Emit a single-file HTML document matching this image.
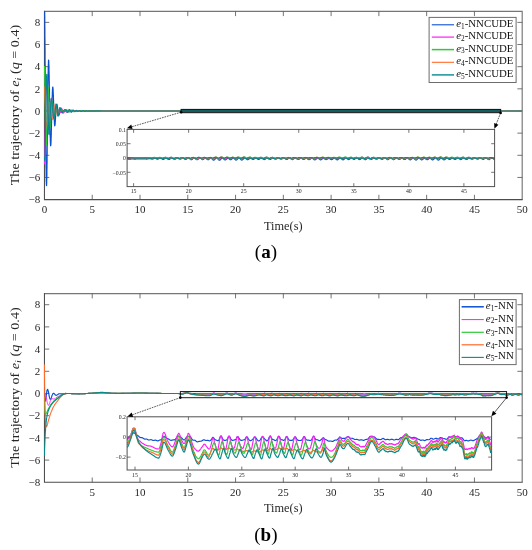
<!DOCTYPE html>
<html lang="en"><head><meta charset="utf-8"><title>Trajectory of e_i (q = 0.4)</title>
<style>
html,body{margin:0;padding:0;background:#fff;}
svg{display:block;}
text{font-family:"Liberation Serif",serif;fill:#262626;}
.tk{font-size:11px;}
.lb{font-size:12px;}
.lg{font-size:10.6px;fill:#111;}
.sm{font-size:5.8px;}
.it{font-style:italic;}
.cap{font-size:19px;fill:#000;}
.capb{font-weight:bold;}
</style></head><body>
<svg width="532" height="550" viewBox="0 0 532 550">
<rect width="532" height="550" fill="#fff"/>
<clipPath id="ca"><rect x="43.75" y="11.3" width="478.45000000000005" height="188.29999999999998"/></clipPath>
<path d="M44.45 11.3H522.2V199.6" fill="none" stroke="#767676" stroke-width="1.15"/>
<path d="M44.45 10.8V199.6H522.7" fill="none" stroke="#4c4c4c" stroke-width="1.05"/>
<path d="M92.23 199.6v-4.8M92.23 11.3v4.8M140.00 199.6v-4.8M140.00 11.3v4.8M187.78 199.6v-4.8M187.78 11.3v4.8M235.55 199.6v-4.8M235.55 11.3v4.8M283.33 199.6v-4.8M283.33 11.3v4.8M331.10 199.6v-4.8M331.10 11.3v4.8M378.88 199.6v-4.8M378.88 11.3v4.8M426.65 199.6v-4.8M426.65 11.3v4.8M474.43 199.6v-4.8M474.43 11.3v4.8M44.45 177.45h4.8M522.2 177.45h-4.8M44.45 155.29h4.8M522.2 155.29h-4.8M44.45 133.14h4.8M522.2 133.14h-4.8M44.45 110.99h4.8M522.2 110.99h-4.8M44.45 88.84h4.8M522.2 88.84h-4.8M44.45 66.68h4.8M522.2 66.68h-4.8M44.45 44.53h4.8M522.2 44.53h-4.8M44.45 22.38h4.8M522.2 22.38h-4.8" stroke="#505050" stroke-width="0.8" fill="none"/>
<g clip-path="url(#ca)">
<path d="M44.5 0.2L44.5 1.2L44.5 2.5L44.6 4.2L44.6 6.2L44.6 8.5L44.7 11L44.7 13.9L44.8 17L44.8 20.4L44.8 24.1L44.9 27.9L44.9 32L44.9 36.3L45 40.7L45 45.3L45.1 50.1L45.1 55L45.1 60L45.2 65L45.2 70.2L45.3 75.4L45.3 80.7L45.3 86L45.4 91.2L45.4 96.5L45.4 101.8L45.5 107L45.5 112.1L45.6 117.2L45.6 122.1L45.6 127L45.7 131.8L45.7 136.4L45.8 140.8L45.8 145.1L45.8 149.3L45.9 153.2L45.9 157L45.9 160.5L46 163.9L46 167L46.1 169.9L46.1 172.6L46.1 175L46.2 177.2L46.2 179.2L46.2 180.9L46.3 182.3L46.3 183.5L46.4 184.5L46.4 185.1L46.4 185.6L46.6 185.4L46.6 184.9L46.6 184.2L46.7 183.2L46.7 182L46.7 180.5L46.8 178.9L46.8 177.1L46.9 175.1L46.9 172.9L46.9 170.5L47 168L47 165.3L47.1 162.5L47.1 159.5L47.1 156.5L47.2 153.3L47.2 150L47.2 146.7L47.3 143.3L47.3 139.8L47.4 136.3L47.4 132.7L47.4 129.1L47.5 125.6L47.5 122L47.5 118.4L47.6 114.9L47.6 111.3L47.7 107.9L47.7 104.5L47.7 101.1L47.8 97.9L47.8 94.7L47.9 91.6L47.9 88.7L47.9 85.8L48 83.1L48 80.5L48 78L48.1 75.7L48.1 73.5L48.2 71.4L48.2 69.6L48.2 67.9L48.3 66.3L48.3 64.9L48.4 63.7L48.4 62.7L48.4 61.8L48.5 61.1L48.5 60.6L48.5 60.3L48.6 60.1L48.7 60.6L48.7 61.1L48.8 61.7L48.8 62.5L48.8 63.5L48.9 64.6L48.9 65.8L49 67.1L49 68.6L49 70.2L49.1 72L49.1 73.8L49.2 75.7L49.2 77.7L49.2 79.8L49.3 82L49.3 84.2L49.3 86.5L49.4 88.8L49.4 91.2L49.5 93.7L49.5 96.1L49.5 98.6L49.6 101L49.6 103.5L49.7 105.9L49.7 108.4L49.7 110.8L49.8 113.2L49.8 115.5L49.8 117.8L49.9 120.1L49.9 122.3L50 124.4L50 126.4L50 128.4L50.1 130.3L50.1 132.1L50.1 133.8L50.2 135.4L50.2 136.9L50.3 138.2L50.3 139.5L50.3 140.7L50.4 141.8L50.4 142.7L50.5 143.5L50.5 144.2L50.5 144.8L50.6 145.3L50.6 145.6L50.6 145.8L50.8 145.5L50.8 145.2L50.9 144.7L50.9 144.1L51 143.5L51 142.7L51 141.8L51.1 140.9L51.1 139.8L51.1 138.7L51.2 137.5L51.2 136.2L51.3 134.8L51.3 133.4L51.3 132L51.4 130.5L51.4 128.9L51.4 127.3L51.5 125.7L51.5 124L51.6 122.3L51.6 120.7L51.6 119L51.7 117.2L51.7 115.5L51.8 113.8L51.8 112.2L51.8 110.5L51.9 108.9L51.9 107.2L51.9 105.7L52 104.1L52 102.6L52.1 101.2L52.1 99.8L52.1 98.5L52.2 97.2L52.2 96L52.3 94.8L52.3 93.8L52.3 92.8L52.4 91.8L52.4 91L52.4 90.2L52.5 89.5L52.5 88.9L52.6 88.4L52.6 87.9L52.6 87.6L52.7 87.3L52.7 87L52.9 87.2L52.9 87.4L52.9 87.7L53 88L53 88.5L53.1 89L53.1 89.5L53.1 90.2L53.2 90.9L53.2 91.6L53.2 92.5L53.3 93.3L53.3 94.2L53.4 95.2L53.4 96.2L53.4 97.2L53.5 98.3L53.5 99.4L53.6 100.5L53.6 101.7L53.6 102.8L53.7 104L53.7 105.2L53.7 106.4L53.8 107.5L53.8 108.7L53.9 109.9L53.9 111L53.9 112.1L54 113.2L54 114.3L54 115.4L54.1 116.4L54.1 117.3L54.2 118.3L54.2 119.1L54.2 120L54.3 120.8L54.3 121.5L54.4 122.2L54.4 122.8L54.4 123.4L54.5 123.9L54.5 124.3L54.5 124.7L54.6 125L54.6 125.3L54.7 125.5L54.7 125.8L54.9 125.6L55 125.2L55 125L55 124.6L55.1 124.3L55.1 123.9L55.2 123.5L55.2 123L55.2 122.5L55.3 122L55.3 121.4L55.3 120.8L55.4 120.3L55.4 119.6L55.5 119L55.5 118.4L55.5 117.7L55.6 117L55.6 116.4L55.7 115.7L55.7 115.1L55.7 114.4L55.8 113.7L55.8 113.1L55.8 112.5L55.9 111.8L55.9 111.2L56 110.6L56 110.1L56 109.5L56.1 109L56.1 108.5L56.2 108L56.2 107.5L56.2 107.1L56.3 106.7L56.3 106.3L56.3 106L56.4 105.7L56.4 105.4L56.5 105.1L56.5 104.9L56.6 104.5L56.7 104.2L56.8 104.1L56.9 104.2L57 104.4L57.1 104.7L57.1 105.1L57.2 105.3L57.2 105.5L57.3 105.7L57.3 106L57.3 106.2L57.4 106.5L57.4 106.8L57.5 107.1L57.5 107.4L57.5 107.7L57.6 108L57.6 108.3L57.6 108.6L57.7 109L57.7 109.3L57.8 109.6L57.8 109.9L57.8 110.2L57.9 110.6L57.9 110.9L58 111.2L58 111.5L58 111.8L58.1 112.1L58.1 112.4L58.1 112.6L58.2 112.9L58.2 113.2L58.3 113.4L58.3 113.6L58.3 113.9L58.4 114.1L58.4 114.4L58.5 114.7L58.6 115L58.7 115.2L58.8 115.3L59 115.2L59.1 115L59.2 114.8L59.3 114.5L59.3 114.2L59.4 113.8L59.5 113.5L59.5 113.3L59.6 113L59.6 112.8L59.6 112.6L59.7 112.4L59.7 112.2L59.7 111.9L59.8 111.7L59.8 111.5L59.9 111.3L59.9 111.1L59.9 110.8L60 110.6L60 110.4L60.1 110.2L60.1 109.8L60.2 109.5L60.3 109.1L60.4 108.8L60.4 108.6L60.5 108.4L60.6 108.2L60.8 108L61 108.1L61.1 108.3L61.2 108.5L61.3 108.7L61.4 109L61.4 109.2L61.5 109.5L61.6 109.8L61.7 110.1L61.7 110.4L61.8 110.7L61.9 111L62 111.3L62 111.6L62.1 111.9L62.2 112.1L62.3 112.3L62.3 112.5L62.5 112.8L62.6 112.9L62.7 113L62.9 112.9L63.1 112.8L63.2 112.6L63.3 112.3L63.4 112.1L63.5 111.9L63.5 111.7L63.6 111.5L63.7 111.3L63.8 111.1L63.8 110.9L63.9 110.7L64 110.5L64.1 110.3L64.2 110.1L64.3 109.9L64.4 109.8L64.6 109.6L64.8 109.7L65 109.8L65.1 109.9L65.2 110.1L65.3 110.3L65.4 110.5L65.6 110.7L65.7 111L65.8 111.2L65.9 111.4L66 111.5L66.1 111.7L66.3 111.8L66.5 111.9L66.7 111.9L66.9 111.8L67 111.7L67.1 111.5L67.2 111.4L67.4 111.2L67.5 111.1L67.6 110.9L67.7 110.8L67.8 110.6L68 110.5L68.1 110.4L68.3 110.3L68.5 110.3L68.7 110.4L68.9 110.5L69 110.7L69.2 110.8L69.3 111L69.5 111.1L69.7 111.3L69.8 111.4L70 111.5L70.2 111.5L70.5 111.5L70.6 111.4L70.8 111.3L71 111.2L71.1 111L71.3 110.9L71.4 110.8L71.6 110.7L71.8 110.6L72 110.5L72.2 110.5L72.4 110.6L72.6 110.7L72.8 110.8L72.9 110.9L73.1 111.1L73.2 111.2L73.4 111.3L73.6 111.3L73.7 111.4L74 111.4L74.2 111.3L74.4 111.3L74.5 111.2L74.7 111.1L74.9 111L75 110.9L75.2 110.8L75.4 110.7L75.5 110.6L75.8 110.6L76 110.6L76.2 110.7L76.4 110.8L76.5 110.9L76.7 111L76.8 111.1L77 111.2L77.2 111.3L77.4 111.3L77.6 111.3L77.9 111.3L78.1 111.3L78.3 111.2L78.5 111.1L78.6 111L78.8 110.9L79 110.8L79.2 110.7L79.4 110.7L79.7 110.7L79.9 110.7L80.1 110.8L80.3 110.9L80.5 111L80.7 111.1L80.9 111.2L81.1 111.2L81.3 111.3L81.6 111.3L81.8 111.2L82 111.2L82.2 111.1L82.4 111L82.6 110.9L82.8 110.8L83 110.8L83.2 110.7L83.5 110.7L83.7 110.8L83.9 110.8L84.1 110.9L84.3 111L84.5 111L84.7 111.1L84.9 111.2L85.1 111.2L85.4 111.2L85.6 111.2L85.8 111.1L86 111.1L86.2 111L86.4 110.9L86.6 110.9L86.8 110.8L87.1 110.8L87.3 110.8L87.6 110.8L87.8 110.9L88 110.9L88.2 111L88.4 111L88.6 111.1L88.8 111.1L89 111.1L89.3 111.1L89.5 111.1L89.8 111.1L90 111L90.2 111L90.5 110.9L90.7 110.9L90.9 110.9L91.2 110.9L91.4 110.9L91.6 110.9L91.9 111L92.1 111L92.3 111L92.6 111.1L92.8 111.1L93.1 111.1L93.3 111.1L93.5 111.1L93.7 111L94 111L94.2 110.9L94.4 110.9L94.7 110.9L94.9 110.9L95.2 110.9L95.4 110.9L95.7 111L95.9 111L96.1 111L96.3 111.1L96.6 111.1L96.8 111.1L97.1 111.1L97.3 111L97.6 111L97.8 111L98 111L98.3 110.9L98.5 110.9L98.8 110.9L99 110.9L99.3 110.9L99.5 111L99.7 111L99.9 111L100.2 111L100.4 111L100.7 111L100.9 111L101.2 111L101.4 111L101.6 111L105.3 111L108.8 111L112.4 111L115.9 111L119.4 111L123 111L126.5 111L130 111L133.6 111L137.1 111L140.6 111L144.2 111L147.7 111L151.2 111L154.8 111L158.3 111L161.8 111L165.4 111L168.9 111L172.4 111L176 111L179.5 111L183 111L186.6 111L190.1 111L193.6 111L197.2 111L200.7 111L204.2 111L207.8 111L211.3 111L214.8 111L218.4 111L221.9 111L225.4 111L229 111L232.5 111L236 111L239.6 111L243.1 111L246.6 111L250.2 111L253.7 111L257.2 111L260.8 111L264.3 111L267.8 111L271.4 111L274.9 111L278.4 111L282 111L285.5 111L289 111L292.6 111L296.1 111L299.6 111L303.2 111L306.7 111L310.2 111L313.8 111L317.3 111L320.8 111L324.4 111L327.9 111L331.4 111L335 111L338.5 111L342 111L345.6 111L349.1 111L352.6 111L356.2 111L359.7 111L363.2 111L366.8 111L370.3 111L373.8 111L377.3 111L380.9 111L384.4 111L387.9 111L391.5 111L395 111L398.5 111L402.1 111L405.6 111L409.1 111L412.7 111L416.2 111L419.7 111L423.3 111L426.8 111L430.3 111L433.9 111L437.4 111L440.9 111L444.5 111L448 111L451.5 111L455.1 111L458.6 111L462.1 111L465.7 111L469.2 111L472.7 111L476.3 111L479.8 111L483.3 111L486.9 111L490.4 111L493.9 111L497.5 111L501 111L504.5 111L508.1 111L511.6 111L515.1 111L518.7 111L522.2 111" fill="none" stroke="#0a50d2" stroke-width="1.15" stroke-linejoin="round" />
<path d="M44.5 164.2L44.5 163.5L44.5 162.7L44.6 161.8L44.6 160.7L44.6 159.6L44.7 158.3L44.7 157L44.8 155.6L44.8 154L44.8 152.4L44.9 150.8L44.9 149L44.9 147.2L45 145.4L45 143.5L45.1 141.6L45.1 139.6L45.1 137.6L45.2 135.6L45.2 133.6L45.3 131.6L45.3 129.6L45.3 127.5L45.4 125.5L45.4 123.5L45.4 121.5L45.5 119.5L45.5 117.6L45.6 115.7L45.6 113.8L45.6 112L45.7 110.2L45.7 108.4L45.8 106.7L45.8 105L45.8 103.4L45.9 101.9L45.9 100.4L45.9 99L46 97.6L46 96.3L46.1 95.1L46.1 93.9L46.1 92.8L46.2 91.7L46.2 90.8L46.2 89.8L46.3 89L46.3 88.2L46.4 87.5L46.4 86.9L46.4 86.3L46.5 85.8L46.5 85.3L46.6 85L46.6 84.7L46.6 84.4L46.7 84.1L46.9 84.2L46.9 84.6L47 84.9L47 85.2L47.1 85.6L47.1 86L47.1 86.5L47.2 87L47.2 87.6L47.2 88.2L47.3 88.8L47.3 89.5L47.4 90.2L47.4 91L47.4 91.8L47.5 92.6L47.5 93.4L47.5 94.3L47.6 95.2L47.6 96.1L47.7 97.1L47.7 98L47.7 99L47.8 100L47.8 101L47.9 102.1L47.9 103.1L47.9 104.1L48 105.2L48 106.2L48 107.3L48.1 108.3L48.1 109.3L48.2 110.4L48.2 111.4L48.2 112.4L48.3 113.4L48.3 114.4L48.4 115.4L48.4 116.4L48.4 117.3L48.5 118.2L48.5 119.1L48.5 119.9L48.6 120.8L48.6 121.6L48.7 122.4L48.7 123.1L48.7 123.8L48.8 124.5L48.8 125.1L48.8 125.7L48.9 126.2L48.9 126.7L49 127.2L49 127.6L49 127.9L49.1 128.2L49.1 128.5L49.2 128.7L49.2 129L49.4 128.9L49.5 128.5L49.5 128.3L49.6 128L49.6 127.6L49.7 127.2L49.7 126.8L49.7 126.3L49.8 125.8L49.8 125.2L49.8 124.6L49.9 124L49.9 123.4L50 122.7L50 122L50 121.2L50.1 120.5L50.1 119.7L50.1 118.9L50.2 118L50.2 117.2L50.3 116.4L50.3 115.5L50.3 114.7L50.4 113.8L50.4 112.9L50.5 112.1L50.5 111.2L50.5 110.4L50.6 109.6L50.6 108.7L50.6 107.9L50.7 107.1L50.7 106.4L50.8 105.6L50.8 104.9L50.8 104.2L50.9 103.6L50.9 102.9L51 102.3L51 101.8L51 101.3L51.1 100.8L51.1 100.3L51.1 99.9L51.2 99.5L51.2 99.2L51.3 98.9L51.3 98.7L51.4 98.3L51.4 98.1L51.6 98.3L51.7 98.6L51.7 98.8L51.8 99.1L51.8 99.3L51.8 99.7L51.9 100L51.9 100.4L51.9 100.8L52 101.3L52 101.8L52.1 102.3L52.1 102.8L52.1 103.3L52.2 103.9L52.2 104.4L52.3 105L52.3 105.6L52.3 106.2L52.4 106.8L52.4 107.4L52.4 108L52.5 108.6L52.5 109.2L52.6 109.8L52.6 110.4L52.6 111L52.7 111.6L52.7 112.1L52.7 112.7L52.8 113.2L52.8 113.7L52.9 114.2L52.9 114.7L52.9 115.1L53 115.5L53 115.9L53.1 116.3L53.1 116.6L53.1 116.9L53.2 117.2L53.2 117.5L53.2 117.7L53.3 118.1L53.4 118.3L53.5 118.4L53.7 118.2L53.7 118L53.8 117.6L53.9 117.4L53.9 117.2L53.9 117L54 116.7L54 116.4L54 116.1L54.1 115.8L54.1 115.5L54.2 115.2L54.2 114.9L54.2 114.5L54.3 114.2L54.3 113.9L54.4 113.5L54.4 113.2L54.4 112.9L54.5 112.5L54.5 112.2L54.5 111.9L54.6 111.5L54.6 111.2L54.7 110.9L54.7 110.6L54.7 110.4L54.8 110.1L54.8 109.9L54.9 109.6L54.9 109.4L54.9 109.2L55 108.8L55.1 108.5L55.2 108.3L55.2 108.1L55.3 108L55.5 108L55.7 108.2L55.7 108.4L55.8 108.7L55.9 108.9L56 109.2L56 109.5L56.1 109.8L56.2 110L56.3 110.3L56.3 110.6L56.4 110.8L56.5 111L56.6 111.2L56.7 111.4L56.8 111.6L57 111.7L57.1 111.6L57.3 111.4L57.4 111.2L57.5 111L57.6 110.8L57.7 110.6L57.8 110.3L58 110.2L58.1 110L58.3 110L58.4 110.1L58.6 110.2L58.7 110.4L58.8 110.6L58.8 110.8L58.9 111L59 111.2L59.1 111.4L59.1 111.6L59.2 111.8L59.3 112.1L59.4 112.3L59.4 112.4L59.6 112.7L59.7 112.9L59.8 113L60.1 112.9L60.2 112.8L60.3 112.5L60.4 112.3L60.4 112.1L60.5 111.9L60.6 111.6L60.7 111.4L60.7 111.1L60.8 110.8L60.9 110.5L61 110.2L61 110L61.1 109.7L61.2 109.5L61.3 109.3L61.4 109.1L61.5 108.9L61.6 108.8L61.9 108.8L62 109L62.1 109.2L62.2 109.4L62.2 109.6L62.3 109.8L62.4 110.1L62.5 110.3L62.5 110.6L62.6 110.9L62.7 111.2L62.8 111.4L62.8 111.7L62.9 111.9L63 112.2L63.1 112.4L63.2 112.5L63.3 112.7L63.4 112.9L63.6 112.9L63.7 112.8L63.8 112.7L64 112.5L64 112.3L64.1 112.1L64.2 111.9L64.3 111.6L64.3 111.4L64.4 111.2L64.5 111L64.6 110.7L64.6 110.5L64.7 110.3L64.8 110.1L64.9 110L65 109.8L65.1 109.6L65.3 109.5L65.5 109.6L65.6 109.7L65.8 109.9L65.9 110.1L66 110.4L66.1 110.6L66.1 110.7L66.2 110.9L66.3 111.1L66.4 111.3L66.5 111.5L66.6 111.7L66.7 111.9L66.9 112L67.1 112.1L67.2 112L67.4 111.9L67.5 111.7L67.6 111.5L67.7 111.3L67.9 111.1L68 110.9L68.1 110.7L68.2 110.6L68.3 110.4L68.5 110.2L68.6 110.2L68.9 110.2L69 110.3L69.2 110.4L69.3 110.6L69.4 110.7L69.5 110.9L69.7 111.1L69.8 111.2L69.9 111.4L70 111.5L70.2 111.6L70.3 111.7L70.6 111.7L70.7 111.6L70.9 111.5L71 111.4L71.1 111.2L71.2 111.1L71.3 110.9L71.5 110.8L71.6 110.6L71.7 110.5L71.9 110.4L72.1 110.3L72.3 110.3L72.5 110.4L72.6 110.6L72.8 110.7L72.9 110.9L73 111L73.1 111.1L73.2 111.3L73.4 111.4L73.6 111.5L73.7 111.6L74 111.6L74.2 111.5L74.4 111.4L74.5 111.2L74.7 111.1L74.8 110.9L75 110.8L75.1 110.6L75.3 110.5L75.5 110.5L75.7 110.5L75.9 110.5L76.1 110.6L76.2 110.8L76.4 110.9L76.5 111L76.7 111.2L76.8 111.3L77 111.4L77.2 111.4L77.5 111.4L77.7 111.3L77.8 111.3L78 111.1L78.1 111L78.3 110.9L78.5 110.8L78.6 110.7L78.8 110.6L79 110.6L79.3 110.6L79.4 110.7L79.6 110.8L79.8 110.9L79.9 111L80.1 111.1L80.3 111.2L80.5 111.3L80.7 111.3L80.9 111.3L81.1 111.2L81.3 111.2L81.5 111.1L81.7 111L81.9 110.9L82.1 110.8L82.3 110.7L82.5 110.7L82.7 110.7L82.9 110.8L83.1 110.9L83.3 111L83.5 111.1L83.7 111.1L83.9 111.2L84.1 111.2L84.4 111.2L84.6 111.2L84.8 111.1L85 111L85.2 110.9L85.4 110.9L85.6 110.8L85.8 110.8L86.1 110.8L86.3 110.8L86.5 110.9L86.7 110.9L86.9 111L87.1 111.1L87.2 111.1L87.5 111.2L87.7 111.2L88 111.1L88.2 111.1L88.4 111L88.6 111L88.8 110.9L89 110.9L89.2 110.8L89.5 110.8L89.7 110.9L90 110.9L90.2 111L90.4 111L90.7 111.1L90.9 111.1L91.1 111.1L91.4 111.1L91.6 111.1L91.8 111L92.1 111L92.3 110.9L92.5 110.9L92.8 110.9L93 110.9L93.3 110.9L93.5 111L93.7 111L93.9 111L94.2 111.1L94.4 111.1L94.7 111.1L94.9 111.1L95.1 111L95.4 111L95.6 111L95.8 110.9L96 110.9L96.3 110.9L96.5 110.9L96.8 110.9L97 111L97.2 111L97.5 111L97.7 111.1L98 111.1L98.2 111.1L98.5 111L98.7 111L98.9 111L99.1 111L99.4 110.9L99.6 110.9L99.9 110.9L100.1 110.9L100.4 111L100.6 111L100.8 111L101.1 111L101.3 111L101.6 111L105.3 111L108.8 111L112.4 111L115.9 111L119.4 111L123 111L126.5 111L130 111L133.6 111L137.1 111L140.6 111L144.2 111L147.7 111L151.2 111L154.8 111L158.3 111L161.8 111L165.4 111L168.9 111L172.4 111L176 111L179.5 111L183 111L186.6 111L190.1 111L193.6 111L197.2 111L200.7 111L204.2 111L207.8 111L211.3 111L214.8 111L218.4 111L221.9 111L225.4 111L229 111L232.5 111L236 111L239.6 111L243.1 111L246.6 111L250.2 111L253.7 111L257.2 111L260.8 111L264.3 111L267.8 111L271.4 111L274.9 111L278.4 111L282 111L285.5 111L289 111L292.6 111L296.1 111L299.6 111L303.2 111L306.7 111L310.2 111L313.8 111L317.3 111L320.8 111L324.4 111L327.9 111L331.4 111L335 111L338.5 111L342 111L345.6 111L349.1 111L352.6 111L356.2 111L359.7 111L363.2 111L366.8 111L370.3 111L373.8 111L377.3 111L380.9 111L384.4 111L387.9 111L391.5 111L395 111L398.5 111L402.1 111L405.6 111L409.1 111L412.7 111L416.2 111L419.7 111L423.3 111L426.8 111L430.3 111L433.9 111L437.4 111L440.9 111L444.5 111L448 111L451.5 111L455.1 111L458.6 111L462.1 111L465.7 111L469.2 111L472.7 111L476.3 111L479.8 111L483.3 111L486.9 111L490.4 111L493.9 111L497.5 111L501 111L504.5 111L508.1 111L511.6 111L515.1 111L518.7 111L522.2 111" fill="none" stroke="#ff1cf6" stroke-width="1.1" stroke-linejoin="round" />
<path d="M44.5 65.9L44.5 67L44.5 68.1L44.6 69.5L44.6 71L44.6 72.6L44.7 74.3L44.7 76.1L44.8 78.1L44.8 80.1L44.8 82.3L44.9 84.5L44.9 86.8L44.9 89.2L45 91.6L45 94L45.1 96.5L45.1 99L45.1 101.6L45.2 104.1L45.2 106.6L45.3 109.1L45.3 111.6L45.3 114.1L45.4 116.5L45.4 118.9L45.4 121.2L45.5 123.4L45.5 125.6L45.6 127.7L45.6 129.7L45.6 131.6L45.7 133.4L45.7 135.1L45.8 136.6L45.8 138.1L45.8 139.4L45.9 140.7L45.9 141.8L45.9 142.7L46 143.6L46 144.3L46.1 144.8L46.1 145.3L46.1 145.6L46.2 145.7L46.3 145.4L46.3 145L46.4 144.6L46.4 144L46.4 143.2L46.5 142.4L46.5 141.5L46.6 140.4L46.6 139.3L46.6 138L46.7 136.7L46.7 135.3L46.7 133.9L46.8 132.3L46.8 130.7L46.9 129.1L46.9 127.4L46.9 125.6L47 123.8L47 122.1L47.1 120.2L47.1 118.4L47.1 116.6L47.2 114.8L47.2 113L47.2 111.2L47.3 109.4L47.3 107.6L47.4 105.9L47.4 104.3L47.4 102.7L47.5 101.1L47.5 99.6L47.5 98.2L47.6 96.8L47.6 95.5L47.7 94.3L47.7 93.2L47.7 92.1L47.8 91.2L47.8 90.3L47.9 89.5L47.9 88.8L47.9 88.2L48 87.7L48 87.3L48 87L48.1 86.8L48.2 86.9L48.3 87.2L48.3 87.5L48.4 88L48.4 88.5L48.4 89.1L48.5 89.7L48.5 90.5L48.5 91.3L48.6 92.1L48.6 93.1L48.7 94.1L48.7 95.1L48.7 96.2L48.8 97.3L48.8 98.4L48.8 99.6L48.9 100.8L48.9 102.1L49 103.3L49 104.6L49 105.9L49.1 107.1L49.1 108.4L49.2 109.6L49.2 110.9L49.2 112.1L49.3 113.3L49.3 114.5L49.3 115.6L49.4 116.7L49.4 117.8L49.5 118.8L49.5 119.8L49.5 120.7L49.6 121.6L49.6 122.4L49.7 123.2L49.7 123.9L49.7 124.5L49.8 125.1L49.8 125.6L49.8 126L49.9 126.4L49.9 126.8L50 127L50 127.3L50.2 127.2L50.3 126.7L50.3 126.4L50.3 126L50.4 125.6L50.4 125.2L50.5 124.6L50.5 124.1L50.5 123.5L50.6 122.8L50.6 122.2L50.6 121.4L50.7 120.7L50.7 119.9L50.8 119.2L50.8 118.4L50.8 117.5L50.9 116.7L50.9 115.9L51 115L51 114.2L51 113.3L51.1 112.5L51.1 111.7L51.1 110.8L51.2 110L51.2 109.3L51.3 108.5L51.3 107.7L51.3 107L51.4 106.3L51.4 105.7L51.4 105L51.5 104.4L51.5 103.9L51.6 103.4L51.6 102.9L51.6 102.4L51.7 102L51.7 101.7L51.8 101.4L51.8 101.1L51.8 100.9L51.9 100.5L52 100.4L52.1 100.6L52.2 100.9L52.3 101.2L52.3 101.4L52.3 101.7L52.4 102L52.4 102.4L52.4 102.8L52.5 103.2L52.5 103.6L52.6 104L52.6 104.5L52.6 105L52.7 105.5L52.7 106L52.7 106.5L52.8 107.1L52.8 107.6L52.9 108.1L52.9 108.7L52.9 109.2L53 109.8L53 110.3L53.1 110.8L53.1 111.3L53.1 111.8L53.2 112.3L53.2 112.8L53.2 113.3L53.3 113.7L53.3 114.1L53.4 114.5L53.4 114.9L53.4 115.3L53.5 115.6L53.5 115.9L53.6 116.2L53.6 116.4L53.6 116.7L53.7 117L53.8 117.3L53.9 117.5L54 117.4L54.1 117.2L54.2 116.9L54.3 116.5L54.3 116.3L54.4 116.1L54.4 115.8L54.4 115.5L54.5 115.3L54.5 115L54.5 114.7L54.6 114.4L54.6 114.1L54.7 113.8L54.7 113.4L54.7 113.1L54.8 112.8L54.8 112.5L54.9 112.1L54.9 111.8L54.9 111.5L55 111.2L55 110.9L55 110.6L55.1 110.3L55.1 110L55.2 109.7L55.2 109.5L55.2 109.2L55.3 109L55.3 108.8L55.3 108.6L55.4 108.2L55.5 107.9L55.6 107.6L55.7 107.5L55.8 107.3L56 107.4L56.1 107.6L56.2 107.8L56.2 108L56.3 108.3L56.4 108.6L56.5 109L56.5 109.3L56.6 109.7L56.7 110L56.8 110.4L56.8 110.7L56.9 111.1L57 111.4L57.1 111.7L57.1 111.9L57.2 112.2L57.3 112.3L57.4 112.6L57.5 112.7L57.7 112.8L57.9 112.7L58 112.5L58.1 112.3L58.3 112.1L58.4 111.9L58.4 111.7L58.5 111.5L58.6 111.4L58.7 111.1L58.8 110.9L58.9 110.7L59.1 110.6L59.2 110.4L59.4 110.3L59.6 110.4L59.8 110.5L60 110.6L60.1 110.7L60.3 110.8L60.4 110.9L60.6 111L60.9 111.1L61.1 111.1L61.3 111L61.5 110.9L61.7 110.8L61.9 110.7L62.1 110.7L62.3 110.7L62.5 110.8L62.7 110.9L62.8 111L63 111.2L63.1 111.3L63.3 111.4L63.4 111.5L63.6 111.6L63.9 111.6L64.1 111.5L64.2 111.4L64.4 111.3L64.5 111.1L64.6 111L64.7 110.8L64.8 110.7L64.9 110.5L65.1 110.4L65.3 110.3L65.4 110.2L65.7 110.2L65.9 110.3L66.1 110.4L66.2 110.6L66.3 110.7L66.4 110.9L66.5 111.1L66.6 111.2L66.7 111.4L66.9 111.5L67 111.7L67.1 111.8L67.3 111.9L67.6 111.9L67.7 111.8L67.9 111.6L68 111.5L68.1 111.3L68.2 111.2L68.4 111L68.5 110.8L68.6 110.6L68.7 110.5L68.8 110.4L69 110.2L69.1 110.1L69.3 110.1L69.5 110.2L69.7 110.3L69.8 110.5L70 110.6L70.1 110.8L70.2 110.9L70.3 111.1L70.4 111.3L70.5 111.4L70.6 111.5L70.8 111.7L71 111.8L71.2 111.8L71.4 111.7L71.5 111.6L71.7 111.5L71.8 111.4L71.9 111.2L72 111.1L72.1 110.9L72.3 110.8L72.4 110.6L72.5 110.5L72.7 110.4L72.9 110.3L73.1 110.3L73.3 110.4L73.5 110.5L73.6 110.6L73.8 110.8L73.9 110.9L74 111.1L74.1 111.2L74.3 111.3L74.4 111.5L74.6 111.6L74.8 111.6L75 111.6L75.2 111.5L75.4 111.4L75.5 111.3L75.7 111.1L75.8 111L76 110.8L76.1 110.7L76.3 110.6L76.5 110.5L76.7 110.4L76.9 110.5L77.1 110.6L77.3 110.7L77.4 110.8L77.6 110.9L77.7 111.1L77.9 111.2L78 111.3L78.2 111.4L78.4 111.4L78.7 111.4L78.9 111.4L79.1 111.3L79.2 111.2L79.4 111.1L79.5 111L79.7 110.9L79.8 110.8L80 110.7L80.2 110.6L80.4 110.6L80.7 110.6L80.9 110.7L81.1 110.8L81.2 110.9L81.4 111L81.5 111.1L81.7 111.2L81.9 111.3L82.1 111.3L82.4 111.3L82.6 111.2L82.8 111.2L83 111.1L83.2 111L83.3 110.9L83.5 110.8L83.7 110.7L84 110.7L84.2 110.7L84.5 110.8L84.6 110.9L84.8 110.9L85 111L85.2 111.1L85.4 111.2L85.6 111.2L85.9 111.2L86.1 111.2L86.3 111.1L86.5 111.1L86.7 111L86.9 110.9L87.1 110.9L87.3 110.8L87.6 110.8L87.8 110.8L88 110.8L88.3 110.9L88.5 111L88.7 111L88.9 111.1L89.1 111.1L89.3 111.1L89.6 111.2L89.8 111.1L90 111.1L90.3 111L90.5 111L90.7 110.9L90.9 110.9L91.1 110.9L91.4 110.9L91.6 110.9L91.9 110.9L92.1 111L92.3 111L92.6 111.1L92.8 111.1L93 111.1L93.3 111.1L93.5 111.1L93.7 111L94 111L94.2 111L94.4 110.9L94.7 110.9L94.9 110.9L95.2 110.9L95.4 110.9L95.7 111L95.9 111L96.1 111L96.3 111.1L96.6 111.1L96.8 111.1L97.1 111.1L97.3 111L97.5 111L97.8 111L98 110.9L98.2 110.9L98.5 110.9L98.8 110.9L99 110.9L99.2 111L99.4 111L99.7 111L99.9 111L100.1 111.1L100.4 111.1L100.7 111L100.9 111L101.1 111L101.4 111L101.6 111L105.3 111L108.8 111L112.4 111L115.9 111L119.4 111L123 111L126.5 111L130 111L133.6 111L137.1 111L140.6 111L144.2 111L147.7 111L151.2 111L154.8 111L158.3 111L161.8 111L165.4 111L168.9 111L172.4 111L176 111L179.5 111L183 111L186.6 111L190.1 111L193.6 111L197.2 111L200.7 111L204.2 111L207.8 111L211.3 111L214.8 111L218.4 111L221.9 111L225.4 111L229 111L232.5 111L236 111L239.6 111L243.1 111L246.6 111L250.2 111L253.7 111L257.2 111L260.8 111L264.3 111L267.8 111L271.4 111L274.9 111L278.4 111L282 111L285.5 111L289 111L292.6 111L296.1 111L299.6 111L303.2 111L306.7 111L310.2 111L313.8 111L317.3 111L320.8 111L324.4 111L327.9 111L331.4 111L335 111L338.5 111L342 111L345.6 111L349.1 111L352.6 111L356.2 111L359.7 111L363.2 111L366.8 111L370.3 111L373.8 111L377.3 111L380.9 111L384.4 111L387.9 111L391.5 111L395 111L398.5 111L402.1 111L405.6 111L409.1 111L412.7 111L416.2 111L419.7 111L423.3 111L426.8 111L430.3 111L433.9 111L437.4 111L440.9 111L444.5 111L448 111L451.5 111L455.1 111L458.6 111L462.1 111L465.7 111L469.2 111L472.7 111L476.3 111L479.8 111L483.3 111L486.9 111L490.4 111L493.9 111L497.5 111L501 111L504.5 111L508.1 111L511.6 111L515.1 111L518.7 111L522.2 111" fill="none" stroke="#30c838" stroke-width="1.2" stroke-linejoin="round" />
<path d="M44.5 86.7L44.5 87.2L44.5 87.7L44.6 88.4L44.6 89L44.6 89.7L44.7 90.5L44.7 91.2L44.8 92.1L44.8 92.9L44.8 93.8L44.9 94.7L44.9 95.6L44.9 96.5L45 97.5L45 98.4L45.1 99.4L45.1 100.4L45.1 101.4L45.2 102.4L45.2 103.4L45.3 104.5L45.3 105.5L45.3 106.5L45.4 107.5L45.4 108.4L45.4 109.4L45.5 110.4L45.5 111.3L45.6 112.2L45.6 113.2L45.6 114L45.7 114.9L45.7 115.7L45.8 116.5L45.8 117.3L45.8 118.1L45.9 118.8L45.9 119.5L45.9 120.2L46 120.8L46 121.4L46.1 122L46.1 122.5L46.1 123L46.2 123.4L46.2 123.9L46.2 124.2L46.3 124.6L46.3 124.9L46.4 125.2L46.4 125.5L46.4 125.7L46.5 126L46.6 126.2L46.8 126L46.9 125.8L47 125.4L47 125.2L47.1 125L47.1 124.7L47.1 124.4L47.2 124.1L47.2 123.8L47.2 123.5L47.3 123.2L47.3 122.8L47.4 122.4L47.4 122.1L47.4 121.7L47.5 121.3L47.5 120.9L47.5 120.5L47.6 120L47.6 119.6L47.7 119.2L47.7 118.7L47.7 118.3L47.8 117.9L47.8 117.4L47.9 117L47.9 116.6L47.9 116.1L48 115.7L48 115.2L48 114.8L48.1 114.4L48.1 113.9L48.2 113.5L48.2 113.1L48.2 112.7L48.3 112.3L48.3 111.9L48.4 111.5L48.4 111.1L48.4 110.7L48.5 110.3L48.5 109.9L48.5 109.6L48.6 109.2L48.6 108.8L48.7 108.5L48.7 108.2L48.7 107.8L48.8 107.5L48.8 107.2L48.8 106.9L48.9 106.6L48.9 106.3L49 106L49 105.7L49 105.5L49.1 105.2L49.1 105L49.2 104.7L49.2 104.5L49.2 104.3L49.3 104.1L49.3 103.7L49.4 103.3L49.5 103L49.6 102.8L49.7 102.5L49.7 102.4L49.8 102.2L50 102.1L50.2 102.3L50.3 102.5L50.3 102.7L50.4 103L50.5 103.3L50.6 103.7L50.6 103.9L50.6 104.1L50.7 104.3L50.7 104.6L50.8 104.9L50.8 105.1L50.8 105.4L50.9 105.7L50.9 106L51 106.3L51 106.6L51 107L51.1 107.3L51.1 107.6L51.1 108L51.2 108.4L51.2 108.7L51.3 109.1L51.3 109.5L51.3 109.9L51.4 110.2L51.4 110.6L51.4 111L51.5 111.4L51.5 111.8L51.6 112.2L51.6 112.6L51.6 113L51.7 113.4L51.7 113.7L51.8 114.1L51.8 114.5L51.8 114.8L51.9 115.2L51.9 115.6L51.9 115.9L52 116.2L52 116.5L52.1 116.9L52.1 117.2L52.1 117.4L52.2 117.7L52.2 118L52.3 118.2L52.3 118.4L52.3 118.6L52.4 119L52.5 119.3L52.6 119.6L52.7 119.8L52.9 119.7L53 119.5L53.1 119.2L53.1 118.8L53.2 118.4L53.2 118.2L53.3 118L53.3 117.7L53.4 117.4L53.4 117.1L53.4 116.8L53.5 116.5L53.5 116.2L53.6 115.8L53.6 115.5L53.6 115.1L53.7 114.8L53.7 114.4L53.7 114L53.8 113.6L53.8 113.2L53.9 112.8L53.9 112.4L53.9 112L54 111.6L54 111.2L54 110.8L54.1 110.4L54.1 110L54.2 109.6L54.2 109.3L54.2 108.9L54.3 108.5L54.3 108.2L54.4 107.8L54.4 107.5L54.4 107.1L54.5 106.8L54.5 106.5L54.5 106.2L54.6 105.9L54.6 105.7L54.7 105.4L54.7 105.2L54.7 105L54.8 104.8L54.9 104.4L54.9 104.1L55 103.9L55.1 103.7L55.3 103.8L55.4 104L55.5 104.3L55.6 104.6L55.7 105L55.7 105.2L55.7 105.4L55.8 105.6L55.8 105.9L55.8 106.1L55.9 106.4L55.9 106.6L56 106.9L56 107.2L56 107.5L56.1 107.8L56.1 108.1L56.2 108.4L56.2 108.7L56.2 109L56.3 109.3L56.3 109.6L56.3 109.9L56.4 110.3L56.4 110.6L56.5 110.9L56.5 111.2L56.5 111.5L56.6 111.8L56.6 112L56.7 112.3L56.7 112.6L56.7 112.8L56.8 113.1L56.8 113.3L56.8 113.6L56.9 113.8L56.9 114L57 114.2L57 114.6L57.1 114.9L57.2 115.2L57.3 115.4L57.4 115.6L57.5 115.7L57.7 115.6L57.8 115.4L57.9 115.3L58 115L58 114.8L58.1 114.5L58.2 114.2L58.3 113.9L58.3 113.5L58.4 113.1L58.5 112.8L58.6 112.4L58.6 112L58.7 111.7L58.8 111.3L58.9 111L58.9 110.6L59 110.3L59.1 110.1L59.2 109.8L59.3 109.6L59.3 109.4L59.4 109.2L59.5 109L59.6 108.9L59.8 108.8L60 108.9L60.2 109.1L60.3 109.3L60.4 109.5L60.5 109.7L60.6 109.9L60.7 110.2L60.9 110.4L61 110.6L61.1 110.8L61.2 110.9L61.3 111.1L61.5 111.2L61.7 111.3L61.9 111.3L62.1 111.2L62.3 111.1L62.5 111L62.6 110.9L62.8 110.9L63 110.8L63.3 110.9L63.5 111L63.6 111.1L63.8 111.2L63.9 111.4L64.1 111.6L64.2 111.7L64.4 111.9L64.5 112L64.7 112L65 112L65.2 111.9L65.3 111.8L65.4 111.6L65.6 111.4L65.7 111.3L65.8 111.1L65.9 110.8L66 110.6L66.1 110.4L66.2 110.2L66.4 110.1L66.5 109.9L66.6 109.8L66.7 109.6L66.9 109.5L67.2 109.6L67.3 109.7L67.5 109.9L67.6 110L67.7 110.2L67.8 110.4L67.9 110.6L68 110.8L68.2 111.1L68.3 111.3L68.4 111.5L68.5 111.7L68.6 111.9L68.7 112L68.9 112.2L69 112.3L69.3 112.3L69.5 112.2L69.6 112.1L69.7 112L69.8 111.8L70 111.7L70.1 111.5L70.2 111.3L70.3 111.1L70.4 110.9L70.5 110.7L70.6 110.5L70.8 110.4L70.9 110.3L71 110.1L71.2 110L71.4 110L71.6 110L71.8 110.1L71.9 110.3L72.1 110.4L72.2 110.5L72.3 110.7L72.4 110.8L72.5 111L72.6 111.1L72.8 111.3L72.9 111.4L73.1 111.5L73.3 111.6L73.5 111.6L73.7 111.6L73.9 111.5L74.1 111.4L74.2 111.3L74.4 111.1L74.5 111L74.7 110.9L74.9 110.8L75 110.7L75.2 110.6L75.5 110.6L75.7 110.7L75.9 110.7L76.1 110.8L76.3 110.9L76.5 111L76.7 111.1L76.8 111.2L77 111.2L77.3 111.3L77.5 111.3L77.7 111.2L77.9 111.1L78.1 111L78.3 110.9L78.5 110.9L78.7 110.8L78.9 110.7L79.1 110.7L79.4 110.7L79.6 110.7L79.8 110.8L80 110.9L80.2 111L80.4 111.1L80.6 111.2L80.7 111.2L80.9 111.3L81.2 111.3L81.4 111.3L81.6 111.3L81.8 111.2L82 111.1L82.2 111L82.4 110.9L82.6 110.8L82.8 110.8L83 110.7L83.2 110.7L83.5 110.7L83.7 110.7L83.9 110.8L84.1 110.9L84.3 110.9L84.5 111L84.6 111.1L84.8 111.2L85.1 111.2L85.3 111.2L85.6 111.2L85.8 111.2L86 111.1L86.2 111.1L86.4 111L86.6 110.9L86.7 110.9L87 110.8L87.2 110.8L87.5 110.8L87.7 110.8L87.9 110.9L88.2 110.9L88.4 111L88.5 111L88.8 111.1L89 111.1L89.2 111.1L89.5 111.1L89.7 111.1L90 111.1L90.2 111L90.4 111L90.7 110.9L90.9 110.9L91.1 110.9L91.4 110.9L91.6 110.9L91.9 110.9L92.1 110.9L92.3 111L92.6 111L92.8 111.1L93 111.1L93.3 111.1L93.5 111.1L93.7 111.1L94 111L94.2 111L94.4 111L94.7 110.9L94.9 110.9L95.1 110.9L95.4 110.9L95.7 110.9L95.9 110.9L96.1 111L96.3 111L96.6 111L96.8 111L97 111.1L97.3 111.1L97.6 111.1L97.8 111.1L98 111L98.3 111L98.5 111L98.7 111L98.9 110.9L99.2 110.9L99.4 110.9L99.7 110.9L99.9 110.9L100.2 111L100.4 111L100.6 111L100.9 111L101.1 111L101.4 111L101.6 111L105.3 111L108.8 111L112.4 111L115.9 111L119.4 111L123 111L126.5 111L130 111L133.6 111L137.1 111L140.6 111L144.2 111L147.7 111L151.2 111L154.8 111L158.3 111L161.8 111L165.4 111L168.9 111L172.4 111L176 111L179.5 111L183 111L186.6 111L190.1 111L193.6 111L197.2 111L200.7 111L204.2 111L207.8 111L211.3 111L214.8 111L218.4 111L221.9 111L225.4 111L229 111L232.5 111L236 111L239.6 111L243.1 111L246.6 111L250.2 111L253.7 111L257.2 111L260.8 111L264.3 111L267.8 111L271.4 111L274.9 111L278.4 111L282 111L285.5 111L289 111L292.6 111L296.1 111L299.6 111L303.2 111L306.7 111L310.2 111L313.8 111L317.3 111L320.8 111L324.4 111L327.9 111L331.4 111L335 111L338.5 111L342 111L345.6 111L349.1 111L352.6 111L356.2 111L359.7 111L363.2 111L366.8 111L370.3 111L373.8 111L377.3 111L380.9 111L384.4 111L387.9 111L391.5 111L395 111L398.5 111L402.1 111L405.6 111L409.1 111L412.7 111L416.2 111L419.7 111L423.3 111L426.8 111L430.3 111L433.9 111L437.4 111L440.9 111L444.5 111L448 111L451.5 111L455.1 111L458.6 111L462.1 111L465.7 111L469.2 111L472.7 111L476.3 111L479.8 111L483.3 111L486.9 111L490.4 111L493.9 111L497.5 111L501 111L504.5 111L508.1 111L511.6 111L515.1 111L518.7 111L522.2 111" fill="none" stroke="#ff6a28" stroke-width="1.0" stroke-linejoin="round" />
<path d="M44.5 156.7L44.5 157.7L44.5 158.5L44.6 159.2L44.6 159.7L44.6 160.1L44.7 160.3L44.8 160.2L44.8 159.8L44.9 159.4L44.9 158.7L44.9 158L45 157.1L45 156L45.1 154.9L45.1 153.6L45.1 152.2L45.2 150.7L45.2 149L45.3 147.3L45.3 145.5L45.3 143.6L45.4 141.6L45.4 139.5L45.4 137.4L45.5 135.2L45.5 132.9L45.6 130.6L45.6 128.3L45.6 125.9L45.7 123.5L45.7 121.1L45.8 118.7L45.8 116.3L45.8 113.8L45.9 111.4L45.9 109.1L45.9 106.7L46 104.4L46 102.1L46.1 99.9L46.1 97.8L46.1 95.7L46.2 93.7L46.2 91.7L46.2 89.9L46.3 88.1L46.3 86.4L46.4 84.8L46.4 83.3L46.4 82L46.5 80.7L46.5 79.5L46.6 78.5L46.6 77.5L46.6 76.7L46.7 76L46.7 75.4L46.7 74.9L46.8 74.6L46.8 74.3L47 74.5L47 74.8L47.1 75.3L47.1 75.8L47.1 76.5L47.2 77.2L47.2 78L47.2 79L47.3 80L47.3 81.1L47.4 82.2L47.4 83.5L47.4 84.8L47.5 86.1L47.5 87.6L47.5 89L47.6 90.6L47.6 92.1L47.7 93.7L47.7 95.3L47.7 97L47.8 98.6L47.8 100.3L47.9 102L47.9 103.6L47.9 105.3L48 107L48 108.6L48 110.2L48.1 111.8L48.1 113.4L48.2 115L48.2 116.5L48.2 117.9L48.3 119.3L48.3 120.7L48.4 122L48.4 123.3L48.4 124.5L48.5 125.6L48.5 126.7L48.5 127.7L48.6 128.7L48.6 129.6L48.7 130.4L48.7 131.1L48.7 131.8L48.8 132.4L48.8 132.9L48.8 133.4L48.9 133.8L48.9 134.1L49 134.3L49 134.6L49.2 134.4L49.2 134.2L49.3 133.9L49.3 133.5L49.3 133.1L49.4 132.7L49.4 132.2L49.5 131.6L49.5 131L49.5 130.3L49.6 129.6L49.6 128.9L49.7 128.1L49.7 127.3L49.7 126.5L49.8 125.6L49.8 124.7L49.8 123.8L49.9 122.9L49.9 122L50 121L50 120.1L50 119.1L50.1 118.1L50.1 117.2L50.1 116.2L50.2 115.3L50.2 114.3L50.3 113.4L50.3 112.5L50.3 111.6L50.4 110.7L50.4 109.9L50.5 109.1L50.5 108.3L50.5 107.5L50.6 106.7L50.6 106L50.6 105.3L50.7 104.6L50.7 104L50.8 103.4L50.8 102.8L50.8 102.3L50.9 101.8L50.9 101.3L51 100.9L51 100.5L51 100.2L51.1 99.8L51.1 99.6L51.1 99.3L51.2 99.1L51.3 98.7L51.3 98.5L51.6 98.7L51.6 98.9L51.7 99.3L51.8 99.5L51.8 99.7L51.8 100L51.9 100.2L51.9 100.5L51.9 100.8L52 101.2L52 101.5L52.1 101.9L52.1 102.2L52.1 102.6L52.2 103L52.2 103.4L52.3 103.8L52.3 104.3L52.3 104.7L52.4 105.1L52.4 105.6L52.4 106L52.5 106.5L52.5 106.9L52.6 107.4L52.6 107.8L52.6 108.3L52.7 108.7L52.7 109.2L52.7 109.6L52.8 110.1L52.8 110.5L52.9 111L52.9 111.4L52.9 111.8L53 112.2L53 112.7L53.1 113.1L53.1 113.5L53.1 113.8L53.2 114.2L53.2 114.6L53.2 114.9L53.3 115.3L53.3 115.6L53.4 115.9L53.4 116.2L53.4 116.5L53.5 116.7L53.5 117L53.6 117.2L53.6 117.4L53.7 117.8L53.7 118.1L53.8 118.3L53.9 118.5L54.1 118.4L54.2 118.2L54.3 118L54.4 117.6L54.4 117.2L54.5 117L54.5 116.7L54.5 116.5L54.6 116.2L54.6 115.9L54.7 115.6L54.7 115.3L54.7 114.9L54.8 114.6L54.8 114.2L54.9 113.9L54.9 113.5L54.9 113.1L55 112.8L55 112.4L55 112L55.1 111.6L55.1 111.2L55.2 110.8L55.2 110.4L55.2 110.1L55.3 109.7L55.3 109.3L55.3 108.9L55.4 108.6L55.4 108.2L55.5 107.9L55.5 107.6L55.5 107.3L55.6 107L55.6 106.7L55.7 106.4L55.7 106.2L55.7 105.9L55.8 105.7L55.8 105.3L55.9 105L56 104.8L56.1 104.7L56.3 104.8L56.3 105L56.4 105.3L56.5 105.7L56.5 105.9L56.6 106.1L56.6 106.4L56.7 106.7L56.7 107L56.7 107.3L56.8 107.6L56.8 107.9L56.8 108.2L56.9 108.6L56.9 108.9L57 109.2L57 109.6L57 110L57.1 110.3L57.1 110.7L57.1 111L57.2 111.4L57.2 111.7L57.3 112.1L57.3 112.4L57.3 112.8L57.4 113.1L57.4 113.4L57.5 113.7L57.5 114L57.5 114.2L57.6 114.5L57.6 114.7L57.6 114.9L57.7 115.1L57.8 115.5L57.8 115.8L57.9 116L58 116.1L58.2 116L58.3 115.7L58.4 115.5L58.4 115.1L58.5 114.8L58.6 114.6L58.6 114.3L58.6 114.1L58.7 113.9L58.7 113.6L58.8 113.3L58.8 113.1L58.8 112.8L58.9 112.6L58.9 112.3L58.9 112L59 111.7L59 111.5L59.1 111.2L59.1 110.9L59.1 110.7L59.2 110.4L59.2 110.2L59.3 109.9L59.3 109.7L59.3 109.5L59.4 109.3L59.4 108.9L59.5 108.6L59.6 108.3L59.7 108L59.7 107.9L59.9 107.7L60.1 107.8L60.2 108L60.3 108.2L60.4 108.4L60.4 108.6L60.5 108.9L60.6 109.2L60.7 109.5L60.7 109.9L60.8 110.2L60.9 110.5L61 110.8L61 111.1L61.1 111.4L61.2 111.6L61.3 111.9L61.4 112.1L61.5 112.3L61.6 112.4L61.8 112.5L62 112.4L62.1 112.3L62.2 112.1L62.3 111.9L62.4 111.7L62.5 111.5L62.7 111.3L62.8 111.1L62.9 111L63 110.8L63.2 110.7L63.5 110.8L63.6 110.9L63.8 111L64 111.1L64.1 111.2L64.3 111.3L64.6 111.3L64.8 111.2L64.9 111L65 110.9L65.1 110.7L65.3 110.6L65.4 110.4L65.5 110.3L65.6 110.1L65.8 110L65.9 109.9L66.2 110L66.3 110.1L66.4 110.3L66.6 110.5L66.7 110.7L66.8 110.9L66.9 111.1L66.9 111.3L67 111.4L67.1 111.6L67.2 111.8L67.3 112L67.4 112.2L67.6 112.3L67.7 112.4L67.9 112.4L68.1 112.2L68.2 112.1L68.3 111.9L68.4 111.6L68.5 111.4L68.6 111.3L68.7 111.1L68.7 110.9L68.8 110.7L68.9 110.5L69 110.3L69.1 110.1L69.2 109.9L69.3 109.7L69.5 109.6L69.7 109.6L69.8 109.7L70 109.8L70.1 110L70.2 110.2L70.3 110.4L70.4 110.6L70.5 110.8L70.5 110.9L70.6 111.1L70.7 111.3L70.8 111.5L70.9 111.7L71 111.9L71.1 112L71.3 112.1L71.6 112.1L71.7 112L71.8 111.9L71.9 111.7L72.1 111.5L72.2 111.4L72.3 111.2L72.4 111L72.5 110.8L72.6 110.6L72.8 110.5L72.9 110.3L73.1 110.2L73.3 110.2L73.5 110.3L73.6 110.4L73.8 110.6L73.9 110.7L74 110.8L74.1 111L74.3 111.1L74.4 111.3L74.6 111.4L74.8 111.4L75 111.4L75.2 111.3L75.4 111.3L75.5 111.1L75.7 111L75.8 110.9L76 110.8L76.2 110.7L76.4 110.7L76.7 110.7L76.8 110.8L77 110.9L77.2 111L77.3 111.1L77.5 111.2L77.7 111.3L78 111.3L78.2 111.2L78.4 111.2L78.6 111.1L78.7 111L78.9 110.9L79 110.8L79.2 110.7L79.4 110.6L79.7 110.6L79.9 110.7L80.1 110.8L80.2 110.9L80.4 111L80.5 111.1L80.7 111.2L80.8 111.3L81 111.3L81.2 111.4L81.5 111.4L81.7 111.3L81.9 111.2L82 111.1L82.2 111L82.3 110.9L82.5 110.8L82.7 110.7L82.8 110.6L83.1 110.6L83.3 110.7L83.5 110.7L83.7 110.8L83.8 110.9L84 111L84.2 111.1L84.4 111.2L84.6 111.3L84.8 111.3L85 111.3L85.2 111.2L85.4 111.1L85.6 111L85.8 110.9L86 110.9L86.2 110.8L86.4 110.8L86.7 110.8L86.9 110.8L87.1 110.9L87.3 111L87.5 111L87.7 111.1L87.9 111.1L88.1 111.1L88.4 111.1L88.6 111.1L88.8 111L89 111L89.2 110.9L89.4 110.9L89.7 110.9L89.9 110.9L90.2 110.9L90.4 110.9L90.6 111L90.8 111.1L91.1 111.1L91.3 111.1L91.6 111.1L91.8 111.1L92 111L92.3 111L92.5 110.9L92.7 110.9L92.9 110.9L93.2 110.9L93.4 110.9L93.7 110.9L93.9 111L94.1 111L94.4 111.1L94.6 111.1L94.9 111.1L95.1 111.1L95.3 111L95.5 111L95.8 111L96 110.9L96.2 110.9L96.5 110.9L96.7 110.9L97 110.9L97.2 111L97.4 111L97.6 111L97.9 111.1L98.1 111.1L98.4 111.1L98.6 111L98.9 111L99.1 111L99.3 110.9L99.6 110.9L99.8 110.9L100.1 110.9L100.3 110.9L100.6 111L100.8 111L101 111L101.2 111L101.5 111L101.8 111L105.3 111L108.8 111L112.4 111L115.9 111L119.4 111L123 111L126.5 111L130 111L133.6 111L137.1 111L140.6 111L144.2 111L147.7 111L151.2 111L154.8 111L158.3 111L161.8 111L165.4 111L168.9 111L172.4 111L176 111L179.5 111L183 111L186.6 111L190.1 111L193.6 111L197.2 111L200.7 111L204.2 111L207.8 111L211.3 111L214.8 111L218.4 111L221.9 111L225.4 111L229 111L232.5 111L236 111L239.6 111L243.1 111L246.6 111L250.2 111L253.7 111L257.2 111L260.8 111L264.3 111L267.8 111L271.4 111L274.9 111L278.4 111L282 111L285.5 111L289 111L292.6 111L296.1 111L299.6 111L303.2 111L306.7 111L310.2 111L313.8 111L317.3 111L320.8 111L324.4 111L327.9 111L331.4 111L335 111L338.5 111L342 111L345.6 111L349.1 111L352.6 111L356.2 111L359.7 111L363.2 111L366.8 111L370.3 111L373.8 111L377.3 111L380.9 111L384.4 111L387.9 111L391.5 111L395 111L398.5 111L402.1 111L405.6 111L409.1 111L412.7 111L416.2 111L419.7 111L423.3 111L426.8 111L430.3 111L433.9 111L437.4 111L440.9 111L444.5 111L448 111L451.5 111L455.1 111L458.6 111L462.1 111L465.7 111L469.2 111L472.7 111L476.3 111L479.8 111L483.3 111L486.9 111L490.4 111L493.9 111L497.5 111L501 111L504.5 111L508.1 111L511.6 111L515.1 111L518.7 111L522.2 111" fill="none" stroke="#078a8c" stroke-width="1.2" stroke-linejoin="round" />
</g>
<path d="M181.09 111.05H500.61" stroke="#115e60" stroke-width="2.4"/>
<rect x="181.09" y="109.45" width="319.52" height="3.2" fill="none" stroke="#1a1a1a" stroke-width="1.1"/>
<text x="44.45" y="213.20" text-anchor="middle" class="tk">0</text>
<text x="92.23" y="213.20" text-anchor="middle" class="tk">5</text>
<text x="140.00" y="213.20" text-anchor="middle" class="tk">10</text>
<text x="187.78" y="213.20" text-anchor="middle" class="tk">15</text>
<text x="235.55" y="213.20" text-anchor="middle" class="tk">20</text>
<text x="283.33" y="213.20" text-anchor="middle" class="tk">25</text>
<text x="331.10" y="213.20" text-anchor="middle" class="tk">30</text>
<text x="378.88" y="213.20" text-anchor="middle" class="tk">35</text>
<text x="426.65" y="213.20" text-anchor="middle" class="tk">40</text>
<text x="474.43" y="213.20" text-anchor="middle" class="tk">45</text>
<text x="522.20" y="213.20" text-anchor="middle" class="tk">50</text>
<text x="40.2" y="203.30" text-anchor="end" class="tk">−8</text>
<text x="40.2" y="181.15" text-anchor="end" class="tk">−6</text>
<text x="40.2" y="158.99" text-anchor="end" class="tk">−4</text>
<text x="40.2" y="136.84" text-anchor="end" class="tk">−2</text>
<text x="40.2" y="114.69" text-anchor="end" class="tk">0</text>
<text x="40.2" y="92.54" text-anchor="end" class="tk">2</text>
<text x="40.2" y="70.38" text-anchor="end" class="tk">4</text>
<text x="40.2" y="48.23" text-anchor="end" class="tk">6</text>
<text x="40.2" y="26.08" text-anchor="end" class="tk">8</text>
<text x="283.33" y="229.60" text-anchor="middle" class="lb" textLength="38.6" lengthAdjust="spacingAndGlyphs">Time(s)</text>
<text transform="translate(19.3 105.05) rotate(-90)" text-anchor="middle" class="lb" textLength="160.5" lengthAdjust="spacingAndGlyphs">The trajectory of <tspan class="it">e</tspan><tspan class="it" font-size="8.5" dy="2">i</tspan><tspan dy="-2"> (</tspan><tspan class="it">q</tspan> = 0.4)</text>
<rect x="429.1" y="17.4" width="87.0" height="65.1" fill="#fff" stroke="#6c6c6c" stroke-width="1"/>
<path d="M431.8 24.8H454.0" stroke="#0a50d2" stroke-width="1.1"/>
<text x="456.2" y="26.70" class="lg" textLength="57.2" lengthAdjust="spacingAndGlyphs"><tspan class="it">e</tspan><tspan font-size="7.2" dy="1.8">1</tspan><tspan dy="-1.8">-NNCUDE</tspan></text>
<path d="M431.8 37.1H454.0" stroke="#ff1cf6" stroke-width="1.2"/>
<text x="456.2" y="39.00" class="lg" textLength="57.2" lengthAdjust="spacingAndGlyphs"><tspan class="it">e</tspan><tspan font-size="7.2" dy="1.8">2</tspan><tspan dy="-1.8">-NNCUDE</tspan></text>
<path d="M431.8 49.6H454.0" stroke="#30c838" stroke-width="1.5"/>
<text x="456.2" y="51.50" class="lg" textLength="57.2" lengthAdjust="spacingAndGlyphs"><tspan class="it">e</tspan><tspan font-size="7.2" dy="1.8">3</tspan><tspan dy="-1.8">-NNCUDE</tspan></text>
<path d="M431.8 62.3H454.0" stroke="#ff6a28" stroke-width="1.1"/>
<text x="456.2" y="64.20" class="lg" textLength="57.2" lengthAdjust="spacingAndGlyphs"><tspan class="it">e</tspan><tspan font-size="7.2" dy="1.8">4</tspan><tspan dy="-1.8">-NNCUDE</tspan></text>
<path d="M431.8 74.9H454.0" stroke="#078a8c" stroke-width="1.4"/>
<text x="456.2" y="76.80" class="lg" textLength="57.2" lengthAdjust="spacingAndGlyphs"><tspan class="it">e</tspan><tspan font-size="7.2" dy="1.8">5</tspan><tspan dy="-1.8">-NNCUDE</tspan></text>
<rect x="127.1" y="129.4" width="367.5" height="57.19999999999999" fill="#fff" stroke="none"/>
<clipPath id="cia"><rect x="127.1" y="129.4" width="367.5" height="57.19999999999999"/></clipPath>
<g clip-path="url(#cia)">
<path d="M125.9 159L126.2 159L126.5 158.9L126.8 158.9L127 158.9L127.3 158.9L127.6 158.9L127.9 159L128.2 159L128.5 159L128.8 159L129.1 159L129.3 159L129.6 159L129.9 159L130.2 159L130.5 159L130.8 159L131.1 159L131.4 158.9L131.6 158.9L131.9 158.9L132.2 158.9L132.5 158.9L132.8 158.9L133.1 158.9L133.4 158.9L133.7 158.9L133.9 159L134.2 159L134.5 159L134.8 159L135.1 159L135.4 159L135.7 159L135.9 158.9L136.2 158.9L136.5 158.9L136.8 158.9L137.1 158.9L137.4 158.9L137.7 158.9L138 158.9L138.2 158.9L138.5 158.9L138.8 158.9L139.1 158.9L139.4 158.9L139.7 158.9L140 158.9L140.3 158.9L140.5 158.9L140.8 158.9L141.1 158.9L141.4 158.9L141.7 158.9L142 158.9L142.3 158.9L142.6 158.8L142.8 158.8L143.1 158.8L143.4 158.8L143.7 158.8L144 158.8L144.3 158.8L144.6 158.8L144.9 158.8L145.1 158.8L145.4 158.9L145.7 158.9L146 158.9L146.3 159L146.6 159L146.9 159L147.2 158.9L147.4 158.9L147.7 158.9L148 158.8L148.3 158.7L148.6 158.6L148.9 158.6L149.2 158.5L149.5 158.5L149.7 158.5L150 158.6L150.3 158.6L150.6 158.7L150.9 158.8L151.2 158.8L151.5 158.9L151.8 159L152 159L152.3 159L152.6 159L152.9 158.9L153.2 158.8L153.5 158.7L153.8 158.6L154.1 158.5L154.3 158.4L154.6 158.4L154.9 158.4L155.2 158.4L155.5 158.4L155.8 158.5L156.1 158.6L156.3 158.7L156.6 158.9L156.9 159L157.2 159L157.5 159.1L157.8 159L158.1 159L158.4 158.9L158.6 158.7L158.9 158.6L159.2 158.4L159.5 158.3L159.8 158.1L160.1 158.1L160.4 158L160.7 158.1L160.9 158.2L161.2 158.3L161.5 158.5L161.8 158.7L162.1 158.9L162.4 159.1L162.7 159.3L163 159.4L163.2 159.4L163.5 159.3L163.8 159.2L164.1 159L164.4 158.7L164.7 158.4L165 158.2L165.3 157.9L165.5 157.7L165.8 157.6L166.1 157.6L166.4 157.7L166.7 157.9L167 158.1L167.3 158.3L167.6 158.6L167.8 158.9L168.1 159.1L168.4 159.3L168.7 159.4L169 159.5L169.3 159.4L169.6 159.3L169.9 159L170.1 158.8L170.4 158.5L170.7 158.2L171 158L171.3 157.8L171.6 157.7L171.9 157.7L172.2 157.7L172.4 157.8L172.7 158L173 158.3L173.3 158.5L173.6 158.8L173.9 159L174.2 159.1L174.5 159.2L174.7 159.3L175 159.2L175.3 159.1L175.6 158.9L175.9 158.7L176.2 158.5L176.5 158.2L176.8 158.1L177 157.9L177.3 157.9L177.6 157.9L177.9 158L178.2 158.1L178.5 158.3L178.8 158.5L179 158.7L179.3 158.9L179.6 159L179.9 159.1L180.2 159.1L180.5 159.1L180.8 158.9L181.1 158.8L181.3 158.6L181.6 158.4L181.9 158.2L182.2 158L182.5 157.9L182.8 157.9L183.1 157.9L183.4 158L183.6 158.2L183.9 158.4L184.2 158.7L184.5 158.9L184.8 159.1L185.1 159.3L185.4 159.4L185.7 159.4L185.9 159.3L186.2 159.2L186.5 158.9L186.8 158.7L187.1 158.4L187.4 158.1L187.7 157.9L188 157.7L188.2 157.6L188.5 157.6L188.8 157.7L189.1 157.9L189.4 158.1L189.7 158.4L190 158.8L190.3 159.1L190.5 159.3L190.8 159.6L191.1 159.7L191.4 159.7L191.7 159.6L192 159.4L192.3 159.2L192.6 158.9L192.8 158.6L193.1 158.2L193.4 157.9L193.7 157.7L194 157.6L194.3 157.6L194.6 157.6L194.9 157.8L195.1 158.1L195.4 158.4L195.7 158.7L196 159L196.3 159.3L196.6 159.5L196.9 159.7L197.2 159.7L197.4 159.6L197.7 159.5L198 159.3L198.3 159L198.6 158.7L198.9 158.4L199.2 158.2L199.4 158L199.7 157.9L200 157.9L200.3 157.9L200.6 158.1L200.9 158.3L201.2 158.6L201.5 158.9L201.7 159.1L202 159.3L202.3 159.5L202.6 159.5L202.9 159.5L203.2 159.4L203.5 159.2L203.8 159L204 158.8L204.3 158.5L204.6 158.3L204.9 158.2L205.2 158.1L205.5 158.1L205.8 158.2L206.1 158.3L206.3 158.6L206.6 158.8L206.9 159.1L207.2 159.3L207.5 159.5L207.8 159.7L208.1 159.7L208.4 159.7L208.6 159.5L208.9 159.3L209.2 159L209.5 158.7L209.8 158.4L210.1 158.2L210.4 158L210.7 157.8L210.9 157.8L211.2 157.9L211.5 158.1L211.8 158.4L212.1 158.8L212.4 159.1L212.7 159.5L213 159.8L213.2 160L213.5 160.1L213.8 160.1L214.1 160L214.4 159.8L214.7 159.5L215 159.1L215.3 158.8L215.5 158.4L215.8 158L216.1 157.8L216.4 157.7L216.7 157.6L217 157.7L217.3 158L217.6 158.3L217.8 158.6L218.1 159L218.4 159.4L218.7 159.8L219 160L219.3 160.2L219.6 160.2L219.8 160.1L220.1 159.9L220.4 159.7L220.7 159.3L221 158.9L221.3 158.6L221.6 158.3L221.9 158L222.1 157.9L222.4 157.8L222.7 157.9L223 158.1L223.3 158.4L223.6 158.7L223.9 159L224.2 159.3L224.4 159.6L224.7 159.8L225 159.9L225.3 159.9L225.6 159.8L225.9 159.6L226.2 159.4L226.5 159.1L226.7 158.8L227 158.6L227.3 158.4L227.6 158.2L227.9 158.2L228.2 158.2L228.5 158.3L228.8 158.5L229 158.8L229.3 159L229.6 159.3L229.9 159.5L230.2 159.7L230.5 159.7L230.8 159.7L231.1 159.6L231.3 159.4L231.6 159.2L231.9 158.9L232.2 158.6L232.5 158.4L232.8 158.2L233.1 158.1L233.4 158L233.6 158.1L233.9 158.3L234.2 158.5L234.5 158.8L234.8 159.1L235.1 159.4L235.4 159.7L235.7 159.9L235.9 160L236.2 160L236.5 159.9L236.8 159.7L237.1 159.4L237.4 159L237.7 158.7L238 158.4L238.2 158.1L238.5 157.8L238.8 157.7L239.1 157.7L239.4 157.8L239.7 158L240 158.3L240.2 158.7L240.5 159L240.8 159.4L241.1 159.7L241.4 159.9L241.7 160L242 160L242.3 159.9L242.5 159.7L242.8 159.5L243.1 159.1L243.4 158.8L243.7 158.4L244 158.1L244.3 157.9L244.6 157.8L244.8 157.7L245.1 157.8L245.4 158L245.7 158.2L246 158.5L246.3 158.8L246.6 159.1L246.9 159.4L247.1 159.6L247.4 159.7L247.7 159.7L248 159.6L248.3 159.5L248.6 159.3L248.9 159L249.2 158.7L249.4 158.5L249.7 158.2L250 158.1L250.3 158L250.6 158L250.9 158.1L251.2 158.2L251.5 158.4L251.7 158.6L252 158.9L252.3 159.1L252.6 159.2L252.9 159.3L253.2 159.3L253.5 159.3L253.8 159.2L254 159L254.3 158.8L254.6 158.6L254.9 158.4L255.2 158.2L255.5 158.1L255.8 158L256.1 158L256.3 158.1L256.6 158.3L256.9 158.5L257.2 158.7L257.5 158.9L257.8 159.1L258.1 159.3L258.4 159.4L258.6 159.4L258.9 159.3L259.2 159.2L259.5 159L259.8 158.7L260.1 158.4L260.4 158.2L260.6 158L260.9 157.8L261.2 157.7L261.5 157.7L261.8 157.8L262.1 158L262.4 158.2L262.7 158.5L262.9 158.7L263.2 159L263.5 159.3L263.8 159.4L264.1 159.5L264.4 159.5L264.7 159.4L265 159.3L265.2 159L265.5 158.7L265.8 158.4L266.1 158.1L266.4 157.9L266.7 157.7L267 157.6L267.3 157.6L267.5 157.6L267.8 157.8L268.1 158L268.4 158.3L268.7 158.6L269 158.9L269.3 159.1L269.6 159.3L269.8 159.4L270.1 159.4L270.4 159.4L270.7 159.2L271 159L271.3 158.8L271.6 158.5L271.9 158.3L272.1 158L272.4 157.9L272.7 157.8L273 157.8L273.3 157.8L273.6 157.9L273.9 158.1L274.2 158.3L274.4 158.6L274.7 158.8L275 159L275.3 159.1L275.6 159.1L275.9 159.1L276.2 159.1L276.5 158.9L276.7 158.7L277 158.6L277.3 158.4L277.6 158.2L277.9 158.1L278.2 158L278.5 158L278.8 158L279 158.1L279.3 158.3L279.6 158.5L279.9 158.7L280.2 158.8L280.5 159L280.8 159.1L281.1 159.1L281.3 159.1L281.6 159L281.9 158.9L282.2 158.7L282.5 158.5L282.8 158.2L283.1 158.1L283.3 157.9L283.6 157.8L283.9 157.8L284.2 157.9L284.5 158L284.8 158.2L285.1 158.5L285.4 158.7L285.6 159L285.9 159.2L286.2 159.3L286.5 159.4L286.8 159.4L287.1 159.3L287.4 159.2L287.7 159L287.9 158.7L288.2 158.4L288.5 158.2L288.8 158L289.1 157.8L289.4 157.7L289.7 157.7L290 157.8L290.2 158L290.5 158.2L290.8 158.4L291.1 158.7L291.4 159L291.7 159.2L292 159.4L292.3 159.5L292.5 159.6L292.8 159.5L293.1 159.3L293.4 159.1L293.7 158.9L294 158.6L294.3 158.4L294.6 158.1L294.8 158L295.1 157.9L295.4 157.9L295.7 157.9L296 158L296.3 158.2L296.6 158.5L296.9 158.7L297.1 159L297.4 159.2L297.7 159.3L298 159.4L298.3 159.4L298.6 159.4L298.9 159.3L299.2 159.1L299.4 158.9L299.7 158.7L300 158.5L300.3 158.3L300.6 158.2L300.9 158.2L301.2 158.2L301.5 158.3L301.7 158.4L302 158.6L302.3 158.8L302.6 159L302.9 159.1L303.2 159.3L303.5 159.3L303.7 159.3L304 159.3L304.3 159.2L304.6 159L304.9 158.8L305.2 158.7L305.5 158.5L305.8 158.3L306 158.3L306.3 158.2L306.6 158.3L306.9 158.4L307.2 158.5L307.5 158.7L307.8 159L308.1 159.2L308.3 159.4L308.6 159.5L308.9 159.6L309.2 159.6L309.5 159.5L309.8 159.4L310.1 159.2L310.4 159L310.6 158.7L310.9 158.5L311.2 158.3L311.5 158.1L311.8 158.1L312.1 158.1L312.4 158.2L312.7 158.3L312.9 158.5L313.2 158.8L313.5 159.1L313.8 159.3L314.1 159.6L314.4 159.7L314.7 159.8L315 159.8L315.2 159.8L315.5 159.6L315.8 159.4L316.1 159.1L316.4 158.9L316.7 158.6L317 158.4L317.3 158.2L317.5 158.1L317.8 158.1L318.1 158.1L318.4 158.3L318.7 158.5L319 158.7L319.3 159L319.6 159.3L319.8 159.5L320.1 159.6L320.4 159.8L320.7 159.8L321 159.7L321.3 159.6L321.6 159.4L321.9 159.2L322.1 158.9L322.4 158.7L322.7 158.5L323 158.4L323.3 158.3L323.6 158.3L323.9 158.4L324.1 158.5L324.4 158.7L324.7 158.9L325 159.1L325.3 159.3L325.6 159.4L325.9 159.5L326.2 159.5L326.4 159.5L326.7 159.4L327 159.3L327.3 159.1L327.6 158.9L327.9 158.7L328.2 158.6L328.5 158.5L328.7 158.4L329 158.4L329.3 158.5L329.6 158.6L329.9 158.8L330.2 159L330.5 159.2L330.8 159.3L331 159.5L331.3 159.6L331.6 159.6L331.9 159.5L332.2 159.4L332.5 159.2L332.8 159L333.1 158.8L333.3 158.6L333.6 158.4L333.9 158.2L334.2 158.2L334.5 158.2L334.8 158.2L335.1 158.4L335.4 158.6L335.6 158.8L335.9 159.1L336.2 159.3L336.5 159.5L336.8 159.7L337.1 159.8L337.4 159.8L337.7 159.7L337.9 159.5L338.2 159.3L338.5 159L338.8 158.7L339.1 158.5L339.4 158.2L339.7 158L340 157.9L340.2 157.9L340.5 158L340.8 158.2L341.1 158.4L341.4 158.6L341.7 158.9L342 159.2L342.3 159.4L342.5 159.6L342.8 159.7L343.1 159.8L343.4 159.7L343.7 159.5L344 159.3L344.3 159.1L344.5 158.8L344.8 158.5L345.1 158.3L345.4 158.1L345.7 158L346 157.9L346.3 158L346.6 158.1L346.8 158.3L347.1 158.6L347.4 158.8L347.7 159L348 159.2L348.3 159.4L348.6 159.5L348.9 159.5L349.1 159.4L349.4 159.2L349.7 159L350 158.8L350.3 158.6L350.6 158.4L350.9 158.2L351.2 158.1L351.4 158.1L351.7 158.1L352 158.2L352.3 158.4L352.6 158.6L352.9 158.8L353.2 159L353.5 159.1L353.7 159.3L354 159.3L354.3 159.3L354.6 159.2L354.9 159L355.2 158.8L355.5 158.6L355.8 158.4L356 158.2L356.3 158L356.6 157.9L356.9 157.9L357.2 157.9L357.5 158.1L357.8 158.3L358.1 158.5L358.3 158.8L358.6 159L358.9 159.3L359.2 159.4L359.5 159.5L359.8 159.5L360.1 159.4L360.4 159.2L360.6 159L360.9 158.7L361.2 158.4L361.5 158.1L361.8 157.8L362.1 157.6L362.4 157.5L362.7 157.5L362.9 157.6L363.2 157.8L363.5 158.1L363.8 158.4L364.1 158.7L364.4 159L364.7 159.3L364.9 159.5L365.2 159.7L365.5 159.7L365.8 159.6L366.1 159.4L366.4 159.1L366.7 158.8L367 158.4L367.2 158.1L367.5 157.8L367.8 157.6L368.1 157.5L368.4 157.4L368.7 157.5L369 157.7L369.3 157.9L369.5 158.2L369.8 158.6L370.1 158.9L370.4 159.1L370.7 159.3L371 159.4L371.3 159.5L371.6 159.4L371.8 159.2L372.1 159L372.4 158.7L372.7 158.5L373 158.2L373.3 158L373.6 157.8L373.9 157.7L374.1 157.7L374.4 157.8L374.7 158L375 158.2L375.3 158.4L375.6 158.7L375.9 158.9L376.2 159.1L376.4 159.2L376.7 159.2L377 159.1L377.3 159L377.6 158.8L377.9 158.6L378.2 158.4L378.5 158.2L378.7 158L379 157.9L379.3 157.8L379.6 157.9L379.9 158L380.2 158.2L380.5 158.4L380.8 158.6L381 158.9L381.3 159.1L381.6 159.2L381.9 159.3L382.2 159.3L382.5 159.3L382.8 159.1L383.1 158.9L383.3 158.6L383.6 158.4L383.9 158.1L384.2 157.9L384.5 157.7L384.8 157.6L385.1 157.6L385.4 157.7L385.6 157.9L385.9 158.2L386.2 158.5L386.5 158.8L386.8 159.1L387.1 159.3L387.4 159.5L387.6 159.6L387.9 159.6L388.2 159.5L388.5 159.3L388.8 159.1L389.1 158.8L389.4 158.5L389.7 158.2L389.9 157.9L390.2 157.7L390.5 157.6L390.8 157.6L391.1 157.7L391.4 157.9L391.7 158.1L392 158.4L392.2 158.7L392.5 159L392.8 159.3L393.1 159.5L393.4 159.6L393.7 159.6L394 159.5L394.3 159.4L394.5 159.2L394.8 158.9L395.1 158.7L395.4 158.4L395.7 158.2L396 158L396.3 157.9L396.6 157.9L396.8 158L397.1 158.1L397.4 158.3L397.7 158.6L398 158.8L398.3 159L398.6 159.2L398.9 159.3L399.1 159.4L399.4 159.4L399.7 159.3L400 159.2L400.3 159L400.6 158.8L400.9 158.6L401.2 158.4L401.4 158.3L401.7 158.2L402 158.2L402.3 158.3L402.6 158.4L402.9 158.6L403.2 158.8L403.5 159L403.7 159.2L404 159.3L404.3 159.4L404.6 159.5L404.9 159.4L405.2 159.3L405.5 159.2L405.8 159L406 158.7L406.3 158.5L406.6 158.3L406.9 158.2L407.2 158.1L407.5 158.1L407.8 158.2L408 158.3L408.3 158.6L408.6 158.8L408.9 159.1L409.2 159.3L409.5 159.5L409.8 159.7L410.1 159.8L410.3 159.8L410.6 159.7L410.9 159.5L411.2 159.3L411.5 159L411.8 158.7L412.1 158.4L412.4 158.2L412.6 158L412.9 157.9L413.2 157.9L413.5 158L413.8 158.2L414.1 158.5L414.4 158.8L414.7 159.1L414.9 159.4L415.2 159.6L415.5 159.8L415.8 160L416.1 160L416.4 159.9L416.7 159.7L417 159.5L417.2 159.2L417.5 158.9L417.8 158.6L418.1 158.3L418.4 158.1L418.7 158L419 158L419.3 158.1L419.5 158.2L419.8 158.4L420.1 158.7L420.4 159L420.7 159.3L421 159.5L421.3 159.7L421.6 159.8L421.8 159.8L422.1 159.7L422.4 159.6L422.7 159.4L423 159.1L423.3 158.9L423.6 158.6L423.9 158.4L424.1 158.3L424.4 158.2L424.7 158.3L425 158.4L425.3 158.5L425.6 158.7L425.9 159L426.2 159.2L426.4 159.4L426.7 159.6L427 159.6L427.3 159.7L427.6 159.6L427.9 159.4L428.2 159.2L428.4 159L428.7 158.7L429 158.5L429.3 158.3L429.6 158.2L429.9 158.2L430.2 158.2L430.5 158.4L430.7 158.6L431 158.8L431.3 159.1L431.6 159.4L431.9 159.6L432.2 159.8L432.5 159.9L432.8 159.9L433 159.8L433.3 159.6L433.6 159.3L433.9 159L434.2 158.7L434.5 158.4L434.8 158.1L435.1 157.9L435.3 157.8L435.6 157.8L435.9 157.9L436.2 158.1L436.5 158.4L436.8 158.8L437.1 159.1L437.4 159.4L437.6 159.7L437.9 159.9L438.2 160.1L438.5 160.1L438.8 159.9L439.1 159.7L439.4 159.4L439.7 159.1L439.9 158.7L440.2 158.4L440.5 158.1L440.8 157.8L441.1 157.7L441.4 157.7L441.7 157.8L442 158L442.2 158.2L442.5 158.5L442.8 158.9L443.1 159.2L443.4 159.5L443.7 159.7L444 159.8L444.3 159.8L444.5 159.7L444.8 159.6L445.1 159.3L445.4 159L445.7 158.7L446 158.4L446.3 158.2L446.6 158L446.8 157.9L447.1 157.9L447.4 158L447.7 158.2L448 158.4L448.3 158.6L448.6 158.9L448.8 159.1L449.1 159.3L449.4 159.4L449.7 159.4L450 159.4L450.3 159.3L450.6 159.1L450.9 158.9L451.1 158.6L451.4 158.4L451.7 158.2L452 158.1L452.3 158L452.6 158L452.9 158.1L453.2 158.3L453.4 158.5L453.7 158.7L454 158.9L454.3 159.1L454.6 159.3L454.9 159.4L455.2 159.4L455.5 159.3L455.7 159.2L456 159L456.3 158.7L456.6 158.5L456.9 158.2L457.2 158L457.5 157.9L457.8 157.8L458 157.8L458.3 157.9L458.6 158L458.9 158.3L459.2 158.5L459.5 158.8L459.8 159.1L460.1 159.3L460.3 159.4L460.6 159.5L460.9 159.5L461.2 159.4L461.5 159.2L461.8 159L462.1 158.7L462.4 158.4L462.6 158.1L462.9 157.9L463.2 157.7L463.5 157.6L463.8 157.6L464.1 157.7L464.4 157.8L464.7 158.1L464.9 158.4L465.2 158.6L465.5 158.9L465.8 159.2L466.1 159.3L466.4 159.4L466.7 159.5L467 159.4L467.2 159.2L467.5 159L467.8 158.8L468.1 158.5L468.4 158.2L468.7 158L469 157.8L469.2 157.7L469.5 157.7L469.8 157.8L470.1 157.9L470.4 158.1L470.7 158.3L471 158.6L471.3 158.8L471.5 159L471.8 159.1L472.1 159.2L472.4 159.2L472.7 159.1L473 159L473.3 158.8L473.6 158.6L473.8 158.4L474.1 158.2L474.4 158.1L474.7 158L475 157.9L475.3 158L475.6 158.1L475.9 158.2L476.1 158.4L476.4 158.6L476.7 158.8L477 158.9L477.3 159L477.6 159.1L477.9 159.1L478.2 159L478.4 158.9L478.7 158.7L479 158.5L479.3 158.3L479.6 158.1L479.9 158L480.2 157.9L480.5 157.9L480.7 157.9L481 158.1L481.3 158.3L481.6 158.5L481.9 158.7L482.2 158.9L482.5 159.1L482.8 159.3L483 159.3L483.3 159.3L483.6 159.3L483.9 159.1L484.2 158.9L484.5 158.6L484.8 158.4L485.1 158.1L485.3 157.9L485.6 157.8L485.9 157.7L486.2 157.7L486.5 157.8L486.8 158L487.1 158.2L487.4 158.5L487.6 158.8L487.9 159L488.2 159.3L488.5 159.4L488.8 159.5L489.1 159.5L489.4 159.5L489.7 159.3L489.9 159.1L490.2 158.8L490.5 158.6L490.8 158.3L491.1 158.1L491.4 157.9L491.7 157.8L491.9 157.8L492.2 157.9L492.5 158L492.8 158.2L493.1 158.5L493.4 158.7L493.7 159L494 159.2L494.2 159.3L494.5 159.4L494.8 159.5L495.1 159.4L495.4 159.3L495.7 159.1L496 158.9L496.3 158.7L496.5 158.5L496.8 158.3L497.1 158.2L497.4 158.1L497.7 158.1L498 158.2L498.3 158.3L498.6 158.5L498.8 158.7L499.1 158.9" fill="none" stroke="#0a50d2" stroke-width="1.25" stroke-linejoin="round" />
<path d="M125.9 158.3L126.2 158.3L126.5 158.3L126.8 158.3L127 158.3L127.3 158.3L127.6 158.3L127.9 158.3L128.2 158.3L128.5 158.3L128.8 158.3L129.1 158.3L129.3 158.3L129.6 158.3L129.9 158.3L130.2 158.3L130.5 158.3L130.8 158.3L131.1 158.3L131.4 158.3L131.6 158.3L131.9 158.3L132.2 158.2L132.5 158.2L132.8 158.2L133.1 158.3L133.4 158.3L133.7 158.3L133.9 158.3L134.2 158.3L134.5 158.3L134.8 158.3L135.1 158.3L135.4 158.2L135.7 158.2L135.9 158.2L136.2 158.2L136.5 158.2L136.8 158.2L137.1 158.2L137.4 158.2L137.7 158.2L138 158.2L138.2 158.2L138.5 158.2L138.8 158.2L139.1 158.2L139.4 158.2L139.7 158.2L140 158.2L140.3 158.2L140.5 158.2L140.8 158.2L141.1 158.2L141.4 158.2L141.7 158.1L142 158.1L142.3 158.1L142.6 158.1L142.8 158.1L143.1 158.1L143.4 158.1L143.7 158.1L144 158.1L144.3 158.1L144.6 158.1L144.9 158.1L145.1 158.1L145.4 158.2L145.7 158.2L146 158.2L146.3 158.2L146.6 158.2L146.9 158.2L147.2 158.1L147.4 158.1L147.7 158.1L148 158L148.3 157.9L148.6 157.9L148.9 157.9L149.2 157.8L149.5 157.9L149.7 157.9L150 157.9L150.3 158L150.6 158.1L150.9 158.1L151.2 158.2L151.5 158.2L151.8 158.3L152 158.3L152.3 158.2L152.6 158.2L152.9 158.1L153.2 158.1L153.5 158L153.8 157.9L154.1 157.8L154.3 157.8L154.6 157.8L154.9 157.8L155.2 157.8L155.5 157.9L155.8 157.9L156.1 158L156.3 158.1L156.6 158.2L156.9 158.3L157.2 158.3L157.5 158.3L157.8 158.3L158.1 158.2L158.4 158.1L158.6 158L158.9 157.9L159.2 157.7L159.5 157.7L159.8 157.6L160.1 157.6L160.4 157.6L160.7 157.7L160.9 157.8L161.2 158L161.5 158.1L161.8 158.3L162.1 158.4L162.4 158.5L162.7 158.6L163 158.6L163.2 158.5L163.5 158.4L163.8 158.2L164.1 158.1L164.4 157.8L164.7 157.6L165 157.5L165.3 157.4L165.5 157.3L165.8 157.3L166.1 157.4L166.4 157.5L166.7 157.7L167 157.9L167.3 158.2L167.6 158.4L167.8 158.6L168.1 158.7L168.4 158.8L168.7 158.8L169 158.7L169.3 158.6L169.6 158.4L169.9 158.2L170.1 157.9L170.4 157.7L170.7 157.5L171 157.4L171.3 157.3L171.6 157.3L171.9 157.4L172.2 157.5L172.4 157.7L172.7 157.9L173 158.1L173.3 158.3L173.6 158.5L173.9 158.7L174.2 158.7L174.5 158.8L174.7 158.7L175 158.6L175.3 158.4L175.6 158.2L175.9 158.1L176.2 157.9L176.5 157.7L176.8 157.6L177 157.6L177.3 157.6L177.6 157.6L177.9 157.8L178.2 157.9L178.5 158.1L178.8 158.3L179 158.4L179.3 158.6L179.6 158.6L179.9 158.7L180.2 158.6L180.5 158.5L180.8 158.4L181.1 158.3L181.3 158.1L181.6 157.9L181.9 157.8L182.2 157.7L182.5 157.7L182.8 157.7L183.1 157.8L183.4 157.9L183.6 158.1L183.9 158.3L184.2 158.5L184.5 158.6L184.8 158.8L185.1 158.8L185.4 158.8L185.7 158.8L185.9 158.7L186.2 158.5L186.5 158.3L186.8 158.1L187.1 157.9L187.4 157.7L187.7 157.6L188 157.5L188.2 157.6L188.5 157.6L188.8 157.8L189.1 158L189.4 158.2L189.7 158.5L190 158.7L190.3 158.9L190.5 159.1L190.8 159.2L191.1 159.2L191.4 159.1L191.7 158.9L192 158.7L192.3 158.4L192.6 158.2L192.8 157.9L193.1 157.7L193.4 157.5L193.7 157.5L194 157.5L194.3 157.6L194.6 157.7L194.9 157.9L195.1 158.2L195.4 158.5L195.7 158.7L196 159L196.3 159.2L196.6 159.2L196.9 159.3L197.2 159.2L197.4 159L197.7 158.8L198 158.6L198.3 158.3L198.6 158.1L198.9 157.9L199.2 157.7L199.4 157.6L199.7 157.6L200 157.7L200.3 157.8L200.6 158L200.9 158.3L201.2 158.5L201.5 158.7L201.7 158.9L202 159L202.3 159.1L202.6 159.1L202.9 159L203.2 158.9L203.5 158.7L203.8 158.5L204 158.3L204.3 158.1L204.6 157.9L204.9 157.9L205.2 157.8L205.5 157.9L205.8 158L206.1 158.2L206.3 158.4L206.6 158.6L206.9 158.8L207.2 159L207.5 159.1L207.8 159.1L208.1 159.1L208.4 159L208.6 158.8L208.9 158.6L209.2 158.3L209.5 158.1L209.8 157.9L210.1 157.8L210.4 157.7L210.7 157.7L210.9 157.8L211.2 157.9L211.5 158.1L211.8 158.4L212.1 158.7L212.4 158.9L212.7 159.1L213 159.3L213.2 159.4L213.5 159.4L213.8 159.2L214.1 159.1L214.4 158.8L214.7 158.5L215 158.2L215.3 157.9L215.5 157.7L215.8 157.5L216.1 157.4L216.4 157.4L216.7 157.5L217 157.7L217.3 158L217.6 158.3L217.8 158.6L218.1 158.9L218.4 159.2L218.7 159.4L219 159.5L219.3 159.5L219.6 159.4L219.8 159.2L220.1 158.9L220.4 158.6L220.7 158.3L221 158L221.3 157.7L221.6 157.5L221.9 157.4L222.1 157.4L222.4 157.5L222.7 157.6L223 157.9L223.3 158.2L223.6 158.4L223.9 158.7L224.2 158.9L224.4 159.1L224.7 159.2L225 159.2L225.3 159.1L225.6 159L225.9 158.7L226.2 158.5L226.5 158.2L226.7 158L227 157.8L227.3 157.7L227.6 157.6L227.9 157.6L228.2 157.7L228.5 157.9L228.8 158.1L229 158.3L229.3 158.5L229.6 158.7L229.9 158.8L230.2 158.9L230.5 158.9L230.8 158.8L231.1 158.7L231.3 158.5L231.6 158.3L231.9 158.1L232.2 157.9L232.5 157.7L232.8 157.6L233.1 157.6L233.4 157.6L233.6 157.7L233.9 157.9L234.2 158.1L234.5 158.4L234.8 158.6L235.1 158.8L235.4 158.9L235.7 159L235.9 159L236.2 158.9L236.5 158.7L236.8 158.5L237.1 158.2L237.4 158L237.7 157.7L238 157.5L238.2 157.3L238.5 157.3L238.8 157.3L239.1 157.4L239.4 157.6L239.7 157.8L240 158.1L240.2 158.4L240.5 158.6L240.8 158.9L241.1 159L241.4 159.1L241.7 159.1L242 159L242.3 158.8L242.5 158.5L242.8 158.2L243.1 157.9L243.4 157.7L243.7 157.4L244 157.3L244.3 157.2L244.6 157.2L244.8 157.2L245.1 157.4L245.4 157.6L245.7 157.9L246 158.2L246.3 158.4L246.6 158.6L246.9 158.8L247.1 158.9L247.4 158.9L247.7 158.8L248 158.7L248.3 158.5L248.6 158.2L248.9 158L249.2 157.8L249.4 157.6L249.7 157.4L250 157.3L250.3 157.4L250.6 157.4L250.9 157.6L251.2 157.7L251.5 157.9L251.7 158.1L252 158.3L252.3 158.5L252.6 158.6L252.9 158.6L253.2 158.6L253.5 158.5L253.8 158.3L254 158.2L254.3 158L254.6 157.8L254.9 157.7L255.2 157.5L255.5 157.5L255.8 157.5L256.1 157.6L256.3 157.7L256.6 157.8L256.9 158L257.2 158.2L257.5 158.4L257.8 158.5L258.1 158.5L258.4 158.6L258.6 158.5L258.9 158.4L259.2 158.2L259.5 158.1L259.8 157.9L260.1 157.7L260.4 157.5L260.6 157.4L260.9 157.3L261.2 157.4L261.5 157.4L261.8 157.6L262.1 157.8L262.4 158L262.7 158.2L262.9 158.4L263.2 158.6L263.5 158.7L263.8 158.8L264.1 158.7L264.4 158.7L264.7 158.5L265 158.3L265.2 158.1L265.5 157.8L265.8 157.6L266.1 157.4L266.4 157.3L266.7 157.2L267 157.3L267.3 157.3L267.5 157.5L267.8 157.7L268.1 157.9L268.4 158.2L268.7 158.4L269 158.6L269.3 158.7L269.6 158.8L269.8 158.8L270.1 158.7L270.4 158.6L270.7 158.4L271 158.2L271.3 158L271.6 157.8L271.9 157.6L272.1 157.5L272.4 157.4L272.7 157.4L273 157.5L273.3 157.6L273.6 157.8L273.9 158L274.2 158.2L274.4 158.3L274.7 158.5L275 158.6L275.3 158.7L275.6 158.7L275.9 158.6L276.2 158.5L276.5 158.4L276.7 158.2L277 158L277.3 157.9L277.6 157.8L277.9 157.7L278.2 157.7L278.5 157.7L278.8 157.8L279 157.9L279.3 158.1L279.6 158.2L279.9 158.4L280.2 158.5L280.5 158.6L280.8 158.6L281.1 158.6L281.3 158.6L281.6 158.5L281.9 158.3L282.2 158.2L282.5 158L282.8 157.9L283.1 157.8L283.3 157.7L283.6 157.7L283.9 157.8L284.2 157.9L284.5 158L284.8 158.2L285.1 158.4L285.4 158.6L285.6 158.7L285.9 158.8L286.2 158.9L286.5 158.9L286.8 158.8L287.1 158.7L287.4 158.5L287.7 158.3L287.9 158.1L288.2 157.9L288.5 157.8L288.8 157.6L289.1 157.6L289.4 157.6L289.7 157.7L290 157.8L290.2 158L290.5 158.3L290.8 158.5L291.1 158.7L291.4 158.9L291.7 159L292 159.1L292.3 159.1L292.5 159L292.8 158.9L293.1 158.7L293.4 158.5L293.7 158.3L294 158L294.3 157.9L294.6 157.7L294.8 157.7L295.1 157.7L295.4 157.7L295.7 157.9L296 158L296.3 158.2L296.6 158.5L296.9 158.7L297.1 158.8L297.4 159L297.7 159L298 159L298.3 159L298.6 158.9L298.9 158.7L299.2 158.5L299.4 158.4L299.7 158.2L300 158L300.3 157.9L300.6 157.9L300.9 157.9L301.2 158L301.5 158.1L301.7 158.2L302 158.4L302.3 158.6L302.6 158.7L302.9 158.8L303.2 158.9L303.5 158.9L303.7 158.9L304 158.8L304.3 158.7L304.6 158.5L304.9 158.4L305.2 158.2L305.5 158.1L305.8 158L306 158L306.3 158L306.6 158.1L306.9 158.2L307.2 158.4L307.5 158.5L307.8 158.7L308.1 158.8L308.3 158.9L308.6 159L308.9 159L309.2 158.9L309.5 158.8L309.8 158.7L310.1 158.5L310.4 158.3L310.6 158.1L310.9 158L311.2 157.9L311.5 157.8L311.8 157.8L312.1 157.9L312.4 158L312.7 158.2L312.9 158.4L313.2 158.6L313.5 158.8L313.8 159L314.1 159.1L314.4 159.2L314.7 159.1L315 159.1L315.2 158.9L315.5 158.7L315.8 158.5L316.1 158.3L316.4 158.1L316.7 157.9L317 157.8L317.3 157.7L317.5 157.7L317.8 157.8L318.1 157.9L318.4 158.1L318.7 158.3L319 158.5L319.3 158.7L319.6 158.9L319.8 159L320.1 159.1L320.4 159.1L320.7 159L321 158.9L321.3 158.7L321.6 158.5L321.9 158.3L322.1 158.1L322.4 157.9L322.7 157.8L323 157.8L323.3 157.8L323.6 157.8L323.9 157.9L324.1 158.1L324.4 158.2L324.7 158.4L325 158.6L325.3 158.7L325.6 158.8L325.9 158.8L326.2 158.8L326.4 158.8L326.7 158.6L327 158.5L327.3 158.3L327.6 158.2L327.9 158L328.2 157.9L328.5 157.9L328.7 157.8L329 157.9L329.3 158L329.6 158.1L329.9 158.2L330.2 158.4L330.5 158.5L330.8 158.6L331 158.7L331.3 158.7L331.6 158.7L331.9 158.6L332.2 158.5L332.5 158.3L332.8 158.1L333.1 158L333.3 157.8L333.6 157.7L333.9 157.7L334.2 157.7L334.5 157.7L334.8 157.8L335.1 158L335.4 158.2L335.6 158.4L335.9 158.5L336.2 158.7L336.5 158.8L336.8 158.8L337.1 158.8L337.4 158.7L337.7 158.6L337.9 158.4L338.2 158.2L338.5 158L338.8 157.8L339.1 157.6L339.4 157.4L339.7 157.4L340 157.4L340.2 157.5L340.5 157.6L340.8 157.8L341.1 158L341.4 158.3L341.7 158.5L342 158.7L342.3 158.8L342.5 158.9L342.8 158.9L343.1 158.8L343.4 158.6L343.7 158.4L344 158.2L344.3 158L344.5 157.8L344.8 157.6L345.1 157.4L345.4 157.3L345.7 157.3L346 157.4L346.3 157.5L346.6 157.7L346.8 157.9L347.1 158.1L347.4 158.3L347.7 158.5L348 158.6L348.3 158.7L348.6 158.7L348.9 158.6L349.1 158.5L349.4 158.3L349.7 158.1L350 157.9L350.3 157.8L350.6 157.6L350.9 157.5L351.2 157.5L351.4 157.5L351.7 157.6L352 157.7L352.3 157.9L352.6 158L352.9 158.2L353.2 158.3L353.5 158.5L353.7 158.5L354 158.5L354.3 158.4L354.6 158.3L354.9 158.2L355.2 158L355.5 157.8L355.8 157.7L356 157.5L356.3 157.5L356.6 157.4L356.9 157.5L357.2 157.6L357.5 157.7L357.8 157.9L358.1 158.1L358.3 158.3L358.6 158.5L358.9 158.6L359.2 158.7L359.5 158.7L359.8 158.6L360.1 158.4L360.4 158.3L360.6 158L360.9 157.8L361.2 157.6L361.5 157.4L361.8 157.2L362.1 157.2L362.4 157.2L362.7 157.3L362.9 157.5L363.2 157.7L363.5 158L363.8 158.2L364.1 158.5L364.4 158.7L364.7 158.9L364.9 158.9L365.2 158.9L365.5 158.8L365.8 158.6L366.1 158.4L366.4 158.1L366.7 157.9L367 157.6L367.2 157.4L367.5 157.2L367.8 157.1L368.1 157.1L368.4 157.2L368.7 157.4L369 157.6L369.3 157.9L369.5 158.2L369.8 158.4L370.1 158.7L370.4 158.8L370.7 158.9L371 158.9L371.3 158.8L371.6 158.7L371.8 158.5L372.1 158.3L372.4 158L372.7 157.8L373 157.6L373.3 157.5L373.6 157.4L373.9 157.4L374.1 157.5L374.4 157.6L374.7 157.8L375 158L375.3 158.2L375.6 158.4L375.9 158.6L376.2 158.7L376.4 158.7L376.7 158.7L377 158.6L377.3 158.5L377.6 158.3L377.9 158.1L378.2 157.9L378.5 157.8L378.7 157.7L379 157.6L379.3 157.7L379.6 157.7L379.9 157.9L380.2 158L380.5 158.2L380.8 158.4L381 158.6L381.3 158.7L381.6 158.8L381.9 158.8L382.2 158.7L382.5 158.6L382.8 158.5L383.1 158.3L383.3 158.1L383.6 157.9L383.9 157.7L384.2 157.6L384.5 157.6L384.8 157.6L385.1 157.7L385.4 157.8L385.6 158L385.9 158.3L386.2 158.5L386.5 158.7L386.8 158.9L387.1 159L387.4 159.1L387.6 159.1L387.9 159L388.2 158.8L388.5 158.6L388.8 158.4L389.1 158.1L389.4 157.9L389.7 157.7L389.9 157.6L390.2 157.5L390.5 157.5L390.8 157.6L391.1 157.8L391.4 158L391.7 158.2L392 158.5L392.2 158.7L392.5 158.9L392.8 159.1L393.1 159.2L393.4 159.2L393.7 159.1L394 158.9L394.3 158.7L394.5 158.5L394.8 158.3L395.1 158.1L395.4 157.9L395.7 157.8L396 157.7L396.3 157.7L396.6 157.8L396.8 157.9L397.1 158.1L397.4 158.3L397.7 158.5L398 158.7L398.3 158.8L398.6 159L398.9 159L399.1 159L399.4 158.9L399.7 158.8L400 158.7L400.3 158.5L400.6 158.3L400.9 158.2L401.2 158L401.4 158L401.7 157.9L402 158L402.3 158.1L402.6 158.2L402.9 158.4L403.2 158.5L403.5 158.7L403.7 158.8L404 158.9L404.3 158.9L404.6 158.9L404.9 158.8L405.2 158.7L405.5 158.6L405.8 158.4L406 158.2L406.3 158.1L406.6 158L406.9 157.9L407.2 157.9L407.5 158L407.8 158.1L408 158.2L408.3 158.4L408.6 158.6L408.9 158.8L409.2 159L409.5 159.1L409.8 159.1L410.1 159.1L410.3 159L410.6 158.9L410.9 158.7L411.2 158.5L411.5 158.2L411.8 158L412.1 157.8L412.4 157.7L412.6 157.7L412.9 157.7L413.2 157.8L413.5 157.9L413.8 158.1L414.1 158.4L414.4 158.6L414.7 158.9L414.9 159.1L415.2 159.2L415.5 159.3L415.8 159.3L416.1 159.2L416.4 159L416.7 158.8L417 158.5L417.2 158.3L417.5 158L417.8 157.8L418.1 157.7L418.4 157.6L418.7 157.6L419 157.7L419.3 157.8L419.5 158L419.8 158.2L420.1 158.5L420.4 158.7L420.7 158.9L421 159.1L421.3 159.1L421.6 159.1L421.8 159.1L422.1 158.9L422.4 158.7L422.7 158.5L423 158.3L423.3 158L423.6 157.9L423.9 157.7L424.1 157.7L424.4 157.7L424.7 157.8L425 157.9L425.3 158.1L425.6 158.3L425.9 158.5L426.2 158.7L426.4 158.8L426.7 158.9L427 158.9L427.3 158.8L427.6 158.7L427.9 158.5L428.2 158.4L428.4 158.2L428.7 158L429 157.8L429.3 157.7L429.6 157.7L429.9 157.7L430.2 157.8L430.5 158L430.7 158.1L431 158.3L431.3 158.6L431.6 158.7L431.9 158.9L432.2 158.9L432.5 158.9L432.8 158.8L433 158.7L433.3 158.5L433.6 158.2L433.9 158L434.2 157.8L434.5 157.6L434.8 157.4L435.1 157.4L435.3 157.4L435.6 157.5L435.9 157.7L436.2 157.9L436.5 158.1L436.8 158.4L437.1 158.7L437.4 158.9L437.6 159L437.9 159.1L438.2 159.1L438.5 158.9L438.8 158.7L439.1 158.5L439.4 158.2L439.7 157.9L439.9 157.6L440.2 157.4L440.5 157.2L440.8 157.2L441.1 157.2L441.4 157.3L441.7 157.4L442 157.7L442.2 158L442.5 158.2L442.8 158.5L443.1 158.7L443.4 158.9L443.7 159L444 159L444.3 158.9L444.5 158.7L444.8 158.5L445.1 158.2L445.4 158L445.7 157.7L446 157.5L446.3 157.4L446.6 157.3L446.8 157.3L447.1 157.4L447.4 157.5L447.7 157.7L448 157.9L448.3 158.1L448.6 158.3L448.8 158.5L449.1 158.6L449.4 158.7L449.7 158.6L450 158.5L450.3 158.4L450.6 158.2L450.9 158L451.1 157.8L451.4 157.7L451.7 157.6L452 157.5L452.3 157.5L452.6 157.5L452.9 157.7L453.2 157.8L453.4 158L453.7 158.2L454 158.3L454.3 158.4L454.6 158.5L454.9 158.5L455.2 158.5L455.5 158.4L455.7 158.3L456 158.1L456.3 157.9L456.6 157.7L456.9 157.5L457.2 157.4L457.5 157.4L457.8 157.4L458 157.5L458.3 157.6L458.6 157.8L458.9 158L459.2 158.2L459.5 158.4L459.8 158.6L460.1 158.7L460.3 158.7L460.6 158.7L460.9 158.6L461.2 158.5L461.5 158.3L461.8 158L462.1 157.8L462.4 157.6L462.6 157.4L462.9 157.3L463.2 157.2L463.5 157.3L463.8 157.4L464.1 157.5L464.4 157.7L464.7 158L464.9 158.2L465.2 158.4L465.5 158.6L465.8 158.7L466.1 158.8L466.4 158.8L466.7 158.7L467 158.6L467.2 158.4L467.5 158.2L467.8 157.9L468.1 157.7L468.4 157.5L468.7 157.4L469 157.4L469.2 157.4L469.5 157.4L469.8 157.6L470.1 157.7L470.4 157.9L470.7 158.2L471 158.4L471.3 158.5L471.5 158.6L471.8 158.7L472.1 158.7L472.4 158.6L472.7 158.5L473 158.4L473.3 158.2L473.6 158L473.8 157.9L474.1 157.7L474.4 157.7L474.7 157.6L475 157.7L475.3 157.7L475.6 157.9L475.9 158L476.1 158.2L476.4 158.3L476.7 158.5L477 158.6L477.3 158.6L477.6 158.6L477.9 158.6L478.2 158.5L478.4 158.3L478.7 158.2L479 158L479.3 157.9L479.6 157.8L479.9 157.7L480.2 157.7L480.5 157.8L480.7 157.9L481 158L481.3 158.2L481.6 158.3L481.9 158.5L482.2 158.7L482.5 158.8L482.8 158.8L483 158.8L483.3 158.7L483.6 158.6L483.9 158.5L484.2 158.3L484.5 158.1L484.8 157.9L485.1 157.7L485.3 157.6L485.6 157.6L485.9 157.6L486.2 157.7L486.5 157.9L486.8 158.1L487.1 158.3L487.4 158.5L487.6 158.7L487.9 158.9L488.2 159L488.5 159.1L488.8 159L489.1 159L489.4 158.8L489.7 158.6L489.9 158.4L490.2 158.2L490.5 158L490.8 157.8L491.1 157.7L491.4 157.6L491.7 157.6L491.9 157.7L492.2 157.9L492.5 158L492.8 158.3L493.1 158.5L493.4 158.7L493.7 158.9L494 159L494.2 159.1L494.5 159.1L494.8 159L495.1 158.9L495.4 158.7L495.7 158.5L496 158.3L496.3 158.1L496.5 158L496.8 157.9L497.1 157.8L497.4 157.9L497.7 157.9L498 158L498.3 158.2L498.6 158.4L498.8 158.5L499.1 158.7" fill="none" stroke="#ff1cf6" stroke-width="1.25" stroke-linejoin="round" />
<path d="M125.9 157.7L126.2 157.7L126.5 157.7L126.8 157.7L127 157.7L127.3 157.7L127.6 157.7L127.9 157.7L128.2 157.7L128.5 157.7L128.8 157.7L129.1 157.7L129.3 157.7L129.6 157.7L129.9 157.7L130.2 157.7L130.5 157.7L130.8 157.7L131.1 157.7L131.4 157.7L131.6 157.7L131.9 157.6L132.2 157.6L132.5 157.6L132.8 157.6L133.1 157.7L133.4 157.7L133.7 157.7L133.9 157.7L134.2 157.7L134.5 157.7L134.8 157.7L135.1 157.6L135.4 157.6L135.7 157.6L135.9 157.6L136.2 157.6L136.5 157.6L136.8 157.6L137.1 157.6L137.4 157.6L137.7 157.6L138 157.6L138.2 157.6L138.5 157.6L138.8 157.6L139.1 157.6L139.4 157.6L139.7 157.6L140 157.6L140.3 157.6L140.5 157.6L140.8 157.6L141.1 157.6L141.4 157.6L141.7 157.6L142 157.6L142.3 157.6L142.6 157.6L142.8 157.6L143.1 157.6L143.4 157.6L143.7 157.6L144 157.6L144.3 157.6L144.6 157.6L144.9 157.6L145.1 157.7L145.4 157.7L145.7 157.7L146 157.7L146.3 157.7L146.6 157.7L146.9 157.7L147.2 157.6L147.4 157.6L147.7 157.5L148 157.5L148.3 157.5L148.6 157.5L148.9 157.5L149.2 157.5L149.5 157.5L149.7 157.5L150 157.6L150.3 157.6L150.6 157.7L150.9 157.8L151.2 157.8L151.5 157.8L151.8 157.8L152 157.8L152.3 157.8L152.6 157.7L152.9 157.7L153.2 157.6L153.5 157.5L153.8 157.5L154.1 157.4L154.3 157.4L154.6 157.4L154.9 157.5L155.2 157.5L155.5 157.6L155.8 157.7L156.1 157.7L156.3 157.8L156.6 157.9L156.9 157.9L157.2 157.9L157.5 157.9L157.8 157.8L158.1 157.8L158.4 157.7L158.6 157.6L158.9 157.5L159.2 157.5L159.5 157.4L159.8 157.4L160.1 157.4L160.4 157.5L160.7 157.6L160.9 157.7L161.2 157.8L161.5 157.9L161.8 158L162.1 158.1L162.4 158.1L162.7 158.1L163 158.1L163.2 158L163.5 157.9L163.8 157.8L164.1 157.6L164.4 157.5L164.7 157.4L165 157.3L165.3 157.3L165.5 157.3L165.8 157.4L166.1 157.5L166.4 157.6L166.7 157.8L167 158L167.3 158.1L167.6 158.3L167.8 158.4L168.1 158.4L168.4 158.4L168.7 158.3L169 158.2L169.3 158L169.6 157.9L169.9 157.7L170.1 157.5L170.4 157.4L170.7 157.3L171 157.3L171.3 157.3L171.6 157.4L171.9 157.5L172.2 157.6L172.4 157.8L172.7 158L173 158.2L173.3 158.3L173.6 158.4L173.9 158.5L174.2 158.5L174.5 158.4L174.7 158.3L175 158.2L175.3 158L175.6 157.8L175.9 157.7L176.2 157.6L176.5 157.5L176.8 157.5L177 157.5L177.3 157.5L177.6 157.6L177.9 157.8L178.2 157.9L178.5 158L178.8 158.2L179 158.3L179.3 158.4L179.6 158.4L179.9 158.4L180.2 158.3L180.5 158.2L180.8 158.1L181.1 158L181.3 157.8L181.6 157.7L181.9 157.7L182.2 157.6L182.5 157.6L182.8 157.7L183.1 157.8L183.4 157.9L183.6 158L183.9 158.2L184.2 158.3L184.5 158.4L184.8 158.4L185.1 158.4L185.4 158.4L185.7 158.3L185.9 158.2L186.2 158.1L186.5 157.9L186.8 157.8L187.1 157.7L187.4 157.6L187.7 157.5L188 157.5L188.2 157.6L188.5 157.7L188.8 157.9L189.1 158.1L189.4 158.2L189.7 158.4L190 158.5L190.3 158.6L190.5 158.7L190.8 158.6L191.1 158.6L191.4 158.4L191.7 158.3L192 158.1L192.3 157.9L192.6 157.7L192.8 157.5L193.1 157.4L193.4 157.4L193.7 157.4L194 157.5L194.3 157.6L194.6 157.8L194.9 158L195.1 158.2L195.4 158.4L195.7 158.6L196 158.7L196.3 158.8L196.6 158.7L196.9 158.7L197.2 158.5L197.4 158.4L197.7 158.1L198 157.9L198.3 157.7L198.6 157.6L198.9 157.4L199.2 157.4L199.4 157.4L199.7 157.5L200 157.6L200.3 157.7L200.6 157.9L200.9 158.1L201.2 158.3L201.5 158.5L201.7 158.6L202 158.6L202.3 158.6L202.6 158.5L202.9 158.4L203.2 158.2L203.5 158.1L203.8 157.9L204 157.7L204.3 157.6L204.6 157.5L204.9 157.5L205.2 157.5L205.5 157.6L205.8 157.7L206.1 157.9L206.3 158.1L206.6 158.2L206.9 158.3L207.2 158.4L207.5 158.4L207.8 158.4L208.1 158.3L208.4 158.2L208.6 158.1L208.9 157.9L209.2 157.7L209.5 157.6L209.8 157.5L210.1 157.4L210.4 157.4L210.7 157.5L210.9 157.6L211.2 157.7L211.5 157.9L211.8 158.1L212.1 158.3L212.4 158.4L212.7 158.5L213 158.5L213.2 158.5L213.5 158.4L213.8 158.3L214.1 158.1L214.4 157.9L214.7 157.6L215 157.4L215.3 157.3L215.5 157.2L215.8 157.1L216.1 157.1L216.4 157.2L216.7 157.4L217 157.6L217.3 157.8L217.6 158.1L217.8 158.3L218.1 158.5L218.4 158.6L218.7 158.6L219 158.6L219.3 158.5L219.6 158.3L219.8 158.1L220.1 157.9L220.4 157.6L220.7 157.4L221 157.2L221.3 157L221.6 157L221.9 157L222.1 157.1L222.4 157.2L222.7 157.4L223 157.6L223.3 157.9L223.6 158.1L223.9 158.3L224.2 158.4L224.4 158.5L224.7 158.4L225 158.4L225.3 158.2L225.6 158L225.9 157.8L226.2 157.6L226.5 157.4L226.7 157.3L227 157.1L227.3 157.1L227.6 157.1L227.9 157.2L228.2 157.3L228.5 157.5L228.8 157.7L229 157.8L229.3 158L229.6 158.1L229.9 158.2L230.2 158.2L230.5 158.1L230.8 158L231.1 157.9L231.3 157.7L231.6 157.6L231.9 157.4L232.2 157.3L232.5 157.2L232.8 157.2L233.1 157.2L233.4 157.3L233.6 157.4L233.9 157.5L234.2 157.7L234.5 157.9L234.8 158L235.1 158.1L235.4 158.2L235.7 158.2L235.9 158.1L236.2 158L236.5 157.8L236.8 157.6L237.1 157.4L237.4 157.3L237.7 157.1L238 157L238.2 157L238.5 157L238.8 157.1L239.1 157.2L239.4 157.4L239.7 157.6L240 157.8L240.2 158L240.5 158.2L240.8 158.3L241.1 158.3L241.4 158.3L241.7 158.2L242 158L242.3 157.8L242.5 157.6L242.8 157.4L243.1 157.2L243.4 157L243.7 156.9L244 156.9L244.3 156.9L244.6 157L244.8 157.1L245.1 157.3L245.4 157.5L245.7 157.8L246 158L246.3 158.1L246.6 158.2L246.9 158.3L247.1 158.3L247.4 158.2L247.7 158.1L248 157.9L248.3 157.7L248.6 157.5L248.9 157.3L249.2 157.2L249.4 157.1L249.7 157L250 157L250.3 157.1L250.6 157.2L250.9 157.4L251.2 157.5L251.5 157.7L251.7 157.9L252 158L252.3 158.1L252.6 158.1L252.9 158.1L253.2 158L253.5 157.9L253.8 157.8L254 157.7L254.3 157.5L254.6 157.4L254.9 157.3L255.2 157.3L255.5 157.3L255.8 157.3L256.1 157.4L256.3 157.5L256.6 157.6L256.9 157.8L257.2 157.9L257.5 158L257.8 158.1L258.1 158.1L258.4 158.1L258.6 158L258.9 157.9L259.2 157.8L259.5 157.6L259.8 157.5L260.1 157.4L260.4 157.3L260.6 157.3L260.9 157.3L261.2 157.4L261.5 157.5L261.8 157.6L262.1 157.7L262.4 157.9L262.7 158.1L262.9 158.2L263.2 158.3L263.5 158.3L263.8 158.3L264.1 158.2L264.4 158.1L264.7 157.9L265 157.8L265.2 157.6L265.5 157.4L265.8 157.3L266.1 157.2L266.4 157.2L266.7 157.2L267 157.3L267.3 157.5L267.5 157.6L267.8 157.8L268.1 158L268.4 158.2L268.7 158.3L269 158.4L269.3 158.4L269.6 158.4L269.8 158.4L270.1 158.3L270.4 158.1L270.7 157.9L271 157.8L271.3 157.6L271.6 157.5L271.9 157.4L272.1 157.3L272.4 157.3L272.7 157.4L273 157.5L273.3 157.7L273.6 157.8L273.9 158L274.2 158.2L274.4 158.3L274.7 158.4L275 158.4L275.3 158.4L275.6 158.4L275.9 158.3L276.2 158.1L276.5 158L276.7 157.9L277 157.7L277.3 157.6L277.6 157.6L277.9 157.6L278.2 157.6L278.5 157.6L278.8 157.7L279 157.9L279.3 158L279.6 158.1L279.9 158.2L280.2 158.3L280.5 158.3L280.8 158.3L281.1 158.3L281.3 158.2L281.6 158.1L281.9 158L282.2 157.9L282.5 157.8L282.8 157.7L283.1 157.7L283.3 157.7L283.6 157.7L283.9 157.8L284.2 157.9L284.5 158L284.8 158.1L285.1 158.3L285.4 158.4L285.6 158.4L285.9 158.5L286.2 158.5L286.5 158.4L286.8 158.3L287.1 158.2L287.4 158L287.7 157.9L287.9 157.8L288.2 157.6L288.5 157.6L288.8 157.5L289.1 157.6L289.4 157.6L289.7 157.8L290 157.9L290.2 158.1L290.5 158.2L290.8 158.4L291.1 158.5L291.4 158.6L291.7 158.6L292 158.6L292.3 158.5L292.5 158.4L292.8 158.3L293.1 158.1L293.4 157.9L293.7 157.7L294 157.6L294.3 157.5L294.6 157.5L294.8 157.5L295.1 157.6L295.4 157.7L295.7 157.8L296 158L296.3 158.2L296.6 158.3L296.9 158.4L297.1 158.5L297.4 158.6L297.7 158.6L298 158.5L298.3 158.4L298.6 158.3L298.9 158.1L299.2 158L299.4 157.8L299.7 157.7L300 157.6L300.3 157.6L300.6 157.6L300.9 157.6L301.2 157.7L301.5 157.8L301.7 158L302 158.1L302.3 158.2L302.6 158.3L302.9 158.4L303.2 158.4L303.5 158.4L303.7 158.3L304 158.2L304.3 158.1L304.6 158L304.9 157.8L305.2 157.7L305.5 157.7L305.8 157.6L306 157.6L306.3 157.7L306.6 157.8L306.9 157.9L307.2 158L307.5 158.1L307.8 158.2L308.1 158.3L308.3 158.3L308.6 158.3L308.9 158.3L309.2 158.2L309.5 158.1L309.8 158L310.1 157.8L310.4 157.7L310.6 157.6L310.9 157.5L311.2 157.5L311.5 157.5L311.8 157.5L312.1 157.6L312.4 157.8L312.7 157.9L312.9 158.1L313.2 158.2L313.5 158.3L313.8 158.4L314.1 158.4L314.4 158.4L314.7 158.3L315 158.2L315.2 158L315.5 157.9L315.8 157.7L316.1 157.5L316.4 157.4L316.7 157.3L317 157.3L317.3 157.3L317.5 157.4L317.8 157.5L318.1 157.6L318.4 157.8L318.7 158L319 158.1L319.3 158.2L319.6 158.3L319.8 158.4L320.1 158.3L320.4 158.3L320.7 158.2L321 158L321.3 157.8L321.6 157.7L321.9 157.5L322.1 157.4L322.4 157.3L322.7 157.2L323 157.2L323.3 157.3L323.6 157.4L323.9 157.5L324.1 157.7L324.4 157.8L324.7 157.9L325 158.1L325.3 158.1L325.6 158.2L325.9 158.1L326.2 158.1L326.4 158L326.7 157.9L327 157.7L327.3 157.6L327.6 157.5L327.9 157.4L328.2 157.3L328.5 157.3L328.7 157.3L329 157.4L329.3 157.5L329.6 157.6L329.9 157.7L330.2 157.8L330.5 157.9L330.8 158L331 158L331.3 158L331.6 157.9L331.9 157.8L332.2 157.7L332.5 157.6L332.8 157.5L333.1 157.4L333.3 157.3L333.6 157.3L333.9 157.3L334.2 157.3L334.5 157.4L334.8 157.5L335.1 157.6L335.4 157.8L335.6 157.9L335.9 158L336.2 158.1L336.5 158.1L336.8 158.1L337.1 158L337.4 157.9L337.7 157.7L337.9 157.6L338.2 157.4L338.5 157.3L338.8 157.2L339.1 157.1L339.4 157.1L339.7 157.1L340 157.2L340.2 157.3L340.5 157.4L340.8 157.6L341.1 157.8L341.4 157.9L341.7 158.1L342 158.2L342.3 158.2L342.5 158.2L342.8 158.1L343.1 158L343.4 157.8L343.7 157.6L344 157.5L344.3 157.3L344.5 157.1L344.8 157.1L345.1 157L345.4 157L345.7 157.1L346 157.2L346.3 157.4L346.6 157.5L346.8 157.7L347.1 157.9L347.4 158L347.7 158.1L348 158.2L348.3 158.2L348.6 158.1L348.9 158L349.1 157.9L349.4 157.7L349.7 157.5L350 157.4L350.3 157.3L350.6 157.2L350.9 157.2L351.2 157.2L351.4 157.2L351.7 157.3L352 157.5L352.3 157.6L352.6 157.8L352.9 157.9L353.2 158L353.5 158.1L353.7 158.1L354 158L354.3 158L354.6 157.8L354.9 157.7L355.2 157.6L355.5 157.5L355.8 157.4L356 157.3L356.3 157.3L356.6 157.3L356.9 157.4L357.2 157.5L357.5 157.6L357.8 157.8L358.1 157.9L358.3 158L358.6 158.1L358.9 158.2L359.2 158.2L359.5 158.1L359.8 158L360.1 157.9L360.4 157.7L360.6 157.6L360.9 157.4L361.2 157.3L361.5 157.2L361.8 157.2L362.1 157.2L362.4 157.3L362.7 157.4L362.9 157.6L363.2 157.8L363.5 158L363.8 158.2L364.1 158.3L364.4 158.4L364.7 158.5L364.9 158.4L365.2 158.3L365.5 158.2L365.8 158L366.1 157.8L366.4 157.6L366.7 157.4L367 157.3L367.2 157.2L367.5 157.1L367.8 157.2L368.1 157.2L368.4 157.4L368.7 157.6L369 157.8L369.3 158L369.5 158.2L369.8 158.4L370.1 158.5L370.4 158.6L370.7 158.6L371 158.5L371.3 158.3L371.6 158.2L371.8 158L372.1 157.8L372.4 157.6L372.7 157.5L373 157.4L373.3 157.3L373.6 157.3L373.9 157.4L374.1 157.5L374.4 157.7L374.7 157.9L375 158L375.3 158.2L375.6 158.3L375.9 158.4L376.2 158.5L376.4 158.4L376.7 158.4L377 158.3L377.3 158.1L377.6 158L377.9 157.8L378.2 157.7L378.5 157.6L378.7 157.6L379 157.6L379.3 157.6L379.6 157.7L379.9 157.8L380.2 158L380.5 158.1L380.8 158.2L381 158.4L381.3 158.4L381.6 158.4L381.9 158.4L382.2 158.3L382.5 158.2L382.8 158.1L383.1 157.9L383.3 157.8L383.6 157.7L383.9 157.6L384.2 157.6L384.5 157.6L384.8 157.6L385.1 157.7L385.4 157.9L385.6 158.1L385.9 158.2L386.2 158.4L386.5 158.5L386.8 158.6L387.1 158.6L387.4 158.6L387.6 158.5L387.9 158.4L388.2 158.2L388.5 158L388.8 157.8L389.1 157.7L389.4 157.6L389.7 157.5L389.9 157.4L390.2 157.5L390.5 157.6L390.8 157.7L391.1 157.9L391.4 158L391.7 158.2L392 158.4L392.2 158.6L392.5 158.6L392.8 158.7L393.1 158.7L393.4 158.6L393.7 158.5L394 158.3L394.3 158.1L394.5 157.9L394.8 157.7L395.1 157.6L395.4 157.5L395.7 157.5L396 157.5L396.3 157.5L396.6 157.7L396.8 157.8L397.1 158L397.4 158.1L397.7 158.3L398 158.4L398.3 158.5L398.6 158.5L398.9 158.5L399.1 158.5L399.4 158.4L399.7 158.2L400 158.1L400.3 157.9L400.6 157.8L400.9 157.7L401.2 157.6L401.4 157.6L401.7 157.6L402 157.7L402.3 157.8L402.6 157.9L402.9 158L403.2 158.1L403.5 158.3L403.7 158.3L404 158.4L404.3 158.3L404.6 158.3L404.9 158.2L405.2 158.1L405.5 158L405.8 157.8L406 157.7L406.3 157.6L406.6 157.6L406.9 157.6L407.2 157.6L407.5 157.7L407.8 157.8L408 157.9L408.3 158.1L408.6 158.2L408.9 158.3L409.2 158.4L409.5 158.4L409.8 158.4L410.1 158.3L410.3 158.2L410.6 158L410.9 157.9L411.2 157.7L411.5 157.6L411.8 157.4L412.1 157.4L412.4 157.3L412.6 157.4L412.9 157.4L413.2 157.6L413.5 157.7L413.8 157.9L414.1 158.1L414.4 158.2L414.7 158.4L414.9 158.5L415.2 158.5L415.5 158.4L415.8 158.4L416.1 158.2L416.4 158L416.7 157.8L417 157.6L417.2 157.5L417.5 157.3L417.8 157.2L418.1 157.1L418.4 157.2L418.7 157.2L419 157.4L419.3 157.5L419.5 157.7L419.8 157.9L420.1 158.1L420.4 158.3L420.7 158.4L421 158.4L421.3 158.4L421.6 158.3L421.8 158.2L422.1 158L422.4 157.8L422.7 157.6L423 157.5L423.3 157.3L423.6 157.2L423.9 157.2L424.1 157.2L424.4 157.2L424.7 157.4L425 157.5L425.3 157.7L425.6 157.8L425.9 158L426.2 158.1L426.4 158.2L426.7 158.2L427 158.1L427.3 158.1L427.6 157.9L427.9 157.8L428.2 157.6L428.4 157.5L428.7 157.3L429 157.3L429.3 157.2L429.6 157.2L429.9 157.3L430.2 157.4L430.5 157.5L430.7 157.7L431 157.8L431.3 158L431.6 158.1L431.9 158.1L432.2 158.1L432.5 158.1L432.8 158L433 157.8L433.3 157.6L433.6 157.5L433.9 157.3L434.2 157.2L434.5 157.1L434.8 157L435.1 157.1L435.3 157.1L435.6 157.3L435.9 157.5L436.2 157.6L436.5 157.8L436.8 158L437.1 158.2L437.4 158.3L437.6 158.3L437.9 158.2L438.2 158.1L438.5 158L438.8 157.8L439.1 157.6L439.4 157.4L439.7 157.2L439.9 157L440.2 156.9L440.5 156.9L440.8 156.9L441.1 157L441.4 157.2L441.7 157.4L442 157.6L442.2 157.8L442.5 158L442.8 158.2L443.1 158.3L443.4 158.3L443.7 158.3L444 158.2L444.3 158.1L444.5 157.9L444.8 157.7L445.1 157.5L445.4 157.3L445.7 157.1L446 157L446.3 157L446.6 157L446.8 157.1L447.1 157.2L447.4 157.4L447.7 157.5L448 157.7L448.3 157.9L448.6 158L448.8 158.1L449.1 158.2L449.4 158.1L449.7 158.1L450 158L450.3 157.8L450.6 157.7L450.9 157.5L451.1 157.4L451.4 157.3L451.7 157.2L452 157.2L452.3 157.3L452.6 157.3L452.9 157.5L453.2 157.6L453.4 157.7L453.7 157.9L454 158L454.3 158L454.6 158.1L454.9 158.1L455.2 158L455.5 157.9L455.7 157.8L456 157.6L456.3 157.5L456.6 157.4L456.9 157.3L457.2 157.3L457.5 157.3L457.8 157.3L458 157.4L458.3 157.6L458.6 157.7L458.9 157.9L459.2 158L459.5 158.1L459.8 158.2L460.1 158.2L460.3 158.2L460.6 158.2L460.9 158L461.2 157.9L461.5 157.7L461.8 157.6L462.1 157.4L462.4 157.3L462.6 157.2L462.9 157.2L463.2 157.2L463.5 157.3L463.8 157.5L464.1 157.6L464.4 157.8L464.7 158L464.9 158.2L465.2 158.3L465.5 158.4L465.8 158.4L466.1 158.4L466.4 158.3L466.7 158.2L467 158L467.2 157.9L467.5 157.7L467.8 157.5L468.1 157.4L468.4 157.3L468.7 157.3L469 157.3L469.2 157.4L469.5 157.5L469.8 157.7L470.1 157.8L470.4 158L470.7 158.2L471 158.3L471.3 158.4L471.5 158.4L471.8 158.4L472.1 158.4L472.4 158.3L472.7 158.1L473 158L473.3 157.8L473.6 157.7L473.8 157.6L474.1 157.5L474.4 157.5L474.7 157.5L475 157.6L475.3 157.7L475.6 157.8L475.9 158L476.1 158.1L476.4 158.2L476.7 158.3L477 158.3L477.3 158.3L477.6 158.3L477.9 158.2L478.2 158.1L478.4 158L478.7 157.9L479 157.8L479.3 157.7L479.6 157.7L479.9 157.7L480.2 157.7L480.5 157.7L480.7 157.8L481 158L481.3 158.1L481.6 158.2L481.9 158.3L482.2 158.4L482.5 158.4L482.8 158.4L483 158.4L483.3 158.3L483.6 158.2L483.9 158L484.2 157.9L484.5 157.8L484.8 157.7L485.1 157.6L485.3 157.6L485.6 157.6L485.9 157.7L486.2 157.8L486.5 157.9L486.8 158.1L487.1 158.2L487.4 158.4L487.6 158.5L487.9 158.6L488.2 158.6L488.5 158.6L488.8 158.5L489.1 158.4L489.4 158.2L489.7 158L489.9 157.9L490.2 157.7L490.5 157.6L490.8 157.5L491.1 157.5L491.4 157.5L491.7 157.6L491.9 157.7L492.2 157.9L492.5 158L492.8 158.2L493.1 158.4L493.4 158.5L493.7 158.6L494 158.6L494.2 158.6L494.5 158.5L494.8 158.4L495.1 158.3L495.4 158.1L495.7 157.9L496 157.8L496.3 157.7L496.5 157.6L496.8 157.6L497.1 157.6L497.4 157.6L497.7 157.7L498 157.8L498.3 158L498.6 158.1L498.8 158.3L499.1 158.4" fill="none" stroke="#30c838" stroke-width="1.25" stroke-linejoin="round" />
<path d="M125.9 157.8L126.2 157.8L126.5 157.8L126.8 157.8L127 157.8L127.3 157.8L127.6 157.8L127.9 157.8L128.2 157.8L128.5 157.8L128.8 157.8L129.1 157.8L129.3 157.8L129.6 157.8L129.9 157.8L130.2 157.8L130.5 157.8L130.8 157.8L131.1 157.8L131.4 157.8L131.6 157.8L131.9 157.8L132.2 157.8L132.5 157.8L132.8 157.8L133.1 157.8L133.4 157.8L133.7 157.8L133.9 157.8L134.2 157.8L134.5 157.8L134.8 157.8L135.1 157.8L135.4 157.8L135.7 157.8L135.9 157.8L136.2 157.8L136.5 157.8L136.8 157.8L137.1 157.8L137.4 157.8L137.7 157.8L138 157.8L138.2 157.8L138.5 157.8L138.8 157.8L139.1 157.8L139.4 157.8L139.7 157.8L140 157.8L140.3 157.8L140.5 157.8L140.8 157.8L141.1 157.8L141.4 157.8L141.7 157.8L142 157.8L142.3 157.8L142.6 157.8L142.8 157.8L143.1 157.8L143.4 157.9L143.7 157.9L144 157.9L144.3 157.9L144.6 157.9L144.9 157.9L145.1 157.9L145.4 158L145.7 158L146 158L146.3 157.9L146.6 157.9L146.9 157.9L147.2 157.9L147.4 157.9L147.7 157.8L148 157.8L148.3 157.8L148.6 157.8L148.9 157.8L149.2 157.9L149.5 157.9L149.7 157.9L150 158L150.3 158L150.6 158.1L150.9 158.1L151.2 158.1L151.5 158.1L151.8 158.1L152 158.1L152.3 158.1L152.6 158L152.9 158L153.2 157.9L153.5 157.9L153.8 157.8L154.1 157.8L154.3 157.8L154.6 157.9L154.9 157.9L155.2 158L155.5 158L155.8 158.1L156.1 158.2L156.3 158.2L156.6 158.2L156.9 158.2L157.2 158.2L157.5 158.2L157.8 158.2L158.1 158.1L158.4 158L158.6 158L158.9 157.9L159.2 157.9L159.5 157.9L159.8 157.9L160.1 157.9L160.4 158L160.7 158.1L160.9 158.1L161.2 158.2L161.5 158.3L161.8 158.4L162.1 158.4L162.4 158.4L162.7 158.4L163 158.3L163.2 158.2L163.5 158.1L163.8 158L164.1 157.9L164.4 157.9L164.7 157.8L165 157.8L165.3 157.8L165.5 157.9L165.8 158L166.1 158.1L166.4 158.2L166.7 158.3L167 158.4L167.3 158.5L167.6 158.6L167.8 158.6L168.1 158.6L168.4 158.5L168.7 158.4L169 158.3L169.3 158.2L169.6 158L169.9 157.9L170.1 157.8L170.4 157.8L170.7 157.8L171 157.8L171.3 157.8L171.6 157.9L171.9 158.1L172.2 158.2L172.4 158.3L172.7 158.5L173 158.6L173.3 158.6L173.6 158.7L173.9 158.6L174.2 158.6L174.5 158.5L174.7 158.4L175 158.3L175.3 158.1L175.6 158L175.9 157.9L176.2 157.9L176.5 157.8L176.8 157.8L177 157.9L177.3 158L177.6 158.1L177.9 158.2L178.2 158.3L178.5 158.4L178.8 158.5L179 158.6L179.3 158.6L179.6 158.6L179.9 158.5L180.2 158.4L180.5 158.3L180.8 158.2L181.1 158.1L181.3 158L181.6 158L181.9 157.9L182.2 157.9L182.5 158L182.8 158L183.1 158.1L183.4 158.2L183.6 158.3L183.9 158.4L184.2 158.4L184.5 158.5L184.8 158.5L185.1 158.5L185.4 158.4L185.7 158.3L185.9 158.2L186.2 158.1L186.5 158L186.8 157.9L187.1 157.9L187.4 157.8L187.7 157.9L188 157.9L188.2 158L188.5 158.1L188.8 158.2L189.1 158.3L189.4 158.4L189.7 158.5L190 158.6L190.3 158.6L190.5 158.6L190.8 158.5L191.1 158.4L191.4 158.3L191.7 158.1L192 158L192.3 157.8L192.6 157.7L192.8 157.7L193.1 157.6L193.4 157.7L193.7 157.7L194 157.8L194.3 158L194.6 158.1L194.9 158.3L195.1 158.4L195.4 158.5L195.7 158.6L196 158.6L196.3 158.6L196.6 158.5L196.9 158.4L197.2 158.3L197.4 158.1L197.7 157.9L198 157.8L198.3 157.6L198.6 157.6L198.9 157.5L199.2 157.5L199.4 157.6L199.7 157.7L200 157.8L200.3 158L200.6 158.1L200.9 158.3L201.2 158.4L201.5 158.5L201.7 158.5L202 158.5L202.3 158.4L202.6 158.3L202.9 158.2L203.2 158L203.5 157.9L203.8 157.8L204 157.7L204.3 157.6L204.6 157.6L204.9 157.6L205.2 157.6L205.5 157.7L205.8 157.8L206.1 158L206.3 158.1L206.6 158.2L206.9 158.3L207.2 158.3L207.5 158.3L207.8 158.2L208.1 158.2L208.4 158L208.6 157.9L208.9 157.8L209.2 157.7L209.5 157.6L209.8 157.5L210.1 157.5L210.4 157.6L210.7 157.6L210.9 157.7L211.2 157.9L211.5 158L211.8 158.1L212.1 158.2L212.4 158.3L212.7 158.3L213 158.3L213.2 158.2L213.5 158.1L213.8 158L214.1 157.8L214.4 157.7L214.7 157.5L215 157.4L215.3 157.3L215.5 157.3L215.8 157.3L216.1 157.4L216.4 157.5L216.7 157.7L217 157.9L217.3 158L217.6 158.2L217.8 158.3L218.1 158.4L218.4 158.4L218.7 158.4L219 158.3L219.3 158.1L219.6 158L219.8 157.8L220.1 157.6L220.4 157.4L220.7 157.3L221 157.2L221.3 157.2L221.6 157.2L221.9 157.3L222.1 157.4L222.4 157.6L222.7 157.8L223 157.9L223.3 158.1L223.6 158.2L223.9 158.3L224.2 158.4L224.4 158.3L224.7 158.3L225 158.1L225.3 158L225.6 157.8L225.9 157.7L226.2 157.5L226.5 157.4L226.7 157.3L227 157.3L227.3 157.3L227.6 157.4L227.9 157.5L228.2 157.6L228.5 157.7L228.8 157.9L229 158L229.3 158.1L229.6 158.2L229.9 158.2L230.2 158.2L230.5 158.1L230.8 158L231.1 157.9L231.3 157.7L231.6 157.6L231.9 157.5L232.2 157.5L232.5 157.4L232.8 157.4L233.1 157.5L233.4 157.6L233.6 157.7L233.9 157.8L234.2 157.9L234.5 158L234.8 158.1L235.1 158.2L235.4 158.2L235.7 158.1L235.9 158L236.2 157.9L236.5 157.8L236.8 157.7L237.1 157.6L237.4 157.5L237.7 157.4L238 157.4L238.2 157.4L238.5 157.5L238.8 157.6L239.1 157.7L239.4 157.9L239.7 158L240 158.2L240.2 158.3L240.5 158.3L240.8 158.3L241.1 158.3L241.4 158.2L241.7 158.1L242 158L242.3 157.8L242.5 157.7L242.8 157.5L243.1 157.4L243.4 157.4L243.7 157.3L244 157.4L244.3 157.5L244.6 157.6L244.8 157.7L245.1 157.9L245.4 158.1L245.7 158.2L246 158.3L246.3 158.4L246.6 158.5L246.9 158.4L247.1 158.4L247.4 158.3L247.7 158.1L248 158L248.3 157.8L248.6 157.7L248.9 157.6L249.2 157.5L249.4 157.5L249.7 157.5L250 157.6L250.3 157.7L250.6 157.8L250.9 157.9L251.2 158.1L251.5 158.2L251.7 158.3L252 158.4L252.3 158.4L252.6 158.4L252.9 158.3L253.2 158.3L253.5 158.2L253.8 158L254 157.9L254.3 157.8L254.6 157.8L254.9 157.7L255.2 157.7L255.5 157.7L255.8 157.8L256.1 157.9L256.3 158L256.6 158.1L256.9 158.2L257.2 158.3L257.5 158.3L257.8 158.4L258.1 158.4L258.4 158.3L258.6 158.2L258.9 158.2L259.2 158.1L259.5 158L259.8 157.9L260.1 157.8L260.4 157.8L260.6 157.8L260.9 157.9L261.2 157.9L261.5 158L261.8 158.1L262.1 158.2L262.4 158.4L262.7 158.4L262.9 158.5L263.2 158.5L263.5 158.5L263.8 158.4L264.1 158.4L264.4 158.2L264.7 158.1L265 158L265.2 157.9L265.5 157.8L265.8 157.8L266.1 157.8L266.4 157.8L266.7 157.9L267 158L267.3 158.1L267.5 158.2L267.8 158.4L268.1 158.5L268.4 158.6L268.7 158.6L269 158.6L269.3 158.6L269.6 158.6L269.8 158.5L270.1 158.3L270.4 158.2L270.7 158.1L271 158L271.3 157.9L271.6 157.8L271.9 157.8L272.1 157.8L272.4 157.9L272.7 157.9L273 158.1L273.3 158.2L273.6 158.3L273.9 158.4L274.2 158.5L274.4 158.6L274.7 158.6L275 158.6L275.3 158.6L275.6 158.5L275.9 158.4L276.2 158.3L276.5 158.1L276.7 158L277 158L277.3 157.9L277.6 157.9L277.9 157.9L278.2 158L278.5 158L278.8 158.1L279 158.2L279.3 158.3L279.6 158.4L279.9 158.5L280.2 158.5L280.5 158.5L280.8 158.5L281.1 158.4L281.3 158.3L281.6 158.3L281.9 158.2L282.2 158.1L282.5 158L282.8 158L283.1 158L283.3 158L283.6 158L283.9 158.1L284.2 158.2L284.5 158.3L284.8 158.3L285.1 158.4L285.4 158.5L285.6 158.5L285.9 158.5L286.2 158.4L286.5 158.4L286.8 158.3L287.1 158.2L287.4 158.1L287.7 158L287.9 157.9L288.2 157.8L288.5 157.8L288.8 157.8L289.1 157.9L289.4 158L289.7 158.1L290 158.2L290.2 158.3L290.5 158.4L290.8 158.5L291.1 158.5L291.4 158.5L291.7 158.5L292 158.4L292.3 158.3L292.5 158.2L292.8 158.1L293.1 158L293.4 157.8L293.7 157.8L294 157.7L294.3 157.7L294.6 157.7L294.8 157.8L295.1 157.8L295.4 158L295.7 158.1L296 158.2L296.3 158.3L296.6 158.4L296.9 158.5L297.1 158.5L297.4 158.5L297.7 158.4L298 158.3L298.3 158.2L298.6 158.1L298.9 157.9L299.2 157.8L299.4 157.7L299.7 157.7L300 157.6L300.3 157.7L300.6 157.7L300.9 157.8L301.2 157.9L301.5 158L301.7 158.1L302 158.2L302.3 158.2L302.6 158.3L302.9 158.3L303.2 158.3L303.5 158.2L303.7 158.1L304 158.1L304.3 158L304.6 157.9L304.9 157.8L305.2 157.7L305.5 157.7L305.8 157.7L306 157.7L306.3 157.8L306.6 157.8L306.9 157.9L307.2 158L307.5 158.1L307.8 158.1L308.1 158.2L308.3 158.2L308.6 158.1L308.9 158.1L309.2 158L309.5 157.9L309.8 157.8L310.1 157.7L310.4 157.7L310.6 157.6L310.9 157.6L311.2 157.6L311.5 157.6L311.8 157.7L312.1 157.8L312.4 157.9L312.7 158L312.9 158.1L313.2 158.1L313.5 158.2L313.8 158.2L314.1 158.2L314.4 158.1L314.7 158L315 157.9L315.2 157.8L315.5 157.7L315.8 157.6L316.1 157.5L316.4 157.4L316.7 157.4L317 157.4L317.3 157.5L317.5 157.6L317.8 157.7L318.1 157.8L318.4 158L318.7 158.1L319 158.2L319.3 158.2L319.6 158.2L319.8 158.2L320.1 158.1L320.4 158L320.7 157.9L321 157.8L321.3 157.7L321.6 157.5L321.9 157.4L322.1 157.4L322.4 157.4L322.7 157.4L323 157.4L323.3 157.5L323.6 157.6L323.9 157.7L324.1 157.9L324.4 158L324.7 158.1L325 158.1L325.3 158.1L325.6 158.1L325.9 158.1L326.2 158L326.4 157.9L326.7 157.8L327 157.7L327.3 157.6L327.6 157.5L327.9 157.5L328.2 157.5L328.5 157.5L328.7 157.5L329 157.6L329.3 157.7L329.6 157.8L329.9 157.9L330.2 158L330.5 158L330.8 158L331 158L331.3 158L331.6 157.9L331.9 157.9L332.2 157.8L332.5 157.7L332.8 157.6L333.1 157.6L333.3 157.5L333.6 157.5L333.9 157.6L334.2 157.6L334.5 157.7L334.8 157.8L335.1 157.9L335.4 158L335.6 158.1L335.9 158.1L336.2 158.1L336.5 158.1L336.8 158.1L337.1 158L337.4 157.9L337.7 157.8L337.9 157.7L338.2 157.6L338.5 157.5L338.8 157.5L339.1 157.5L339.4 157.5L339.7 157.6L340 157.7L340.2 157.8L340.5 157.9L340.8 158L341.1 158.1L341.4 158.2L341.7 158.3L342 158.3L342.3 158.3L342.5 158.2L342.8 158.1L343.1 158L343.4 157.9L343.7 157.7L344 157.6L344.3 157.5L344.5 157.5L344.8 157.5L345.1 157.5L345.4 157.5L345.7 157.6L346 157.8L346.3 157.9L346.6 158.1L346.8 158.2L347.1 158.3L347.4 158.4L347.7 158.4L348 158.4L348.3 158.3L348.6 158.2L348.9 158.1L349.1 158L349.4 157.9L349.7 157.8L350 157.7L350.3 157.6L350.6 157.6L350.9 157.6L351.2 157.7L351.4 157.8L351.7 157.9L352 158L352.3 158.1L352.6 158.2L352.9 158.3L353.2 158.4L353.5 158.4L353.7 158.3L354 158.3L354.3 158.2L354.6 158.1L354.9 158L355.2 157.9L355.5 157.8L355.8 157.8L356 157.8L356.3 157.8L356.6 157.8L356.9 157.9L357.2 158L357.5 158.1L357.8 158.2L358.1 158.3L358.3 158.4L358.6 158.4L358.9 158.4L359.2 158.4L359.5 158.3L359.8 158.2L360.1 158.1L360.4 158L360.6 157.9L360.9 157.8L361.2 157.8L361.5 157.8L361.8 157.8L362.1 157.8L362.4 157.9L362.7 158.1L362.9 158.2L363.2 158.3L363.5 158.5L363.8 158.6L364.1 158.6L364.4 158.6L364.7 158.6L364.9 158.5L365.2 158.4L365.5 158.3L365.8 158.1L366.1 158L366.4 157.9L366.7 157.7L367 157.7L367.2 157.7L367.5 157.7L367.8 157.8L368.1 157.9L368.4 158.1L368.7 158.2L369 158.4L369.3 158.5L369.5 158.6L369.8 158.7L370.1 158.7L370.4 158.7L370.7 158.6L371 158.5L371.3 158.4L371.6 158.2L371.8 158.1L372.1 157.9L372.4 157.8L372.7 157.8L373 157.7L373.3 157.7L373.6 157.8L373.9 157.9L374.1 158.1L374.4 158.2L374.7 158.3L375 158.5L375.3 158.6L375.6 158.6L375.9 158.7L376.2 158.6L376.4 158.6L376.7 158.5L377 158.4L377.3 158.2L377.6 158.1L377.9 158L378.2 157.9L378.5 157.9L378.7 157.9L379 157.9L379.3 158L379.6 158.1L379.9 158.2L380.2 158.3L380.5 158.4L380.8 158.5L381 158.5L381.3 158.5L381.6 158.5L381.9 158.5L382.2 158.4L382.5 158.3L382.8 158.2L383.1 158.1L383.3 158L383.6 157.9L383.9 157.9L384.2 157.9L384.5 157.9L384.8 158L385.1 158.1L385.4 158.2L385.6 158.3L385.9 158.4L386.2 158.5L386.5 158.5L386.8 158.6L387.1 158.5L387.4 158.5L387.6 158.4L387.9 158.2L388.2 158.1L388.5 158L388.8 157.9L389.1 157.8L389.4 157.7L389.7 157.7L389.9 157.7L390.2 157.8L390.5 157.9L390.8 158L391.1 158.2L391.4 158.3L391.7 158.4L392 158.5L392.2 158.6L392.5 158.6L392.8 158.5L393.1 158.5L393.4 158.4L393.7 158.2L394 158.1L394.3 157.9L394.5 157.8L394.8 157.7L395.1 157.6L395.4 157.6L395.7 157.6L396 157.7L396.3 157.8L396.6 157.9L396.8 158L397.1 158.2L397.4 158.3L397.7 158.4L398 158.4L398.3 158.5L398.6 158.4L398.9 158.4L399.1 158.3L399.4 158.2L399.7 158L400 157.9L400.3 157.8L400.6 157.7L400.9 157.7L401.2 157.6L401.4 157.7L401.7 157.7L402 157.8L402.3 157.9L402.6 158L402.9 158.1L403.2 158.2L403.5 158.2L403.7 158.2L404 158.2L404.3 158.2L404.6 158.1L404.9 158.1L405.2 158L405.5 157.9L405.8 157.8L406 157.7L406.3 157.7L406.6 157.6L406.9 157.7L407.2 157.7L407.5 157.8L407.8 157.9L408 158L408.3 158L408.6 158.1L408.9 158.2L409.2 158.2L409.5 158.2L409.8 158.1L410.1 158.1L410.3 158L410.6 157.8L410.9 157.7L411.2 157.6L411.5 157.5L411.8 157.5L412.1 157.5L412.4 157.5L412.6 157.6L412.9 157.6L413.2 157.8L413.5 157.9L413.8 158L414.1 158.1L414.4 158.2L414.7 158.3L414.9 158.3L415.2 158.2L415.5 158.2L415.8 158.1L416.1 157.9L416.4 157.8L416.7 157.6L417 157.5L417.2 157.4L417.5 157.3L417.8 157.3L418.1 157.3L418.4 157.4L418.7 157.5L419 157.6L419.3 157.8L419.5 157.9L419.8 158.1L420.1 158.2L420.4 158.3L420.7 158.3L421 158.3L421.3 158.2L421.6 158.1L421.8 157.9L422.1 157.8L422.4 157.6L422.7 157.5L423 157.4L423.3 157.3L423.6 157.3L423.9 157.3L424.1 157.4L424.4 157.5L424.7 157.6L425 157.7L425.3 157.9L425.6 158L425.9 158.1L426.2 158.2L426.4 158.2L426.7 158.1L427 158.1L427.3 158L427.6 157.9L427.9 157.8L428.2 157.6L428.4 157.5L428.7 157.5L429 157.4L429.3 157.4L429.6 157.5L429.9 157.6L430.2 157.7L430.5 157.8L430.7 157.9L431 158L431.3 158.1L431.6 158.1L431.9 158.1L432.2 158.1L432.5 158L432.8 157.9L433 157.8L433.3 157.7L433.6 157.6L433.9 157.5L434.2 157.4L434.5 157.4L434.8 157.4L435.1 157.5L435.3 157.6L435.6 157.7L435.9 157.9L436.2 158L436.5 158.1L436.8 158.2L437.1 158.3L437.4 158.3L437.6 158.3L437.9 158.2L438.2 158.1L438.5 157.9L438.8 157.8L439.1 157.6L439.4 157.5L439.7 157.4L439.9 157.3L440.2 157.3L440.5 157.4L440.8 157.5L441.1 157.6L441.4 157.8L441.7 157.9L442 158.1L442.2 158.2L442.5 158.4L442.8 158.4L443.1 158.4L443.4 158.4L443.7 158.3L444 158.2L444.3 158.1L444.5 157.9L444.8 157.8L445.1 157.6L445.4 157.5L445.7 157.4L446 157.4L446.3 157.4L446.6 157.5L446.8 157.6L447.1 157.8L447.4 157.9L447.7 158.1L448 158.2L448.3 158.3L448.6 158.4L448.8 158.4L449.1 158.4L449.4 158.4L449.7 158.3L450 158.1L450.3 158L450.6 157.9L450.9 157.8L451.1 157.7L451.4 157.7L451.7 157.7L452 157.7L452.3 157.8L452.6 157.8L452.9 158L453.2 158.1L453.4 158.2L453.7 158.3L454 158.3L454.3 158.4L454.6 158.4L454.9 158.3L455.2 158.2L455.5 158.2L455.7 158.1L456 158L456.3 157.9L456.6 157.8L456.9 157.8L457.2 157.8L457.5 157.8L457.8 157.9L458 158L458.3 158.1L458.6 158.2L458.9 158.3L459.2 158.4L459.5 158.4L459.8 158.5L460.1 158.5L460.3 158.4L460.6 158.3L460.9 158.2L461.2 158.1L461.5 158L461.8 157.9L462.1 157.8L462.4 157.8L462.6 157.8L462.9 157.8L463.2 157.9L463.5 158L463.8 158.1L464.1 158.2L464.4 158.4L464.7 158.5L464.9 158.6L465.2 158.6L465.5 158.6L465.8 158.6L466.1 158.5L466.4 158.4L466.7 158.3L467 158.2L467.2 158L467.5 157.9L467.8 157.8L468.1 157.8L468.4 157.8L468.7 157.8L469 157.9L469.2 158L469.5 158.1L469.8 158.2L470.1 158.3L470.4 158.5L470.7 158.6L471 158.6L471.3 158.6L471.5 158.6L471.8 158.6L472.1 158.5L472.4 158.4L472.7 158.2L473 158.1L473.3 158L473.6 157.9L473.8 157.9L474.1 157.9L474.4 157.9L474.7 157.9L475 158L475.3 158.1L475.6 158.2L475.9 158.3L476.1 158.4L476.4 158.5L476.7 158.5L477 158.5L477.3 158.5L477.6 158.4L477.9 158.4L478.2 158.3L478.4 158.2L478.7 158.1L479 158L479.3 158L479.6 158L479.9 158L480.2 158L480.5 158.1L480.7 158.2L481 158.2L481.3 158.3L481.6 158.4L481.9 158.4L482.2 158.5L482.5 158.5L482.8 158.4L483 158.4L483.3 158.3L483.6 158.2L483.9 158.1L484.2 158L484.5 157.9L484.8 157.9L485.1 157.9L485.3 157.9L485.6 157.9L485.9 158L486.2 158.1L486.5 158.2L486.8 158.3L487.1 158.4L487.4 158.5L487.6 158.5L487.9 158.5L488.2 158.5L488.5 158.4L488.8 158.3L489.1 158.2L489.4 158.1L489.7 158L489.9 157.9L490.2 157.8L490.5 157.7L490.8 157.7L491.1 157.7L491.4 157.8L491.7 157.9L491.9 158L492.2 158.1L492.5 158.3L492.8 158.4L493.1 158.5L493.4 158.5L493.7 158.5L494 158.5L494.2 158.4L494.5 158.3L494.8 158.2L495.1 158.1L495.4 157.9L495.7 157.8L496 157.7L496.3 157.7L496.5 157.6L496.8 157.7L497.1 157.7L497.4 157.8L497.7 157.9L498 158L498.3 158.1L498.6 158.2L498.8 158.3L499.1 158.3" fill="none" stroke="#ff6a28" stroke-width="1.25" stroke-linejoin="round" />
<path d="M125.9 157.8L126.2 157.8L126.5 157.8L126.8 157.9L127 157.9L127.3 157.9L127.6 157.9L127.9 157.9L128.2 157.9L128.5 157.9L128.8 157.9L129.1 157.9L129.3 157.9L129.6 157.9L129.9 157.9L130.2 157.9L130.5 157.9L130.8 157.9L131.1 157.9L131.4 157.9L131.6 157.9L131.9 157.9L132.2 157.9L132.5 157.9L132.8 157.9L133.1 157.9L133.4 158L133.7 158L133.9 158L134.2 158L134.5 158L134.8 158L135.1 158L135.4 158L135.7 158L135.9 158L136.2 158L136.5 158L136.8 158L137.1 158L137.4 158L137.7 158L138 158L138.2 158L138.5 158L138.8 158L139.1 158L139.4 158L139.7 158L140 158L140.3 158L140.5 158L140.8 158L141.1 158L141.4 158L141.7 158.1L142 158.1L142.3 158.1L142.6 158.1L142.8 158.1L143.1 158.1L143.4 158.1L143.7 158.1L144 158.1L144.3 158.1L144.6 158.1L144.9 158.1L145.1 158.1L145.4 158.2L145.7 158.2L146 158.1L146.3 158.1L146.6 158.1L146.9 158.1L147.2 158.1L147.4 158.1L147.7 158.1L148 158.1L148.3 158.1L148.6 158.1L148.9 158.1L149.2 158.1L149.5 158.2L149.7 158.2L150 158.2L150.3 158.3L150.6 158.3L150.9 158.3L151.2 158.3L151.5 158.3L151.8 158.3L152 158.2L152.3 158.2L152.6 158.1L152.9 158.1L153.2 158.1L153.5 158.1L153.8 158L154.1 158.1L154.3 158.1L154.6 158.1L154.9 158.2L155.2 158.2L155.5 158.3L155.8 158.3L156.1 158.3L156.3 158.4L156.6 158.4L156.9 158.4L157.2 158.3L157.5 158.3L157.8 158.3L158.1 158.2L158.4 158.2L158.6 158.1L158.9 158.1L159.2 158.1L159.5 158.1L159.8 158.1L160.1 158.1L160.4 158.2L160.7 158.2L160.9 158.3L161.2 158.4L161.5 158.4L161.8 158.4L162.1 158.4L162.4 158.4L162.7 158.4L163 158.3L163.2 158.2L163.5 158.2L163.8 158.1L164.1 158L164.4 158L164.7 158L165 158L165.3 158L165.5 158.1L165.8 158.2L166.1 158.3L166.4 158.3L166.7 158.4L167 158.5L167.3 158.5L167.6 158.5L167.8 158.5L168.1 158.4L168.4 158.4L168.7 158.3L169 158.2L169.3 158.1L169.6 158L169.9 157.9L170.1 157.9L170.4 157.9L170.7 157.9L171 157.9L171.3 158L171.6 158.1L171.9 158.2L172.2 158.3L172.4 158.4L172.7 158.5L173 158.5L173.3 158.5L173.6 158.5L173.9 158.5L174.2 158.4L174.5 158.3L174.7 158.2L175 158L175.3 157.9L175.6 157.9L175.9 157.8L176.2 157.8L176.5 157.8L176.8 157.9L177 157.9L177.3 158L177.6 158.1L177.9 158.2L178.2 158.3L178.5 158.4L178.8 158.4L179 158.4L179.3 158.4L179.6 158.3L179.9 158.3L180.2 158.2L180.5 158.1L180.8 158L181.1 157.9L181.3 157.9L181.6 157.8L181.9 157.8L182.2 157.8L182.5 157.9L182.8 157.9L183.1 158L183.4 158.1L183.6 158.2L183.9 158.2L184.2 158.3L184.5 158.3L184.8 158.3L185.1 158.2L185.4 158.1L185.7 158.1L185.9 158L186.2 157.9L186.5 157.8L186.8 157.8L187.1 157.8L187.4 157.8L187.7 157.8L188 157.8L188.2 157.9L188.5 158L188.8 158.1L189.1 158.2L189.4 158.2L189.7 158.2L190 158.3L190.3 158.2L190.5 158.2L190.8 158.1L191.1 158L191.4 157.9L191.7 157.8L192 157.7L192.3 157.6L192.6 157.6L192.8 157.6L193.1 157.6L193.4 157.6L193.7 157.7L194 157.8L194.3 158L194.6 158.1L194.9 158.2L195.1 158.2L195.4 158.3L195.7 158.3L196 158.3L196.3 158.2L196.6 158.1L196.9 158L197.2 157.8L197.4 157.7L197.7 157.6L198 157.5L198.3 157.4L198.6 157.4L198.9 157.4L199.2 157.5L199.4 157.6L199.7 157.7L200 157.8L200.3 158L200.6 158.1L200.9 158.2L201.2 158.2L201.5 158.2L201.7 158.2L202 158.1L202.3 158.1L202.6 157.9L202.9 157.8L203.2 157.7L203.5 157.6L203.8 157.5L204 157.4L204.3 157.4L204.6 157.4L204.9 157.5L205.2 157.6L205.5 157.7L205.8 157.8L206.1 157.9L206.3 158L206.6 158.1L206.9 158.1L207.2 158.1L207.5 158.1L207.8 158L208.1 157.9L208.4 157.8L208.6 157.7L208.9 157.6L209.2 157.5L209.5 157.5L209.8 157.5L210.1 157.5L210.4 157.6L210.7 157.6L210.9 157.7L211.2 157.8L211.5 157.9L211.8 158L212.1 158.1L212.4 158.1L212.7 158.1L213 158L213.2 158L213.5 157.9L213.8 157.7L214.1 157.6L214.4 157.5L214.7 157.5L215 157.4L215.3 157.4L215.5 157.4L215.8 157.5L216.1 157.6L216.4 157.7L216.7 157.8L217 158L217.3 158.1L217.6 158.2L217.8 158.2L218.1 158.2L218.4 158.2L218.7 158.1L219 158L219.3 157.9L219.6 157.7L219.8 157.6L220.1 157.5L220.4 157.4L220.7 157.3L221 157.3L221.3 157.4L221.6 157.4L221.9 157.6L222.1 157.7L222.4 157.9L222.7 158L223 158.1L223.3 158.2L223.6 158.3L223.9 158.3L224.2 158.3L224.4 158.2L224.7 158.1L225 158L225.3 157.9L225.6 157.7L225.9 157.6L226.2 157.5L226.5 157.4L226.7 157.4L227 157.5L227.3 157.5L227.6 157.6L227.9 157.7L228.2 157.9L228.5 158L228.8 158.1L229 158.2L229.3 158.3L229.6 158.3L229.9 158.3L230.2 158.2L230.5 158.1L230.8 158L231.1 157.9L231.3 157.8L231.6 157.7L231.9 157.7L232.2 157.6L232.5 157.6L232.8 157.7L233.1 157.8L233.4 157.8L233.6 157.9L233.9 158L234.2 158.1L234.5 158.2L234.8 158.3L235.1 158.3L235.4 158.2L235.7 158.2L235.9 158.1L236.2 158L236.5 157.9L236.8 157.8L237.1 157.8L237.4 157.7L237.7 157.7L238 157.7L238.2 157.8L238.5 157.9L238.8 158L239.1 158.1L239.4 158.2L239.7 158.3L240 158.4L240.2 158.4L240.5 158.4L240.8 158.4L241.1 158.3L241.4 158.2L241.7 158.1L242 158L242.3 157.9L242.5 157.8L242.8 157.7L243.1 157.7L243.4 157.7L243.7 157.7L244 157.8L244.3 157.9L244.6 158L244.8 158.2L245.1 158.3L245.4 158.4L245.7 158.5L246 158.5L246.3 158.6L246.6 158.5L246.9 158.5L247.1 158.4L247.4 158.3L247.7 158.1L248 158L248.3 157.9L248.6 157.8L248.9 157.8L249.2 157.8L249.4 157.8L249.7 157.8L250 157.9L250.3 158.1L250.6 158.2L250.9 158.3L251.2 158.4L251.5 158.5L251.7 158.5L252 158.6L252.3 158.5L252.6 158.5L252.9 158.4L253.2 158.3L253.5 158.2L253.8 158.1L254 158L254.3 158L254.6 157.9L254.9 157.9L255.2 157.9L255.5 158L255.8 158.1L256.1 158.2L256.3 158.2L256.6 158.3L256.9 158.4L257.2 158.4L257.5 158.5L257.8 158.5L258.1 158.4L258.4 158.4L258.6 158.3L258.9 158.2L259.2 158.1L259.5 158.1L259.8 158L260.1 158L260.4 158L260.6 158L260.9 158.1L261.2 158.1L261.5 158.2L261.8 158.3L262.1 158.4L262.4 158.4L262.7 158.5L262.9 158.5L263.2 158.5L263.5 158.4L263.8 158.4L264.1 158.3L264.4 158.2L264.7 158.1L265 158L265.2 158L265.5 157.9L265.8 157.9L266.1 157.9L266.4 158L266.7 158.1L267 158.2L267.3 158.3L267.5 158.4L267.8 158.4L268.1 158.5L268.4 158.5L268.7 158.5L269 158.5L269.3 158.5L269.6 158.4L269.8 158.3L270.1 158.2L270.4 158L270.7 157.9L271 157.9L271.3 157.8L271.6 157.8L271.9 157.8L272.1 157.9L272.4 158L272.7 158.1L273 158.2L273.3 158.3L273.6 158.4L273.9 158.4L274.2 158.5L274.4 158.5L274.7 158.5L275 158.4L275.3 158.3L275.6 158.2L275.9 158.1L276.2 158L276.5 157.9L276.7 157.9L277 157.8L277.3 157.8L277.6 157.8L277.9 157.9L278.2 157.9L278.5 158L278.8 158.1L279 158.2L279.3 158.3L279.6 158.3L279.9 158.3L280.2 158.3L280.5 158.3L280.8 158.3L281.1 158.2L281.3 158.1L281.6 158L281.9 158L282.2 157.9L282.5 157.9L282.8 157.8L283.1 157.8L283.3 157.9L283.6 157.9L283.9 158L284.2 158L284.5 158.1L284.8 158.2L285.1 158.2L285.4 158.2L285.6 158.2L285.9 158.2L286.2 158.1L286.5 158.1L286.8 158L287.1 157.9L287.4 157.8L287.7 157.8L287.9 157.7L288.2 157.7L288.5 157.7L288.8 157.8L289.1 157.8L289.4 157.9L289.7 158L290 158.1L290.2 158.1L290.5 158.2L290.8 158.2L291.1 158.2L291.4 158.2L291.7 158.1L292 158.1L292.3 158L292.5 157.9L292.8 157.8L293.1 157.7L293.4 157.6L293.7 157.6L294 157.6L294.3 157.6L294.6 157.6L294.8 157.7L295.1 157.8L295.4 157.9L295.7 158L296 158.1L296.3 158.2L296.6 158.2L296.9 158.2L297.1 158.2L297.4 158.1L297.7 158L298 157.9L298.3 157.8L298.6 157.7L298.9 157.6L299.2 157.6L299.4 157.5L299.7 157.5L300 157.5L300.3 157.6L300.6 157.6L300.9 157.7L301.2 157.8L301.5 157.9L301.7 158L302 158L302.3 158.1L302.6 158.1L302.9 158.1L303.2 158L303.5 158L303.7 157.9L304 157.8L304.3 157.7L304.6 157.6L304.9 157.6L305.2 157.6L305.5 157.5L305.8 157.6L306 157.6L306.3 157.7L306.6 157.7L306.9 157.8L307.2 157.9L307.5 157.9L307.8 158L308.1 158L308.3 158L308.6 157.9L308.9 157.9L309.2 157.8L309.5 157.7L309.8 157.7L310.1 157.6L310.4 157.6L310.6 157.6L310.9 157.6L311.2 157.6L311.5 157.6L311.8 157.7L312.1 157.8L312.4 157.9L312.7 157.9L312.9 158L313.2 158L313.5 158L313.8 158L314.1 158L314.4 157.9L314.7 157.8L315 157.7L315.2 157.6L315.5 157.6L315.8 157.5L316.1 157.5L316.4 157.5L316.7 157.5L317 157.6L317.3 157.6L317.5 157.7L317.8 157.8L318.1 157.9L318.4 158L318.7 158.1L319 158.1L319.3 158.1L319.6 158.1L319.8 158.1L320.1 158L320.4 157.9L320.7 157.8L321 157.7L321.3 157.6L321.6 157.5L321.9 157.5L322.1 157.5L322.4 157.5L322.7 157.6L323 157.6L323.3 157.7L323.6 157.9L323.9 158L324.1 158L324.4 158.1L324.7 158.2L325 158.2L325.3 158.2L325.6 158.1L325.9 158.1L326.2 158L326.4 157.9L326.7 157.8L327 157.7L327.3 157.7L327.6 157.6L327.9 157.6L328.2 157.6L328.5 157.7L328.7 157.8L329 157.8L329.3 157.9L329.6 158L329.9 158.1L330.2 158.1L330.5 158.2L330.8 158.2L331 158.1L331.3 158.1L331.6 158L331.9 158L332.2 157.9L332.5 157.8L332.8 157.8L333.1 157.8L333.3 157.8L333.6 157.8L333.9 157.8L334.2 157.9L334.5 158L334.8 158L335.1 158.1L335.4 158.2L335.6 158.2L335.9 158.2L336.2 158.2L336.5 158.2L336.8 158.1L337.1 158.1L337.4 158L337.7 157.9L337.9 157.9L338.2 157.8L338.5 157.8L338.8 157.8L339.1 157.8L339.4 157.9L339.7 157.9L340 158L340.2 158.1L340.5 158.2L340.8 158.3L341.1 158.4L341.4 158.4L341.7 158.4L342 158.4L342.3 158.3L342.5 158.3L342.8 158.2L343.1 158.1L343.4 158L343.7 157.9L344 157.8L344.3 157.8L344.5 157.8L344.8 157.8L345.1 157.9L345.4 158L345.7 158.1L346 158.2L346.3 158.3L346.6 158.4L346.8 158.5L347.1 158.5L347.4 158.5L347.7 158.5L348 158.5L348.3 158.4L348.6 158.3L348.9 158.2L349.1 158.1L349.4 158L349.7 157.9L350 157.8L350.3 157.8L350.6 157.9L350.9 157.9L351.2 158L351.4 158.1L351.7 158.2L352 158.3L352.3 158.4L352.6 158.5L352.9 158.5L353.2 158.5L353.5 158.5L353.7 158.4L354 158.4L354.3 158.3L354.6 158.2L354.9 158.1L355.2 158L355.5 158L355.8 158L356 158L356.3 158L356.6 158.1L356.9 158.1L357.2 158.2L357.5 158.3L357.8 158.4L358.1 158.4L358.3 158.5L358.6 158.5L358.9 158.4L359.2 158.4L359.5 158.3L359.8 158.2L360.1 158.2L360.4 158.1L360.6 158L360.9 158L361.2 158L361.5 158L361.8 158L362.1 158.1L362.4 158.2L362.7 158.3L362.9 158.4L363.2 158.5L363.5 158.5L363.8 158.6L364.1 158.6L364.4 158.5L364.7 158.5L364.9 158.4L365.2 158.3L365.5 158.1L365.8 158L366.1 157.9L366.4 157.9L366.7 157.8L367 157.8L367.2 157.8L367.5 157.9L367.8 158L368.1 158.1L368.4 158.3L368.7 158.4L369 158.5L369.3 158.6L369.5 158.6L369.8 158.6L370.1 158.6L370.4 158.5L370.7 158.4L371 158.3L371.3 158.1L371.6 158L371.8 157.9L372.1 157.8L372.4 157.8L372.7 157.7L373 157.8L373.3 157.8L373.6 157.9L373.9 158L374.1 158.2L374.4 158.3L374.7 158.4L375 158.4L375.3 158.5L375.6 158.5L375.9 158.5L376.2 158.4L376.4 158.3L376.7 158.2L377 158.1L377.3 158L377.6 157.9L377.9 157.8L378.2 157.8L378.5 157.8L378.7 157.8L379 157.9L379.3 157.9L379.6 158L379.9 158.1L380.2 158.2L380.5 158.3L380.8 158.3L381 158.3L381.3 158.3L381.6 158.3L381.9 158.2L382.2 158.1L382.5 158L382.8 157.9L383.1 157.9L383.3 157.8L383.6 157.8L383.9 157.8L384.2 157.8L384.5 157.9L384.8 157.9L385.1 158L385.4 158.1L385.6 158.2L385.9 158.2L386.2 158.2L386.5 158.3L386.8 158.2L387.1 158.2L387.4 158.1L387.6 158L387.9 157.9L388.2 157.8L388.5 157.7L388.8 157.7L389.1 157.6L389.4 157.6L389.7 157.6L389.9 157.7L390.2 157.8L390.5 157.9L390.8 158L391.1 158.1L391.4 158.2L391.7 158.2L392 158.3L392.2 158.3L392.5 158.2L392.8 158.1L393.1 158.1L393.4 157.9L393.7 157.8L394 157.7L394.3 157.6L394.5 157.5L394.8 157.5L395.1 157.5L395.4 157.5L395.7 157.6L396 157.7L396.3 157.8L396.6 157.9L396.8 158L397.1 158.1L397.4 158.1L397.7 158.2L398 158.2L398.3 158.2L398.6 158.1L398.9 158L399.1 157.9L399.4 157.8L399.7 157.7L400 157.6L400.3 157.6L400.6 157.5L400.9 157.5L401.2 157.5L401.4 157.6L401.7 157.6L402 157.7L402.3 157.8L402.6 157.9L402.9 158L403.2 158L403.5 158L403.7 158L404 158L404.3 158L404.6 157.9L404.9 157.8L405.2 157.7L405.5 157.7L405.8 157.6L406 157.6L406.3 157.6L406.6 157.6L406.9 157.6L407.2 157.7L407.5 157.7L407.8 157.8L408 157.9L408.3 157.9L408.6 158L408.9 158L409.2 158L409.5 158L409.8 157.9L410.1 157.8L410.3 157.8L410.6 157.7L410.9 157.6L411.2 157.5L411.5 157.5L411.8 157.5L412.1 157.5L412.4 157.6L412.6 157.6L412.9 157.7L413.2 157.8L413.5 157.9L413.8 158L414.1 158.1L414.4 158.1L414.7 158.1L414.9 158.1L415.2 158L415.5 157.9L415.8 157.8L416.1 157.7L416.4 157.6L416.7 157.5L417 157.5L417.2 157.4L417.5 157.4L417.8 157.5L418.1 157.5L418.4 157.6L418.7 157.7L419 157.9L419.3 158L419.5 158.1L419.8 158.2L420.1 158.2L420.4 158.2L420.7 158.2L421 158.1L421.3 158L421.6 157.9L421.8 157.8L422.1 157.7L422.4 157.6L422.7 157.5L423 157.5L423.3 157.5L423.6 157.5L423.9 157.5L424.1 157.6L424.4 157.7L424.7 157.9L425 158L425.3 158.1L425.6 158.2L425.9 158.2L426.2 158.2L426.4 158.2L426.7 158.2L427 158.1L427.3 158L427.6 157.9L427.9 157.8L428.2 157.7L428.4 157.6L428.7 157.6L429 157.6L429.3 157.7L429.6 157.7L429.9 157.8L430.2 157.9L430.5 158L430.7 158.1L431 158.2L431.3 158.2L431.6 158.2L431.9 158.2L432.2 158.2L432.5 158.1L432.8 158L433 157.9L433.3 157.8L433.6 157.8L433.9 157.7L434.2 157.7L434.5 157.7L434.8 157.8L435.1 157.8L435.3 157.9L435.6 158L435.9 158.1L436.2 158.2L436.5 158.3L436.8 158.4L437.1 158.4L437.4 158.3L437.6 158.3L437.9 158.2L438.2 158.1L438.5 158L438.8 157.9L439.1 157.8L439.4 157.7L439.7 157.7L439.9 157.7L440.2 157.7L440.5 157.8L440.8 157.9L441.1 158L441.4 158.2L441.7 158.3L442 158.4L442.2 158.5L442.5 158.5L442.8 158.5L443.1 158.5L443.4 158.4L443.7 158.3L444 158.2L444.3 158.1L444.5 158L444.8 157.8L445.1 157.8L445.4 157.7L445.7 157.7L446 157.8L446.3 157.8L446.6 157.9L446.8 158.1L447.1 158.2L447.4 158.3L447.7 158.4L448 158.5L448.3 158.6L448.6 158.6L448.8 158.5L449.1 158.5L449.4 158.4L449.7 158.3L450 158.2L450.3 158.1L450.6 158L450.9 157.9L451.1 157.9L451.4 157.9L451.7 157.9L452 158L452.3 158L452.6 158.1L452.9 158.2L453.2 158.3L453.4 158.4L453.7 158.5L454 158.5L454.3 158.5L454.6 158.4L454.9 158.4L455.2 158.3L455.5 158.2L455.7 158.2L456 158.1L456.3 158L456.6 158L456.9 158L457.2 158L457.5 158.1L457.8 158.1L458 158.2L458.3 158.3L458.6 158.4L458.9 158.4L459.2 158.5L459.5 158.5L459.8 158.5L460.1 158.4L460.3 158.4L460.6 158.3L460.9 158.2L461.2 158.1L461.5 158L461.8 158L462.1 157.9L462.4 157.9L462.6 158L462.9 158L463.2 158.1L463.5 158.2L463.8 158.3L464.1 158.4L464.4 158.5L464.7 158.5L464.9 158.5L465.2 158.5L465.5 158.5L465.8 158.4L466.1 158.4L466.4 158.3L466.7 158.1L467 158L467.2 158L467.5 157.9L467.8 157.8L468.1 157.8L468.4 157.9L468.7 157.9L469 158L469.2 158.1L469.5 158.2L469.8 158.3L470.1 158.4L470.4 158.5L470.7 158.5L471 158.5L471.3 158.5L471.5 158.4L471.8 158.3L472.1 158.2L472.4 158.1L472.7 158L473 157.9L473.3 157.9L473.6 157.8L473.8 157.8L474.1 157.8L474.4 157.9L474.7 158L475 158L475.3 158.1L475.6 158.2L475.9 158.3L476.1 158.3L476.4 158.4L476.7 158.4L477 158.3L477.3 158.3L477.6 158.2L477.9 158.1L478.2 158.1L478.4 158L478.7 157.9L479 157.9L479.3 157.8L479.6 157.8L479.9 157.9L480.2 157.9L480.5 158L480.7 158L481 158.1L481.3 158.2L481.6 158.2L481.9 158.2L482.2 158.2L482.5 158.2L482.8 158.2L483 158.1L483.3 158L483.6 157.9L483.9 157.9L484.2 157.8L484.5 157.8L484.8 157.8L485.1 157.8L485.3 157.8L485.6 157.9L485.9 157.9L486.2 158L486.5 158.1L486.8 158.2L487.1 158.2L487.4 158.2L487.6 158.2L487.9 158.2L488.2 158.1L488.5 158.1L488.8 158L489.1 157.9L489.4 157.8L489.7 157.7L489.9 157.6L490.2 157.6L490.5 157.6L490.8 157.6L491.1 157.7L491.4 157.8L491.7 157.8L491.9 157.9L492.2 158L492.5 158.1L492.8 158.2L493.1 158.2L493.4 158.2L493.7 158.2L494 158.1L494.2 158L494.5 157.9L494.8 157.8L495.1 157.7L495.4 157.6L495.7 157.6L496 157.5L496.3 157.5L496.5 157.5L496.8 157.6L497.1 157.7L497.4 157.7L497.7 157.8L498 157.9L498.3 158L498.6 158.1L498.8 158.1L499.1 158.1" fill="none" stroke="#078a8c" stroke-width="1.25" stroke-linejoin="round" />
</g>
<rect x="127.1" y="129.4" width="367.5" height="57.19999999999999" fill="none" stroke="#505050" stroke-width="1.0"/>
<path d="M133.60 186.6v-3.4M133.60 129.4v3.4M188.65 186.6v-3.4M188.65 129.4v3.4M243.70 186.6v-3.4M243.70 129.4v3.4M298.75 186.6v-3.4M298.75 129.4v3.4M353.80 186.6v-3.4M353.80 129.4v3.4M408.85 186.6v-3.4M408.85 129.4v3.4M463.90 186.6v-3.4M463.90 129.4v3.4M127.1 172.30h3.4M494.6 172.30h-3.4M127.1 158.00h3.4M494.6 158.00h-3.4M127.1 143.70h3.4M494.6 143.70h-3.4" stroke="#505050" stroke-width="0.8" fill="none"/>
<text x="133.60" y="193.40" text-anchor="middle" class="sm">15</text>
<text x="188.65" y="193.40" text-anchor="middle" class="sm">20</text>
<text x="243.70" y="193.40" text-anchor="middle" class="sm">25</text>
<text x="298.75" y="193.40" text-anchor="middle" class="sm">30</text>
<text x="353.80" y="193.40" text-anchor="middle" class="sm">35</text>
<text x="408.85" y="193.40" text-anchor="middle" class="sm">40</text>
<text x="463.90" y="193.40" text-anchor="middle" class="sm">45</text>
<text x="125.90" y="131.60" text-anchor="end" class="sm">0.1</text>
<text x="125.90" y="145.90" text-anchor="end" class="sm">0.05</text>
<text x="125.90" y="160.20" text-anchor="end" class="sm">0</text>
<text x="125.90" y="174.50" text-anchor="end" class="sm">−0.05</text>
<path d="M181.09 112.20L130.74 127.07" stroke="#000" stroke-width="0.65" stroke-dasharray="1.7 0.9" fill="none"/>
<polygon points="126.90,128.20 131.24,124.52 132.54,128.93" fill="#000"/>
<circle cx="181.09" cy="112.20" r="1.3" fill="#000"/>
<path d="M500.61 112.90L495.85 125.07" stroke="#000" stroke-width="0.65" stroke-dasharray="1.7 0.9" fill="none"/>
<polygon points="494.40,128.80 494.15,123.12 498.43,124.79" fill="#000"/>
<circle cx="500.61" cy="112.90" r="1.3" fill="#000"/>
<text x="265.9" y="258" class="cap" text-anchor="middle">(<tspan class="capb">a</tspan>)</text>
<clipPath id="cb"><rect x="43.75" y="293.6" width="478.45000000000005" height="188.7"/></clipPath>
<path d="M44.45 293.6H522.2V482.3" fill="none" stroke="#767676" stroke-width="1.15"/>
<path d="M44.45 293.1V482.3H522.7" fill="none" stroke="#4c4c4c" stroke-width="1.05"/>
<path d="M92.23 482.3v-4.8M92.23 293.6v4.8M140.00 482.3v-4.8M140.00 293.6v4.8M187.78 482.3v-4.8M187.78 293.6v4.8M235.55 482.3v-4.8M235.55 293.6v4.8M283.33 482.3v-4.8M283.33 293.6v4.8M331.10 482.3v-4.8M331.10 293.6v4.8M378.88 482.3v-4.8M378.88 293.6v4.8M426.65 482.3v-4.8M426.65 293.6v4.8M474.43 482.3v-4.8M474.43 293.6v4.8M44.45 460.10h4.8M522.2 460.10h-4.8M44.45 437.90h4.8M522.2 437.90h-4.8M44.45 415.70h4.8M522.2 415.70h-4.8M44.45 393.50h4.8M522.2 393.50h-4.8M44.45 371.30h4.8M522.2 371.30h-4.8M44.45 349.10h4.8M522.2 349.10h-4.8M44.45 326.90h4.8M522.2 326.90h-4.8M44.45 304.70h4.8M522.2 304.70h-4.8" stroke="#505050" stroke-width="0.8" fill="none"/>
<g clip-path="url(#cb)">
<path d="M44.5 393.5L44.5 394.2L44.5 394.9L44.6 395.6L44.6 396.2L44.7 396.8L44.7 397.4L44.8 398L44.8 398.5L44.9 399L44.9 399.4L45 399.7L45 400.1L45.1 400.4L45.1 400.6L45.2 400.9L45.3 401.1L45.5 401L45.6 400.7L45.6 400.3L45.7 400.1L45.7 399.8L45.8 399.5L45.8 399.2L45.9 398.9L45.9 398.5L46 398.2L46 397.8L46.1 397.4L46.1 397L46.2 396.6L46.2 396.2L46.3 395.8L46.3 395.4L46.4 395L46.4 394.6L46.5 394.2L46.5 393.9L46.6 393.5L46.6 393.1L46.7 392.8L46.7 392.4L46.7 392.1L46.8 391.8L46.8 391.5L46.9 391.2L46.9 391L47 390.7L47 390.5L47.1 390.3L47.2 389.9L47.3 389.7L47.4 389.5L47.5 389.3L47.7 389.4L47.8 389.5L47.9 389.8L48 390L48.1 390.4L48.2 390.7L48.2 390.9L48.3 391.2L48.3 391.4L48.4 391.6L48.4 391.8L48.5 392.1L48.5 392.3L48.6 392.6L48.6 392.9L48.7 393.1L48.7 393.4L48.8 393.6L48.8 393.9L48.9 394.2L48.9 394.4L48.9 394.7L49 395L49 395.2L49.1 395.5L49.1 395.7L49.2 396L49.2 396.2L49.3 396.4L49.3 396.7L49.4 396.9L49.4 397.1L49.5 397.3L49.5 397.5L49.6 397.9L49.7 398.2L49.8 398.5L49.9 398.7L50 398.9L50.1 399L50.2 399.2L50.4 399.3L50.6 399.2L50.8 399L50.9 398.8L51 398.7L51.1 398.4L51.1 398.2L51.2 398L51.3 397.7L51.4 397.4L51.5 397.1L51.6 396.9L51.7 396.6L51.8 396.3L51.9 396L52 395.7L52.1 395.4L52.2 395.1L52.3 394.9L52.4 394.7L52.5 394.4L52.6 394.2L52.7 394L52.8 393.9L52.9 393.7L53 393.5L53.2 393.4L53.4 393.3L53.6 393.3L53.8 393.3L54 393.4L54.1 393.6L54.3 393.7L54.4 393.8L54.5 394L54.7 394.2L54.8 394.3L55 394.5L55.1 394.7L55.3 394.8L55.4 394.9L55.6 395L55.7 395.2L55.9 395.2L56.2 395.3L56.4 395.3L56.7 395.2L56.8 395.1L57 395L57.2 394.9L57.4 394.8L57.5 394.7L57.7 394.6L57.8 394.5L57.9 394.4L58.1 394.3L58.2 394.2L58.4 394L58.6 393.9L58.8 393.8L59 393.8L59.2 393.7L59.4 393.7L59.7 393.7L59.9 393.7L60.1 393.7L60.4 393.7L60.6 393.8L60.9 393.8L61.1 393.8L61.3 393.9L61.6 393.9L61.8 393.9L62.1 393.9L62.3 393.9L62.5 393.9L62.8 393.8L63 393.8L63.3 393.7L63.5 393.7L63.7 393.6L64 393.6L64.2 393.5L64.5 393.5L64.7 393.5L64.9 393.5L65.2 393.4L65.4 393.4L65.7 393.4L65.9 393.4L66.2 393.5L66.4 393.5L66.7 393.5L66.9 393.5L67.1 393.5L67.4 393.5L67.6 393.5L67.9 393.5L68.1 393.5L68.3 393.5L68.6 393.5L68.8 393.5L69 393.5L69.3 393.5L69.5 393.5L69.8 393.5L70 393.5L70.2 393.5L70.5 393.5L70.8 393.5L71 393.5L71.2 393.5L71.5 393.5L71.7 393.5L72 393.5L72.2 393.5L72.4 393.6L72.7 393.6L72.9 393.6L73.3 393.6L73.7 393.6L74.2 393.6L74.6 393.6L75 393.6L75.4 393.6L75.9 393.7L76.3 393.7L76.7 393.7L77.1 393.7L77.5 393.7L78 393.7L78.4 393.7L78.8 393.7L79.2 393.7L79.6 393.7L80.1 393.7L80.5 393.7L80.9 393.7L81.3 393.7L81.8 393.7L82.2 393.6L82.6 393.6L83 393.6L83.4 393.6L83.9 393.6L84.3 393.6L84.7 393.6L85.1 393.5L85.5 393.5L86 393.5L86.4 393.5L86.8 393.5L87.2 393.5L87.6 393.5L88.1 393.5L88.5 393.5L88.9 393.4L89.3 393.4L89.8 393.4L90.2 393.4L90.6 393.4L91 393.4L91.4 393.4L91.9 393.3L92.3 393.3L92.7 393.3L93.1 393.3L93.5 393.3L94 393.2L94.4 393.2L94.8 393.2L95.2 393.2L95.7 393.1L96.1 393.1L96.5 393.1L96.9 393.1L97.3 393L97.8 393L98.2 393L98.6 393L99 393L99.4 392.9L99.9 392.9L100.3 392.9L100.7 392.9L101.1 392.9L101.6 392.9L102 392.9L102.4 392.9L102.8 392.9L103.2 392.9L103.7 392.9L104.1 392.9L104.5 393L104.9 393L105.3 393L105.8 393L106.2 393L106.6 393.1L107 393.1L107.4 393.1L107.9 393.1L108.3 393.2L108.7 393.2L109.1 393.2L109.6 393.2L110 393.3L110.4 393.3L110.8 393.3L111.2 393.3L111.7 393.3L112.1 393.4L112.5 393.4L112.9 393.4L113.3 393.4L113.8 393.4L114.2 393.4L114.6 393.4L115 393.4L115.5 393.4L115.9 393.4L116.3 393.4L116.7 393.5L117.1 393.5L117.6 393.5L118 393.5L118.4 393.5L118.8 393.5L119.2 393.5L119.7 393.5L120.1 393.5L120.5 393.5L120.9 393.5L121.3 393.4L121.8 393.4L122.2 393.4L122.6 393.4L123 393.4L123.5 393.4L123.9 393.4L124.3 393.4L124.7 393.4L125.1 393.4L125.6 393.4L126 393.4L126.4 393.4L126.8 393.4L127.2 393.4L127.7 393.4L128.1 393.4L128.5 393.4L128.9 393.4L129.4 393.3L129.8 393.3L130.2 393.3L130.6 393.3L131 393.3L131.5 393.3L131.9 393.3L132.3 393.3L132.7 393.3L133.1 393.3L133.6 393.3L134 393.3L134.4 393.3L134.8 393.3L135.3 393.3L135.7 393.3L136.1 393.3L136.5 393.2L136.9 393.2L137.4 393.2L137.8 393.2L138.2 393.2L138.6 393.2L139 393.2L139.5 393.2L139.9 393.2L140.3 393.2L140.7 393.2L141.1 393.2L141.6 393.2L142 393.2L142.4 393.2L142.8 393.2L143.3 393.2L143.7 393.3L144.1 393.3L144.5 393.3L144.9 393.3L145.4 393.3L145.8 393.3L146.2 393.3L146.6 393.3L147 393.3L147.5 393.3L147.9 393.3L148.3 393.3L148.7 393.3L149.2 393.3L149.6 393.3L150 393.3L150.4 393.3L150.8 393.3L151.3 393.4L151.7 393.4L152.1 393.4L152.5 393.4L152.9 393.4L153.4 393.4L153.8 393.4L154.2 393.4L154.6 393.4L155.1 393.4L155.5 393.4L155.9 393.4L156.3 393.4L156.7 393.4L157.2 393.4L157.6 393.4L158 393.4L158.4 393.4L158.8 393.5L159.3 393.5L159.7 393.5L160.1 393.5L160.5 393.5L160.9 393.5L161.4 393.5L161.8 393.5L162.2 393.5L162.6 393.5L163.1 393.5L163.5 393.5L163.9 393.5L164.3 393.5L164.7 393.5L165.2 393.5L165.6 393.5L166 393.5L166.4 393.5L166.8 393.5L167.3 393.5L167.7 393.5L168.1 393.5L168.5 393.5L169 393.5L169.4 393.5L169.8 393.5L170.2 393.5L170.6 393.5L171.1 393.5L171.5 393.5L171.9 393.5L172.3 393.5L172.7 393.5L173.2 393.5L173.6 393.5L174 393.5L174.4 393.5L174.8 393.5L175.3 393.5L175.7 393.5L176.1 393.5L176.5 393.5L177 393.5L177.4 393.5L177.8 393.5L178.2 393.5L178.6 393.5L178.9 393.5L179.3 393.5L179.6 393.5L179.8 393.5L180.1 393.5L180.3 393.6L180.5 393.6L180.9 393.6L181.2 393.6L181.5 393.6L181.8 393.5L182 393.5L182.2 393.5L182.5 393.5L182.7 393.4L182.9 393.4L183.2 393.4L183.4 393.4L183.6 393.4L183.8 393.4L184.1 393.3L184.3 393.3L184.5 393.3L184.8 393.3L185 393.2L185.2 393.2L185.4 393.1L185.7 393.1L185.9 393.1L186.1 393L186.4 393L186.7 393L187.1 393L187.3 393.1L187.5 393.1L187.7 393.1L188 393.1L188.2 393.2L188.4 393.2L188.7 393.2L188.9 393.2L189.1 393.3L189.3 393.3L189.6 393.3L189.8 393.3L190 393.3L190.3 393.3L190.5 393.3L190.7 393.4L191 393.4L191.2 393.4L191.4 393.5L191.6 393.5L191.9 393.5L192.1 393.5L192.3 393.5L192.6 393.5L192.9 393.6L193.2 393.6L193.6 393.6L193.9 393.6L194.3 393.6L194.5 393.6L194.7 393.6L195 393.6L195.2 393.6L195.4 393.7L195.7 393.7L195.9 393.7L196.1 393.7L196.5 393.7L196.8 393.7L197.1 393.7L197.5 393.7L197.8 393.7L198.2 393.7L198.5 393.7L198.8 393.7L199 393.8L199.2 393.8L199.4 393.8L199.7 393.8L200 393.8L200.4 393.8L200.7 393.8L201 393.8L201.4 393.8L201.7 393.8L202.1 393.8L202.4 393.8L202.8 393.8L203 393.8L203.2 393.8L203.5 393.9L203.7 393.9L204 393.9L204.4 393.9L204.7 393.9L205.1 393.9L205.4 393.8L205.7 393.8L206.1 393.8L206.4 393.8L206.7 393.9L206.9 393.9L207.1 393.9L207.4 393.9L207.6 393.9L207.9 393.9L208.3 393.9L208.6 393.9L208.8 393.9L209.1 393.9L209.3 393.9L209.5 393.8L209.8 393.8L210 393.8L210.3 393.8L210.7 393.8L211 393.8L211.4 393.8L211.6 393.8L211.8 393.7L212.1 393.7L212.3 393.6L212.5 393.6L212.7 393.5L213 393.5L213.2 393.4L213.4 393.4L213.7 393.4L214 393.4L214.2 393.4L214.5 393.4L214.7 393.5L214.9 393.5L215.2 393.5L215.4 393.6L215.6 393.6L215.8 393.6L216.1 393.6L216.3 393.6L216.5 393.7L216.9 393.7L217.2 393.7L217.6 393.7L217.8 393.7L218 393.7L218.2 393.7L218.5 393.8L218.7 393.8L218.9 393.8L219.2 393.8L219.4 393.8L219.6 393.9L220 393.9L220.3 393.9L220.7 393.9L221 393.8L221.3 393.8L221.7 393.8L222 393.8L222.4 393.8L222.7 393.8L223.1 393.8L223.4 393.8L223.6 393.8L223.9 393.7L224.1 393.7L224.3 393.7L224.6 393.6L224.8 393.6L225 393.5L225.2 393.5L225.5 393.5L225.7 393.4L225.9 393.4L226.2 393.4L226.5 393.4L226.9 393.4L227.2 393.4L227.4 393.4L227.7 393.4L227.9 393.5L228.1 393.5L228.3 393.5L228.6 393.5L228.8 393.5L229 393.5L229.3 393.6L229.5 393.6L229.7 393.6L229.9 393.6L230.2 393.7L230.4 393.7L230.6 393.7L230.9 393.8L231.1 393.8L231.3 393.8L231.7 393.8L232 393.8L232.2 393.8L232.5 393.7L232.7 393.7L232.9 393.7L233.2 393.6L233.4 393.6L233.6 393.6L233.8 393.5L234.1 393.5L234.3 393.5L234.5 393.5L234.8 393.4L235 393.4L235.2 393.4L235.6 393.4L235.9 393.4L236.3 393.4L236.6 393.4L236.8 393.4L237.1 393.4L237.3 393.5L237.5 393.5L237.7 393.5L238 393.6L238.2 393.6L238.4 393.7L238.7 393.7L238.9 393.8L239.1 393.8L239.4 393.8L239.6 393.8L239.9 393.8L240.3 393.8L240.6 393.8L241 393.8L241.3 393.9L241.5 393.9L241.8 393.9L242 393.9L242.2 393.9L242.5 394L242.7 394L242.9 394L243.1 394L243.5 394L243.8 394L244.2 394L244.5 394L244.9 394L245.2 394L245.5 394L245.9 394L246.2 394L246.6 394L246.9 393.9L247.3 393.9L247.5 393.9L247.7 393.9L248 393.9L248.2 393.9L248.4 393.8L248.6 393.8L248.9 393.8L249.2 393.8L249.6 393.8L249.9 393.8L250.1 393.8L250.4 393.8L250.6 393.9L250.8 393.9L251.2 393.9L251.5 393.9L251.9 393.9L252.2 393.9L252.5 393.9L252.9 393.9L253.2 393.9L253.6 393.9L253.9 393.9L254.3 393.9L254.6 393.9L255 393.9L255.2 393.9L255.4 393.9L255.6 393.8L255.9 393.8L256.1 393.8L256.3 393.7L256.6 393.7L256.8 393.6L257 393.6L257.2 393.5L257.5 393.5L257.8 393.5L258 393.6L258.3 393.6L258.5 393.6L258.7 393.7L259 393.7L259.2 393.8L259.4 393.8L259.7 393.8L260 393.8L260.3 393.8L260.7 393.8L260.9 393.9L261.1 393.9L261.4 393.9L261.7 393.9L262.1 393.9L262.3 393.9L262.5 393.9L262.8 393.8L263 393.8L263.2 393.7L263.4 393.7L263.7 393.6L263.9 393.5L264.1 393.5L264.4 393.4L264.6 393.4L264.9 393.4L265.2 393.4L265.4 393.5L265.6 393.5L265.8 393.6L266.1 393.7L266.3 393.7L266.5 393.8L266.8 393.8L267 393.8L267.2 393.8L267.6 393.9L267.9 393.9L268.3 393.9L268.6 393.9L268.9 393.9L269.3 393.8L269.5 393.8L269.7 393.8L270 393.8L270.2 393.8L270.4 393.7L270.7 393.7L270.9 393.6L271.1 393.5L271.4 393.5L271.6 393.4L271.8 393.4L272.2 393.4L272.4 393.4L272.6 393.5L272.8 393.5L273.1 393.6L273.3 393.6L273.5 393.7L273.8 393.8L274 393.8L274.2 393.8L274.5 393.8L274.7 393.9L275 393.9L275.4 393.9L275.7 393.9L276.1 393.8L276.4 393.8L276.7 393.8L277.1 393.8L277.3 393.8L277.5 393.8L277.8 393.8L278 393.7L278.2 393.7L278.5 393.6L278.7 393.6L278.9 393.5L279.2 393.5L279.4 393.5L279.6 393.5L280 393.5L280.2 393.5L280.4 393.5L280.6 393.6L280.9 393.6L281.1 393.7L281.3 393.7L281.6 393.8L281.8 393.8L282 393.8L282.3 393.8L282.5 393.9L282.8 393.9L283.2 393.9L283.5 393.9L283.9 393.8L284.2 393.8L284.5 393.8L284.9 393.8L285.2 393.8L285.6 393.8L285.8 393.8L286 393.7L286.3 393.7L286.5 393.7L286.7 393.6L287 393.6L287.2 393.5L287.4 393.5L287.6 393.5L288 393.5L288.2 393.5L288.4 393.5L288.7 393.6L288.9 393.6L289.1 393.7L289.4 393.7L289.6 393.8L289.8 393.8L290.1 393.8L290.3 393.9L290.5 393.9L290.9 393.9L291.2 393.9L291.5 393.9L291.8 393.9L292 393.9L292.2 393.8L292.5 393.8L292.7 393.8L292.9 393.8L293.1 393.7L293.4 393.7L293.6 393.7L293.8 393.6L294.1 393.6L294.3 393.6L294.5 393.5L294.8 393.5L295.1 393.5L295.3 393.5L295.6 393.5L295.8 393.6L296 393.6L296.2 393.6L296.5 393.7L296.7 393.7L296.9 393.8L297.2 393.8L297.4 393.8L297.6 393.9L297.9 393.9L298.1 393.9L298.3 393.9L298.7 393.9L298.9 393.9L299.1 393.9L299.3 393.9L299.6 393.8L299.8 393.8L300 393.8L300.3 393.7L300.5 393.7L300.7 393.6L300.9 393.6L301.2 393.5L301.4 393.5L301.6 393.5L301.9 393.5L302.2 393.5L302.4 393.5L302.7 393.5L302.9 393.6L303.1 393.6L303.4 393.6L303.6 393.7L303.8 393.7L304 393.7L304.3 393.8L304.5 393.8L304.7 393.8L305 393.9L305.2 393.9L305.4 393.9L305.6 393.9L306 393.9L306.2 393.9L306.5 393.9L306.7 393.8L306.9 393.8L307.1 393.7L307.4 393.7L307.6 393.6L307.8 393.5L308.1 393.5L308.3 393.4L308.5 393.4L308.9 393.4L309.1 393.4L309.3 393.5L309.5 393.5L309.8 393.6L310 393.6L310.2 393.7L310.5 393.7L310.7 393.7L310.9 393.8L311.3 393.8L311.6 393.8L312 393.8L312.2 393.8L312.4 393.8L312.6 393.8L312.9 393.9L313.1 393.9L313.4 393.9L313.8 393.9L314 393.9L314.3 393.8L314.5 393.8L314.7 393.8L314.9 393.7L315.2 393.6L315.4 393.6L315.6 393.5L315.9 393.5L316.1 393.4L316.3 393.4L316.7 393.4L316.9 393.5L317.1 393.5L317.3 393.6L317.6 393.6L317.8 393.7L318 393.7L318.3 393.8L318.5 393.8L318.7 393.8L319.1 393.8L319.4 393.8L319.8 393.8L320 393.8L320.2 393.8L320.4 393.9L320.8 393.9L321.1 393.9L321.4 393.8L321.6 393.8L321.8 393.8L322.1 393.7L322.3 393.7L322.5 393.6L322.7 393.5L323 393.5L323.2 393.5L323.4 393.4L323.8 393.5L324 393.5L324.2 393.5L324.5 393.6L324.7 393.6L324.9 393.7L325.1 393.7L325.4 393.8L325.6 393.8L325.8 393.8L326.1 393.8L326.4 393.9L326.8 393.9L327.1 393.9L327.4 393.9L327.8 393.9L328.1 393.9L328.5 393.8L328.7 393.8L328.9 393.8L329.2 393.8L329.4 393.7L329.6 393.7L329.9 393.7L330.1 393.6L330.3 393.6L330.5 393.5L330.8 393.5L331 393.5L331.3 393.5L331.6 393.5L331.8 393.6L332 393.6L332.3 393.7L332.5 393.7L332.7 393.8L332.9 393.8L333.2 393.8L333.4 393.8L333.6 393.9L334 393.9L334.3 393.9L334.7 393.9L335 393.9L335.4 393.9L335.7 393.9L336 393.9L336.4 393.9L336.6 393.9L336.8 393.8L337.1 393.8L337.3 393.8L337.5 393.7L337.8 393.7L338 393.6L338.2 393.6L338.5 393.5L338.7 393.5L338.9 393.4L339.3 393.4L339.5 393.5L339.7 393.5L339.9 393.6L340.2 393.6L340.4 393.7L340.6 393.7L340.9 393.8L341.1 393.8L341.3 393.8L341.6 393.8L341.9 393.8L342.2 393.8L342.6 393.8L342.9 393.8L343.3 393.8L343.6 393.9L344 393.9L344.3 393.9L344.6 393.9L345 393.9L345.2 393.9L345.5 393.8L345.7 393.8L345.9 393.7L346.1 393.7L346.4 393.6L346.6 393.6L346.8 393.5L347.1 393.5L347.3 393.4L347.5 393.4L347.9 393.4L348.1 393.5L348.3 393.5L348.5 393.6L348.8 393.6L349 393.7L349.2 393.7L349.5 393.8L349.7 393.8L350 393.8L350.4 393.8L350.7 393.8L351.1 393.8L351.3 393.8L351.5 393.8L351.8 393.8L352 393.9L352.2 393.9L352.4 393.9L352.8 393.9L353.1 393.9L353.4 393.9L353.6 393.9L353.8 393.8L354.1 393.8L354.3 393.8L354.5 393.8L354.7 393.7L355 393.7L355.2 393.7L355.4 393.6L355.7 393.6L355.9 393.6L356.1 393.6L356.5 393.6L356.7 393.6L356.9 393.6L357.1 393.7L357.4 393.7L357.6 393.7L357.8 393.8L358.1 393.8L358.4 393.8L358.8 393.8L359 393.8L359.2 393.8L359.4 393.8L359.7 393.9L359.9 393.9L360.1 393.9L360.4 393.9L360.6 393.9L360.8 393.9L361.2 393.9L361.5 393.9L361.9 393.9L362.2 393.9L362.5 393.9L362.9 393.9L363.2 393.9L363.6 394L363.9 394L364.3 394L364.6 394L364.9 394L365.2 394L365.4 393.9L365.6 393.9L365.9 393.9L366.1 393.9L366.3 393.9L366.6 393.8L366.9 393.8L367.2 393.8L367.6 393.8L367.9 393.8L368.3 393.8L368.6 393.8L368.8 393.8L369.1 393.8L369.3 393.7L369.5 393.7L369.8 393.6L370 393.6L370.2 393.6L370.5 393.5L370.7 393.5L370.9 393.5L371.3 393.5L371.5 393.5L371.7 393.5L371.9 393.6L372.2 393.6L372.4 393.6L372.6 393.6L372.9 393.7L373.2 393.7L373.6 393.6L373.9 393.6L374.2 393.6L374.6 393.6L374.9 393.6L375.3 393.6L375.6 393.6L376 393.6L376.3 393.6L376.5 393.6L376.8 393.6L377 393.5L377.2 393.5L377.5 393.5L377.7 393.5L377.9 393.5L378.1 393.5L378.5 393.4L378.8 393.5L379.1 393.5L379.3 393.5L379.5 393.5L379.7 393.6L380 393.6L380.2 393.6L380.4 393.6L380.8 393.6L381.1 393.6L381.5 393.6L381.8 393.6L382.2 393.6L382.5 393.6L382.7 393.7L383 393.7L383.2 393.7L383.4 393.7L383.6 393.7L383.9 393.7L384.1 393.7L384.4 393.8L384.8 393.8L385.1 393.8L385.5 393.8L385.8 393.8L386.2 393.8L386.5 393.8L386.9 393.8L387.1 393.8L387.3 393.8L387.5 393.8L387.8 393.8L388 393.8L388.3 393.8L388.7 393.8L389 393.8L389.4 393.8L389.7 393.8L390.1 393.8L390.4 393.8L390.8 393.8L391.1 393.8L391.3 393.8L391.7 393.9L392 393.9L392.4 393.9L392.7 393.8L392.9 393.8L393.2 393.8L393.4 393.8L393.6 393.8L393.9 393.8L394.2 393.8L394.5 393.8L394.9 393.8L395.2 393.7L395.6 393.7L395.9 393.7L396.1 393.7L396.4 393.7L396.6 393.7L396.8 393.6L397.1 393.6L397.3 393.5L397.5 393.5L397.8 393.5L398 393.5L398.2 393.4L398.6 393.4L398.9 393.4L399.2 393.4L399.6 393.4L399.9 393.4L400.3 393.4L400.6 393.5L401 393.4L401.3 393.5L401.7 393.5L401.9 393.5L402.1 393.5L402.3 393.5L402.6 393.5L402.8 393.6L403 393.6L403.3 393.6L403.5 393.7L403.7 393.7L403.9 393.7L404.2 393.7L404.4 393.7L404.7 393.7L405.1 393.8L405.4 393.8L405.8 393.8L406.1 393.8L406.5 393.8L406.8 393.8L407.2 393.8L407.5 393.8L407.8 393.8L408.2 393.7L408.4 393.7L408.6 393.7L408.9 393.7L409.1 393.7L409.3 393.7L409.7 393.6L410 393.7L410.3 393.7L410.5 393.7L410.7 393.7L410.9 393.7L411.2 393.8L411.4 393.8L411.6 393.8L412 393.8L412.3 393.8L412.7 393.8L413 393.8L413.4 393.7L413.7 393.7L414 393.8L414.4 393.8L414.7 393.8L415.1 393.8L415.4 393.8L415.8 393.8L416.1 393.8L416.4 393.8L416.7 393.8L416.9 393.8L417.3 393.7L417.6 393.7L417.9 393.7L418.2 393.8L418.4 393.8L418.6 393.8L418.9 393.8L419.1 393.8L419.4 393.8L419.8 393.8L420.1 393.8L420.5 393.8L420.7 393.8L420.9 393.8L421.2 393.8L421.5 393.7L421.8 393.7L422.2 393.8L422.5 393.8L422.9 393.8L423.2 393.8L423.6 393.8L423.8 393.8L424 393.7L424.2 393.7L424.5 393.7L424.7 393.7L424.9 393.6L425.2 393.6L425.4 393.6L425.6 393.6L426 393.6L426.3 393.5L426.7 393.5L427 393.5L427.2 393.5L427.5 393.5L427.7 393.5L427.9 393.4L428.1 393.4L428.4 393.4L428.6 393.4L428.8 393.3L429.1 393.3L429.3 393.3L429.6 393.3L430 393.3L430.3 393.3L430.6 393.3L430.8 393.3L431 393.3L431.2 393.4L431.5 393.4L431.7 393.4L431.9 393.4L432.2 393.4L432.5 393.4L432.9 393.4L433.2 393.5L433.4 393.5L433.7 393.5L433.9 393.5L434.1 393.5L434.3 393.5L434.6 393.6L434.8 393.6L435 393.6L435.4 393.6L435.7 393.6L436.1 393.6L436.4 393.6L436.7 393.6L437.1 393.5L437.4 393.5L437.8 393.5L438.1 393.5L438.5 393.6L438.7 393.6L438.9 393.6L439.2 393.6L439.4 393.6L439.6 393.6L439.8 393.7L440.1 393.7L440.3 393.7L440.5 393.7L440.8 393.7L441 393.7L441.3 393.7L441.7 393.8L442 393.8L442.3 393.8L442.5 393.8L442.7 393.8L442.9 393.8L443.2 393.9L443.5 393.9L443.9 393.9L444.2 393.8L444.5 393.8L444.9 393.8L445.2 393.8L445.6 393.8L445.9 393.8L446.2 393.9L446.4 393.9L446.6 393.9L447 393.9L447.3 393.9L447.5 393.9L447.8 393.9L448 393.8L448.2 393.8L448.4 393.8L448.7 393.8L449 393.8L449.4 393.8L449.7 393.8L450.1 393.8L450.4 393.8L450.7 393.8L451.1 393.8L451.3 393.8L451.5 393.7L451.8 393.7L452 393.7L452.2 393.7L452.5 393.6L452.8 393.6L453.2 393.6L453.4 393.6L453.6 393.7L453.8 393.7L454.1 393.7L454.3 393.7L454.6 393.7L455 393.7L455.2 393.7L455.4 393.7L455.7 393.7L455.9 393.7L456.1 393.7L456.4 393.7L456.7 393.6L457.1 393.6L457.4 393.6L457.7 393.6L458 393.7L458.2 393.7L458.4 393.7L458.7 393.7L459 393.7L459.2 393.7L459.5 393.7L459.7 393.7L459.9 393.6L460.1 393.6L460.4 393.6L460.6 393.6L460.8 393.6L461.2 393.6L461.5 393.6L461.9 393.6L462.2 393.6L462.4 393.6L462.7 393.6L462.9 393.6L463.1 393.7L463.4 393.7L463.7 393.7L464 393.7L464.4 393.7L464.7 393.7L465 393.7L465.2 393.7L465.4 393.7L465.7 393.7L466 393.7L466.3 393.7L466.6 393.7L466.8 393.7L467 393.7L467.3 393.7L467.5 393.6L467.7 393.6L467.9 393.6L468.2 393.5L468.4 393.5L468.6 393.5L469 393.5L469.3 393.5L469.7 393.5L470 393.5L470.4 393.5L470.6 393.5L470.8 393.5L471 393.5L471.3 393.4L471.5 393.4L471.7 393.4L472 393.4L472.3 393.4L472.5 393.4L472.9 393.4L473.2 393.4L473.5 393.4L473.7 393.4L473.9 393.4L474.1 393.4L474.4 393.5L474.7 393.5L475.1 393.5L475.3 393.5L475.5 393.4L475.7 393.4L476 393.4L476.3 393.4L476.7 393.4L476.9 393.4L477.1 393.4L477.4 393.5L477.6 393.5L477.8 393.5L478 393.6L478.3 393.6L478.5 393.6L478.8 393.6L479.2 393.6L479.5 393.6L479.9 393.6L480.2 393.6L480.4 393.6L480.7 393.6L480.9 393.6L481.1 393.7L481.4 393.7L481.6 393.8L481.8 393.8L482.1 393.9L482.3 393.9L482.5 393.9L482.9 393.9L483.2 393.9L483.4 393.9L483.7 393.9L484 393.9L484.3 393.9L484.7 393.9L484.9 393.9L485.2 393.9L485.5 393.9L485.8 393.9L486.2 393.9L486.5 393.9L486.8 393.9L487 393.9L487.2 393.9L487.4 393.9L487.8 393.8L488.1 393.8L488.5 393.8L488.8 393.8L489.2 393.9L489.4 393.9L489.6 393.9L489.9 393.9L490.2 393.9L490.5 393.9L490.9 393.9L491.1 393.9L491.3 393.8L491.6 393.8L491.8 393.8L492 393.8L492.3 393.8L492.5 393.8L492.7 393.8L493 393.7L493.2 393.7L493.4 393.7L493.6 393.7L493.9 393.7L494.1 393.6L494.3 393.6L494.6 393.6L494.8 393.6L495 393.5L495.2 393.5L495.5 393.4L495.7 393.4L495.9 393.4L496.2 393.3L496.4 393.3L496.7 393.3L497.1 393.3L497.4 393.3L497.8 393.3L498.1 393.3L498.5 393.3L498.7 393.3L498.9 393.3L499.1 393.3L499.4 393.4L499.6 393.4L499.8 393.4L500.1 393.4L500.3 393.5L500.5 393.5L500.8 393.5L501 393.6L501.2 393.6L501.4 393.6L501.8 393.6L502.1 393.6L502.4 393.6L502.6 393.6L502.8 393.5L503 393.5L503.3 393.5L503.5 393.5L503.8 393.5L504.1 393.5L504.3 393.5L504.5 393.6L504.8 393.6L505 393.7L505.2 393.7L505.5 393.7L505.7 393.8L505.9 393.8L506.1 393.8L506.5 393.8L506.8 393.8L507.1 393.8L507.3 393.8L507.5 393.8L507.7 393.7L508 393.7L508.3 393.7L508.6 393.7L508.8 393.7L509 393.7L509.2 393.6L509.5 393.6L509.7 393.6L509.9 393.6L510.2 393.6L510.5 393.6L510.7 393.6L511 393.6L511.2 393.6L511.4 393.7L511.6 393.7L511.9 393.7L512.1 393.8L512.3 393.8L512.6 393.8L512.9 393.8L513.3 393.8L513.5 393.8L513.7 393.8L513.9 393.7L514.2 393.7L514.4 393.7L514.6 393.6L514.9 393.6L515.1 393.6L515.3 393.5L515.7 393.5L515.9 393.5L516.1 393.6L516.4 393.6L516.6 393.6L516.8 393.7L517 393.7L517.3 393.7L517.5 393.7L517.7 393.8L518 393.8L518.3 393.8L518.6 393.8L518.9 393.8L519.1 393.7L519.3 393.7L519.6 393.7L519.8 393.6L520 393.6L520.4 393.6L520.7 393.6L520.9 393.6L521.2 393.6L521.4 393.7L521.6 393.7L521.9 393.7L522.1 393.7L522.2 393.7" fill="none" stroke="#0a50d2" stroke-width="1.15" stroke-linejoin="round" />
<path d="M44.5 393.5L44.5 393.6L44.7 393.8L44.9 393.8L45.1 393.9L45.3 394L45.4 394.2L45.5 394.4L45.6 394.6L45.7 394.8L45.8 395.1L45.9 395.4L46 395.8L46 396L46.1 396.2L46.1 396.4L46.2 396.6L46.2 396.9L46.3 397.1L46.3 397.3L46.4 397.6L46.4 397.8L46.5 398.1L46.5 398.4L46.6 398.6L46.6 398.9L46.7 399.1L46.7 399.4L46.7 399.7L46.8 399.9L46.8 400.2L46.9 400.5L46.9 400.7L47 401L47 401.2L47.1 401.5L47.1 401.7L47.2 402L47.2 402.2L47.3 402.4L47.3 402.6L47.4 402.9L47.4 403.1L47.5 403.3L47.5 403.5L47.6 403.8L47.7 404.1L47.8 404.4L47.9 404.7L48 404.9L48.1 405.1L48.2 405.2L48.4 405.3L48.6 405.3L48.8 405.1L48.9 404.9L49 404.8L49.1 404.6L49.2 404.4L49.3 404.1L49.4 403.9L49.5 403.6L49.6 403.3L49.7 403L49.8 402.7L49.9 402.5L50 402.2L50 401.9L50.1 401.6L50.2 401.3L50.3 401L50.4 400.8L50.5 400.5L50.6 400.3L50.7 400.1L50.8 399.9L50.9 399.7L51 399.5L51.1 399.4L51.2 399.2L51.4 399L51.5 398.9L51.7 398.8L51.9 398.7L52.1 398.6L52.3 398.7L52.6 398.7L52.8 398.8L53 398.9L53.2 398.9L53.4 399L53.6 399L53.8 399L54.1 399L54.3 398.9L54.5 398.9L54.7 398.8L54.9 398.7L55 398.6L55.2 398.4L55.3 398.3L55.5 398.2L55.6 398.1L55.7 398L55.9 397.8L56 397.7L56.2 397.6L56.3 397.5L56.5 397.4L56.6 397.3L56.8 397.2L57 397.1L57.2 396.9L57.4 396.8L57.6 396.8L57.8 396.7L57.9 396.6L58.1 396.5L58.3 396.4L58.5 396.4L58.7 396.3L58.9 396.2L59.1 396.1L59.3 396L59.5 396L59.7 395.9L59.9 395.8L60.1 395.7L60.2 395.6L60.4 395.5L60.6 395.4L60.8 395.3L61 395.2L61.2 395.1L61.4 395L61.6 394.9L61.8 394.8L62 394.7L62.2 394.6L62.3 394.5L62.5 394.4L62.7 394.3L62.9 394.2L63.1 394.2L63.3 394.1L63.5 394L63.7 394L63.9 393.9L64.1 393.9L64.4 393.8L64.6 393.8L64.8 393.7L65.1 393.7L65.3 393.7L65.6 393.6L65.8 393.6L66 393.6L66.3 393.6L66.5 393.5L66.8 393.5L67 393.5L67.2 393.5L67.5 393.5L67.7 393.5L67.9 393.5L68.2 393.5L68.4 393.5L68.7 393.5L69 393.5L69.2 393.5L69.5 393.5L69.7 393.5L70 393.5L70.2 393.5L70.4 393.5L70.7 393.5L70.9 393.5L71.2 393.5L71.4 393.6L71.6 393.6L71.9 393.6L72.1 393.6L72.3 393.6L72.6 393.6L72.8 393.6L73.1 393.6L73.3 393.6L73.7 393.6L74.2 393.6L74.6 393.7L75 393.7L75.4 393.7L75.9 393.7L76.3 393.7L76.7 393.7L77.1 393.7L77.5 393.8L78 393.8L78.4 393.8L78.8 393.8L79.2 393.8L79.6 393.8L80.1 393.8L80.5 393.7L80.9 393.7L81.3 393.7L81.8 393.7L82.2 393.7L82.6 393.7L83 393.7L83.4 393.6L83.9 393.6L84.3 393.6L84.7 393.6L85.1 393.6L85.5 393.5L86 393.5L86.4 393.5L86.8 393.5L87.2 393.5L87.6 393.5L88.1 393.5L88.5 393.4L88.9 393.4L89.3 393.4L89.8 393.4L90.2 393.4L90.6 393.4L91 393.3L91.4 393.3L91.9 393.3L92.3 393.3L92.7 393.2L93.1 393.2L93.5 393.2L94 393.2L94.4 393.1L94.8 393.1L95.2 393.1L95.7 393L96.1 393L96.5 393L96.9 392.9L97.3 392.9L97.8 392.9L98.2 392.8L98.6 392.8L99 392.8L99.4 392.8L99.9 392.7L100.3 392.7L100.7 392.7L101.1 392.7L101.6 392.7L102 392.7L102.4 392.7L102.8 392.7L103.2 392.7L103.7 392.7L104.1 392.8L104.5 392.8L104.9 392.8L105.3 392.8L105.8 392.9L106.2 392.9L106.6 392.9L107 392.9L107.4 393L107.9 393L108.3 393L108.7 393.1L109.1 393.1L109.6 393.1L110 393.2L110.4 393.2L110.8 393.2L111.2 393.3L111.7 393.3L112.1 393.3L112.5 393.3L112.9 393.3L113.3 393.4L113.8 393.4L114.2 393.4L114.6 393.4L115 393.4L115.5 393.4L115.9 393.4L116.3 393.4L116.7 393.4L117.1 393.4L117.6 393.4L118 393.4L118.4 393.4L118.8 393.4L119.2 393.4L119.7 393.4L120.1 393.4L120.5 393.4L120.9 393.4L121.3 393.4L121.8 393.4L122.2 393.4L122.6 393.4L123 393.4L123.5 393.4L123.9 393.4L124.3 393.4L124.7 393.4L125.1 393.4L125.6 393.4L126 393.4L126.4 393.4L126.8 393.3L127.2 393.3L127.7 393.3L128.1 393.3L128.5 393.3L128.9 393.3L129.4 393.3L129.8 393.3L130.2 393.3L130.6 393.3L131 393.3L131.5 393.3L131.9 393.2L132.3 393.2L132.7 393.2L133.1 393.2L133.6 393.2L134 393.2L134.4 393.2L134.8 393.2L135.3 393.2L135.7 393.2L136.1 393.2L136.5 393.2L136.9 393.2L137.4 393.2L137.8 393.2L138.2 393.2L138.6 393.1L139 393.1L139.5 393.1L139.9 393.1L140.3 393.1L140.7 393.1L141.1 393.1L141.6 393.1L142 393.2L142.4 393.2L142.8 393.2L143.3 393.2L143.7 393.2L144.1 393.2L144.5 393.2L144.9 393.2L145.4 393.2L145.8 393.2L146.2 393.2L146.6 393.2L147 393.2L147.5 393.2L147.9 393.2L148.3 393.2L148.7 393.3L149.2 393.3L149.6 393.3L150 393.3L150.4 393.3L150.8 393.3L151.3 393.3L151.7 393.3L152.1 393.3L152.5 393.3L152.9 393.3L153.4 393.4L153.8 393.4L154.2 393.4L154.6 393.4L155.1 393.4L155.5 393.4L155.9 393.4L156.3 393.4L156.7 393.4L157.2 393.4L157.6 393.4L158 393.4L158.4 393.4L158.8 393.4L159.3 393.4L159.7 393.4L160.1 393.5L160.5 393.5L160.9 393.5L161.4 393.5L161.8 393.5L162.2 393.5L162.6 393.5L163.1 393.5L163.5 393.5L163.9 393.5L164.3 393.5L164.7 393.5L165.2 393.5L165.6 393.5L166 393.5L166.4 393.5L166.8 393.5L167.3 393.5L167.7 393.5L168.1 393.5L168.5 393.5L169 393.5L169.4 393.5L169.8 393.5L170.2 393.5L170.6 393.5L171.1 393.5L171.5 393.5L171.9 393.5L172.3 393.5L172.7 393.5L173.2 393.5L173.6 393.5L174 393.5L174.4 393.5L174.8 393.5L175.3 393.5L175.7 393.5L176.1 393.5L176.5 393.5L177 393.5L177.4 393.5L177.8 393.5L178.2 393.5L178.6 393.5L178.9 393.5L179.3 393.5L179.5 393.5L179.7 393.6L179.9 393.6L180.2 393.6L180.4 393.6L180.6 393.7L180.9 393.7L181.2 393.7L181.5 393.6L181.8 393.6L182 393.6L182.2 393.5L182.5 393.5L182.7 393.5L182.9 393.4L183.2 393.4L183.4 393.4L183.6 393.3L183.8 393.2L184.1 393.2L184.3 393.1L184.5 393L184.8 393L185 392.9L185.2 392.8L185.4 392.7L185.7 392.6L185.9 392.6L186.1 392.5L186.5 392.5L186.8 392.5L187.2 392.5L187.5 392.5L187.7 392.6L188 392.7L188.2 392.8L188.4 392.9L188.7 393L188.9 393.1L189.1 393.2L189.3 393.3L189.6 393.4L189.8 393.5L190 393.6L190.3 393.7L190.5 393.7L190.7 393.8L191 393.8L191.2 393.9L191.4 393.9L191.6 393.9L191.9 393.9L192.1 393.9L192.3 394L192.6 394L192.8 394L193 394L193.2 394.1L193.5 394.1L193.7 394.1L193.9 394.1L194.2 394.2L194.4 394.2L194.6 394.2L194.9 394.2L195.1 394.2L195.3 394.3L195.5 394.3L195.8 394.3L196 394.3L196.2 394.3L196.5 394.3L196.7 394.3L196.9 394.4L197.1 394.4L197.4 394.4L197.6 394.4L197.8 394.4L198.1 394.4L198.4 394.4L198.8 394.5L199.1 394.5L199.4 394.5L199.8 394.5L200.1 394.5L200.5 394.5L200.8 394.5L201.2 394.5L201.5 394.5L201.8 394.5L202.2 394.5L202.5 394.5L202.8 394.5L203 394.6L203.2 394.6L203.5 394.6L203.7 394.6L203.9 394.6L204.1 394.6L204.4 394.7L204.6 394.7L204.8 394.7L205.1 394.7L205.3 394.7L205.5 394.7L205.7 394.7L206.1 394.8L206.4 394.8L206.8 394.8L207.1 394.8L207.5 394.8L207.8 394.8L208.2 394.8L208.5 394.8L208.8 394.8L209.1 394.8L209.3 394.8L209.5 394.7L209.8 394.7L210 394.6L210.2 394.5L210.5 394.4L210.7 394.3L210.9 394.2L211.1 394.1L211.4 394L211.6 393.9L211.8 393.7L212.1 393.6L212.3 393.4L212.5 393.3L212.7 393.1L213 393.1L213.2 393L213.4 393L213.8 393L214 393L214.2 393L214.5 393.1L214.7 393.1L214.9 393.2L215.2 393.3L215.4 393.4L215.6 393.5L215.8 393.6L216.1 393.7L216.3 393.7L216.5 393.8L216.8 393.8L217 393.9L217.2 394L217.4 394L217.7 394.1L217.9 394.1L218.1 394.2L218.4 394.2L218.6 394.3L218.8 394.3L219.1 394.3L219.3 394.4L219.5 394.4L219.7 394.5L220 394.5L220.2 394.5L220.4 394.5L220.7 394.6L220.9 394.6L221.2 394.6L221.6 394.6L221.8 394.5L222 394.5L222.3 394.5L222.5 394.4L222.7 394.3L223 394.3L223.2 394.2L223.4 394.1L223.6 394L223.9 394L224.1 393.9L224.3 393.8L224.6 393.7L224.8 393.6L225 393.5L225.2 393.4L225.5 393.4L225.7 393.3L225.9 393.3L226.2 393.2L226.4 393.2L226.6 393.1L226.9 393.1L227.2 393.1L227.4 393.1L227.7 393.2L227.9 393.3L228.1 393.3L228.3 393.4L228.6 393.5L228.8 393.6L229 393.7L229.3 393.8L229.5 393.8L229.7 393.9L229.9 393.9L230.2 394L230.4 394.1L230.6 394.1L230.9 394.1L231.1 394.2L231.3 394.2L231.6 394.2L231.9 394.2L232.1 394.2L232.4 394.1L232.6 394.1L232.8 394L233 393.9L233.3 393.8L233.5 393.7L233.7 393.7L234 393.6L234.2 393.5L234.4 393.4L234.7 393.3L234.9 393.2L235.1 393.2L235.3 393.1L235.6 393.1L235.8 393.1L236 393.1L236.3 393.2L236.5 393.2L236.7 393.3L236.9 393.3L237.2 393.4L237.4 393.5L237.6 393.6L237.9 393.7L238.1 393.8L238.3 393.9L238.6 394L238.8 394.1L239 394.2L239.2 394.3L239.5 394.4L239.7 394.5L239.9 394.5L240.2 394.6L240.4 394.6L240.6 394.7L240.8 394.7L241.1 394.8L241.3 394.8L241.5 394.8L241.8 394.9L242 394.9L242.2 394.9L242.5 394.9L242.7 395L242.9 395L243.1 395L243.4 395L243.6 395L243.8 395L244.2 395.1L244.5 395.1L244.9 395L245.1 395L245.3 395L245.5 395L245.8 394.9L246 394.9L246.2 394.9L246.5 394.8L246.7 394.8L246.9 394.7L247.2 394.7L247.4 394.7L247.6 394.6L247.8 394.6L248.1 394.5L248.3 394.5L248.5 394.5L248.8 394.4L249 394.4L249.2 394.3L249.4 394.3L249.7 394.3L250 394.3L250.3 394.3L250.5 394.3L250.7 394.4L250.9 394.4L251.2 394.4L251.4 394.5L251.6 394.5L251.9 394.6L252.1 394.6L252.3 394.6L252.5 394.7L252.8 394.7L253 394.7L253.2 394.8L253.5 394.8L253.7 394.8L253.9 394.8L254.3 394.8L254.5 394.8L254.7 394.8L255 394.7L255.2 394.6L255.4 394.5L255.6 394.4L255.9 394.3L256.1 394.2L256.3 394.1L256.6 394L256.8 393.8L257 393.7L257.2 393.6L257.5 393.6L257.8 393.6L258 393.6L258.3 393.7L258.5 393.8L258.7 394L259 394.1L259.2 394.2L259.4 394.3L259.7 394.4L259.9 394.5L260.1 394.6L260.3 394.7L260.6 394.8L260.8 394.8L261 394.9L261.3 394.9L261.5 394.9L261.8 394.9L262.1 394.8L262.3 394.7L262.5 394.5L262.8 394.3L263 394.2L263.2 394L263.4 393.8L263.7 393.7L263.9 393.5L264.1 393.4L264.4 393.4L264.6 393.4L264.9 393.4L265.2 393.4L265.4 393.5L265.6 393.6L265.8 393.8L266.1 394L266.3 394.1L266.5 394.2L266.8 394.3L267 394.4L267.2 394.5L267.5 394.6L267.7 394.7L267.9 394.8L268.1 394.8L268.4 394.8L268.6 394.8L268.9 394.8L269.2 394.8L269.4 394.7L269.6 394.5L269.9 394.4L270.1 394.2L270.3 394.1L270.6 393.9L270.8 393.7L271 393.6L271.2 393.5L271.5 393.4L271.7 393.4L271.9 393.4L272.2 393.4L272.4 393.5L272.6 393.5L272.8 393.7L273.1 393.9L273.3 394L273.5 394.1L273.8 394.2L274 394.3L274.2 394.4L274.5 394.5L274.7 394.5L274.9 394.6L275.1 394.6L275.4 394.7L275.6 394.7L275.8 394.7L276.2 394.7L276.4 394.7L276.6 394.7L276.9 394.6L277.1 394.5L277.3 394.4L277.5 394.3L277.8 394.2L278 394L278.2 393.9L278.5 393.8L278.7 393.6L278.9 393.5L279.2 393.5L279.4 393.4L279.7 393.4L280 393.5L280.2 393.6L280.4 393.7L280.6 393.9L280.9 394L281.1 394.1L281.3 394.2L281.6 394.3L281.8 394.3L282 394.4L282.3 394.5L282.5 394.5L282.7 394.6L282.9 394.7L283.2 394.7L283.4 394.7L283.6 394.7L284 394.8L284.3 394.7L284.5 394.7L284.8 394.6L285 394.6L285.2 394.5L285.5 394.4L285.7 394.3L285.9 394.1L286.2 394L286.4 393.9L286.6 393.8L286.8 393.7L287.1 393.6L287.3 393.5L287.5 393.5L287.9 393.5L288.1 393.5L288.3 393.6L288.6 393.8L288.8 393.9L289 394L289.2 394.1L289.5 394.2L289.7 394.3L289.9 394.4L290.2 394.5L290.4 394.6L290.6 394.7L290.9 394.8L291.1 394.8L291.3 394.8L291.5 394.9L291.9 394.8L292.1 394.8L292.3 394.7L292.6 394.5L292.8 394.4L293 394.2L293.3 394.1L293.5 393.9L293.7 393.8L294 393.7L294.2 393.5L294.4 393.5L294.6 393.5L295 393.5L295.2 393.5L295.4 393.6L295.7 393.7L295.9 393.8L296.1 394L296.4 394.1L296.6 394.2L296.8 394.3L297 394.4L297.3 394.5L297.5 394.6L297.7 394.7L298 394.8L298.2 394.8L298.4 394.9L298.7 394.9L299 394.9L299.2 394.8L299.5 394.7L299.7 394.6L299.9 394.4L300.1 394.2L300.4 394.1L300.6 393.9L300.8 393.8L301.1 393.6L301.3 393.5L301.5 393.4L301.7 393.4L302.1 393.4L302.3 393.4L302.6 393.5L302.8 393.6L303 393.8L303.2 393.9L303.5 394.1L303.7 394.2L303.9 394.3L304.2 394.4L304.4 394.5L304.6 394.6L304.8 394.7L305.1 394.7L305.3 394.8L305.5 394.8L305.8 394.8L306.1 394.8L306.3 394.7L306.6 394.6L306.8 394.4L307 394.2L307.3 394.1L307.5 393.9L307.7 393.7L307.9 393.6L308.2 393.5L308.4 393.4L308.6 393.4L308.9 393.4L309.1 393.4L309.3 393.4L309.5 393.5L309.8 393.7L310 393.8L310.2 394L310.5 394.1L310.7 394.2L310.9 394.3L311.2 394.4L311.4 394.4L311.6 394.5L311.8 394.6L312.1 394.6L312.3 394.7L312.5 394.7L312.8 394.7L313.1 394.7L313.4 394.7L313.7 394.7L313.9 394.6L314.1 394.5L314.4 394.4L314.6 394.2L314.8 394.1L315.1 394L315.3 393.8L315.5 393.7L315.7 393.5L316 393.5L316.2 393.4L316.4 393.4L316.8 393.4L317 393.5L317.2 393.5L317.5 393.7L317.7 393.9L317.9 394L318.2 394.1L318.4 394.2L318.6 394.3L318.8 394.4L319.1 394.5L319.3 394.6L319.5 394.7L319.8 394.7L320 394.7L320.2 394.8L320.6 394.8L320.8 394.7L321 394.6L321.2 394.5L321.5 394.3L321.7 394.2L321.9 394L322.2 393.9L322.4 393.8L322.6 393.6L322.9 393.5L323.1 393.5L323.3 393.5L323.7 393.5L323.9 393.5L324.1 393.6L324.3 393.7L324.6 393.8L324.8 394L325 394.1L325.3 394.2L325.5 394.3L325.7 394.4L326 394.5L326.2 394.6L326.4 394.7L326.6 394.7L326.9 394.8L327.1 394.8L327.3 394.9L327.6 394.9L327.9 394.9L328.1 394.8L328.4 394.7L328.6 394.6L328.8 394.4L329 394.3L329.3 394.1L329.5 394L329.7 393.9L330 393.7L330.2 393.6L330.4 393.5L330.7 393.5L331 393.5L331.2 393.5L331.5 393.6L331.7 393.7L331.9 393.8L332.1 393.9L332.4 394L332.6 394.1L332.8 394.2L333.1 394.3L333.3 394.4L333.5 394.5L333.8 394.6L334 394.7L334.2 394.7L334.4 394.8L334.7 394.8L334.9 394.9L335.1 394.9L335.4 394.9L335.7 394.9L335.9 394.8L336.2 394.8L336.4 394.7L336.6 394.6L336.8 394.4L337.1 394.3L337.3 394.2L337.5 394L337.8 393.9L338 393.8L338.2 393.6L338.5 393.5L338.7 393.5L338.9 393.5L339.3 393.5L339.5 393.5L339.7 393.6L339.9 393.7L340.2 393.9L340.4 394L340.6 394.1L340.9 394.2L341.1 394.3L341.3 394.3L341.6 394.4L341.8 394.5L342 394.6L342.2 394.6L342.5 394.7L342.7 394.7L342.9 394.8L343.2 394.8L343.4 394.8L343.7 394.8L344.1 394.8L344.3 394.8L344.5 394.7L344.8 394.7L345 394.6L345.2 394.5L345.5 394.4L345.7 394.3L345.9 394.2L346.1 394L346.4 393.9L346.6 393.7L346.8 393.6L347.1 393.5L347.3 393.4L347.5 393.4L347.9 393.4L348.1 393.4L348.3 393.5L348.5 393.7L348.8 393.8L349 394L349.2 394.1L349.5 394.2L349.7 394.3L349.9 394.3L350.2 394.4L350.4 394.4L350.6 394.5L350.8 394.6L351.1 394.6L351.3 394.6L351.5 394.7L351.8 394.7L352 394.7L352.3 394.7L352.7 394.7L352.9 394.7L353.1 394.7L353.4 394.6L353.6 394.6L353.8 394.5L354.1 394.5L354.3 394.4L354.5 394.3L354.7 394.3L355 394.2L355.2 394.1L355.4 393.9L355.7 393.8L355.9 393.7L356.1 393.6L356.3 393.6L356.6 393.6L356.8 393.7L357 393.8L357.3 394L357.5 394.1L357.7 394.3L358 394.4L358.2 394.4L358.4 394.5L358.6 394.6L358.9 394.6L359.1 394.7L359.3 394.7L359.6 394.7L359.8 394.8L360 394.8L360.2 394.8L360.5 394.8L360.7 394.9L360.9 394.9L361.2 394.9L361.4 395L361.6 395L361.9 395L362.1 395L362.3 395L362.5 395L362.9 395.1L363.2 395.1L363.6 395L363.9 395L364.1 395L364.4 395L364.6 395L364.8 395L365.1 394.9L365.3 394.9L365.5 394.9L365.8 394.9L366 394.8L366.2 394.8L366.4 394.8L366.7 394.8L366.9 394.7L367.1 394.7L367.4 394.6L367.6 394.6L367.8 394.5L368 394.4L368.3 394.4L368.5 394.3L368.7 394.2L369 394.2L369.2 394.1L369.4 394L369.7 394L369.9 393.9L370.1 393.8L370.3 393.7L370.6 393.6L370.8 393.6L371 393.5L371.3 393.5L371.5 393.6L371.7 393.6L371.9 393.6L372.2 393.7L372.4 393.8L372.6 393.8L372.9 393.8L373.1 393.9L373.3 393.9L373.6 393.9L373.9 393.9L374.2 393.9L374.5 394L374.7 393.9L375 393.9L375.3 393.9L375.5 393.8L375.7 393.8L376 393.7L376.2 393.7L376.4 393.7L376.6 393.6L376.9 393.6L377.1 393.5L377.3 393.5L377.7 393.5L377.9 393.5L378.3 393.5L378.6 393.5L378.8 393.5L379.2 393.5L379.4 393.6L379.6 393.6L379.9 393.6L380.1 393.7L380.3 393.7L380.5 393.7L380.8 393.8L381.1 393.8L381.4 393.9L381.6 393.9L381.9 393.9L382.2 393.9L382.4 394L382.6 394L383 394L383.2 394L383.4 394L383.6 394L383.9 394.1L384.1 394.1L384.3 394.1L384.6 394.2L384.8 394.2L385.1 394.2L385.4 394.3L385.6 394.3L385.9 394.3L386.3 394.3L386.5 394.3L386.7 394.4L387 394.3L387.2 394.3L387.4 394.3L387.8 394.4L388 394.4L388.3 394.4L388.6 394.4L388.8 394.5L389 394.5L389.3 394.6L389.6 394.6L389.8 394.6L390.1 394.6L390.4 394.6L390.6 394.6L391 394.6L391.2 394.6L391.4 394.5L391.8 394.5L392.1 394.6L392.4 394.5L392.6 394.6L392.9 394.5L393.2 394.6L393.5 394.5L393.7 394.5L394 394.4L394.2 394.4L394.4 394.3L394.7 394.3L394.9 394.2L395.1 394.2L395.3 394.1L395.6 394.1L395.8 394L396 394L396.3 393.9L396.5 393.9L396.7 393.8L396.9 393.7L397.2 393.6L397.4 393.6L397.6 393.5L397.9 393.5L398.1 393.5L398.3 393.4L398.6 393.4L398.9 393.4L399.1 393.4L399.5 393.4L399.8 393.4L400 393.4L400.4 393.4L400.6 393.4L401 393.4L401.2 393.5L401.4 393.5L401.7 393.5L401.9 393.6L402.1 393.6L402.3 393.6L402.6 393.7L402.8 393.7L403 393.8L403.3 393.8L403.5 393.9L403.7 393.9L403.9 394L404.2 394.1L404.4 394.1L404.6 394.2L404.9 394.2L405.1 394.3L405.3 394.3L405.6 394.3L405.8 394.3L406.1 394.3L406.4 394.3L406.6 394.3L406.8 394.2L407 394.2L407.3 394.2L407.5 394.2L407.7 394.2L408 394.1L408.2 394.1L408.4 394.1L408.6 394.1L408.9 394L409.2 394L409.6 394L409.8 394L410 394L410.3 394L410.5 394L410.7 394.1L410.9 394.1L411.2 394.2L411.5 394.2L411.9 394.2L412.1 394.2L412.3 394.3L412.5 394.2L412.8 394.2L413 394.3L413.4 394.3L413.7 394.3L414 394.3L414.3 394.3L414.5 394.3L414.7 394.3L415 394.3L415.3 394.2L415.6 394.2L415.9 394.2L416.1 394.3L416.3 394.2L416.6 394.3L416.8 394.2L417 394.2L417.3 394.2L417.6 394.3L417.8 394.3L418.2 394.3L418.4 394.3L418.6 394.3L419 394.3L419.3 394.3L419.7 394.4L419.9 394.4L420.2 394.4L420.6 394.4L420.9 394.3L421.2 394.3L421.4 394.3L421.6 394.3L421.8 394.2L422.2 394.3L422.5 394.3L422.8 394.2L423.1 394.2L423.3 394.2L423.6 394.2L423.8 394.1L424 394.1L424.2 394L424.5 394L424.7 393.9L424.9 393.9L425.2 393.8L425.4 393.8L425.6 393.7L425.9 393.7L426.1 393.7L426.3 393.6L426.5 393.6L426.8 393.5L427 393.5L427.2 393.5L427.5 393.5L427.7 393.4L427.9 393.4L428.1 393.4L428.4 393.3L428.6 393.3L428.8 393.3L429.1 393.2L429.3 393.2L429.5 393.2L429.9 393.2L430.1 393.1L430.4 393.1L430.7 393.1L430.9 393.2L431.1 393.2L431.4 393.2L431.6 393.3L431.8 393.3L432 393.4L432.3 393.4L432.5 393.4L432.7 393.5L433 393.5L433.2 393.5L433.4 393.5L433.7 393.5L433.9 393.6L434.1 393.6L434.3 393.6L434.6 393.6L434.8 393.6L435.1 393.6L435.4 393.7L435.6 393.7L435.8 393.7L436.1 393.7L436.3 393.7L436.5 393.7L436.9 393.7L437.2 393.7L437.4 393.6L437.7 393.6L437.9 393.7L438.1 393.6L438.4 393.6L438.6 393.6L438.9 393.6L439.2 393.7L439.4 393.7L439.6 393.8L439.8 393.9L440.1 394L440.3 394L440.5 394.1L440.8 394.2L441 394.2L441.2 394.3L441.5 394.3L441.7 394.2L441.9 394.3L442.1 394.3L442.5 394.3L442.7 394.4L443.1 394.5L443.3 394.6L443.5 394.6L443.7 394.6L444 394.7L444.2 394.7L444.4 394.7L444.7 394.7L444.9 394.7L445.2 394.7L445.5 394.7L445.7 394.6L445.9 394.7L446.3 394.7L446.6 394.7L446.8 394.7L447.1 394.7L447.4 394.7L447.6 394.6L447.9 394.6L448.1 394.6L448.3 394.4L448.6 394.4L448.8 394.5L449 394.4L449.3 394.5L449.5 394.4L449.8 394.3L450.2 394.3L450.4 394.2L450.6 394.2L451 394.2L451.2 394.2L451.4 394.1L451.8 394.1L452 394L452.2 394L452.5 393.9L452.7 393.9L452.9 393.9L453.2 393.9L453.4 393.9L453.6 393.9L453.8 394L454.1 394L454.3 394.1L454.6 394L455 394L455.2 394L455.4 394L455.7 394L455.9 394L456.1 394L456.4 394L456.6 394L456.8 393.9L457.1 394L457.3 393.9L457.5 393.9L457.7 393.8L458 393.9L458.2 393.9L458.4 394L458.7 394L458.9 394L459.1 394L459.3 394L459.6 394L459.8 393.9L460 393.8L460.3 393.9L460.5 393.8L460.7 393.8L461 393.7L461.2 393.7L461.5 393.7L461.8 393.6L462 393.6L462.2 393.6L462.4 393.6L462.7 393.7L462.9 393.9L463.1 393.9L463.4 394L463.6 393.9L463.8 394L464 394.1L464.3 394.1L464.5 394.1L464.9 394.1L465.1 394.1L465.3 394.2L465.5 394.1L465.9 394.1L466.1 394.1L466.3 394L466.6 394L466.9 394L467.1 393.9L467.4 393.9L467.6 393.8L467.8 393.7L468.1 393.7L468.3 393.6L468.5 393.5L468.9 393.5L469.2 393.5L469.4 393.5L469.7 393.5L469.9 393.5L470.2 393.5L470.6 393.5L470.9 393.4L471.2 393.4L471.5 393.4L471.7 393.4L472.1 393.4L472.3 393.4L472.5 393.4L472.9 393.4L473.1 393.4L473.3 393.3L473.6 393.3L473.8 393.4L474 393.4L474.4 393.4L474.6 393.5L474.9 393.4L475.2 393.5L475.4 393.4L475.7 393.4L476.1 393.4L476.4 393.4L476.8 393.4L477 393.4L477.4 393.5L477.6 393.5L477.9 393.5L478.2 393.6L478.4 393.7L478.6 393.7L478.8 393.7L479.1 393.7L479.3 393.7L479.6 393.8L479.9 393.7L480.1 393.8L480.3 393.9L480.6 393.9L480.8 393.9L481.1 394L481.4 394.1L481.5 394.2L481.7 394.3L481.9 394.4L482.2 394.6L482.4 394.7L482.6 394.8L482.9 394.9L483.1 394.8L483.3 394.8L483.7 394.8L484 394.8L484.2 394.8L484.5 394.8L484.7 394.9L485 394.9L485.3 394.9L485.5 394.9L485.7 394.8L486.1 394.8L486.3 394.8L486.5 394.8L486.9 394.8L487.1 394.7L487.3 394.8L487.6 394.8L487.9 394.8L488.1 394.8L488.5 394.8L488.7 394.7L489.1 394.7L489.3 394.7L489.5 394.7L489.7 394.7L490.1 394.7L490.3 394.8L490.5 394.7L490.9 394.8L491.1 394.7L491.5 394.7L491.7 394.6L491.9 394.5L492.1 394.5L492.4 394.4L492.6 394.3L492.8 394.2L493.1 394.1L493.3 394L493.5 393.9L493.8 393.8L494.1 393.8L494.3 393.7L494.6 393.7L494.8 393.6L495 393.5L495.2 393.5L495.5 393.4L495.7 393.4L495.9 393.4L496.3 393.3L496.5 393.2L496.7 393.2L497.1 393.1L497.3 393.1L497.5 393L497.8 392.9L498 393L498.3 393L498.6 393.1L498.8 393.1L499 393.3L499.3 393.3L499.5 393.4L499.7 393.4L499.9 393.5L500.3 393.5L500.5 393.6L500.8 393.6L501 393.7L501.2 393.7L501.4 393.7L501.8 393.8L502 393.7L502.2 393.7L502.5 393.6L502.7 393.6L502.9 393.5L503.2 393.6L503.4 393.5L503.6 393.5L503.8 393.5L504.1 393.6L504.3 393.6L504.4 393.7L504.7 393.8L504.9 393.9L505.1 394L505.3 394.1L505.6 394.2L505.8 394.3L506 394.4L506.4 394.4L506.6 394.4L506.8 394.5L507.1 394.5L507.3 394.4L507.5 394.3L507.7 394.3L508 394.2L508.3 394.2L508.6 394.1L508.8 394L509 393.9L509.2 393.8L509.5 393.7L509.7 393.7L509.9 393.6L510.2 393.6L510.4 393.6L510.6 393.7L510.7 393.8L511 393.9L511.2 393.9L511.4 394L511.6 394.2L511.9 394.3L512.1 394.4L512.3 394.3L512.7 394.3L512.9 394.3L513.3 394.2L513.5 394.2L513.7 394L513.9 394L514.2 394L514.4 393.9L514.6 393.9L514.9 393.8L515.1 393.7L515.3 393.6L515.5 393.6L515.8 393.7L516 393.7L516.2 393.8L516.5 393.8L516.7 393.9L516.9 394L517.2 394L517.4 394L517.6 394.1L517.8 394.3L518.1 394.3L518.3 394.4L518.5 394.4L518.9 394.4L519.1 394.4L519.3 394.2L519.4 394L519.7 393.9L519.9 393.8L520.1 393.7L520.4 393.7L520.7 393.7L520.9 393.8L521.2 393.8L521.4 393.8L521.6 393.9L521.9 394L522.1 394.1L522.2 394.1" fill="none" stroke="#ff1cf6" stroke-width="1.0" stroke-linejoin="round" />
<path d="M44.5 396.8L44.5 399.3L44.5 401.4L44.6 403.3L44.6 404.9L44.7 406.4L44.7 407.6L44.8 408.7L44.8 409.6L44.9 410.4L44.9 411.1L45 411.7L45 412.2L45.1 412.7L45.1 413L45.2 413.3L45.2 413.6L45.3 413.8L45.4 414.1L45.5 414.3L45.6 414.4L45.8 414.3L45.9 414.1L46 413.9L46.1 413.7L46.2 413.5L46.3 413.3L46.4 413.1L46.5 412.9L46.6 412.7L46.7 412.5L46.8 412.2L46.9 412L47 411.8L47.1 411.6L47.2 411.4L47.3 411.1L47.4 410.9L47.5 410.7L47.6 410.5L47.7 410.3L47.8 410.1L47.8 409.9L47.9 409.7L48 409.5L48.1 409.3L48.2 409.1L48.3 408.9L48.4 408.7L48.5 408.5L48.6 408.3L48.7 408.1L48.8 407.9L48.9 407.8L49 407.6L49.1 407.4L49.2 407.2L49.3 407.1L49.4 406.9L49.5 406.7L49.6 406.6L49.7 406.4L49.8 406.2L49.9 406.1L50 405.9L50 405.8L50.1 405.6L50.2 405.5L50.3 405.3L50.4 405.2L50.5 405L50.7 404.8L50.8 404.6L51 404.4L51.1 404.2L51.2 404L51.4 403.8L51.5 403.6L51.7 403.4L51.8 403.2L52 403.1L52.1 402.9L52.3 402.7L52.4 402.5L52.5 402.4L52.7 402.2L52.8 402L53 401.9L53.1 401.7L53.3 401.6L53.4 401.4L53.5 401.3L53.7 401.1L53.8 401L54 400.8L54.1 400.7L54.3 400.6L54.4 400.4L54.5 400.3L54.7 400.2L54.8 400.1L55 399.9L55.1 399.8L55.3 399.7L55.4 399.6L55.6 399.5L55.7 399.4L55.8 399.3L56 399.1L56.1 399L56.3 398.9L56.4 398.8L56.6 398.7L56.7 398.6L56.9 398.5L57 398.4L57.2 398.3L57.3 398.2L57.5 398.1L57.6 398L57.8 397.9L57.9 397.8L58 397.7L58.2 397.6L58.3 397.4L58.5 397.3L58.6 397.2L58.8 397.1L58.9 397L59 396.9L59.2 396.8L59.3 396.6L59.5 396.5L59.6 396.4L59.8 396.3L59.9 396.2L60.1 396.1L60.2 396L60.3 395.9L60.5 395.8L60.6 395.7L60.8 395.6L61 395.5L61.2 395.3L61.3 395.2L61.5 395.1L61.7 395L61.9 394.9L62.1 394.8L62.3 394.7L62.5 394.6L62.7 394.5L62.9 394.4L63.1 394.3L63.3 394.2L63.4 394.2L63.6 394.1L63.8 394L64 394L64.2 393.9L64.4 393.9L64.6 393.8L64.8 393.8L65.1 393.7L65.3 393.7L65.6 393.6L65.8 393.6L66 393.6L66.3 393.5L66.5 393.5L66.8 393.5L67 393.5L67.2 393.5L67.5 393.5L67.8 393.5L68 393.5L68.2 393.5L68.5 393.5L68.7 393.5L69 393.5L69.2 393.5L69.4 393.5L69.7 393.5L69.9 393.5L70.1 393.5L70.4 393.5L70.6 393.5L70.9 393.5L71.1 393.5L71.3 393.6L71.6 393.6L71.8 393.6L72.1 393.6L72.3 393.6L72.5 393.6L72.8 393.6L73 393.6L73.3 393.6L73.7 393.6L74.2 393.7L74.6 393.7L75 393.7L75.4 393.7L75.9 393.7L76.3 393.7L76.7 393.8L77.1 393.8L77.5 393.8L78 393.8L78.4 393.8L78.8 393.8L79.2 393.8L79.6 393.8L80.1 393.8L80.5 393.8L80.9 393.8L81.3 393.7L81.8 393.7L82.2 393.7L82.6 393.7L83 393.7L83.4 393.6L83.9 393.6L84.3 393.6L84.7 393.6L85.1 393.6L85.5 393.6L86 393.5L86.4 393.5L86.8 393.5L87.2 393.5L87.6 393.5L88.1 393.5L88.5 393.4L88.9 393.4L89.3 393.4L89.8 393.4L90.2 393.4L90.6 393.3L91 393.3L91.4 393.3L91.9 393.3L92.3 393.2L92.7 393.2L93.1 393.2L93.5 393.1L94 393.1L94.4 393.1L94.8 393L95.2 393L95.7 393L96.1 392.9L96.5 392.9L96.9 392.8L97.3 392.8L97.8 392.8L98.2 392.7L98.6 392.7L99 392.7L99.4 392.7L99.9 392.6L100.3 392.6L100.7 392.6L101.1 392.6L101.6 392.6L102 392.6L102.4 392.6L102.8 392.6L103.2 392.6L103.7 392.6L104.1 392.7L104.5 392.7L104.9 392.7L105.3 392.7L105.8 392.8L106.2 392.8L106.6 392.8L107 392.9L107.4 392.9L107.9 393L108.3 393L108.7 393L109.1 393.1L109.6 393.1L110 393.1L110.4 393.2L110.8 393.2L111.2 393.2L111.7 393.3L112.1 393.3L112.5 393.3L112.9 393.3L113.3 393.3L113.8 393.4L114.2 393.4L114.6 393.4L115 393.4L115.5 393.4L115.9 393.4L116.3 393.4L116.7 393.4L117.1 393.4L117.6 393.4L118 393.4L118.4 393.4L118.8 393.4L119.2 393.4L119.7 393.4L120.1 393.4L120.5 393.4L120.9 393.4L121.3 393.4L121.8 393.4L122.2 393.4L122.6 393.4L123 393.4L123.5 393.4L123.9 393.4L124.3 393.4L124.7 393.4L125.1 393.4L125.6 393.4L126 393.3L126.4 393.3L126.8 393.3L127.2 393.3L127.7 393.3L128.1 393.3L128.5 393.3L128.9 393.3L129.4 393.3L129.8 393.3L130.2 393.2L130.6 393.2L131 393.2L131.5 393.2L131.9 393.2L132.3 393.2L132.7 393.2L133.1 393.2L133.6 393.2L134 393.2L134.4 393.2L134.8 393.1L135.3 393.1L135.7 393.1L136.1 393.1L136.5 393.1L136.9 393.1L137.4 393.1L137.8 393.1L138.2 393.1L138.6 393.1L139 393.1L139.5 393.1L139.9 393.1L140.3 393.1L140.7 393.1L141.1 393.1L141.6 393.1L142 393.1L142.4 393.1L142.8 393.1L143.3 393.1L143.7 393.1L144.1 393.1L144.5 393.1L144.9 393.1L145.4 393.2L145.8 393.2L146.2 393.2L146.6 393.2L147 393.2L147.5 393.2L147.9 393.2L148.3 393.2L148.7 393.2L149.2 393.2L149.6 393.2L150 393.3L150.4 393.3L150.8 393.3L151.3 393.3L151.7 393.3L152.1 393.3L152.5 393.3L152.9 393.3L153.4 393.3L153.8 393.3L154.2 393.4L154.6 393.4L155.1 393.4L155.5 393.4L155.9 393.4L156.3 393.4L156.7 393.4L157.2 393.4L157.6 393.4L158 393.4L158.4 393.4L158.8 393.4L159.3 393.4L159.7 393.4L160.1 393.4L160.5 393.4L160.9 393.5L161.4 393.5L161.8 393.5L162.2 393.5L162.6 393.5L163.1 393.5L163.5 393.5L163.9 393.5L164.3 393.5L164.7 393.5L165.2 393.5L165.6 393.5L166 393.5L166.4 393.5L166.8 393.5L167.3 393.5L167.7 393.5L168.1 393.5L168.5 393.5L169 393.5L169.4 393.5L169.8 393.5L170.2 393.5L170.6 393.5L171.1 393.5L171.5 393.5L171.9 393.5L172.3 393.5L172.7 393.5L173.2 393.5L173.6 393.5L174 393.5L174.4 393.5L174.8 393.5L175.3 393.5L175.7 393.5L176.1 393.5L176.5 393.5L177 393.5L177.4 393.5L177.8 393.5L178.2 393.5L178.4 393.5L178.7 393.5L178.9 393.6L179.1 393.6L179.4 393.6L179.6 393.6L179.8 393.7L180.1 393.7L180.3 393.8L180.5 393.8L180.7 393.8L181 393.9L181.2 393.9L181.5 393.9L181.8 393.9L182 393.8L182.2 393.8L182.5 393.8L182.7 393.7L182.9 393.6L183.2 393.6L183.4 393.5L183.6 393.4L183.8 393.3L184.1 393.3L184.3 393.2L184.5 393.1L184.8 393L185 392.9L185.2 392.9L185.4 392.8L185.7 392.7L185.9 392.6L186.1 392.6L186.5 392.6L186.8 392.6L187.2 392.6L187.5 392.6L187.7 392.6L188 392.7L188.2 392.9L188.4 393L188.7 393.1L188.9 393.2L189.1 393.3L189.3 393.4L189.6 393.5L189.8 393.6L190 393.7L190.3 393.8L190.5 393.9L190.7 393.9L191 394L191.2 394.1L191.4 394.1L191.6 394.2L191.9 394.2L192.1 394.3L192.3 394.3L192.6 394.3L192.8 394.4L193 394.4L193.2 394.4L193.5 394.4L193.7 394.4L193.9 394.5L194.2 394.5L194.4 394.5L194.6 394.5L194.9 394.5L195.1 394.6L195.3 394.6L195.5 394.6L195.8 394.6L196 394.6L196.2 394.6L196.5 394.6L196.7 394.6L196.9 394.7L197.1 394.7L197.4 394.7L197.6 394.7L197.8 394.7L198.1 394.7L198.3 394.7L198.5 394.7L198.8 394.8L199 394.8L199.2 394.8L199.4 394.8L199.7 394.8L199.9 394.8L200.1 394.8L200.4 394.8L200.6 394.9L200.8 394.9L201 394.9L201.3 394.9L201.5 394.9L201.7 394.9L202 394.9L202.2 394.9L202.4 395L202.7 395L202.9 395L203.2 395L203.5 395L203.7 395L203.9 395L204.1 395L204.4 395L204.6 395.1L204.8 395.1L205.2 395.1L205.5 395.1L205.9 395.1L206.2 395.1L206.6 395.1L206.9 395.1L207.2 395.1L207.6 395.2L207.9 395.2L208.3 395.2L208.6 395.2L209 395.2L209.2 395.1L209.4 395.1L209.6 395L209.9 395L210.1 394.9L210.3 394.8L210.6 394.7L210.8 394.6L211 394.5L211.3 394.4L211.5 394.3L211.7 394.2L211.9 394.1L212.2 394L212.4 393.9L212.6 393.7L212.9 393.6L213.1 393.5L213.3 393.5L213.5 393.5L213.8 393.5L214 393.5L214.2 393.5L214.5 393.6L214.7 393.6L214.9 393.7L215.2 393.8L215.4 393.9L215.6 393.9L215.8 394L216.1 394.1L216.3 394.2L216.5 394.2L216.8 394.3L217 394.4L217.2 394.4L217.4 394.5L217.7 394.5L217.9 394.6L218.1 394.6L218.4 394.7L218.6 394.7L218.8 394.8L219.1 394.8L219.3 394.9L219.5 394.9L219.7 395L220 395L220.2 395.1L220.4 395.1L220.7 395.1L220.9 395.2L221.2 395.2L221.5 395.2L221.7 395.1L221.9 395.1L222.1 395L222.4 394.9L222.6 394.9L222.8 394.8L223.1 394.7L223.3 394.6L223.5 394.5L223.8 394.5L224 394.4L224.2 394.3L224.4 394.2L224.7 394.1L224.9 394L225.1 393.9L225.4 393.8L225.6 393.7L225.8 393.7L226 393.6L226.3 393.5L226.5 393.4L226.7 393.4L227.1 393.4L227.3 393.4L227.5 393.5L227.8 393.6L228 393.6L228.2 393.7L228.5 393.8L228.7 393.9L228.9 394L229.1 394.1L229.4 394.2L229.6 394.2L229.8 394.3L230.1 394.3L230.3 394.4L230.5 394.5L230.8 394.5L231 394.6L231.2 394.6L231.4 394.7L231.7 394.7L231.9 394.7L232.1 394.6L232.4 394.5L232.6 394.5L232.8 394.4L233 394.3L233.3 394.2L233.5 394.1L233.7 394L234 393.9L234.2 393.8L234.4 393.7L234.7 393.6L234.9 393.5L235.1 393.5L235.3 393.4L235.6 393.4L235.9 393.4L236.1 393.5L236.4 393.5L236.6 393.6L236.8 393.6L237.1 393.7L237.3 393.8L237.5 393.9L237.7 394L238 394.1L238.2 394.2L238.4 394.3L238.7 394.4L238.9 394.5L239.1 394.6L239.4 394.7L239.6 394.8L239.8 394.9L240 395L240.3 395.1L240.5 395.1L240.7 395.2L241 395.3L241.2 395.4L241.4 395.4L241.6 395.5L241.9 395.6L242.1 395.6L242.3 395.7L242.6 395.7L242.8 395.7L243 395.8L243.3 395.8L243.5 395.8L243.7 395.9L243.9 395.9L244.2 395.9L244.5 395.9L244.9 395.9L245.1 395.9L245.3 395.9L245.5 395.8L245.8 395.8L246 395.7L246.2 395.7L246.5 395.6L246.7 395.6L246.9 395.5L247.2 395.5L247.4 395.4L247.6 395.4L247.8 395.3L248.1 395.3L248.3 395.2L248.5 395.1L248.8 395.1L249 395L249.2 395L249.4 394.9L249.7 394.9L250 394.9L250.3 394.9L250.5 395L250.7 395L250.9 395L251.2 395.1L251.4 395.1L251.6 395.2L251.9 395.2L252.1 395.3L252.3 395.3L252.5 395.4L252.8 395.4L253 395.4L253.2 395.5L253.5 395.5L253.7 395.5L254 395.5L254.3 395.5L254.5 395.4L254.7 395.4L255 395.3L255.2 395.3L255.4 395.2L255.6 395.1L255.9 395L256.1 394.9L256.3 394.8L256.6 394.7L256.8 394.6L257 394.5L257.2 394.4L257.5 394.4L257.7 394.3L257.9 394.2L258.2 394.1L258.4 394.1L258.6 394.1L258.9 394.2L259.1 394.2L259.3 394.3L259.5 394.4L259.8 394.5L260 394.6L260.2 394.7L260.5 394.7L260.7 394.8L260.9 395L261.1 395.1L261.4 395.2L261.6 395.3L261.8 395.3L262.1 395.4L262.3 395.5L262.5 395.5L262.9 395.5L263.1 395.4L263.3 395.3L263.6 395.1L263.8 395L264 394.8L264.2 394.7L264.5 394.5L264.7 394.4L264.9 394.3L265.2 394.1L265.4 394L265.6 394L265.8 393.9L266.1 394L266.3 394.1L266.5 394.2L266.8 394.3L267 394.4L267.2 394.6L267.5 394.7L267.7 394.8L267.9 394.9L268.1 395L268.4 395.1L268.6 395.2L268.8 395.2L269.1 395.3L269.3 395.4L269.5 395.4L269.7 395.4L270.1 395.4L270.3 395.3L270.6 395.2L270.8 395.1L271 394.9L271.2 394.8L271.5 394.6L271.7 394.5L271.9 394.4L272.2 394.2L272.4 394.1L272.6 394L272.8 394L273.2 394L273.4 394L273.6 394.2L273.9 394.3L274.1 394.4L274.3 394.5L274.6 394.7L274.8 394.7L275 394.8L275.3 394.9L275.5 395L275.7 395L275.9 395.1L276.2 395.1L276.4 395.2L276.6 395.2L276.9 395.3L277.1 395.3L277.4 395.3L277.7 395.2L277.9 395.2L278.1 395.1L278.4 395L278.6 394.9L278.8 394.8L279 394.7L279.3 394.6L279.5 394.5L279.7 394.3L280 394.2L280.2 394.1L280.4 394.1L280.6 394.1L280.9 394.1L281.1 394.2L281.3 394.2L281.6 394.4L281.8 394.5L282 394.6L282.3 394.7L282.5 394.7L282.7 394.8L282.9 394.9L283.2 394.9L283.4 395L283.6 395.1L283.9 395.1L284.1 395.2L284.3 395.2L284.5 395.3L284.8 395.3L285 395.3L285.3 395.3L285.6 395.3L285.8 395.2L286 395.1L286.3 395L286.5 394.9L286.7 394.8L287 394.7L287.2 394.7L287.4 394.6L287.6 394.5L287.9 394.4L288.1 394.3L288.3 394.2L288.6 394.2L288.8 394.1L289 394.2L289.2 394.2L289.5 394.3L289.7 394.4L289.9 394.5L290.2 394.6L290.4 394.7L290.6 394.8L290.9 394.9L291.1 395L291.3 395.1L291.5 395.2L291.8 395.2L292 395.3L292.2 395.4L292.5 395.4L292.7 395.4L293 395.4L293.3 395.3L293.5 395.2L293.7 395.1L294 394.9L294.2 394.7L294.4 394.6L294.6 394.5L294.9 394.4L295.1 394.3L295.3 394.2L295.6 394.2L295.8 394.1L296.1 394.1L296.4 394.2L296.6 394.3L296.8 394.4L297 394.5L297.3 394.6L297.5 394.7L297.7 394.7L298 394.8L298.2 394.9L298.4 395.1L298.7 395.2L298.9 395.3L299.1 395.3L299.3 395.4L299.6 395.5L299.8 395.5L300.1 395.5L300.4 395.4L300.6 395.3L300.8 395.1L301.1 395L301.3 394.8L301.5 394.7L301.7 394.5L302 394.4L302.2 394.3L302.4 394.2L302.7 394.1L302.9 394L303.1 394L303.4 394L303.6 394.1L303.8 394.2L304 394.3L304.3 394.5L304.5 394.6L304.7 394.7L305 394.8L305.2 394.9L305.4 395L305.6 395.1L305.9 395.2L306.1 395.2L306.3 395.3L306.6 395.4L306.8 395.4L307 395.4L307.3 395.4L307.5 395.3L307.7 395.1L307.9 395L308.2 394.8L308.4 394.6L308.6 394.5L308.9 394.4L309.1 394.3L309.3 394.1L309.5 394L309.8 394L310 393.9L310.2 394L310.5 394.1L310.7 394.2L310.9 394.3L311.2 394.5L311.4 394.6L311.6 394.7L311.8 394.8L312.1 394.8L312.3 394.9L312.5 395L312.8 395L313 395.1L313.2 395.2L313.4 395.2L313.7 395.2L313.9 395.3L314.1 395.3L314.5 395.3L314.7 395.2L314.9 395.2L315.2 395.1L315.4 395L315.6 394.8L315.9 394.7L316.1 394.6L316.3 394.5L316.5 394.4L316.8 394.3L317 394.2L317.2 394.1L317.5 394L317.7 394L317.9 394L318.2 394.1L318.4 394.2L318.6 394.4L318.8 394.5L319.1 394.6L319.3 394.7L319.5 394.8L319.8 394.9L320 395L320.2 395L320.4 395.1L320.7 395.2L320.9 395.2L321.1 395.3L321.4 395.3L321.7 395.3L321.9 395.3L322.2 395.2L322.4 395L322.6 394.9L322.9 394.7L323.1 394.6L323.3 394.5L323.5 394.4L323.8 394.3L324 394.2L324.2 394.1L324.5 394.1L324.8 394.1L325 394.2L325.3 394.3L325.5 394.4L325.7 394.5L326 394.6L326.2 394.7L326.4 394.7L326.6 394.8L326.9 394.9L327.1 395L327.3 395.1L327.6 395.2L327.8 395.3L328 395.4L328.2 395.4L328.5 395.4L328.7 395.5L329 395.4L329.3 395.4L329.5 395.2L329.7 395.1L330 394.9L330.2 394.8L330.4 394.7L330.7 394.6L330.9 394.5L331.1 394.4L331.3 394.3L331.6 394.2L331.8 394.2L332 394.2L332.3 394.2L332.5 394.2L332.7 394.3L332.9 394.4L333.2 394.5L333.4 394.6L333.6 394.7L333.9 394.7L334.1 394.8L334.3 394.9L334.6 395L334.8 395.1L335 395.2L335.2 395.3L335.5 395.3L335.7 395.4L335.9 395.4L336.2 395.5L336.4 395.5L336.7 395.5L337 395.4L337.2 395.4L337.4 395.3L337.7 395.2L337.9 395L338.1 394.9L338.3 394.8L338.6 394.7L338.8 394.6L339 394.5L339.3 394.4L339.5 394.3L339.7 394.2L339.9 394.1L340.2 394.1L340.4 394.1L340.6 394.2L340.9 394.3L341.1 394.4L341.3 394.5L341.6 394.6L341.8 394.7L342 394.7L342.2 394.8L342.5 394.9L342.7 395L342.9 395L343.2 395.1L343.4 395.2L343.6 395.2L343.8 395.3L344.1 395.3L344.3 395.3L344.5 395.3L344.8 395.4L345.1 395.4L345.3 395.3L345.6 395.3L345.8 395.2L346 395.2L346.3 395.1L346.5 395L346.7 394.9L346.9 394.8L347.2 394.7L347.4 394.6L347.6 394.4L347.9 394.3L348.1 394.2L348.3 394.1L348.5 394L348.8 394L349 394L349.2 394.1L349.5 394.2L349.7 394.3L349.9 394.5L350.2 394.6L350.4 394.7L350.6 394.7L350.8 394.8L351.1 394.9L351.3 394.9L351.5 395L351.8 395L352 395.1L352.2 395.1L352.4 395.2L352.7 395.2L352.9 395.2L353.1 395.3L353.5 395.3L353.7 395.3L353.9 395.2L354.2 395.2L354.4 395.1L354.6 395L354.9 395L355.1 394.9L355.3 394.8L355.5 394.7L355.8 394.6L356 394.5L356.2 394.3L356.5 394.2L356.7 394.2L357 394.2L357.3 394.3L357.5 394.4L357.7 394.5L358 394.6L358.2 394.8L358.4 394.9L358.6 395L358.9 395L359.1 395.1L359.3 395.2L359.6 395.2L359.8 395.3L360 395.3L360.2 395.4L360.5 395.4L360.7 395.5L360.9 395.5L361.2 395.6L361.4 395.6L361.6 395.7L361.9 395.7L362.1 395.7L362.3 395.7L362.5 395.7L362.8 395.8L363.1 395.8L363.5 395.8L363.8 395.7L364 395.7L364.3 395.7L364.5 395.7L364.7 395.7L364.9 395.6L365.2 395.6L365.4 395.5L365.6 395.5L365.9 395.4L366.1 395.4L366.3 395.3L366.6 395.3L366.8 395.2L367 395.2L367.2 395.1L367.5 395L367.7 394.9L367.9 394.9L368.2 394.8L368.4 394.7L368.6 394.6L368.8 394.5L369.1 394.5L369.3 394.4L369.5 394.4L369.8 394.3L370 394.2L370.2 394.1L370.5 394L370.7 393.9L370.9 393.9L371.1 393.8L371.4 393.9L371.6 393.9L371.8 393.9L372.1 394L372.3 394.1L372.5 394.1L372.7 394.2L373 394.2L373.2 394.2L373.6 394.3L373.9 394.3L374.2 394.3L374.5 394.3L374.7 394.3L375 394.3L375.3 394.2L375.5 394.2L375.7 394.1L376 394.1L376.2 394L376.4 394L376.6 393.9L376.9 393.9L377.1 393.9L377.3 393.8L377.6 393.8L377.9 393.8L378.1 393.8L378.4 393.7L378.7 393.8L378.9 393.8L379.2 393.8L379.4 393.9L379.6 393.9L379.9 393.9L380.1 394L380.3 394.1L380.5 394.1L380.8 394.1L381.1 394.2L381.4 394.2L381.6 394.2L381.9 394.3L382.2 394.3L382.4 394.3L382.6 394.3L383 394.4L383.2 394.4L383.4 394.4L383.6 394.4L383.9 394.4L384.1 394.4L384.3 394.5L384.6 394.5L384.8 394.5L385.1 394.5L385.4 394.6L385.6 394.6L385.9 394.6L386.3 394.7L386.5 394.7L386.7 394.7L387 394.7L387.2 394.6L387.4 394.7L387.7 394.7L387.9 394.8L388.2 394.8L388.5 394.8L388.7 394.9L388.9 394.9L389.2 395L389.4 395L389.7 395L390 395L390.2 395L390.4 395L390.6 395L390.9 395L391.1 395L391.4 395L391.8 395L392.1 395L392.4 395L392.6 395L392.9 395L393.2 395L393.5 394.9L393.7 394.9L394 394.8L394.2 394.7L394.4 394.7L394.7 394.6L394.9 394.6L395.1 394.5L395.3 394.5L395.6 394.4L395.8 394.4L396 394.3L396.3 394.3L396.5 394.2L396.7 394.2L396.9 394.1L397.2 394L397.4 393.9L397.6 393.9L397.9 393.8L398.1 393.8L398.3 393.7L398.6 393.6L398.8 393.6L399 393.6L399.2 393.5L399.6 393.5L399.8 393.5L400 393.6L400.3 393.6L400.5 393.6L400.7 393.6L401 393.7L401.2 393.7L401.4 393.8L401.7 393.8L401.9 393.9L402.1 393.9L402.3 394L402.6 394L402.8 394L403 394.1L403.3 394.2L403.5 394.2L403.7 394.3L403.9 394.4L404.2 394.4L404.4 394.4L404.6 394.5L404.9 394.6L405.1 394.6L405.3 394.6L405.6 394.6L405.8 394.7L406 394.7L406.2 394.7L406.6 394.6L406.8 394.6L407 394.6L407.3 394.5L407.5 394.5L407.7 394.5L408 394.4L408.2 394.5L408.4 394.4L408.6 394.4L408.9 394.4L409.2 394.3L409.6 394.3L409.8 394.3L410 394.3L410.3 394.4L410.5 394.4L410.7 394.4L410.9 394.5L411.2 394.5L411.5 394.5L411.9 394.5L412.1 394.6L412.3 394.6L412.5 394.6L412.8 394.6L413 394.6L413.4 394.6L413.6 394.6L413.8 394.7L414.2 394.7L414.5 394.6L414.8 394.6L415.1 394.6L415.4 394.6L415.6 394.6L415.9 394.6L416.1 394.6L416.3 394.6L416.6 394.6L416.8 394.6L417 394.6L417.3 394.6L417.6 394.6L417.8 394.6L418.2 394.6L418.4 394.6L418.6 394.6L419 394.7L419.3 394.7L419.7 394.7L419.9 394.7L420.2 394.7L420.6 394.7L420.8 394.7L421 394.7L421.3 394.6L421.5 394.6L421.7 394.6L422.1 394.6L422.4 394.6L422.6 394.6L422.9 394.6L423.1 394.6L423.3 394.5L423.6 394.5L423.8 394.5L424 394.4L424.2 394.4L424.5 394.3L424.7 394.3L424.9 394.2L425.2 394.2L425.4 394.1L425.6 394.1L425.9 394.1L426.1 394L426.3 394L426.5 393.9L426.8 393.9L427 393.8L427.2 393.8L427.5 393.7L427.7 393.6L427.9 393.6L428.1 393.5L428.4 393.4L428.6 393.4L428.8 393.4L429.1 393.3L429.3 393.3L429.5 393.3L429.9 393.3L430.1 393.2L430.4 393.2L430.7 393.2L430.9 393.3L431.1 393.3L431.4 393.3L431.6 393.4L431.8 393.4L432 393.5L432.3 393.6L432.5 393.7L432.7 393.7L433 393.8L433.2 393.8L433.4 393.9L433.7 393.9L433.9 393.9L434.1 393.9L434.3 393.9L434.6 393.9L434.8 394L435.1 394L435.4 394L435.6 394L435.8 394L436.1 394L436.3 394L436.5 394.1L436.9 394L437.2 394L437.4 394L437.7 394L437.9 394L438.1 393.9L438.4 393.9L438.6 393.9L438.9 393.9L439.2 394.1L439.4 394.1L439.6 394.1L439.8 394.2L440.1 394.3L440.3 394.4L440.5 394.5L440.8 394.5L441 394.6L441.2 394.7L441.5 394.6L441.7 394.5L441.9 394.6L442.1 394.6L442.5 394.6L442.6 394.7L442.8 394.8L443.1 394.9L443.3 395L443.5 395.1L443.7 395.1L444 395.2L444.2 395.1L444.4 395.2L444.7 395.1L444.9 395.2L445.2 395.2L445.5 395.2L445.7 395.1L445.9 395.2L446.3 395.1L446.6 395.2L446.8 395.2L447.1 395.2L447.3 395.2L447.5 395.1L447.8 395L448 395.1L448.2 395L448.4 394.8L448.8 394.9L449 394.8L449.3 394.9L449.5 394.7L449.7 394.7L449.9 394.7L450.2 394.7L450.4 394.6L450.6 394.5L451 394.5L451.2 394.5L451.4 394.4L451.8 394.5L452 394.3L452.2 394.3L452.5 394.3L452.7 394.2L452.9 394.2L453.2 394.3L453.4 394.2L453.6 394.3L453.8 394.3L454.1 394.4L454.3 394.4L454.6 394.4L455 394.3L455.2 394.4L455.4 394.4L455.7 394.4L455.9 394.3L456.1 394.3L456.4 394.3L456.6 394.4L456.8 394.3L457.1 394.3L457.3 394.2L457.5 394.2L457.7 394.2L458 394.2L458.2 394.2L458.4 394.4L458.7 394.3L458.9 394.3L459.1 394.4L459.5 394.3L459.7 394.3L459.9 394.2L460.1 394.2L460.5 394.2L460.7 394.1L461 394.1L461.2 394L461.5 394L461.8 394L462 394L462.2 393.9L462.4 393.9L462.7 394L462.9 394.2L463.1 394.2L463.4 394.3L463.6 394.3L463.8 394.4L464 394.5L464.3 394.4L464.5 394.4L464.9 394.4L465.1 394.4L465.3 394.5L465.5 394.5L465.9 394.5L466.1 394.4L466.3 394.4L466.6 394.4L466.9 394.3L467.1 394.3L467.4 394.2L467.6 394.2L467.8 394.1L468.1 394L468.3 393.9L468.5 393.8L468.9 393.8L469.1 393.8L469.3 393.9L469.6 393.8L469.8 393.8L470 393.8L470.2 393.7L470.6 393.7L470.8 393.7L471 393.6L471.3 393.6L471.6 393.7L471.8 393.7L472.1 393.6L472.3 393.6L472.5 393.5L472.8 393.5L473 393.5L473.2 393.4L473.5 393.4L473.7 393.5L473.9 393.5L474.1 393.6L474.4 393.6L474.6 393.7L474.8 393.7L475.1 393.8L475.3 393.7L475.5 393.7L475.7 393.6L476 393.6L476.3 393.6L476.6 393.6L476.8 393.6L477 393.7L477.4 393.8L477.6 393.8L477.9 393.9L478.2 393.9L478.4 394.1L478.6 394L478.8 394.1L479.1 394L479.3 394.1L479.6 394.1L479.9 394.1L480.1 394.1L480.3 394.2L480.6 394.2L480.8 394.3L481.1 394.4L481.4 394.4L481.5 394.6L481.6 394.7L481.9 394.8L482.1 395L482.3 395.2L482.5 395.3L482.6 395.4L482.9 395.5L483.1 395.4L483.3 395.4L483.5 395.4L483.8 395.5L484 395.4L484.2 395.3L484.5 395.4L484.7 395.5L484.9 395.5L485.3 395.5L485.5 395.5L485.7 395.4L486.1 395.4L486.3 395.3L486.5 395.3L486.9 395.3L487.1 395.2L487.3 395.3L487.6 395.3L487.9 395.3L488.1 395.3L488.5 395.3L488.7 395.2L488.9 395.2L489.3 395.2L489.5 395.2L489.7 395.2L490.1 395.2L490.3 395.3L490.5 395.3L490.8 395.2L491.1 395.2L491.3 395.2L491.6 395.1L491.8 395L492 394.9L492.3 394.8L492.5 394.7L492.7 394.6L493 394.5L493.2 394.4L493.4 394.3L493.6 394.2L493.9 394.2L494.1 394.1L494.3 394.1L494.6 394L494.8 393.9L495 393.9L495.2 393.8L495.5 393.6L495.7 393.5L495.9 393.5L496.3 393.4L496.5 393.3L496.7 393.3L497.1 393.2L497.3 393.2L497.5 393.1L497.8 393L498 393.1L498.2 393.1L498.5 393.2L498.7 393.2L498.9 393.3L499 393.4L499.3 393.4L499.5 393.5L499.7 393.7L499.9 393.7L500.2 393.7L500.4 393.9L500.6 394L500.9 394L501.1 394L501.4 394.1L501.8 394.1L502 394L502.2 394L502.5 394L502.7 394L502.9 393.9L503.2 393.9L503.4 393.9L503.6 393.9L503.8 393.8L504.1 393.9L504.3 394L504.4 394.1L504.7 394.2L504.9 394.2L505.1 394.3L505.3 394.4L505.6 394.5L505.8 394.7L506 394.7L506.4 394.7L506.6 394.8L506.8 394.8L507.1 394.9L507.3 394.8L507.4 394.7L507.6 394.6L508 394.6L508.3 394.5L508.6 394.4L508.8 394.3L509 394.3L509.2 394.2L509.5 394L509.7 394L509.9 394L510.2 393.9L510.4 394L510.6 394L510.7 394.1L511 394.2L511.2 394.3L511.4 394.4L511.6 394.6L511.9 394.6L512.1 394.8L512.3 394.7L512.6 394.7L512.8 394.7L513 394.6L513.3 394.6L513.5 394.5L513.7 394.4L513.9 394.4L514.2 394.3L514.4 394.2L514.6 394.2L514.9 394.1L515.1 394L515.3 394L515.5 394L515.8 394L516 394.1L516.2 394.1L516.5 394.2L516.7 394.2L516.9 394.3L517.2 394.4L517.5 394.4L517.7 394.5L518 394.6L518.2 394.7L518.4 394.8L518.8 394.7L519.1 394.7L519.3 394.5L519.4 394.4L519.7 394.3L519.9 394.2L520.1 394.1L520.4 394.1L520.7 394.1L520.9 394.1L521.2 394.2L521.4 394.1L521.6 394.2L521.9 394.4L522.1 394.5L522.2 394.5" fill="none" stroke="#30c838" stroke-width="1.1" stroke-linejoin="round" />
<path d="M44.5 364.6L44.5 370.2L44.5 375.3L44.6 380L44.6 384.4L44.7 388.3L44.7 392L44.8 395.3L44.8 398.4L44.9 401.2L44.9 403.7L45 406.1L45 408.2L45.1 410.2L45.1 412L45.2 413.6L45.2 415.1L45.3 416.4L45.3 417.7L45.4 418.8L45.4 419.8L45.5 420.7L45.5 421.5L45.6 422.2L45.6 422.9L45.6 423.5L45.7 424L45.7 424.5L45.8 424.9L45.8 425.2L45.9 425.5L45.9 425.8L46 426L46 426.2L46.1 426.5L46.2 426.7L46.4 426.8L46.6 426.7L46.7 426.5L46.8 426.3L46.9 426L47 425.8L47.1 425.5L47.2 425.2L47.3 424.9L47.4 424.5L47.5 424.2L47.6 423.8L47.7 423.5L47.8 423.1L47.8 422.8L47.9 422.4L48 422.1L48.1 421.7L48.2 421.3L48.3 421L48.4 420.6L48.5 420.3L48.6 419.9L48.7 419.6L48.8 419.2L48.9 418.9L49 418.6L49.1 418.2L49.2 417.9L49.3 417.6L49.4 417.3L49.5 417L49.6 416.6L49.7 416.3L49.8 416L49.9 415.7L50 415.4L50 415.1L50.1 414.8L50.2 414.6L50.3 414.3L50.4 414L50.5 413.7L50.6 413.5L50.7 413.2L50.8 412.9L50.9 412.7L51 412.4L51.1 412.1L51.2 411.9L51.3 411.6L51.4 411.4L51.5 411.2L51.6 410.9L51.7 410.7L51.8 410.5L51.9 410.2L52 410L52.1 409.8L52.2 409.6L52.3 409.4L52.3 409.1L52.4 408.9L52.5 408.7L52.6 408.5L52.7 408.3L52.8 408.1L52.9 407.9L53 407.7L53.1 407.5L53.2 407.3L53.3 407.2L53.4 407L53.5 406.8L53.6 406.6L53.7 406.4L53.8 406.3L53.9 406.1L54 405.9L54.1 405.8L54.2 405.6L54.3 405.4L54.4 405.3L54.5 405.1L54.5 405L54.6 404.8L54.7 404.7L54.8 404.5L54.9 404.4L55 404.2L55.2 404L55.3 403.8L55.5 403.6L55.6 403.4L55.7 403.2L55.9 403L56 402.8L56.2 402.6L56.3 402.4L56.5 402.2L56.6 402.1L56.7 401.9L56.9 401.7L57 401.6L57.2 401.4L57.3 401.2L57.5 401L57.6 400.8L57.8 400.6L57.9 400.4L58 400.3L58.2 400.1L58.3 399.9L58.5 399.7L58.6 399.5L58.8 399.3L58.9 399.1L59 398.9L59.2 398.7L59.3 398.5L59.5 398.3L59.6 398.1L59.8 398L59.9 397.8L60.1 397.6L60.2 397.4L60.3 397.3L60.5 397.1L60.6 396.9L60.8 396.8L60.9 396.6L61.1 396.5L61.2 396.3L61.3 396.2L61.5 396L61.6 395.9L61.8 395.8L61.9 395.6L62.1 395.5L62.2 395.4L62.3 395.3L62.5 395.2L62.6 395.1L62.8 395L62.9 394.9L63.1 394.7L63.3 394.6L63.5 394.5L63.7 394.4L63.9 394.3L64.1 394.2L64.3 394.1L64.5 394L64.6 394L64.8 393.9L65 393.8L65.2 393.8L65.4 393.7L65.6 393.7L65.9 393.6L66.1 393.6L66.4 393.6L66.6 393.5L66.8 393.5L67.1 393.5L67.3 393.5L67.6 393.5L67.8 393.5L68 393.5L68.3 393.5L68.5 393.5L68.8 393.5L69 393.5L69.2 393.5L69.5 393.5L69.7 393.5L70 393.5L70.2 393.5L70.4 393.5L70.7 393.5L70.9 393.5L71.2 393.6L71.4 393.6L71.6 393.6L71.9 393.6L72.1 393.6L72.3 393.6L72.6 393.6L72.8 393.6L73.1 393.6L73.3 393.6L73.7 393.7L74.2 393.7L74.6 393.7L75 393.7L75.4 393.7L75.9 393.8L76.3 393.8L76.7 393.8L77.1 393.8L77.5 393.8L78 393.8L78.4 393.8L78.8 393.8L79.2 393.8L79.6 393.8L80.1 393.8L80.5 393.8L80.9 393.8L81.3 393.8L81.8 393.8L82.2 393.7L82.6 393.7L83 393.7L83.4 393.7L83.9 393.6L84.3 393.6L84.7 393.6L85.1 393.6L85.5 393.6L86 393.5L86.4 393.5L86.8 393.5L87.2 393.5L87.6 393.5L88.1 393.4L88.5 393.4L88.9 393.4L89.3 393.4L89.8 393.4L90.2 393.3L90.6 393.3L91 393.3L91.4 393.3L91.9 393.2L92.3 393.2L92.7 393.2L93.1 393.1L93.5 393.1L94 393.1L94.4 393L94.8 393L95.2 392.9L95.7 392.9L96.1 392.9L96.5 392.8L96.9 392.8L97.3 392.7L97.8 392.7L98.2 392.7L98.6 392.6L99 392.6L99.4 392.6L99.9 392.5L100.3 392.5L100.7 392.5L101.1 392.5L101.6 392.5L102 392.5L102.4 392.5L102.8 392.5L103.2 392.5L103.7 392.5L104.1 392.6L104.5 392.6L104.9 392.6L105.3 392.7L105.8 392.7L106.2 392.7L106.6 392.8L107 392.8L107.4 392.9L107.9 392.9L108.3 392.9L108.7 393L109.1 393L109.6 393.1L110 393.1L110.4 393.1L110.8 393.2L111.2 393.2L111.7 393.2L112.1 393.3L112.5 393.3L112.9 393.3L113.3 393.3L113.8 393.3L114.2 393.4L114.6 393.4L115 393.4L115.5 393.4L115.9 393.4L116.3 393.4L116.7 393.4L117.1 393.4L117.6 393.4L118 393.4L118.4 393.4L118.8 393.4L119.2 393.4L119.7 393.4L120.1 393.4L120.5 393.4L120.9 393.4L121.3 393.4L121.8 393.4L122.2 393.4L122.6 393.4L123 393.4L123.5 393.4L123.9 393.4L124.3 393.4L124.7 393.4L125.1 393.3L125.6 393.3L126 393.3L126.4 393.3L126.8 393.3L127.2 393.3L127.7 393.3L128.1 393.3L128.5 393.3L128.9 393.3L129.4 393.2L129.8 393.2L130.2 393.2L130.6 393.2L131 393.2L131.5 393.2L131.9 393.2L132.3 393.2L132.7 393.2L133.1 393.1L133.6 393.1L134 393.1L134.4 393.1L134.8 393.1L135.3 393.1L135.7 393.1L136.1 393.1L136.5 393.1L136.9 393.1L137.4 393.1L137.8 393.1L138.2 393.1L138.6 393.1L139 393.1L139.5 393.1L139.9 393.1L140.3 393.1L140.7 393.1L141.1 393.1L141.6 393.1L142 393.1L142.4 393.1L142.8 393.1L143.3 393.1L143.7 393.1L144.1 393.1L144.5 393.1L144.9 393.1L145.4 393.1L145.8 393.1L146.2 393.1L146.6 393.1L147 393.2L147.5 393.2L147.9 393.2L148.3 393.2L148.7 393.2L149.2 393.2L149.6 393.2L150 393.2L150.4 393.2L150.8 393.2L151.3 393.3L151.7 393.3L152.1 393.3L152.5 393.3L152.9 393.3L153.4 393.3L153.8 393.3L154.2 393.3L154.6 393.3L155.1 393.4L155.5 393.4L155.9 393.4L156.3 393.4L156.7 393.4L157.2 393.4L157.6 393.4L158 393.4L158.4 393.4L158.8 393.4L159.3 393.4L159.7 393.4L160.1 393.4L160.5 393.4L160.9 393.4L161.4 393.5L161.8 393.5L162.2 393.5L162.6 393.5L163.1 393.5L163.5 393.5L163.9 393.5L164.3 393.5L164.7 393.5L165.2 393.5L165.6 393.5L166 393.5L166.4 393.5L166.8 393.5L167.3 393.5L167.7 393.5L168.1 393.5L168.5 393.5L169 393.5L169.4 393.5L169.8 393.5L170.2 393.5L170.6 393.5L171.1 393.5L171.5 393.5L171.9 393.5L172.3 393.5L172.7 393.5L173.2 393.5L173.6 393.5L174 393.5L174.4 393.5L174.8 393.5L175.3 393.5L175.7 393.5L176.1 393.5L176.5 393.5L177 393.5L177.4 393.5L177.8 393.5L178.2 393.5L178.4 393.5L178.7 393.5L178.9 393.6L179.1 393.6L179.4 393.7L179.6 393.7L179.8 393.7L180.1 393.8L180.3 393.8L180.5 393.9L180.7 393.9L181 394L181.2 394L181.4 394L181.8 394L182 394L182.2 394L182.5 393.9L182.7 393.9L182.9 393.9L183.2 393.9L183.4 393.8L183.6 393.7L183.8 393.6L184.1 393.5L184.3 393.4L184.5 393.3L184.8 393.2L185 393.1L185.2 393L185.4 392.8L185.7 392.7L185.9 392.6L186.1 392.6L186.5 392.6L186.8 392.6L187.2 392.6L187.5 392.6L187.7 392.6L188 392.8L188.2 392.9L188.4 393.1L188.7 393.2L188.9 393.3L189.1 393.5L189.3 393.6L189.6 393.7L189.8 393.8L190 393.9L190.3 394L190.5 394.1L190.7 394.1L191 394.2L191.2 394.2L191.4 394.3L191.6 394.3L191.9 394.3L192.1 394.3L192.3 394.4L192.6 394.4L192.8 394.4L193 394.5L193.2 394.5L193.5 394.5L193.7 394.5L193.9 394.6L194.2 394.6L194.4 394.6L194.6 394.7L194.9 394.7L195.1 394.7L195.3 394.7L195.5 394.7L195.8 394.8L196 394.8L196.2 394.8L196.5 394.8L196.7 394.8L196.9 394.9L197.1 394.9L197.4 394.9L197.6 394.9L197.8 394.9L198.1 394.9L198.3 395L198.5 395L198.8 395L199 395L199.2 395L199.4 395L199.7 395L199.9 395L200.1 395.1L200.4 395.1L200.6 395.1L200.8 395.1L201 395.1L201.3 395.1L201.5 395.1L201.7 395.1L202 395.1L202.2 395.2L202.4 395.2L202.7 395.2L202.9 395.2L203.1 395.2L203.3 395.2L203.6 395.2L203.8 395.2L204 395.3L204.3 395.3L204.5 395.3L204.7 395.3L204.9 395.3L205.2 395.3L205.4 395.3L205.6 395.4L205.9 395.4L206.1 395.4L206.3 395.4L206.6 395.4L206.8 395.4L207 395.4L207.2 395.5L207.6 395.5L207.9 395.5L208.3 395.5L208.6 395.5L209 395.5L209.2 395.5L209.4 395.4L209.6 395.3L209.9 395.3L210.1 395.2L210.3 395.1L210.6 395L210.8 394.9L211 394.8L211.3 394.7L211.5 394.6L211.7 394.5L211.9 394.4L212.2 394.2L212.4 394.1L212.6 394L212.9 393.9L213.1 393.8L213.3 393.8L213.7 393.8L213.9 393.8L214.1 393.8L214.3 393.8L214.6 393.9L214.8 393.9L215 393.9L215.3 394L215.5 394.1L215.7 394.2L216 394.2L216.2 394.3L216.4 394.4L216.6 394.5L216.9 394.5L217.1 394.6L217.3 394.7L217.6 394.7L217.8 394.7L218 394.8L218.2 394.9L218.5 394.9L218.7 395L218.9 395L219.2 395.1L219.4 395.1L219.6 395.2L219.9 395.2L220.1 395.3L220.3 395.3L220.5 395.3L220.8 395.4L221 395.4L221.3 395.4L221.6 395.4L221.8 395.3L222 395.3L222.3 395.2L222.5 395.1L222.7 395L223 395L223.2 394.9L223.4 394.8L223.6 394.7L223.9 394.6L224.1 394.5L224.3 394.5L224.6 394.4L224.8 394.3L225 394.2L225.2 394.1L225.5 394L225.7 393.9L225.9 393.9L226.2 393.8L226.4 393.8L226.6 393.7L226.9 393.7L227.2 393.7L227.4 393.8L227.7 393.8L227.9 393.9L228.1 393.9L228.3 394L228.6 394L228.8 394.1L229 394.2L229.3 394.3L229.5 394.4L229.7 394.4L229.9 394.5L230.2 394.6L230.4 394.7L230.6 394.7L230.9 394.8L231.1 394.8L231.3 394.9L231.6 394.9L231.9 394.9L232.1 394.8L232.4 394.8L232.6 394.7L232.8 394.6L233 394.5L233.3 394.4L233.5 394.3L233.7 394.2L234 394.1L234.2 394L234.4 393.9L234.7 393.9L234.9 393.8L235.1 393.8L235.3 393.7L235.6 393.7L235.8 393.7L236 393.8L236.3 393.8L236.5 393.8L236.7 393.9L236.9 393.9L237.2 394L237.4 394L237.6 394.1L237.9 394.3L238.1 394.4L238.3 394.5L238.6 394.6L238.8 394.7L239 394.8L239.2 394.9L239.5 395L239.7 395.1L239.9 395.2L240.2 395.2L240.4 395.3L240.6 395.4L240.8 395.5L241.1 395.6L241.3 395.7L241.5 395.8L241.8 395.8L242 395.9L242.2 396L242.5 396L242.7 396.1L242.9 396.1L243.1 396.2L243.4 396.2L243.6 396.2L243.8 396.3L244.1 396.3L244.3 396.3L244.6 396.3L245 396.3L245.2 396.3L245.4 396.2L245.7 396.2L245.9 396.1L246.1 396.1L246.4 396L246.6 396L246.8 395.9L247 395.8L247.3 395.7L247.5 395.7L247.7 395.6L248 395.5L248.2 395.5L248.4 395.4L248.6 395.3L248.9 395.3L249.1 395.2L249.3 395.2L249.6 395.2L249.8 395.1L250.1 395.1L250.4 395.2L250.6 395.2L250.8 395.2L251.1 395.3L251.3 395.3L251.5 395.4L251.7 395.4L252 395.5L252.2 395.6L252.4 395.6L252.7 395.7L252.9 395.7L253.1 395.7L253.5 395.7L253.7 395.7L253.9 395.7L254.2 395.6L254.4 395.6L254.6 395.5L254.8 395.4L255.1 395.3L255.3 395.2L255.5 395.2L255.8 395.1L256 395L256.2 395L256.4 394.9L256.7 394.8L256.9 394.8L257.1 394.8L257.4 394.7L257.7 394.7L257.9 394.8L258.2 394.8L258.4 394.8L258.6 394.9L258.9 394.9L259.1 394.9L259.4 394.9L259.8 394.9L260.1 394.9L260.5 394.9L260.7 394.9L260.9 394.9L261.3 395L261.6 395L261.9 395L262.2 394.9L262.4 394.9L262.6 394.9L262.9 394.9L263.1 394.8L263.3 394.8L263.6 394.8L263.8 394.8L264 394.7L264.2 394.7L264.5 394.7L264.8 394.7L265 394.7L265.3 394.7L265.5 394.8L265.7 394.8L266 394.8L266.2 394.8L266.5 394.8L266.9 394.8L267.2 394.8L267.6 394.8L267.9 394.9L268.3 394.9L268.6 394.9L268.9 394.9L269.3 394.9L269.5 394.9L269.7 394.8L270 394.8L270.2 394.8L270.4 394.8L270.7 394.8L270.9 394.7L271.1 394.7L271.4 394.7L271.6 394.7L271.9 394.7L272.2 394.7L272.4 394.7L272.6 394.8L272.8 394.8L273.1 394.8L273.3 394.8L273.6 394.9L274 394.9L274.3 394.9L274.7 394.9L275 394.9L275.4 394.9L275.7 394.9L276.1 394.9L276.4 394.9L276.7 394.9L277.1 394.9L277.4 394.9L277.8 394.9L278.1 394.9L278.4 394.9L278.6 394.9L278.8 394.8L279 394.8L279.4 394.8L279.7 394.8L280 394.9L280.2 394.9L280.4 394.9L280.6 394.9L280.9 395L281.1 395L281.4 395L281.8 395L282.1 395L282.5 395L282.8 395L283.2 395.1L283.5 395.1L283.9 395.1L284.2 395.1L284.5 395.1L284.9 395.1L285.2 395.1L285.6 395.1L285.9 395.1L286.3 395.1L286.5 395L286.7 395L287 395L287.2 395L287.5 395L287.9 395L288.1 395L288.3 395L288.6 395L288.8 395L289 395.1L289.4 395.1L289.7 395.1L289.9 395.1L290.2 395.1L290.4 395.1L290.6 395.1L290.9 395.2L291.1 395.2L291.3 395.2L291.7 395.2L292 395.2L292.2 395.2L292.5 395.2L292.7 395.1L292.9 395.1L293.1 395.1L293.5 395.1L293.7 395.1L294 395.1L294.2 395L294.4 395L294.8 395L295.1 395L295.3 395L295.6 395.1L295.8 395.1L296 395.1L296.4 395.1L296.7 395.1L297 395.1L297.4 395.1L297.7 395.1L298 395.2L298.2 395.2L298.5 395.2L298.9 395.2L299.2 395.2L299.5 395.2L299.7 395.1L299.9 395.1L300.1 395.1L300.4 395.1L300.6 395L300.8 395L301.1 395L301.3 395L301.5 394.9L301.7 394.9L302.1 394.9L302.4 394.9L302.7 394.9L302.9 395L303.1 395L303.4 395L303.7 395L304 395L304.4 395L304.7 395L305.1 395L305.4 395L305.8 395L306.1 395L306.3 395L306.6 395L306.8 395L307 394.9L307.3 394.9L307.5 394.9L307.7 394.9L307.9 394.8L308.2 394.8L308.4 394.8L308.6 394.8L309 394.8L309.2 394.8L309.4 394.8L309.7 394.8L309.9 394.9L310.1 394.9L310.4 394.9L310.7 394.9L311 394.9L311.4 394.9L311.7 394.9L312.1 394.9L312.4 394.9L312.8 394.9L313.1 394.9L313.4 394.9L313.8 394.9L314.1 394.9L314.4 394.9L314.6 394.9L314.9 394.8L315.2 394.8L315.4 394.8L315.6 394.8L315.9 394.7L316.1 394.7L316.3 394.7L316.7 394.7L316.9 394.7L317.1 394.7L317.3 394.7L317.6 394.8L317.8 394.8L318 394.8L318.4 394.8L318.7 394.8L319.1 394.8L319.4 394.8L319.8 394.9L320.1 394.9L320.4 394.9L320.8 394.9L321 394.9L321.2 394.8L321.5 394.8L321.7 394.8L322.1 394.8L322.4 394.8L322.6 394.8L322.9 394.8L323.2 394.7L323.5 394.7L323.8 394.8L324 394.8L324.2 394.8L324.5 394.8L324.7 394.8L324.9 394.9L325.1 394.9L325.5 394.9L325.8 394.9L326.1 394.9L326.3 394.9L326.5 394.9L326.8 395L327 395L327.2 395L327.4 395L327.8 395L328.1 395L328.4 395L328.6 395L328.8 394.9L329 394.9L329.4 394.9L329.7 394.9L330.1 394.9L330.4 394.9L330.8 394.9L331.1 394.9L331.3 394.9L331.6 394.9L331.8 395L332 395L332.3 395L332.5 395L332.8 395L333.2 395L333.5 395.1L333.9 395.1L334.2 395.1L334.4 395.1L334.7 395.1L334.9 395.1L335.1 395.1L335.5 395.1L335.8 395.1L336.2 395.1L336.4 395.1L336.6 395.1L336.8 395.1L337.1 395.1L337.3 395.1L337.7 395L337.9 395L338.1 395L338.3 395L338.6 395L338.9 395L339.3 395L339.5 395L339.7 395L339.9 395.1L340.2 395.1L340.4 395.1L340.6 395.1L341 395.1L341.3 395.1L341.7 395.1L342 395.2L342.4 395.2L342.7 395.2L343 395.2L343.4 395.2L343.7 395.2L344.1 395.2L344.4 395.2L344.8 395.2L345.1 395.2L345.3 395.2L345.6 395.1L345.8 395.1L346 395.1L346.3 395.1L346.5 395.1L346.7 395L346.9 395L347.2 395L347.4 395L347.7 395L348 395L348.2 395L348.4 395L348.7 395.1L348.9 395.1L349.1 395.1L349.5 395.1L349.8 395.1L350.2 395.1L350.5 395.1L350.8 395.1L351.2 395.1L351.5 395.1L351.9 395.1L352.2 395.1L352.4 395.1L352.7 395.2L352.9 395.2L353.2 395.2L353.6 395.2L353.9 395.2L354.2 395.1L354.4 395.1L354.6 395.1L354.9 395.1L355.1 395L355.3 394.9L355.5 394.9L355.8 394.8L356 394.7L356.2 394.7L356.5 394.6L356.7 394.7L356.9 394.7L357.1 394.8L357.4 394.8L357.6 394.9L357.8 395L358.1 395.1L358.3 395.2L358.5 395.2L358.8 395.3L359 395.3L359.2 395.4L359.4 395.4L359.7 395.5L359.9 395.6L360.1 395.6L360.4 395.7L360.6 395.7L360.8 395.8L361 395.9L361.3 395.9L361.5 396L361.7 396L362 396L362.2 396.1L362.4 396.1L362.7 396.1L362.9 396.1L363.2 396.1L363.6 396.1L363.8 396.1L364 396.1L364.3 396.1L364.5 396L364.7 396L364.9 396L365.2 395.9L365.4 395.9L365.6 395.8L365.9 395.7L366.1 395.7L366.3 395.6L366.6 395.5L366.8 395.5L367 395.4L367.2 395.3L367.5 395.2L367.7 395.2L367.9 395.1L368.2 395L368.4 394.9L368.6 394.8L368.8 394.7L369.1 394.7L369.3 394.6L369.5 394.6L369.8 394.5L370 394.4L370.2 394.3L370.5 394.2L370.7 394.1L370.9 394L371.1 394L371.4 394L371.6 394.1L371.8 394.1L372.1 394.2L372.3 394.2L372.5 394.3L372.7 394.4L373 394.4L373.2 394.4L373.6 394.5L373.9 394.5L374.2 394.5L374.5 394.5L374.7 394.5L375 394.5L375.3 394.4L375.5 394.4L375.7 394.3L376 394.3L376.2 394.2L376.4 394.2L376.6 394.1L376.9 394.1L377.1 394L377.3 394L377.6 394L377.9 394L378.3 394L378.6 394L378.8 394L379.1 394L379.3 394L379.5 394.1L379.7 394.1L380 394.2L380.2 394.2L380.5 394.3L380.8 394.3L381.1 394.4L381.4 394.4L381.6 394.4L381.9 394.4L382.2 394.5L382.4 394.5L382.6 394.5L383 394.6L383.2 394.6L383.4 394.6L383.6 394.6L383.9 394.6L384.1 394.6L384.3 394.7L384.6 394.7L384.8 394.7L385.1 394.8L385.4 394.8L385.6 394.9L385.9 394.9L386.3 394.9L386.5 394.9L386.7 394.9L387 394.9L387.2 394.9L387.4 394.9L387.7 394.9L387.9 395L388.2 395L388.5 395L388.7 395.1L388.9 395.2L389.2 395.2L389.4 395.2L389.7 395.2L390 395.2L390.2 395.2L390.4 395.2L390.6 395.2L390.9 395.2L391.1 395.2L391.4 395.2L391.8 395.2L392.1 395.2L392.4 395.2L392.6 395.2L392.9 395.2L393.2 395.2L393.5 395.2L393.7 395.1L394 395L394.2 395L394.4 394.9L394.7 394.8L394.9 394.8L395.1 394.7L395.3 394.7L395.6 394.6L395.8 394.6L396 394.5L396.3 394.5L396.5 394.4L396.7 394.4L396.9 394.3L397.2 394.2L397.4 394.1L397.6 394L397.9 394L398.1 394L398.3 393.9L398.6 393.9L398.8 393.9L399 393.9L399.2 393.9L399.6 393.8L399.9 393.8L400.2 393.9L400.5 393.9L400.8 393.9L401.1 393.9L401.3 394L401.5 394L401.8 394L402 394.1L402.2 394.2L402.5 394.2L402.7 394.2L402.9 394.3L403.1 394.3L403.4 394.4L403.6 394.5L403.8 394.5L404.1 394.6L404.3 394.6L404.5 394.7L404.7 394.8L405 394.8L405.2 394.8L405.4 394.9L405.7 394.9L406 394.9L406.2 394.9L406.6 394.9L406.8 394.8L407 394.8L407.3 394.8L407.5 394.7L407.7 394.7L408 394.6L408.2 394.7L408.4 394.6L408.6 394.6L408.9 394.6L409.2 394.5L409.6 394.5L409.8 394.5L410 394.5L410.3 394.6L410.5 394.6L410.7 394.6L410.9 394.7L411.2 394.7L411.5 394.7L411.9 394.8L412.1 394.8L412.3 394.8L412.5 394.8L412.8 394.8L413 394.8L413.4 394.9L413.6 394.8L413.8 394.9L414.2 394.9L414.5 394.8L414.7 394.8L415 394.8L415.3 394.8L415.6 394.8L415.9 394.8L416.1 394.8L416.3 394.8L416.6 394.8L416.8 394.8L417 394.8L417.3 394.8L417.6 394.8L417.8 394.8L418.2 394.8L418.4 394.8L418.6 394.9L419 394.9L419.3 394.9L419.7 394.9L419.9 395L420.2 395L420.6 394.9L420.8 394.9L421 394.9L421.3 394.9L421.5 394.8L421.7 394.8L422.1 394.8L422.4 394.8L422.6 394.8L422.9 394.8L423.1 394.8L423.3 394.8L423.6 394.7L423.8 394.7L424 394.7L424.2 394.6L424.5 394.5L424.7 394.5L424.9 394.4L425.2 394.4L425.4 394.3L425.6 394.3L425.9 394.2L426.1 394.2L426.3 394.2L426.5 394.1L426.8 394L427 394L427.2 394L427.5 393.9L427.7 393.9L427.9 393.9L428.1 393.8L428.4 393.8L428.6 393.7L428.8 393.7L429.1 393.6L429.3 393.6L429.5 393.5L429.9 393.5L430.1 393.5L430.3 393.5L430.7 393.5L430.9 393.5L431.1 393.5L431.4 393.6L431.6 393.7L431.8 393.7L432 393.8L432.3 393.9L432.5 393.9L432.7 393.9L433 394L433.2 394L433.4 394L433.7 394L433.9 394.1L434.1 394.1L434.3 394.1L434.6 394.1L434.8 394.1L435.1 394.2L435.4 394.2L435.6 394.2L435.8 394.2L436.1 394.2L436.3 394.2L436.5 394.3L436.9 394.2L437.2 394.2L437.4 394.1L437.7 394.2L437.9 394.2L438.1 394.1L438.4 394.1L438.6 394.1L438.9 394.1L439.2 394.2L439.4 394.3L439.6 394.3L439.8 394.4L440.1 394.6L440.3 394.6L440.5 394.7L440.8 394.7L441 394.8L441.2 394.9L441.5 394.8L441.7 394.8L441.9 394.8L442.1 394.8L442.5 394.8L442.6 394.9L442.8 395L443.1 395.2L443.3 395.2L443.5 395.3L443.7 395.3L444 395.4L444.2 395.4L444.4 395.4L444.7 395.3L444.9 395.4L445.2 395.4L445.5 395.4L445.7 395.3L445.9 395.4L446.3 395.4L446.6 395.4L446.8 395.4L447.1 395.5L447.3 395.5L447.5 395.3L447.8 395.2L448 395.3L448.2 395.2L448.4 395L448.8 395.1L449 395L449.3 395.1L449.5 394.9L449.7 394.9L449.9 394.9L450.2 394.9L450.4 394.8L450.6 394.8L451 394.7L451.2 394.7L451.4 394.7L451.8 394.7L452 394.5L452.2 394.5L452.5 394.5L452.7 394.4L452.9 394.4L453.2 394.5L453.4 394.4L453.6 394.5L453.8 394.5L454.1 394.6L454.3 394.6L454.6 394.6L455 394.6L455.2 394.6L455.4 394.6L455.7 394.6L455.9 394.5L456.1 394.5L456.4 394.5L456.6 394.6L456.8 394.5L457.1 394.5L457.3 394.4L457.5 394.4L457.7 394.4L458 394.4L458.2 394.4L458.4 394.6L458.7 394.5L458.9 394.6L459.1 394.6L459.3 394.6L459.6 394.5L459.8 394.5L460 394.3L460.3 394.4L460.5 394.4L460.7 394.3L461 394.3L461.2 394.2L461.5 394.2L461.8 394.1L462 394.1L462.2 394.1L462.4 394.1L462.7 394.2L462.9 394.4L463.1 394.4L463.4 394.5L463.6 394.5L463.8 394.6L464 394.7L464.3 394.6L464.5 394.6L464.9 394.6L465.1 394.6L465.3 394.7L465.5 394.7L465.9 394.7L466.1 394.6L466.3 394.6L466.6 394.6L466.9 394.5L467.1 394.4L467.4 394.4L467.6 394.4L467.8 394.3L468.1 394.2L468.3 394.1L468.5 394L468.9 394L469.2 394L469.4 394L469.7 394L469.9 394L470.2 394L470.6 393.9L470.8 393.9L471 393.9L471.3 393.9L471.6 393.9L472 393.9L472.2 393.9L472.4 393.9L472.7 393.8L472.9 393.8L473.1 393.8L473.3 393.8L473.6 393.7L473.8 393.8L474 393.9L474.3 393.9L474.5 393.9L474.8 393.9L475.1 394L475.3 393.9L475.5 393.9L475.7 393.9L476 393.9L476.3 393.9L476.6 393.9L476.8 393.9L477 393.9L477.4 394L477.6 394L477.9 394L478.2 394.1L478.4 394.2L478.6 394.2L478.8 394.2L479.1 394.2L479.3 394.2L479.6 394.3L479.9 394.2L480.1 394.3L480.3 394.4L480.6 394.4L480.8 394.5L481.1 394.6L481.4 394.6L481.5 394.8L481.6 394.9L481.9 395L482.1 395.2L482.3 395.4L482.5 395.5L482.6 395.7L482.9 395.8L483.1 395.7L483.3 395.7L483.5 395.7L483.8 395.7L484 395.7L484.2 395.6L484.5 395.7L484.7 395.8L484.9 395.8L485.3 395.8L485.5 395.7L485.7 395.7L486.1 395.7L486.3 395.6L486.5 395.6L486.9 395.5L487.1 395.5L487.3 395.6L487.6 395.5L487.9 395.5L488.1 395.6L488.4 395.6L488.6 395.4L488.9 395.4L489.3 395.4L489.5 395.5L489.7 395.4L490.1 395.5L490.3 395.6L490.5 395.5L490.8 395.5L491.1 395.4L491.3 395.4L491.6 395.3L491.8 395.2L492 395.1L492.3 395L492.5 394.9L492.7 394.8L493 394.7L493.2 394.6L493.4 394.5L493.6 394.4L493.9 394.4L494.1 394.3L494.3 394.3L494.6 394.2L494.8 394.1L495 394L495.2 394L495.5 393.9L495.7 393.8L495.9 393.8L496.3 393.6L496.5 393.6L496.7 393.5L497 393.5L497.2 393.5L497.4 393.3L497.7 393.2L497.9 393.2L498.1 393.2L498.3 393.3L498.6 393.4L498.8 393.4L499 393.7L499.3 393.8L499.5 393.8L499.7 393.9L499.9 393.9L500.2 393.9L500.4 394L500.6 394.1L500.9 394.2L501.1 394.2L501.4 394.3L501.8 394.3L502 394.2L502.2 394.2L502.5 394.2L502.7 394.1L502.9 394L503.2 394.1L503.4 394L503.6 394L503.8 394L504.1 394.1L504.3 394.1L504.4 394.3L504.7 394.3L504.9 394.4L505.1 394.5L505.3 394.6L505.6 394.7L505.8 394.9L506 394.9L506.4 394.9L506.6 395L506.8 395.1L507.1 395.1L507.3 395L507.4 394.9L507.6 394.8L508 394.8L508.3 394.7L508.6 394.6L508.8 394.5L509 394.5L509.2 394.4L509.5 394.2L509.7 394.2L509.9 394.1L510.2 394.1L510.4 394.2L510.6 394.2L510.7 394.3L511 394.4L511.2 394.5L511.4 394.6L511.6 394.8L511.9 394.8L512.1 395L512.3 394.9L512.6 394.9L512.8 394.9L513 394.8L513.3 394.8L513.5 394.7L513.7 394.6L513.9 394.6L514.2 394.5L514.4 394.4L514.6 394.4L514.9 394.3L515.1 394.2L515.3 394.2L515.5 394.1L515.8 394.2L516 394.3L516.2 394.3L516.5 394.4L516.7 394.4L516.9 394.5L517.2 394.6L517.4 394.6L517.6 394.6L517.8 394.8L518.1 394.9L518.3 394.9L518.5 395L518.8 395L519.1 395L519.3 394.7L519.4 394.6L519.7 394.5L519.9 394.4L520.1 394.3L520.4 394.2L520.7 394.3L520.9 394.3L521.2 394.3L521.4 394.3L521.6 394.4L521.9 394.6L522.1 394.7L522.2 394.7" fill="none" stroke="#ff6a28" stroke-width="1.1" stroke-linejoin="round" />
<path d="M44.5 455.7L44.5 453.9L44.5 452.3L44.6 450.7L44.6 449.2L44.7 447.7L44.7 446.3L44.8 445L44.8 443.7L44.9 442.4L44.9 441.2L45 440.1L45 439L45.1 437.9L45.1 436.9L45.2 435.9L45.2 435L45.3 434.1L45.3 433.2L45.4 432.3L45.4 431.5L45.5 430.8L45.5 430L45.6 429.3L45.6 428.6L45.6 427.9L45.7 427.3L45.7 426.7L45.8 426.1L45.8 425.5L45.9 424.9L45.9 424.4L46 423.9L46 423.4L46.1 422.9L46.1 422.4L46.2 422L46.2 421.5L46.3 421.1L46.3 420.7L46.4 420.3L46.4 419.9L46.5 419.5L46.5 419.2L46.6 418.8L46.6 418.5L46.7 418.2L46.7 417.9L46.7 417.5L46.8 417.2L46.8 417L46.9 416.7L46.9 416.4L47 416.1L47 415.9L47.1 415.6L47.1 415.4L47.2 415.1L47.2 414.9L47.3 414.7L47.3 414.5L47.4 414.2L47.4 414L47.5 413.8L47.5 413.6L47.6 413.4L47.7 413L47.8 412.7L47.8 412.3L47.9 412L48 411.7L48.1 411.4L48.2 411.1L48.3 410.8L48.4 410.5L48.5 410.3L48.6 410L48.7 409.7L48.8 409.5L48.9 409.3L49 409L49.1 408.8L49.2 408.6L49.3 408.4L49.4 408.2L49.5 408L49.6 407.8L49.7 407.6L49.8 407.4L49.9 407.2L50 407L50 406.9L50.1 406.7L50.2 406.5L50.3 406.4L50.4 406.2L50.5 406L50.6 405.9L50.7 405.7L50.8 405.6L50.9 405.4L51 405.3L51.1 405.1L51.2 404.9L51.4 404.7L51.5 404.5L51.7 404.3L51.8 404.1L52 403.9L52.1 403.7L52.3 403.5L52.4 403.3L52.5 403.2L52.7 403L52.8 402.8L53 402.7L53.1 402.5L53.3 402.3L53.4 402.2L53.5 402L53.7 401.9L53.8 401.7L54 401.6L54.1 401.4L54.3 401.3L54.4 401.1L54.5 401L54.7 400.9L54.8 400.7L55 400.6L55.1 400.5L55.3 400.4L55.4 400.2L55.6 400.1L55.7 400L55.8 399.9L56 399.8L56.1 399.6L56.3 399.5L56.4 399.4L56.6 399.3L56.7 399.2L56.8 399.1L57 399L57.1 398.9L57.3 398.8L57.4 398.7L57.6 398.6L57.7 398.5L57.8 398.3L58 398.2L58.1 398.1L58.3 398L58.4 397.8L58.6 397.7L58.7 397.6L58.9 397.5L59 397.3L59.1 397.2L59.3 397.1L59.4 397L59.6 396.8L59.7 396.7L59.9 396.6L60 396.5L60.1 396.4L60.3 396.2L60.4 396.1L60.6 396L60.7 395.9L60.9 395.8L61 395.7L61.2 395.6L61.3 395.5L61.4 395.4L61.6 395.3L61.8 395.1L62 395L62.2 394.9L62.4 394.8L62.6 394.7L62.8 394.6L63 394.5L63.2 394.4L63.4 394.3L63.5 394.2L63.7 394.2L63.9 394.1L64.1 394L64.3 394L64.5 393.9L64.7 393.8L64.9 393.8L65.1 393.7L65.4 393.7L65.6 393.6L65.8 393.6L66.1 393.6L66.3 393.6L66.6 393.5L66.8 393.5L67 393.5L67.3 393.5L67.6 393.5L67.8 393.5L68 393.5L68.3 393.5L68.5 393.5L68.8 393.5L69 393.5L69.2 393.5L69.5 393.5L69.7 393.5L70 393.5L70.2 393.5L70.4 393.5L70.7 393.5L70.9 393.6L71.2 393.6L71.4 393.6L71.6 393.6L71.9 393.6L72.1 393.6L72.3 393.6L72.6 393.6L72.8 393.6L73.1 393.6L73.3 393.6L73.7 393.7L74.2 393.7L74.6 393.7L75 393.7L75.4 393.8L75.9 393.8L76.3 393.8L76.7 393.8L77.1 393.8L77.5 393.8L78 393.9L78.4 393.9L78.8 393.9L79.2 393.9L79.6 393.9L80.1 393.8L80.5 393.8L80.9 393.8L81.3 393.8L81.8 393.8L82.2 393.8L82.6 393.7L83 393.7L83.4 393.7L83.9 393.7L84.3 393.6L84.7 393.6L85.1 393.6L85.5 393.6L86 393.5L86.4 393.5L86.8 393.5L87.2 393.5L87.6 393.5L88.1 393.4L88.5 393.4L88.9 393.4L89.3 393.4L89.8 393.4L90.2 393.3L90.6 393.3L91 393.3L91.4 393.2L91.9 393.2L92.3 393.2L92.7 393.1L93.1 393.1L93.5 393.1L94 393L94.4 393L94.8 392.9L95.2 392.9L95.7 392.8L96.1 392.8L96.5 392.7L96.9 392.7L97.3 392.7L97.8 392.6L98.2 392.6L98.6 392.5L99 392.5L99.4 392.5L99.9 392.5L100.3 392.4L100.7 392.4L101.1 392.4L101.6 392.4L102 392.4L102.4 392.4L102.8 392.4L103.2 392.4L103.7 392.5L104.1 392.5L104.5 392.5L104.9 392.5L105.3 392.6L105.8 392.6L106.2 392.7L106.6 392.7L107 392.7L107.4 392.8L107.9 392.8L108.3 392.9L108.7 392.9L109.1 393L109.6 393L110 393.1L110.4 393.1L110.8 393.1L111.2 393.2L111.7 393.2L112.1 393.2L112.5 393.3L112.9 393.3L113.3 393.3L113.8 393.3L114.2 393.3L114.6 393.4L115 393.4L115.5 393.4L115.9 393.4L116.3 393.4L116.7 393.4L117.1 393.4L117.6 393.4L118 393.4L118.4 393.4L118.8 393.4L119.2 393.4L119.7 393.4L120.1 393.4L120.5 393.4L120.9 393.4L121.3 393.4L121.8 393.4L122.2 393.4L122.6 393.4L123 393.4L123.5 393.4L123.9 393.4L124.3 393.4L124.7 393.3L125.1 393.3L125.6 393.3L126 393.3L126.4 393.3L126.8 393.3L127.2 393.3L127.7 393.3L128.1 393.3L128.5 393.2L128.9 393.2L129.4 393.2L129.8 393.2L130.2 393.2L130.6 393.2L131 393.2L131.5 393.2L131.9 393.1L132.3 393.1L132.7 393.1L133.1 393.1L133.6 393.1L134 393.1L134.4 393.1L134.8 393.1L135.3 393.1L135.7 393.1L136.1 393L136.5 393L136.9 393L137.4 393L137.8 393L138.2 393L138.6 393L139 393L139.5 393L139.9 393L140.3 393L140.7 393L141.1 393L141.6 393L142 393L142.4 393L142.8 393L143.3 393L143.7 393L144.1 393L144.5 393.1L144.9 393.1L145.4 393.1L145.8 393.1L146.2 393.1L146.6 393.1L147 393.1L147.5 393.1L147.9 393.1L148.3 393.2L148.7 393.2L149.2 393.2L149.6 393.2L150 393.2L150.4 393.2L150.8 393.2L151.3 393.2L151.7 393.2L152.1 393.3L152.5 393.3L152.9 393.3L153.4 393.3L153.8 393.3L154.2 393.3L154.6 393.3L155.1 393.3L155.5 393.3L155.9 393.4L156.3 393.4L156.7 393.4L157.2 393.4L157.6 393.4L158 393.4L158.4 393.4L158.8 393.4L159.3 393.4L159.7 393.4L160.1 393.4L160.5 393.4L160.9 393.4L161.4 393.4L161.8 393.5L162.2 393.5L162.6 393.5L163.1 393.5L163.5 393.5L163.9 393.5L164.3 393.5L164.7 393.5L165.2 393.5L165.6 393.5L166 393.5L166.4 393.5L166.8 393.5L167.3 393.5L167.7 393.5L168.1 393.5L168.5 393.5L169 393.5L169.4 393.5L169.8 393.5L170.2 393.5L170.6 393.5L171.1 393.5L171.5 393.5L171.9 393.5L172.3 393.5L172.7 393.5L173.2 393.5L173.6 393.5L174 393.5L174.4 393.5L174.8 393.5L175.3 393.5L175.7 393.5L176.1 393.5L176.5 393.5L177 393.5L177.4 393.5L177.8 393.5L178.2 393.5L178.4 393.5L178.7 393.6L178.9 393.6L179.1 393.7L179.4 393.7L179.6 393.8L179.8 393.8L180.1 393.9L180.3 394L180.5 394L180.7 394.1L181 394.1L181.2 394.2L181.4 394.2L181.7 394.2L182 394.2L182.2 394.2L182.5 394.2L182.7 394.1L182.9 394.1L183.2 394L183.4 393.9L183.6 393.8L183.8 393.8L184.1 393.7L184.3 393.6L184.5 393.5L184.8 393.4L185 393.3L185.2 393.2L185.4 393.1L185.7 393L185.9 392.9L186.1 392.8L186.4 392.8L186.6 392.7L186.8 392.7L187.1 392.7L187.3 392.8L187.5 392.8L187.7 392.9L188 393L188.2 393.1L188.4 393.2L188.7 393.3L188.9 393.4L189.1 393.5L189.3 393.5L189.6 393.6L189.8 393.7L190 393.8L190.3 393.8L190.5 393.9L190.7 394L191 394L191.2 394.1L191.4 394.1L191.6 394.2L191.9 394.2L192.1 394.3L192.3 394.3L192.6 394.3L192.8 394.4L193 394.4L193.2 394.4L193.5 394.5L193.7 394.5L193.9 394.5L194.2 394.6L194.4 394.6L194.6 394.6L194.9 394.7L195.1 394.7L195.3 394.7L195.5 394.7L195.8 394.8L196 394.8L196.2 394.8L196.5 394.8L196.7 394.9L196.9 394.9L197.1 394.9L197.4 394.9L197.6 395L197.8 395L198.1 395L198.3 395L198.5 395.1L198.8 395.1L199 395.1L199.2 395.1L199.4 395.1L199.7 395.2L199.9 395.2L200.1 395.2L200.4 395.2L200.6 395.2L200.8 395.3L201 395.3L201.3 395.3L201.5 395.3L201.7 395.3L202 395.4L202.2 395.4L202.4 395.4L202.7 395.4L202.9 395.4L203.1 395.4L203.3 395.5L203.6 395.5L203.8 395.5L204 395.5L204.3 395.5L204.5 395.6L204.7 395.6L204.9 395.6L205.2 395.6L205.4 395.6L205.6 395.7L205.9 395.7L206.1 395.7L206.3 395.7L206.6 395.7L206.8 395.8L207 395.8L207.2 395.8L207.5 395.8L207.8 395.8L208.2 395.8L208.5 395.8L208.8 395.8L209.1 395.8L209.3 395.8L209.5 395.7L209.8 395.7L210 395.6L210.2 395.5L210.5 395.4L210.7 395.4L210.9 395.3L211.1 395.2L211.4 395.1L211.6 395L211.8 394.8L212.1 394.7L212.3 394.6L212.5 394.4L212.7 394.3L213 394.2L213.2 394.1L213.4 394.1L213.8 394.1L214 394.1L214.2 394.1L214.5 394.1L214.7 394.2L214.9 394.2L215.2 394.3L215.4 394.4L215.6 394.4L215.8 394.5L216.1 394.6L216.3 394.7L216.5 394.7L216.8 394.8L217 394.9L217.2 394.9L217.4 395L217.7 395L217.9 395.1L218.1 395.1L218.4 395.2L218.6 395.2L218.8 395.3L219.1 395.3L219.3 395.4L219.5 395.4L219.7 395.5L220 395.5L220.2 395.5L220.4 395.6L220.7 395.6L220.9 395.6L221.2 395.6L221.6 395.6L221.8 395.6L222 395.5L222.3 395.4L222.5 395.4L222.7 395.3L223 395.2L223.2 395.1L223.4 395.1L223.6 395L223.9 394.9L224.1 394.8L224.3 394.7L224.6 394.7L224.8 394.6L225 394.5L225.2 394.3L225.5 394.2L225.7 394.1L225.9 394L226.2 394L226.4 393.9L226.6 393.9L226.9 393.8L227.2 393.8L227.4 393.9L227.7 394L227.9 394L228.1 394.1L228.3 394.2L228.6 394.3L228.8 394.4L229 394.5L229.3 394.6L229.5 394.7L229.7 394.7L229.9 394.8L230.2 394.9L230.4 394.9L230.6 395L230.9 395.1L231.1 395.1L231.3 395.1L231.6 395.2L231.9 395.2L232.1 395.1L232.4 395L232.6 395L232.8 394.9L233 394.8L233.3 394.6L233.5 394.5L233.7 394.5L234 394.4L234.2 394.3L234.4 394.2L234.7 394.1L234.9 394L235.1 393.9L235.3 393.8L235.6 393.8L235.8 393.8L236 393.9L236.3 393.9L236.5 394L236.7 394L236.9 394.1L237.2 394.2L237.4 394.3L237.6 394.4L237.9 394.5L238.1 394.6L238.3 394.8L238.6 394.9L238.8 395L239 395.1L239.2 395.2L239.5 395.3L239.7 395.3L239.9 395.4L240.2 395.5L240.4 395.5L240.6 395.6L240.8 395.7L241.1 395.8L241.3 395.8L241.5 395.9L241.8 396L242 396L242.2 396.1L242.5 396.2L242.7 396.2L242.9 396.3L243.1 396.3L243.4 396.4L243.6 396.4L243.8 396.4L244.1 396.5L244.3 396.5L244.6 396.5L245 396.5L245.2 396.4L245.4 396.4L245.7 396.3L245.9 396.3L246.1 396.2L246.4 396.1L246.6 396.1L246.8 396L247 395.9L247.3 395.9L247.5 395.8L247.7 395.8L248 395.7L248.2 395.7L248.4 395.6L248.6 395.6L248.9 395.5L249.1 395.5L249.3 395.4L249.6 395.4L249.8 395.4L250.1 395.4L250.4 395.4L250.6 395.4L250.8 395.5L251.1 395.5L251.3 395.6L251.5 395.6L251.7 395.7L252 395.7L252.2 395.8L252.4 395.8L252.7 395.8L252.9 395.9L253.1 395.9L253.3 395.9L253.6 395.9L253.9 395.9L254.3 395.9L254.5 395.9L254.7 395.9L255 395.9L255.2 395.8L255.4 395.8L255.6 395.7L255.9 395.7L256.1 395.6L256.3 395.6L256.6 395.5L256.8 395.4L257 395.4L257.2 395.3L257.5 395.3L257.7 395.2L257.9 395.2L258.2 395.1L258.4 395L258.6 395L258.9 394.9L259.1 394.9L259.3 394.8L259.5 394.8L259.9 394.8L260.1 394.9L260.3 394.9L260.6 395L260.8 395.1L261 395.2L261.3 395.3L261.5 395.3L261.7 395.4L261.9 395.5L262.2 395.6L262.4 395.6L262.6 395.7L262.9 395.8L263.1 395.8L263.3 395.9L263.6 395.9L263.8 395.9L264.1 395.9L264.4 395.8L264.6 395.7L264.8 395.6L265 395.5L265.3 395.4L265.5 395.3L265.7 395.2L266 395.1L266.2 395L266.4 394.9L266.7 394.8L266.9 394.8L267.2 394.8L267.5 394.8L267.7 394.9L267.9 395L268.1 395.2L268.4 395.3L268.6 395.3L268.8 395.4L269.1 395.5L269.3 395.5L269.5 395.6L269.7 395.7L270 395.7L270.2 395.8L270.4 395.8L270.7 395.8L270.9 395.9L271.2 395.8L271.5 395.8L271.7 395.7L271.9 395.6L272.2 395.5L272.4 395.4L272.6 395.3L272.8 395.2L273.1 395.1L273.3 395L273.5 394.9L273.8 394.8L274 394.8L274.3 394.8L274.6 394.8L274.8 394.9L275 395L275.3 395.1L275.5 395.2L275.7 395.3L275.9 395.4L276.2 395.4L276.4 395.5L276.6 395.5L276.9 395.6L277.1 395.6L277.3 395.7L277.5 395.7L277.8 395.7L278 395.7L278.2 395.8L278.6 395.8L278.8 395.7L279 395.7L279.3 395.6L279.5 395.5L279.7 395.5L280 395.4L280.2 395.3L280.4 395.3L280.6 395.2L280.9 395.1L281.1 395L281.3 394.9L281.6 394.9L281.8 394.8L282 394.9L282.3 394.9L282.5 395L282.7 395.1L282.9 395.2L283.2 395.3L283.4 395.3L283.6 395.4L283.9 395.4L284.1 395.5L284.3 395.5L284.5 395.6L284.8 395.6L285 395.6L285.2 395.7L285.5 395.7L285.7 395.7L285.9 395.8L286.2 395.8L286.5 395.8L286.7 395.7L287 395.7L287.2 395.6L287.4 395.6L287.6 395.5L287.9 395.4L288.1 395.4L288.3 395.3L288.6 395.3L288.8 395.2L289 395.1L289.2 395L289.5 395L289.7 394.9L289.9 394.9L290.2 394.9L290.4 395L290.6 395L290.9 395.1L291.1 395.2L291.3 395.3L291.5 395.3L291.8 395.4L292 395.5L292.2 395.5L292.5 395.6L292.7 395.7L292.9 395.7L293.1 395.8L293.4 395.8L293.6 395.9L293.8 395.9L294.2 395.9L294.4 395.8L294.6 395.7L294.9 395.6L295.1 395.5L295.3 395.4L295.6 395.3L295.8 395.2L296 395.1L296.2 395.1L296.5 395L296.7 394.9L296.9 394.9L297.3 394.9L297.5 394.9L297.7 395L298 395.1L298.2 395.2L298.4 395.2L298.7 395.3L298.9 395.4L299.1 395.4L299.3 395.5L299.6 395.6L299.8 395.7L300 395.7L300.3 395.8L300.5 395.8L300.7 395.9L300.9 395.9L301.3 395.9L301.5 395.8L301.7 395.8L302 395.6L302.2 395.5L302.4 395.4L302.7 395.3L302.9 395.2L303.1 395.1L303.4 395L303.6 394.9L303.8 394.9L304 394.8L304.3 394.8L304.5 394.8L304.7 394.9L305 395L305.2 395.1L305.4 395.2L305.6 395.3L305.9 395.3L306.1 395.4L306.3 395.5L306.6 395.5L306.8 395.6L307 395.7L307.3 395.7L307.5 395.8L307.7 395.8L307.9 395.8L308.3 395.8L308.5 395.8L308.7 395.7L309 395.6L309.2 395.5L309.4 395.4L309.7 395.3L309.9 395.2L310.1 395.1L310.4 394.9L310.6 394.9L310.8 394.8L311 394.7L311.4 394.8L311.6 394.8L311.8 394.9L312.1 395.1L312.3 395.2L312.5 395.3L312.8 395.3L313 395.4L313.2 395.4L313.4 395.5L313.7 395.5L313.9 395.6L314.1 395.6L314.4 395.7L314.6 395.7L314.8 395.7L315.1 395.7L315.4 395.7L315.7 395.7L316 395.7L316.2 395.6L316.4 395.6L316.7 395.5L316.9 395.4L317.1 395.3L317.3 395.3L317.6 395.2L317.8 395.1L318 395L318.3 394.9L318.5 394.8L318.7 394.8L319 394.8L319.2 394.8L319.4 394.9L319.6 395L319.9 395.1L320.1 395.2L320.3 395.3L320.6 395.4L320.8 395.4L321 395.5L321.2 395.6L321.5 395.6L321.7 395.7L321.9 395.7L322.2 395.7L322.4 395.8L322.6 395.8L323 395.8L323.2 395.7L323.4 395.6L323.7 395.5L323.9 395.4L324.1 395.3L324.3 395.3L324.6 395.2L324.8 395.1L325 395L325.3 394.9L325.5 394.9L325.7 394.9L326 394.9L326.2 394.9L326.4 395L326.6 395.1L326.9 395.2L327.1 395.2L327.3 395.3L327.6 395.4L327.8 395.4L328 395.5L328.2 395.6L328.5 395.6L328.7 395.7L328.9 395.8L329.2 395.8L329.4 395.8L329.6 395.9L329.9 395.9L330.2 395.9L330.4 395.8L330.7 395.7L330.9 395.6L331.1 395.5L331.3 395.4L331.6 395.3L331.8 395.3L332 395.2L332.3 395.1L332.5 395L332.7 395L332.9 394.9L333.2 394.9L333.4 394.9L333.6 395L333.9 395L334.1 395.1L334.3 395.2L334.6 395.3L334.8 395.3L335 395.4L335.2 395.4L335.5 395.5L335.7 395.6L335.9 395.6L336.2 395.7L336.4 395.7L336.6 395.8L336.8 395.8L337.1 395.9L337.3 395.9L337.5 395.9L337.9 395.9L338.1 395.9L338.3 395.8L338.6 395.7L338.8 395.7L339 395.6L339.3 395.5L339.5 395.4L339.7 395.3L339.9 395.3L340.2 395.2L340.4 395.1L340.6 395L340.9 394.9L341.1 394.9L341.3 394.9L341.6 394.9L341.8 394.9L342 395L342.2 395.1L342.5 395.2L342.7 395.3L342.9 395.3L343.2 395.4L343.4 395.4L343.6 395.5L343.8 395.5L344.1 395.6L344.3 395.6L344.5 395.7L344.8 395.7L345 395.7L345.2 395.8L345.5 395.8L345.7 395.8L345.9 395.8L346.3 395.8L346.5 395.8L346.7 395.8L346.9 395.7L347.2 395.7L347.4 395.6L347.6 395.5L347.9 395.5L348.1 395.4L348.3 395.3L348.5 395.2L348.8 395.2L349 395L349.2 394.9L349.5 394.9L349.7 394.8L349.9 394.8L350.2 394.8L350.4 394.9L350.6 395L350.8 395.1L351.1 395.2L351.3 395.3L351.5 395.3L351.8 395.4L352 395.4L352.2 395.5L352.4 395.5L352.7 395.6L352.9 395.6L353.1 395.7L353.4 395.7L353.6 395.7L353.8 395.7L354.2 395.7L354.5 395.7L354.7 395.7L355 395.6L355.2 395.6L355.4 395.5L355.7 395.4L355.9 395.3L356.1 395.3L356.3 395.1L356.6 395L356.8 394.9L357 394.8L357.3 394.7L357.5 394.8L357.7 394.9L358 395.1L358.2 395.2L358.4 395.3L358.6 395.4L358.9 395.5L359.1 395.5L359.3 395.6L359.6 395.7L359.8 395.7L360 395.8L360.2 395.8L360.5 395.9L360.7 395.9L360.9 396L361.2 396L361.4 396.1L361.6 396.1L361.9 396.2L362.1 396.2L362.3 396.2L362.5 396.2L362.8 396.3L363.1 396.3L363.5 396.3L363.7 396.3L363.9 396.2L364.1 396.2L364.4 396.2L364.6 396.1L364.8 396.1L365.1 396.1L365.3 396L365.5 396L365.8 395.9L366 395.9L366.2 395.8L366.4 395.8L366.7 395.7L366.9 395.6L367.1 395.6L367.4 395.5L367.6 395.4L367.8 395.4L368 395.3L368.3 395.2L368.5 395.1L368.7 395L369 395L369.2 394.9L369.4 394.9L369.7 394.8L369.9 394.7L370.1 394.6L370.3 394.5L370.6 394.4L370.8 394.3L371 394.3L371.3 394.3L371.5 394.3L371.7 394.4L371.9 394.4L372.2 394.5L372.4 394.6L372.6 394.6L372.9 394.7L373.1 394.7L373.3 394.7L373.6 394.7L373.9 394.8L374.2 394.8L374.5 394.8L374.7 394.8L375 394.8L375.3 394.7L375.5 394.7L375.7 394.6L376 394.5L376.2 394.5L376.4 394.4L376.6 394.4L376.9 394.4L377.1 394.3L377.3 394.3L377.6 394.2L377.9 394.2L378.1 394.2L378.4 394.2L378.7 394.2L378.9 394.3L379.2 394.3L379.4 394.3L379.6 394.4L379.9 394.4L380.1 394.5L380.3 394.5L380.5 394.6L380.8 394.6L381.1 394.6L381.4 394.7L381.6 394.7L381.9 394.7L382.2 394.8L382.4 394.8L382.6 394.8L383 394.8L383.2 394.8L383.4 394.9L383.6 394.9L383.9 394.9L384.1 394.9L384.3 395L384.6 395L384.8 395L385.1 395L385.4 395.1L385.6 395.1L385.9 395.1L386.3 395.1L386.5 395.2L386.7 395.2L387 395.2L387.2 395.1L387.4 395.2L387.7 395.2L387.9 395.2L388.2 395.2L388.5 395.3L388.7 395.3L388.9 395.4L389.2 395.4L389.4 395.4L389.7 395.5L390 395.5L390.2 395.5L390.4 395.5L390.6 395.4L390.9 395.5L391.1 395.4L391.4 395.4L391.8 395.4L392.1 395.4L392.4 395.4L392.6 395.4L392.9 395.4L393.2 395.4L393.5 395.4L393.7 395.3L394 395.3L394.2 395.2L394.4 395.2L394.7 395.1L394.9 395L395.1 395L395.3 395L395.6 394.9L395.8 394.9L396 394.8L396.3 394.8L396.5 394.7L396.7 394.7L396.9 394.5L397.2 394.4L397.4 394.4L397.6 394.3L397.9 394.2L398.1 394.2L398.3 394.1L398.6 394L398.8 394.1L399 394L399.2 394L399.6 394L399.8 393.9L400 394L400.3 394L400.5 394.1L400.7 394.1L401 394.1L401.2 394.2L401.4 394.2L401.7 394.3L401.9 394.3L402.1 394.4L402.3 394.4L402.6 394.5L402.8 394.5L403 394.6L403.3 394.6L403.5 394.7L403.7 394.7L403.9 394.8L404.2 394.9L404.4 394.9L404.6 395L404.9 395.1L405.1 395.1L405.3 395.1L405.6 395.1L405.8 395.2L406 395.2L406.2 395.1L406.6 395.1L406.8 395.1L407 395.1L407.3 395L407.5 395L407.7 395L408 394.9L408.2 394.9L408.4 394.9L408.6 394.9L408.9 394.8L409.2 394.8L409.6 394.8L409.8 394.8L410 394.8L410.3 394.8L410.5 394.9L410.7 394.9L410.9 395L411.2 395L411.5 395L411.9 395L412.1 395.1L412.3 395.1L412.5 395.1L412.8 395.1L413 395.1L413.4 395.1L413.6 395.1L413.8 395.1L414.2 395.1L414.5 395.1L414.7 395.1L415 395.1L415.3 395.1L415.6 395L415.9 395.1L416.1 395.1L416.3 395.1L416.6 395.1L416.8 395.1L417 395.1L417.3 395.1L417.6 395.1L417.8 395.1L418.2 395.1L418.4 395.1L418.6 395.1L419 395.1L419.3 395.2L419.7 395.2L419.9 395.2L420.2 395.2L420.6 395.2L420.8 395.2L421 395.2L421.3 395.1L421.5 395.1L421.7 395.1L422.1 395.1L422.4 395.1L422.6 395.1L422.9 395L423.1 395.1L423.3 395L423.6 395L423.8 394.9L424 394.9L424.2 394.9L424.5 394.8L424.7 394.8L424.9 394.7L425.2 394.6L425.4 394.6L425.6 394.5L425.9 394.5L426.1 394.5L426.3 394.4L426.5 394.4L426.8 394.3L427 394.3L427.2 394.2L427.5 394.2L427.7 394.1L427.9 394L428.1 393.9L428.4 393.9L428.6 393.9L428.8 393.8L429.1 393.7L429.3 393.7L429.5 393.7L429.9 393.7L430.1 393.6L430.4 393.6L430.7 393.6L430.9 393.7L431.1 393.7L431.4 393.7L431.6 393.8L431.8 393.9L432 394L432.3 394L432.5 394.1L432.7 394.2L433 394.2L433.2 394.3L433.4 394.3L433.7 394.3L433.9 394.3L434.1 394.4L434.3 394.4L434.6 394.4L434.8 394.4L435.1 394.4L435.4 394.5L435.6 394.5L435.8 394.5L436.1 394.5L436.3 394.5L436.5 394.5L436.9 394.5L437.2 394.5L437.4 394.4L437.7 394.4L437.9 394.4L438.1 394.4L438.4 394.4L438.6 394.4L438.9 394.4L439.2 394.5L439.4 394.5L439.6 394.6L439.8 394.7L440.1 394.8L440.3 394.8L440.5 394.9L440.8 395L441 395.1L441.2 395.2L441.5 395.1L441.7 395L441.9 395.1L442.1 395.1L442.5 395.1L442.7 395.3L442.9 395.3L443.2 395.5L443.4 395.5L443.6 395.5L443.9 395.6L444.1 395.6L444.3 395.6L444.5 395.6L444.8 395.6L445 395.7L445.4 395.6L445.6 395.5L445.8 395.6L446 395.6L446.3 395.6L446.6 395.6L446.8 395.6L447.1 395.7L447.3 395.7L447.5 395.5L447.8 395.4L448 395.5L448.2 395.4L448.4 395.3L448.8 395.3L449 395.3L449.3 395.3L449.5 395.2L449.7 395.2L449.9 395.2L450.2 395.2L450.4 395.1L450.6 395L451 395L451.2 395L451.4 394.9L451.8 394.9L452 394.8L452.2 394.8L452.5 394.7L452.7 394.7L452.9 394.7L453.2 394.8L453.4 394.7L453.6 394.8L453.8 394.8L454.1 394.9L454.3 394.9L454.6 394.9L455 394.8L455.2 394.9L455.4 394.9L455.7 394.9L455.9 394.8L456.1 394.8L456.4 394.8L456.6 394.9L456.8 394.7L457.1 394.8L457.3 394.7L457.5 394.7L457.7 394.7L458 394.7L458.2 394.7L458.4 394.9L458.7 394.8L458.9 394.8L459.1 394.9L459.3 394.9L459.6 394.8L459.8 394.7L460 394.6L460.3 394.7L460.5 394.6L460.7 394.6L461 394.5L461.2 394.5L461.5 394.5L461.8 394.4L462 394.4L462.2 394.4L462.4 394.3L462.7 394.5L462.9 394.7L463.1 394.7L463.4 394.8L463.6 394.7L463.8 394.8L464 395L464.3 394.9L464.5 394.9L464.9 394.9L465.1 394.9L465.3 395L465.5 395L465.9 395L466.1 394.9L466.3 394.8L466.6 394.9L466.9 394.8L467.1 394.7L467.4 394.7L467.6 394.7L467.8 394.5L468.1 394.5L468.3 394.4L468.5 394.3L468.9 394.2L469.1 394.2L469.3 394.3L469.6 394.3L469.8 394.3L470 394.2L470.2 394.2L470.6 394.2L470.8 394.1L471 394.1L471.3 394L471.6 394.1L471.8 394.1L472.1 394.1L472.3 394L472.5 393.9L472.8 394L473 393.9L473.2 393.9L473.5 393.8L473.7 393.9L473.9 394L474.1 394L474.4 394.1L474.6 394.1L474.8 394.1L475.1 394.2L475.3 394.1L475.5 394.1L475.7 394.1L476 394L476.3 394L476.6 394.1L476.8 394L477 394.1L477.4 394.2L477.6 394.2L477.9 394.3L478.2 394.4L478.4 394.5L478.6 394.5L478.8 394.5L479.1 394.5L479.3 394.5L479.6 394.6L479.9 394.5L480.1 394.6L480.3 394.7L480.6 394.7L480.8 394.8L481.1 394.9L481.4 394.9L481.5 395.1L481.6 395.2L481.9 395.3L482.1 395.4L482.3 395.6L482.5 395.7L482.6 395.9L482.9 395.9L483.1 395.8L483.3 395.9L483.5 395.9L483.8 395.9L484 395.9L484.2 395.8L484.5 395.9L484.7 395.9L484.9 395.9L485.3 395.9L485.5 395.9L485.7 395.9L486.1 395.8L486.3 395.8L486.5 395.7L486.9 395.7L487.1 395.7L487.3 395.8L487.6 395.7L487.9 395.7L488.1 395.7L488.5 395.7L488.7 395.6L488.9 395.6L489.3 395.6L489.5 395.7L489.7 395.6L490.1 395.7L490.3 395.7L490.5 395.7L490.8 395.7L491.1 395.6L491.3 395.6L491.6 395.5L491.8 395.4L492 395.4L492.3 395.3L492.5 395.2L492.7 395.1L493 395L493.2 394.9L493.4 394.8L493.6 394.7L493.9 394.7L494.1 394.6L494.3 394.6L494.6 394.5L494.8 394.4L495 394.3L495.2 394.2L495.5 394.1L495.7 394L495.9 393.9L496.3 393.8L496.5 393.7L496.7 393.7L497 393.7L497.2 393.6L497.4 393.5L497.7 393.4L497.9 393.4L498.1 393.4L498.3 393.5L498.6 393.6L498.8 393.6L499 393.8L499.3 393.9L499.5 394L499.7 394.1L499.9 394.1L500.2 394.1L500.4 394.3L500.6 394.4L500.9 394.5L501.1 394.5L501.4 394.6L501.8 394.6L502 394.5L502.2 394.5L502.5 394.4L502.7 394.4L502.9 394.3L503.2 394.4L503.4 394.3L503.6 394.3L503.8 394.3L504.1 394.4L504.3 394.4L504.4 394.5L504.7 394.6L504.9 394.7L505.1 394.8L505.3 394.9L505.6 395L505.8 395.2L506 395.2L506.4 395.2L506.6 395.2L506.8 395.3L507.1 395.4L507.3 395.3L507.4 395.2L507.6 395.1L508 395.1L508.3 395L508.6 394.9L508.8 394.8L509 394.8L509.2 394.6L509.5 394.5L509.7 394.5L509.9 394.4L510.2 394.4L510.4 394.4L510.6 394.5L510.7 394.6L511 394.7L511.2 394.7L511.4 394.9L511.6 395.1L511.9 395.1L512.1 395.3L512.3 395.1L512.7 395.2L512.9 395.1L513.3 395.1L513.5 395L513.7 394.9L513.9 394.8L514.2 394.8L514.4 394.7L514.6 394.7L514.9 394.6L515.1 394.5L515.3 394.4L515.5 394.4L515.8 394.5L516 394.5L516.2 394.6L516.5 394.6L516.7 394.7L516.9 394.8L517.2 394.9L517.4 394.9L517.6 394.9L517.8 395.1L518.1 395.2L518.3 395.2L518.5 395.2L518.9 395.3L519.1 395.2L519.3 395L519.4 394.9L519.7 394.7L519.9 394.7L520.1 394.5L520.4 394.5L520.7 394.6L520.9 394.6L521.2 394.6L521.4 394.6L521.6 394.7L521.9 394.8L522.1 394.9L522.2 395" fill="none" stroke="#078a8c" stroke-width="1.1" stroke-linejoin="round" />
</g>
<rect x="180.32" y="391.61" width="326.30" height="6.11" fill="none" stroke="#000" stroke-width="0.9"/>
<text x="92.23" y="495.90" text-anchor="middle" class="tk">5</text>
<text x="140.00" y="495.90" text-anchor="middle" class="tk">10</text>
<text x="187.78" y="495.90" text-anchor="middle" class="tk">15</text>
<text x="235.55" y="495.90" text-anchor="middle" class="tk">20</text>
<text x="283.33" y="495.90" text-anchor="middle" class="tk">25</text>
<text x="331.10" y="495.90" text-anchor="middle" class="tk">30</text>
<text x="378.88" y="495.90" text-anchor="middle" class="tk">35</text>
<text x="426.65" y="495.90" text-anchor="middle" class="tk">40</text>
<text x="474.43" y="495.90" text-anchor="middle" class="tk">45</text>
<text x="522.20" y="495.90" text-anchor="middle" class="tk">50</text>
<text x="40.2" y="486.00" text-anchor="end" class="tk">−8</text>
<text x="40.2" y="463.80" text-anchor="end" class="tk">−6</text>
<text x="40.2" y="441.60" text-anchor="end" class="tk">−4</text>
<text x="40.2" y="419.40" text-anchor="end" class="tk">−2</text>
<text x="40.2" y="397.20" text-anchor="end" class="tk">0</text>
<text x="40.2" y="375.00" text-anchor="end" class="tk">2</text>
<text x="40.2" y="352.80" text-anchor="end" class="tk">4</text>
<text x="40.2" y="330.60" text-anchor="end" class="tk">6</text>
<text x="40.2" y="308.40" text-anchor="end" class="tk">8</text>
<text x="283.33" y="512.30" text-anchor="middle" class="lb" textLength="38.6" lengthAdjust="spacingAndGlyphs">Time(s)</text>
<text transform="translate(19.3 387.55) rotate(-90)" text-anchor="middle" class="lb" textLength="160.5" lengthAdjust="spacingAndGlyphs">The trajectory of <tspan class="it">e</tspan><tspan class="it" font-size="8.5" dy="2">i</tspan><tspan dy="-2"> (</tspan><tspan class="it">q</tspan> = 0.4)</text>
<rect x="459.4" y="299.6" width="56.700000000000045" height="65.0" fill="#fff" stroke="#6c6c6c" stroke-width="1"/>
<path d="M461.6 306.8H483.8" stroke="#0a50d2" stroke-width="1.5"/>
<text x="485.8" y="308.70" class="lg" textLength="28.0" lengthAdjust="spacingAndGlyphs"><tspan class="it">e</tspan><tspan font-size="7.2" dy="1.8">1</tspan><tspan dy="-1.8">-NN</tspan></text>
<path d="M461.6 319.6H483.8" stroke="#ff1cf6" stroke-width="1.0"/>
<text x="485.8" y="321.50" class="lg" textLength="28.0" lengthAdjust="spacingAndGlyphs"><tspan class="it">e</tspan><tspan font-size="7.2" dy="1.8">2</tspan><tspan dy="-1.8">-NN</tspan></text>
<path d="M461.6 332.3H483.8" stroke="#30c838" stroke-width="1.2"/>
<text x="485.8" y="334.20" class="lg" textLength="28.0" lengthAdjust="spacingAndGlyphs"><tspan class="it">e</tspan><tspan font-size="7.2" dy="1.8">3</tspan><tspan dy="-1.8">-NN</tspan></text>
<path d="M461.6 344.8H483.8" stroke="#ff6a28" stroke-width="1.2"/>
<text x="485.8" y="346.70" class="lg" textLength="28.0" lengthAdjust="spacingAndGlyphs"><tspan class="it">e</tspan><tspan font-size="7.2" dy="1.8">4</tspan><tspan dy="-1.8">-NN</tspan></text>
<path d="M461.6 357.4H483.8" stroke="#078a8c" stroke-width="1.1"/>
<text x="485.8" y="359.30" class="lg" textLength="28.0" lengthAdjust="spacingAndGlyphs"><tspan class="it">e</tspan><tspan font-size="7.2" dy="1.8">5</tspan><tspan dy="-1.8">-NN</tspan></text>
<rect x="127.1" y="416.8" width="364.5" height="53.19999999999999" fill="#fff" stroke="none"/>
<clipPath id="cib"><rect x="127.1" y="416.8" width="364.5" height="53.19999999999999"/></clipPath>
<g clip-path="url(#cib)">
<path d="M126.5 438.2L126.8 438.3L127 438.3L127.3 438.3L127.5 438.2L127.8 438L128 437.8L128.2 437.7L128.3 437.6L128.4 437.4L128.6 437.3L128.7 437.1L128.8 437L128.9 436.9L129.1 436.8L129.2 436.7L129.4 436.5L129.7 436.3L130 436.1L130.2 436L130.5 435.9L130.7 435.8L131 435.6L131.2 435.4L131.4 435.3L131.5 435.2L131.6 435L131.8 434.8L131.9 434.7L132 434.5L132.1 434.3L132.3 434.1L132.4 433.9L132.5 433.7L132.7 433.5L132.8 433.4L132.9 433.2L133 433.1L133.3 432.9L133.6 432.8L133.8 432.8L134.1 432.9L134.3 433L134.6 433.1L134.8 433.4L135 433.5L135.1 433.6L135.2 433.8L135.3 433.9L135.5 434.1L135.6 434.2L135.7 434.3L135.9 434.5L136 434.6L136.2 434.8L136.5 434.9L136.8 435L137 435.1L137.3 435.2L137.5 435.3L137.8 435.5L138 435.7L138.3 435.9L138.4 436L138.6 436.1L138.7 436.3L138.8 436.4L138.9 436.5L139.1 436.7L139.2 436.8L139.3 436.9L139.6 437.1L139.8 437.3L140.1 437.4L140.3 437.5L140.6 437.6L140.9 437.6L141.1 437.6L141.4 437.6L141.6 437.6L141.9 437.6L142.1 437.7L142.4 437.8L142.7 437.9L142.9 438.1L143.2 438.2L143.4 438.4L143.7 438.6L143.9 438.8L144.2 438.9L144.4 439L144.7 439.1L145 439.1L145.2 439.1L145.5 439.1L145.7 439L146 439L146.2 439L146.5 439L146.8 439.1L147 439.2L147.3 439.3L147.5 439.5L147.8 439.6L148 439.8L148.3 439.9L148.6 440L148.8 440L149.1 440L149.3 440L149.6 440L149.8 439.9L150.1 439.8L150.3 439.7L150.6 439.7L150.9 439.6L151.1 439.7L151.4 439.7L151.6 439.8L151.9 439.9L152.1 440.1L152.4 440.2L152.7 440.3L152.9 440.4L153.2 440.5L153.4 440.5L153.7 440.5L153.9 440.4L154.2 440.3L154.4 440.3L154.7 440.2L155 440.1L155.2 440.1L155.5 440.1L155.7 440.2L156 440.3L156.2 440.4L156.5 440.5L156.8 440.6L157 440.7L157.3 440.8L157.5 440.9L157.8 440.9L158 440.8L158.3 440.8L158.6 440.7L158.8 440.5L159.1 440.4L159.3 440.2L159.6 440.1L159.8 440L160.1 439.9L160.3 439.9L160.6 439.8L160.9 439.8L161.1 439.8L161.4 439.7L161.6 439.5L161.8 439.3L161.9 439.2L162 439L162.1 438.8L162.3 438.6L162.4 438.3L162.5 438.1L162.7 437.9L162.8 437.6L162.9 437.4L163 437.2L163.2 437L163.3 436.8L163.4 436.6L163.6 436.5L163.8 436.3L164.1 436.3L164.3 436.3L164.6 436.4L164.8 436.6L165.1 436.8L165.2 436.9L165.3 437L165.5 437.2L165.6 437.3L165.7 437.4L165.9 437.6L166 437.7L166.1 437.8L166.2 437.9L166.5 438.2L166.8 438.3L167 438.5L167.3 438.6L167.5 438.6L167.8 438.7L168 438.8L168.3 438.9L168.5 439L168.8 439.2L169.1 439.3L169.3 439.5L169.6 439.7L169.8 439.9L170.1 440.1L170.3 440.2L170.6 440.3L170.9 440.4L171.1 440.4L171.4 440.4L171.6 440.3L171.9 440.2L172.1 440.1L172.4 440.1L172.7 440L172.9 439.9L173.2 439.9L173.4 439.9L173.7 439.9L173.9 439.9L174.2 439.9L174.4 439.9L174.7 439.8L175 439.7L175.2 439.5L175.3 439.3L175.5 439.2L175.6 439L175.7 438.9L175.9 438.7L176 438.5L176.1 438.3L176.2 438.1L176.4 437.9L176.5 437.7L176.6 437.5L176.8 437.3L176.9 437.2L177 437L177.1 436.8L177.3 436.7L177.4 436.5L177.5 436.4L177.8 436.2L178 436.1L178.3 436L178.5 436L178.8 436.1L179.1 436.2L179.3 436.4L179.6 436.5L179.8 436.7L180.1 436.8L180.3 437L180.6 437.2L180.9 437.3L181.1 437.5L181.4 437.7L181.6 437.9L181.9 438.1L182 438.2L182.1 438.4L182.3 438.5L182.4 438.6L182.5 438.8L182.7 438.9L182.8 439.1L182.9 439.2L183 439.4L183.2 439.5L183.3 439.6L183.5 439.8L183.8 439.9L184.1 439.9L184.3 439.9L184.6 439.7L184.7 439.6L184.8 439.4L185 439.3L185.1 439.1L185.2 438.9L185.3 438.7L185.5 438.6L185.6 438.4L185.7 438.2L185.9 438L186 437.9L186.1 437.7L186.2 437.6L186.4 437.4L186.5 437.3L186.8 437.1L187 436.9L187.3 436.8L187.5 436.6L187.8 436.5L188 436.4L188.3 436.3L188.5 436.2L188.8 436.2L189.1 436.2L189.3 436.2L189.6 436.3L189.8 436.4L190.1 436.5L190.3 436.8L190.5 436.9L190.6 437L190.7 437.2L190.9 437.4L191 437.6L191.1 437.8L191.2 438L191.4 438.2L191.5 438.4L191.6 438.7L191.8 438.9L191.9 439.1L192 439.3L192.1 439.5L192.3 439.6L192.4 439.8L192.5 439.9L192.8 440L193 440.1L193.3 440.2L193.5 440.2L193.8 440.2L194.1 440.1L194.3 440.2L194.6 440.2L194.8 440.3L195.1 440.4L195.3 440.6L195.6 440.8L195.9 441L196.1 441.2L196.4 441.4L196.6 441.6L196.9 441.7L197.1 441.8L197.4 441.8L197.7 441.8L197.9 441.7L198.2 441.7L198.4 441.6L198.7 441.5L198.9 441.4L199.2 441.3L199.4 441.3L199.7 441.3L200 441.2L200.2 441.2L200.5 441.2L200.7 441.2L201 441.2L201.2 441.1L201.5 441L201.8 440.9L202 440.7L202.3 440.6L202.5 440.4L202.8 440.2L203 440L203.3 439.9L203.5 439.8L203.8 439.8L204.1 439.8L204.3 439.9L204.6 440L204.8 440.1L205.1 440.2L205.3 440.3L205.6 440.4L205.9 440.5L206.1 440.5L206.4 440.5L206.6 440.5L206.9 440.4L207.1 440.4L207.4 440.4L207.7 440.4L207.9 440.4L208.2 440.4L208.4 440.5L208.7 440.6L208.9 440.7L209.2 440.8L209.4 440.8L209.7 440.8L210 440.7L210.2 440.6L210.5 440.4L210.7 440.2L210.9 440.1L211 439.9L211.1 439.7L211.2 439.6L211.4 439.4L211.5 439.2L211.6 439L211.8 438.7L211.9 438.5L212 438.3L212.1 438.1L212.3 437.9L212.4 437.7L212.5 437.5L212.7 437.4L212.9 437.3L213.2 437.3L213.4 437.5L213.5 437.7L213.7 437.8L213.8 438L213.9 438.2L214.1 438.4L214.2 438.6L214.3 438.8L214.4 439L214.6 439.2L214.7 439.4L214.8 439.5L215 439.6L215.2 439.8L215.5 439.9L215.7 439.9L216 440L216.2 440.1L216.5 440.2L216.8 440.3L217 440.4L217.3 440.6L217.5 440.6L217.8 440.7L218 440.6L218.3 440.5L218.5 440.3L218.7 440.2L218.8 440L218.9 439.8L219.1 439.6L219.2 439.4L219.3 439.1L219.4 438.8L219.6 438.5L219.7 438.2L219.8 437.9L220 437.6L220.1 437.3L220.2 437L220.3 436.7L220.5 436.5L220.6 436.3L220.7 436.2L221 436L221.2 436.1L221.5 436.3L221.6 436.5L221.8 436.8L221.9 437.1L222 437.4L222.1 437.7L222.3 438L222.4 438.3L222.5 438.6L222.7 438.9L222.8 439.1L222.9 439.3L223 439.5L223.2 439.7L223.3 439.9L223.4 440L223.7 440.1L223.9 440.2L224.2 440.3L224.4 440.3L224.7 440.3L225 440.3L225.2 440.3L225.5 440.3L225.7 440.3L226 440.2L226.2 440.1L226.5 440L226.8 439.8L226.9 439.7L227 439.6L227.1 439.4L227.3 439.2L227.4 439L227.5 438.8L227.7 438.5L227.8 438.3L227.9 438L228 437.7L228.2 437.5L228.3 437.2L228.4 436.9L228.5 436.7L228.7 436.5L228.8 436.4L229.1 436.2L229.3 436.2L229.6 436.5L229.7 436.6L229.8 436.8L230 437.1L230.1 437.4L230.2 437.6L230.3 437.9L230.5 438.2L230.6 438.4L230.7 438.7L230.9 439L231 439.2L231.1 439.4L231.2 439.5L231.4 439.7L231.5 439.8L231.6 440L231.9 440.2L232.1 440.3L232.4 440.3L232.7 440.4L232.9 440.4L233.2 440.3L233.4 440.2L233.7 440.2L233.9 440.1L234.2 440L234.4 439.9L234.7 439.8L235 439.8L235.2 439.6L235.5 439.5L235.7 439.3L235.9 439.1L236 439L236.1 438.8L236.2 438.6L236.4 438.4L236.5 438.2L236.6 437.9L236.8 437.7L236.9 437.5L237 437.3L237.1 437.1L237.3 437L237.4 436.8L237.7 436.7L237.9 436.7L238.2 436.9L238.3 437L238.4 437.2L238.5 437.4L238.7 437.6L238.8 437.8L238.9 438.1L239.1 438.3L239.2 438.5L239.3 438.7L239.4 439L239.6 439.2L239.7 439.3L239.8 439.5L240 439.6L240.1 439.8L240.2 439.9L240.5 440.1L240.7 440.3L241 440.4L241.2 440.4L241.5 440.4L241.8 440.4L242 440.3L242.3 440.2L242.5 440.2L242.8 440.1L243 440L243.3 440L243.5 439.9L243.8 439.9L244.1 439.8L244.3 439.7L244.6 439.6L244.8 439.4L245 439.2L245.1 439L245.2 438.9L245.3 438.7L245.5 438.5L245.6 438.3L245.7 438L245.9 437.8L246 437.6L246.1 437.4L246.2 437.2L246.4 437.1L246.5 437L246.8 436.9L247 436.9L247.3 437.1L247.4 437.2L247.5 437.4L247.7 437.6L247.8 437.8L247.9 438L248 438.3L248.2 438.5L248.3 438.7L248.4 439L248.5 439.2L248.7 439.4L248.8 439.6L248.9 439.7L249.1 439.9L249.2 440L249.3 440.1L249.6 440.3L249.8 440.5L250.1 440.6L250.3 440.6L250.6 440.6L250.9 440.5L251.1 440.5L251.4 440.3L251.6 440.2L251.9 440L252.1 439.8L252.3 439.7L252.4 439.6L252.5 439.4L252.7 439.3L252.8 439.2L252.9 439L253 438.9L253.2 438.7L253.3 438.6L253.4 438.4L253.5 438.2L253.7 438.1L253.8 437.9L253.9 437.7L254.1 437.6L254.2 437.4L254.3 437.3L254.6 437.1L254.8 437.1L255.1 437.1L255.3 437.2L255.5 437.4L255.6 437.5L255.7 437.7L255.9 437.8L256 438L256.1 438.2L256.2 438.4L256.4 438.6L256.5 438.8L256.6 439L256.8 439.2L256.9 439.4L257 439.5L257.1 439.7L257.3 439.9L257.4 440L257.5 440.2L257.7 440.3L257.8 440.4L257.9 440.5L258.2 440.7L258.4 440.9L258.7 441L258.9 441L259.2 440.9L259.4 440.7L259.6 440.6L259.7 440.4L259.8 440.3L260 440.1L260.1 439.9L260.2 439.8L260.3 439.6L260.5 439.4L260.6 439.2L260.7 439L260.9 438.8L261 438.6L261.1 438.4L261.2 438.2L261.4 438L261.5 437.8L261.6 437.7L261.8 437.5L261.9 437.3L262 437.2L262.1 437.1L262.4 436.9L262.7 436.8L262.9 436.9L263.2 437.1L263.3 437.2L263.4 437.3L263.5 437.5L263.7 437.7L263.8 437.8L263.9 438L264.1 438.2L264.2 438.4L264.3 438.5L264.4 438.7L264.6 438.9L264.7 439L264.8 439.1L265 439.3L265.1 439.4L265.2 439.5L265.3 439.6L265.5 439.8L265.6 439.9L265.7 440L265.9 440.1L266 440.3L266.1 440.4L266.4 440.6L266.6 440.8L266.9 440.8L267.1 440.8L267.4 440.7L267.7 440.5L267.8 440.3L267.9 440.1L268 439.9L268.2 439.7L268.3 439.4L268.4 439.2L268.5 438.9L268.7 438.6L268.8 438.3L268.9 438L269.1 437.8L269.2 437.5L269.3 437.2L269.4 437L269.6 436.8L269.7 436.6L269.8 436.4L270.1 436.2L270.3 436.3L270.6 436.4L270.7 436.6L270.9 436.8L271 437L271.1 437.3L271.2 437.5L271.4 437.8L271.5 438.1L271.6 438.3L271.8 438.5L271.9 438.7L272 438.9L272.1 439.1L272.3 439.2L272.5 439.4L272.8 439.5L273 439.6L273.3 439.6L273.5 439.7L273.8 439.8L274.1 439.9L274.3 440.1L274.6 440.2L274.8 440.4L275.1 440.5L275.3 440.6L275.6 440.5L275.9 440.5L276.1 440.3L276.4 440.1L276.5 439.9L276.6 439.8L276.8 439.6L276.9 439.4L277 439.1L277.1 438.9L277.3 438.6L277.4 438.4L277.5 438.1L277.7 437.8L277.8 437.5L277.9 437.3L278 437L278.2 436.8L278.3 436.6L278.4 436.5L278.7 436.3L278.9 436.4L279.2 436.6L279.3 436.7L279.4 436.9L279.6 437.2L279.7 437.4L279.8 437.7L280 437.9L280.1 438.2L280.2 438.4L280.3 438.7L280.5 438.9L280.6 439.1L280.7 439.2L280.9 439.4L281.1 439.5L281.4 439.7L281.6 439.7L281.9 439.8L282.1 439.9L282.4 439.9L282.7 440L282.9 440.2L283.2 440.3L283.4 440.4L283.7 440.4L283.9 440.3L284.2 440.2L284.4 440L284.6 439.8L284.7 439.7L284.8 439.5L285 439.2L285.1 439L285.2 438.8L285.3 438.5L285.5 438.2L285.6 438L285.7 437.7L285.9 437.5L286 437.2L286.1 437L286.2 436.9L286.4 436.7L286.6 436.6L286.9 436.6L287.1 436.8L287.3 436.9L287.4 437.1L287.5 437.3L287.7 437.6L287.8 437.8L287.9 438.1L288 438.4L288.2 438.6L288.3 438.9L288.4 439.1L288.5 439.3L288.7 439.5L288.8 439.7L288.9 439.8L289.1 439.9L289.3 440.1L289.6 440.2L289.8 440.3L290.1 440.3L290.3 440.3L290.6 440.3L290.9 440.4L291.1 440.4L291.4 440.4L291.6 440.4L291.9 440.4L292.1 440.3L292.4 440.2L292.7 440L292.9 439.8L293 439.6L293.2 439.5L293.3 439.3L293.4 439.1L293.5 438.9L293.7 438.7L293.8 438.5L293.9 438.2L294.1 438L294.2 437.8L294.3 437.6L294.4 437.4L294.6 437.2L294.7 437.1L294.8 436.9L295.1 436.8L295.3 436.9L295.6 437.1L295.7 437.2L295.9 437.4L296 437.6L296.1 437.8L296.2 438L296.4 438.3L296.5 438.5L296.6 438.7L296.8 439L296.9 439.2L297 439.4L297.1 439.5L297.3 439.7L297.4 439.8L297.5 440L297.8 440.2L298 440.3L298.3 440.4L298.5 440.4L298.8 440.4L299.1 440.4L299.3 440.5L299.6 440.5L299.8 440.5L300.1 440.5L300.3 440.5L300.6 440.5L300.9 440.4L301.1 440.4L301.4 440.3L301.6 440.1L301.9 439.9L302 439.8L302.1 439.6L302.3 439.4L302.4 439.2L302.5 439L302.7 438.7L302.8 438.5L302.9 438.2L303 438L303.2 437.7L303.3 437.5L303.4 437.2L303.5 437L303.7 436.9L303.8 436.7L304.1 436.6L304.3 436.6L304.6 436.8L304.7 437L304.8 437.2L305 437.4L305.1 437.6L305.2 437.9L305.3 438.1L305.5 438.4L305.6 438.7L305.7 438.9L305.9 439.1L306 439.3L306.1 439.5L306.2 439.6L306.4 439.7L306.6 439.9L306.9 440L307.1 440.1L307.4 440.1L307.6 440.1L307.9 440.1L308.2 440.1L308.4 440.1L308.7 440.2L308.9 440.2L309.2 440.3L309.4 440.4L309.7 440.5L310 440.5L310.2 440.5L310.5 440.5L310.7 440.4L311 440.3L311.2 440L311.4 439.9L311.5 439.7L311.6 439.6L311.8 439.3L311.9 439.1L312 438.9L312.1 438.6L312.3 438.3L312.4 438L312.5 437.8L312.6 437.5L312.8 437.2L312.9 437L313 436.7L313.2 436.6L313.3 436.4L313.5 436.3L313.8 436.3L314.1 436.5L314.2 436.7L314.3 437L314.4 437.2L314.6 437.5L314.7 437.8L314.8 438L315 438.3L315.1 438.6L315.2 438.8L315.3 439L315.5 439.2L315.6 439.3L315.7 439.4L316 439.6L316.2 439.6L316.5 439.7L316.8 439.7L317 439.7L317.3 439.7L317.5 439.8L317.8 439.9L318 440L318.3 440.2L318.5 440.3L318.8 440.5L319.1 440.6L319.3 440.6L319.6 440.6L319.8 440.6L320.1 440.5L320.3 440.3L320.6 440.1L320.9 439.9L321.1 439.7L321.4 439.5L321.5 439.3L321.6 439.2L321.8 439.1L321.9 439L322 438.8L322.1 438.7L322.3 438.5L322.4 438.4L322.5 438.2L322.6 438.1L322.8 438L323 437.8L323.3 437.8L323.5 437.8L323.8 438L323.9 438.1L324.1 438.3L324.2 438.4L324.3 438.6L324.4 438.8L324.6 438.9L324.7 439.1L324.8 439.2L325 439.3L325.2 439.5L325.5 439.6L325.7 439.7L326 439.7L326.2 439.8L326.5 439.9L326.8 440.1L327 440.2L327.3 440.4L327.5 440.6L327.8 440.8L328 440.9L328.3 441L328.5 441.1L328.8 441.1L329.1 441.2L329.3 441.1L329.6 441.1L329.8 441L330.1 441L330.3 441L330.6 441L330.9 441.1L331.1 441.1L331.4 441.2L331.6 441.3L331.9 441.4L332.1 441.4L332.4 441.4L332.6 441.4L332.9 441.4L333.2 441.3L333.4 441.1L333.7 440.9L333.9 440.7L334.2 440.5L334.4 440.4L334.7 440.2L335 440.1L335.2 440.1L335.5 440L335.7 440L336 440L336.2 440.1L336.5 440.1L336.8 440L337 439.9L337.3 439.8L337.5 439.5L337.6 439.4L337.8 439.3L337.9 439.1L338 439L338.2 438.8L338.3 438.6L338.4 438.4L338.5 438.3L338.7 438.1L338.8 437.9L338.9 437.8L339.1 437.6L339.2 437.4L339.3 437.3L339.6 437.1L339.8 437.1L340.1 437.1L340.3 437.3L340.6 437.5L340.7 437.6L340.9 437.7L341 437.8L341.1 437.9L341.2 438.1L341.5 438.3L341.8 438.4L342 438.5L342.3 438.5L342.5 438.5L342.8 438.4L343 438.4L343.3 438.3L343.5 438.3L343.8 438.3L344.1 438.3L344.3 438.3L344.6 438.3L344.8 438.3L345.1 438.2L345.3 438.2L345.6 438.1L345.9 438L346.1 437.8L346.4 437.6L346.6 437.4L346.9 437.2L347.1 437L347.4 436.8L347.6 436.7L347.9 436.6L348.2 436.6L348.4 436.7L348.7 436.8L348.9 437L349.2 437.2L349.3 437.3L349.4 437.5L349.6 437.6L349.7 437.7L350 437.9L350.2 438.1L350.5 438.2L350.7 438.2L351 438.2L351.2 438.2L351.5 438.2L351.8 438.2L352 438.2L352.3 438.3L352.5 438.3L352.8 438.4L353 438.6L353.3 438.7L353.5 438.8L353.8 439L354.1 439.1L354.3 439.3L354.6 439.4L354.8 439.5L355.1 439.5L355.3 439.5L355.6 439.5L355.9 439.5L356.1 439.4L356.4 439.4L356.6 439.4L356.9 439.4L357.1 439.4L357.4 439.5L357.6 439.6L357.9 439.7L358.2 439.8L358.4 439.9L358.7 440L358.9 440.1L359.2 440.1L359.4 440.1L359.7 440.1L360 440.1L360.2 440L360.5 439.9L360.7 439.9L361 439.8L361.2 439.8L361.5 439.8L361.8 439.9L362 439.9L362.3 440L362.5 440.1L362.8 440.2L363 440.3L363.3 440.3L363.5 440.3L363.8 440.3L364.1 440.2L364.3 440.1L364.6 440L364.8 439.9L365.1 439.8L365.3 439.6L365.6 439.5L365.9 439.5L366.1 439.4L366.4 439.4L366.6 439.4L366.9 439.3L367.1 439.3L367.4 439.2L367.6 439.1L367.9 438.9L368.2 438.7L368.3 438.6L368.4 438.5L368.5 438.3L368.7 438.2L368.8 438L368.9 437.8L369.1 437.7L369.2 437.5L369.3 437.3L369.4 437.2L369.6 437L369.7 436.9L369.8 436.8L370.1 436.6L370.3 436.5L370.6 436.4L370.9 436.4L371.1 436.4L371.4 436.5L371.6 436.5L371.9 436.6L372.1 436.6L372.4 436.6L372.6 436.7L372.9 436.7L373.2 436.6L373.4 436.6L373.7 436.7L373.9 436.7L374.2 436.9L374.4 437L374.7 437.2L375 437.4L375.1 437.5L375.2 437.6L375.3 437.8L375.5 437.9L375.6 438L375.7 438.2L375.9 438.3L376 438.4L376.1 438.5L376.2 438.7L376.4 438.8L376.6 439L376.9 439.1L377.1 439.3L377.4 439.3L377.6 439.4L377.9 439.4L378.2 439.4L378.4 439.4L378.7 439.4L378.9 439.4L379.2 439.4L379.4 439.5L379.7 439.5L380 439.6L380.2 439.6L380.5 439.6L380.7 439.5L381 439.5L381.2 439.4L381.5 439.3L381.8 439.1L382 438.9L382.3 438.7L382.5 438.6L382.8 438.4L383 438.4L383.3 438.4L383.5 438.5L383.8 438.7L384.1 438.9L384.3 439.1L384.6 439.3L384.8 439.5L385.1 439.6L385.3 439.7L385.6 439.7L385.9 439.7L386.1 439.6L386.4 439.6L386.6 439.5L386.9 439.4L387.1 439.4L387.4 439.3L387.6 439.3L387.9 439.4L388.2 439.4L388.4 439.5L388.7 439.6L388.9 439.7L389.2 439.7L389.4 439.8L389.7 439.8L390 439.7L390.2 439.7L390.5 439.6L390.7 439.5L391 439.4L391.2 439.3L391.5 439.3L391.8 439.2L392 439.3L392.3 439.3L392.5 439.4L392.8 439.5L393 439.6L393.3 439.8L393.5 439.9L393.8 440L394.1 440L394.3 440L394.6 440L394.8 439.9L395.1 439.8L395.3 439.7L395.6 439.5L395.9 439.4L396.1 439.3L396.4 439.3L396.6 439.3L396.9 439.4L397.1 439.4L397.4 439.5L397.6 439.6L397.9 439.7L398.2 439.7L398.4 439.6L398.7 439.5L398.9 439.4L399.2 439.1L399.3 439L399.4 438.9L399.6 438.7L399.7 438.6L399.8 438.5L400 438.3L400.1 438.2L400.2 438.1L400.3 438L400.6 437.8L400.9 437.7L401.1 437.6L401.4 437.6L401.6 437.5L401.9 437.5L402.1 437.4L402.4 437.4L402.6 437.2L402.9 437.1L403.2 436.9L403.3 436.7L403.4 436.6L403.5 436.5L403.7 436.3L403.8 436.2L403.9 436.1L404.1 436L404.2 435.8L404.3 435.7L404.6 435.5L404.8 435.3L405.1 435.2L405.3 435.2L405.6 435.2L405.9 435.3L406.1 435.3L406.4 435.5L406.6 435.6L406.9 435.7L407.1 435.9L407.4 436L407.6 436.1L407.9 436.2L408.2 436.3L408.4 436.4L408.7 436.5L408.9 436.6L409.2 436.7L409.4 436.8L409.7 436.9L410 437L410.2 437.2L410.5 437.3L410.7 437.5L411 437.6L411.2 437.8L411.5 437.9L411.8 437.9L412 437.9L412.3 437.9L412.5 437.8L412.8 437.7L413 437.6L413.3 437.6L413.5 437.5L413.8 437.4L414.1 437.4L414.3 437.4L414.6 437.4L414.8 437.5L415.1 437.5L415.3 437.6L415.6 437.8L415.9 437.9L416.1 438.1L416.4 438.2L416.6 438.4L416.9 438.5L417.1 438.7L417.4 438.8L417.6 438.9L417.9 439.1L418.2 439.2L418.4 439.2L418.7 439.3L418.9 439.4L419.2 439.5L419.4 439.7L419.7 439.8L420 440L420.2 440.2L420.5 440.3L420.7 440.3L421 440.4L421.2 440.3L421.5 440.2L421.8 440.1L422 440.1L422.3 440L422.5 440L422.8 440L423 440.1L423.3 440.1L423.5 440.2L423.8 440.3L424.1 440.4L424.3 440.5L424.6 440.6L424.8 440.6L425.1 440.5L425.3 440.4L425.6 440.3L425.9 440.1L426.1 439.9L426.4 439.7L426.6 439.6L426.9 439.6L427.1 439.6L427.4 439.6L427.6 439.6L427.9 439.7L428.2 439.7L428.4 439.7L428.7 439.7L428.9 439.7L429.2 439.6L429.4 439.5L429.7 439.4L430 439.1L430.1 439L430.2 438.9L430.3 438.8L430.5 438.6L430.6 438.5L430.9 438.3L431.1 438.2L431.4 438.2L431.6 438.2L431.9 438.3L432.1 438.5L432.3 438.6L432.5 438.8L432.6 439L432.9 439.1L433.2 439.2L433.4 439.2L433.7 439.2L433.9 439.1L434.2 438.9L434.4 438.8L434.7 438.7L435 438.6L435.2 438.5L435.5 438.4L435.7 438.4L436 438.3L436.2 438.3L436.5 438.3L436.8 438.3L437 438.5L437.3 438.7L437.5 438.8L437.8 439L438 439.1L438.3 439L438.5 438.9L438.8 438.7L439.1 438.5L439.3 438.3L439.4 438.1L439.7 438L440 437.8L440.2 437.7L440.5 437.6L440.7 437.6L441 437.6L441.2 437.6L441.5 437.6L441.7 437.7L442 437.9L442.1 438L442.4 438.2L442.6 438.4L442.9 438.6L443.2 438.7L443.4 438.7L443.7 438.7L443.9 438.6L444.2 438.6L444.4 438.7L444.7 438.7L445 438.8L445.2 439L445.5 439.1L445.7 439.2L446 439.3L446.2 439.3L446.5 439.2L446.7 439.1L447 438.9L447.3 438.7L447.4 438.6L447.5 438.4L447.6 438.3L447.8 438.1L447.9 438L448 437.8L448.2 437.7L448.3 437.5L448.4 437.3L448.5 437.2L448.7 437.1L448.9 436.9L449.2 436.8L449.4 436.9L449.7 437L450 437.1L450.2 437.2L450.5 437.2L450.7 437.2L451 437.1L451.2 437L451.5 436.8L451.7 436.7L452 436.6L452.3 436.4L452.5 436.3L452.8 436.2L453 436.1L453.3 436L453.5 436L453.8 435.9L454.1 436L454.3 436.1L454.6 436.2L454.8 436.4L455.1 436.6L455.3 436.8L455.6 436.9L455.9 436.9L456.1 436.9L456.4 436.7L456.6 436.6L456.9 436.4L457.1 436.3L457.4 436.2L457.6 436.2L457.9 436.2L458.2 436.4L458.4 436.6L458.7 436.8L458.8 436.9L458.9 437.1L459.1 437.2L459.2 437.3L459.3 437.5L459.4 437.6L459.7 437.8L460 437.9L460.2 437.9L460.5 437.9L460.7 437.8L461 437.8L461.2 437.7L461.5 437.7L461.7 437.8L462 437.9L462.3 438L462.4 438.2L462.5 438.3L462.6 438.4L462.8 438.6L462.9 438.8L463 439L463.2 439.2L463.3 439.3L463.4 439.5L463.5 439.7L463.7 439.9L463.8 440.1L463.9 440.3L464.1 440.4L464.3 440.6L464.6 440.7L464.8 440.7L465.1 440.7L465.3 440.6L465.6 440.5L465.9 440.4L466.1 440.3L466.4 440.3L466.6 440.4L466.9 440.5L467.1 440.6L467.4 440.7L467.6 440.8L467.9 440.9L468.2 440.9L468.4 440.9L468.7 440.9L468.9 440.8L469.2 440.7L469.4 440.6L469.7 440.4L470 440.3L470.2 440.2L470.5 440.2L470.7 440.1L471 440.1L471.2 440.2L471.5 440.2L471.7 440.3L472 440.4L472.3 440.5L472.5 440.6L472.8 440.7L473 440.7L473.3 440.7L473.5 440.6L473.8 440.5L474.1 440.3L474.3 440.2L474.6 440L474.8 439.8L475.1 439.7L475.3 439.6L475.6 439.5L475.9 439.4L476.1 439.3L476.4 439.1L476.6 438.9L476.9 438.8L477.1 438.6L477.4 438.4L477.6 438.2L477.8 438.1L477.9 437.9L478 437.8L478.2 437.6L478.3 437.4L478.4 437.2L478.5 437L478.7 436.8L478.8 436.6L478.9 436.4L479.1 436.3L479.2 436.1L479.3 436L479.4 435.8L479.6 435.7L479.8 435.6L480.1 435.5L480.3 435.4L480.6 435.4L480.9 435.3L481.1 435.2L481.4 435.2L481.6 435.1L481.9 435.1L482.1 435.2L482.4 435.3L482.6 435.4L482.9 435.6L483.2 435.7L483.4 435.9L483.7 436.1L483.9 436.3L484.1 436.4L484.2 436.6L484.3 436.7L484.4 436.9L484.6 437L484.7 437.2L484.8 437.4L485 437.5L485.1 437.7L485.2 437.8L485.5 438L485.7 438.1L486 438.2L486.2 438.1L486.5 438L486.7 437.7L486.9 437.6L487.1 437.4L487.4 437.2L487.6 437L487.9 436.9L488.2 437L488.4 437L488.7 437.3L488.8 437.4L488.9 437.6L489.1 437.8L489.2 438L489.3 438.2L489.4 438.4L489.6 438.6L489.7 438.7L489.8 438.9L490 439.1L490.1 439.3L490.2 439.5L490.3 439.6L490.6 439.8" fill="none" stroke="#0a50d2" stroke-width="1.15" stroke-linejoin="round" />
<path d="M126.5 439.5L126.6 439.6L126.9 439.8L127.1 439.8L127.4 439.7L127.7 439.5L127.8 439.4L127.9 439.2L128 439L128.2 438.8L128.3 438.6L128.4 438.3L128.6 438L128.7 437.8L128.8 437.5L128.9 437.2L129.1 437L129.2 436.9L129.3 436.8L129.4 436.6L129.6 436.5L129.7 436.4L129.8 436.3L130 436.1L130.1 435.9L130.2 435.6L130.3 435.3L130.5 435L130.6 434.8L130.7 434.5L130.9 434.2L131 433.9L131.1 433.6L131.2 433.3L131.4 432.9L131.5 432.6L131.6 432.2L131.8 431.8L131.9 431.4L132 431L132.1 430.7L132.3 430.3L132.4 429.9L132.5 429.6L132.7 429.2L132.8 428.9L132.9 428.6L133 428.3L133.2 428.1L133.4 428.1L133.7 428.1L133.9 428.1L134.2 428.1L134.4 428.1L134.7 428.1L134.8 428.4L135 428.7L135.1 429.1L135.2 429.6L135.3 430.1L135.5 430.7L135.6 431.2L135.7 431.7L135.9 432.3L136 432.8L136.1 433.3L136.2 433.8L136.4 434.3L136.5 434.7L136.6 435.1L136.8 435.5L136.9 435.9L137 436.3L137.1 436.7L137.3 437.1L137.4 437.5L137.5 437.9L137.7 438.2L137.8 438.6L137.9 438.9L138 439.3L138.2 439.6L138.3 439.8L138.4 440L138.6 440.2L138.7 440.3L138.8 440.4L138.9 440.5L139.2 440.7L139.4 440.9L139.7 441L140 441.1L140.1 441.2L140.2 441.4L140.3 441.5L140.5 441.7L140.6 441.8L140.7 441.9L140.9 442L141 442.2L141.1 442.3L141.2 442.4L141.5 442.6L141.8 442.8L142 443L142.3 443.2L142.5 443.4L142.8 443.5L143 443.7L143.3 443.8L143.6 444L143.8 444.1L144.1 444.2L144.3 444.4L144.6 444.5L144.8 444.6L145.1 444.8L145.3 444.9L145.6 445.1L145.9 445.2L146.1 445.3L146.4 445.4L146.6 445.5L146.9 445.6L147.1 445.7L147.4 445.8L147.7 445.8L147.9 445.8L148.2 445.9L148.4 445.9L148.7 445.9L148.9 445.9L149.2 445.9L149.4 446L149.7 446L150 446L150.2 446L150.5 446.1L150.7 446.1L151 446.2L151.2 446.3L151.5 446.4L151.8 446.5L152 446.6L152.3 446.7L152.5 446.9L152.8 447L153 447.2L153.3 447.3L153.6 447.5L153.8 447.6L154.1 447.8L154.3 447.9L154.6 448L154.8 448.1L155.1 448.2L155.3 448.3L155.6 448.4L155.9 448.5L156.1 448.6L156.4 448.7L156.6 448.7L156.9 448.8L157.1 448.9L157.4 448.9L157.7 448.9L157.9 449L158.2 449L158.4 449L158.7 449L158.9 448.8L159.1 448.6L159.2 448.4L159.3 448.2L159.4 448L159.6 447.7L159.7 447.4L159.8 447.1L160 446.7L160.1 446.2L160.2 445.8L160.3 445.3L160.5 444.9L160.6 444.4L160.7 444L160.9 443.5L161 443.1L161.1 442.7L161.2 442.3L161.4 441.8L161.5 441.2L161.6 440.5L161.8 439.8L161.9 439.1L162 438.4L162.1 437.7L162.3 437L162.4 436.3L162.5 435.6L162.7 434.9L162.8 434.3L162.9 433.7L163 433.3L163.2 433.1L163.3 432.9L163.4 432.7L163.6 432.6L163.8 432.4L164.1 432.5L164.3 432.7L164.4 432.8L164.6 433L164.7 433.2L164.8 433.4L165 433.6L165.1 433.9L165.2 434.1L165.3 434.4L165.5 434.7L165.6 435.1L165.7 435.5L165.9 436L166 436.4L166.1 436.8L166.2 437.3L166.4 437.7L166.5 438.1L166.6 438.5L166.8 438.8L166.9 439.1L167 439.4L167.1 439.7L167.3 440L167.4 440.3L167.5 440.5L167.7 440.8L167.8 441L167.9 441.3L168 441.5L168.2 441.7L168.3 441.9L168.4 442.1L168.5 442.3L168.7 442.6L168.8 442.8L168.9 443L169.1 443.3L169.2 443.5L169.3 443.7L169.4 443.9L169.6 444.1L169.7 444.3L169.8 444.5L170 444.7L170.1 444.9L170.2 445.1L170.3 445.2L170.5 445.4L170.6 445.6L170.7 445.7L170.9 445.9L171 446L171.1 446.2L171.2 446.3L171.4 446.4L171.6 446.6L171.9 446.8L172.1 446.9L172.4 446.9L172.7 446.8L172.9 446.6L173 446.5L173.2 446.3L173.3 446.1L173.4 445.9L173.5 445.7L173.7 445.4L173.8 445.2L173.9 444.9L174.1 444.6L174.2 444.3L174.3 444L174.4 443.7L174.6 443.4L174.7 443L174.8 442.7L175 442.3L175.1 441.9L175.2 441.6L175.3 441.2L175.5 440.9L175.6 440.6L175.7 440.3L175.9 439.9L176 439.6L176.1 439.2L176.2 438.8L176.4 438.4L176.5 438L176.6 437.5L176.8 437.1L176.9 436.6L177 436.2L177.1 435.9L177.3 435.6L177.4 435.4L177.5 435.2L177.7 435L177.8 434.7L177.9 434.5L178 434.3L178.2 434L178.3 433.8L178.4 433.6L178.5 433.4L178.8 433.3L179.1 433.5L179.2 433.7L179.3 433.9L179.4 434.2L179.6 434.6L179.7 434.8L179.8 435.1L180 435.3L180.1 435.6L180.2 435.9L180.3 436.2L180.5 436.5L180.6 437L180.7 437.5L180.9 438L181 438.5L181.1 438.9L181.2 439.3L181.4 439.6L181.5 439.9L181.6 440.1L181.8 440.4L181.9 440.6L182 440.9L182.1 441.1L182.3 441.3L182.4 441.6L182.5 441.8L182.7 442.1L182.8 442.3L182.9 442.5L183 442.7L183.2 442.9L183.3 443.1L183.4 443.2L183.7 443.4L183.9 443.5L184.2 443.5L184.4 443.4L184.6 443.2L184.7 443L184.8 442.8L185 442.5L185.1 442.1L185.2 441.8L185.3 441.4L185.5 441.1L185.6 440.7L185.7 440.3L185.9 440L186 439.6L186.1 439.3L186.2 439L186.4 438.6L186.5 438.2L186.6 437.7L186.8 437.2L186.9 436.7L187 436.3L187.1 436L187.3 435.7L187.4 435.4L187.5 435L187.7 434.7L187.8 434.4L187.9 434L188 433.7L188.2 433.5L188.3 433.3L188.5 433.3L188.8 433.6L188.9 433.7L189.1 434L189.2 434.2L189.3 434.5L189.4 434.7L189.6 434.9L189.7 435.1L189.8 435.4L190 435.6L190.1 435.9L190.2 436.1L190.3 436.4L190.5 436.9L190.6 437.4L190.7 437.9L190.9 438.5L191 439L191.1 439.5L191.2 440L191.4 440.5L191.5 441L191.6 441.4L191.8 441.9L191.9 442.4L192 442.9L192.1 443.3L192.3 443.8L192.4 444.2L192.5 444.6L192.7 444.9L192.8 445.2L192.9 445.5L193 445.8L193.2 446L193.3 446.3L193.4 446.5L193.5 446.8L193.7 447L193.8 447.3L193.9 447.5L194.1 447.7L194.2 447.9L194.3 448.1L194.4 448.2L194.6 448.4L194.7 448.5L194.8 448.7L195 448.8L195.1 449L195.2 449.1L195.3 449.3L195.5 449.4L195.6 449.6L195.7 449.7L195.9 449.8L196 450L196.1 450.1L196.4 450.3L196.6 450.5L196.9 450.7L197.1 450.8L197.4 450.9L197.7 451L197.9 451.1L198.2 451.1L198.4 451.1L198.7 451.1L198.9 450.9L199.2 450.8L199.3 450.6L199.4 450.5L199.6 450.4L199.7 450.2L199.8 450L200 449.9L200.1 449.7L200.2 449.5L200.3 449.3L200.5 449.1L200.6 449L200.7 448.8L200.9 448.6L201 448.4L201.1 448.2L201.2 448L201.4 447.8L201.5 447.6L201.6 447.5L201.8 447.3L201.9 447.2L202 447L202.1 446.9L202.3 446.7L202.4 446.5L202.5 446.4L202.7 446.2L202.8 446.1L202.9 445.8L203 445.6L203.2 445.4L203.3 445.2L203.4 445L203.5 444.8L203.7 444.7L203.8 444.5L203.9 444.4L204.2 444.3L204.4 444.2L204.7 444.3L205 444.4L205.2 444.7L205.3 444.8L205.5 445L205.6 445.1L205.7 445.3L205.9 445.5L206 445.7L206.1 445.9L206.2 446.1L206.4 446.3L206.5 446.5L206.6 446.6L206.8 446.8L206.9 447L207 447.2L207.1 447.3L207.3 447.5L207.4 447.6L207.5 447.8L207.7 448L207.8 448.1L207.9 448.3L208 448.4L208.2 448.5L208.3 448.7L208.4 448.8L208.7 449L208.9 449.1L209.2 449L209.4 448.9L209.7 448.7L209.8 448.5L210 448.2L210.1 448L210.2 447.6L210.3 447.2L210.5 446.8L210.6 446.3L210.7 445.9L210.9 445.5L211 445.1L211.1 444.7L211.2 444.3L211.4 443.8L211.5 443.2L211.6 442.6L211.8 441.9L211.9 441.3L212 440.7L212.1 440.1L212.3 439.6L212.4 439.1L212.5 438.6L212.7 438.2L212.8 437.9L212.9 437.7L213.2 437.7L213.3 437.8L213.4 438L213.5 438.4L213.7 438.8L213.8 439.2L213.9 439.7L214.1 440.2L214.2 440.8L214.3 441.3L214.4 441.9L214.6 442.4L214.7 442.9L214.8 443.3L215 443.8L215.1 444.2L215.2 444.6L215.3 445.1L215.5 445.5L215.6 446L215.7 446.5L215.9 446.9L216 447.4L216.1 447.8L216.2 448.1L216.4 448.4L216.5 448.7L216.6 448.9L216.8 449.1L216.9 449.3L217 449.5L217.1 449.6L217.4 449.8L217.7 449.7L217.8 449.5L217.9 449.2L218 448.9L218.2 448.4L218.3 448L218.4 447.2L218.5 446.4L218.7 445.6L218.8 444.8L218.9 444L219.1 443.1L219.2 442.4L219.3 441.7L219.4 440.9L219.6 440.2L219.7 439.4L219.8 438.6L220 437.8L220.1 437.1L220.2 436.8L220.3 436.6L220.5 436.4L220.6 436.2L220.7 436.1L220.9 435.9L221.1 436L221.2 436.1L221.4 436.3L221.5 436.5L221.6 436.7L221.8 437L221.9 437.5L222 438.3L222.1 439.1L222.3 439.9L222.4 440.6L222.5 441.3L222.7 442L222.8 442.6L222.9 443.1L223 443.6L223.2 444.1L223.3 444.6L223.4 445L223.5 445.5L223.7 445.9L223.8 446.4L223.9 446.8L224.1 447.2L224.2 447.6L224.3 448L224.4 448.2L224.6 448.4L224.7 448.6L224.8 448.8L225 448.9L225.1 449L225.3 449.2L225.6 449.2L225.7 449.1L225.9 448.9L226 448.6L226.1 448.2L226.2 447.8L226.4 447.1L226.5 446.4L226.6 445.7L226.8 444.9L226.9 444.2L227 443.5L227.1 442.7L227.3 442.1L227.4 441.3L227.5 440.6L227.7 439.9L227.8 439.1L227.9 438.3L228 437.6L228.2 437L228.3 436.8L228.4 436.5L228.5 436.4L228.7 436.2L228.9 436L229.2 436.1L229.3 436.3L229.4 436.4L229.6 436.7L229.7 436.9L229.8 437.3L230 438.1L230.1 438.9L230.2 439.7L230.3 440.4L230.5 441.1L230.6 441.8L230.7 442.3L230.9 442.8L231 443.2L231.1 443.6L231.2 444L231.4 444.4L231.5 444.7L231.6 445.1L231.8 445.4L231.9 445.7L232 446.1L232.1 446.4L232.3 446.6L232.4 446.9L232.5 447.2L232.7 447.4L232.8 447.7L232.9 447.9L233 448L233.3 448.2L233.5 448.3L233.8 448.3L234.1 448.2L234.2 448.1L234.3 447.8L234.4 447.5L234.6 447.1L234.7 446.7L234.8 446.2L235 445.7L235.1 445.2L235.2 444.7L235.3 444.2L235.5 443.6L235.6 443L235.7 442.5L235.9 442L236 441.4L236.1 440.8L236.2 440.1L236.4 439.5L236.5 438.8L236.6 438.2L236.8 437.6L236.9 437.1L237 436.9L237.1 436.7L237.3 436.6L237.5 436.5L237.8 436.6L237.9 436.7L238 436.9L238.2 437.1L238.3 437.7L238.4 438.3L238.5 439L238.7 439.6L238.8 440.3L238.9 440.9L239.1 441.5L239.2 442.1L239.3 442.5L239.4 442.9L239.6 443.3L239.7 443.7L239.8 444.1L240 444.4L240.1 444.7L240.2 445L240.3 445.3L240.5 445.7L240.6 446L240.7 446.3L240.9 446.5L241 446.8L241.1 447.1L241.2 447.3L241.4 447.5L241.5 447.8L241.6 447.9L241.8 448.1L242 448.2L242.3 448.4L242.5 448.4L242.8 448.4L243 448.2L243.2 448L243.3 447.8L243.4 447.4L243.5 447L243.7 446.6L243.8 446.2L243.9 445.7L244.1 445.3L244.2 444.8L244.3 444.4L244.4 443.9L244.6 443.4L244.7 442.9L244.8 442.4L245 442L245.1 441.4L245.2 440.9L245.3 440.3L245.5 439.8L245.6 439.2L245.7 438.7L245.9 438.2L246 437.7L246.1 437.3L246.2 437L246.5 436.9L246.8 436.9L247 437.1L247.1 437.4L247.3 437.8L247.4 438.3L247.5 438.8L247.7 439.4L247.8 439.9L247.9 440.5L248 441.1L248.2 441.6L248.3 442.1L248.4 442.6L248.5 443L248.7 443.5L248.8 444L248.9 444.5L249.1 444.9L249.2 445.4L249.3 445.8L249.4 446.3L249.6 446.8L249.7 447.2L249.8 447.6L250 448L250.1 448.2L250.2 448.5L250.3 448.7L250.5 448.9L250.6 449L250.7 449.2L251 449.3L251.2 449.3L251.4 449.2L251.5 449L251.6 448.6L251.8 448.3L251.9 447.8L252 447.1L252.1 446.3L252.3 445.5L252.4 444.8L252.5 444.1L252.7 443.3L252.8 442.7L252.9 442.1L253 441.5L253.2 440.9L253.3 440.3L253.4 439.7L253.5 439.1L253.7 438.6L253.8 438L253.9 437.5L254.1 437.1L254.2 437L254.4 436.8L254.7 436.8L255 436.9L255.1 437L255.2 437.4L255.3 437.8L255.5 438.4L255.6 438.9L255.7 439.5L255.9 440.1L256 440.7L256.1 441.3L256.2 441.8L256.4 442.4L256.5 442.8L256.6 443.3L256.8 443.9L256.9 444.4L257 444.9L257.1 445.3L257.3 445.8L257.4 446.3L257.5 446.8L257.7 447.3L257.8 447.8L257.9 448.1L258 448.4L258.2 448.7L258.3 448.9L258.4 449.1L258.5 449.3L258.7 449.5L258.8 449.6L259.1 449.8L259.3 449.7L259.4 449.5L259.6 449.2L259.7 448.8L259.8 448.3L260 447.8L260.1 447L260.2 446.2L260.3 445.4L260.5 444.6L260.6 443.8L260.7 443L260.9 442.4L261 441.6L261.1 441L261.2 440.3L261.4 439.5L261.5 438.8L261.6 438.1L261.8 437.5L261.9 437L262 436.8L262.1 436.6L262.3 436.5L262.5 436.3L262.8 436.3L263 436.6L263.2 436.7L263.3 436.9L263.4 437.3L263.5 438L263.7 438.7L263.8 439.4L263.9 440.1L264.1 440.8L264.2 441.5L264.3 442.1L264.4 442.6L264.6 443.1L264.7 443.6L264.8 444.1L265 444.6L265.1 445.1L265.2 445.5L265.3 446L265.5 446.4L265.6 446.9L265.7 447.3L265.9 447.7L266 448L266.1 448.2L266.2 448.4L266.4 448.6L266.5 448.8L266.6 448.9L266.9 449L267.1 449L267.3 448.8L267.4 448.5L267.5 448.2L267.7 447.6L267.8 446.9L267.9 446.2L268 445.4L268.2 444.6L268.3 443.8L268.4 443L268.5 442.3L268.7 441.6L268.8 440.8L268.9 440.1L269.1 439.3L269.2 438.5L269.3 437.7L269.4 437L269.6 436.8L269.7 436.5L269.8 436.3L270 436.2L270.1 436L270.2 435.8L270.5 435.9L270.6 436.1L270.7 436.3L270.9 436.5L271 436.8L271.1 437L271.2 437.7L271.4 438.5L271.5 439.3L271.6 440.1L271.8 440.9L271.9 441.5L272 442.1L272.1 442.6L272.3 443L272.4 443.4L272.5 443.9L272.7 444.2L272.8 444.6L272.9 444.9L273 445.3L273.2 445.6L273.3 445.9L273.4 446.2L273.5 446.5L273.7 446.8L273.8 447L273.9 447.3L274.1 447.5L274.2 447.7L274.3 447.9L274.4 448L274.7 448.2L275 448.2L275.2 448.2L275.5 448.1L275.6 447.9L275.7 447.6L275.9 447.2L276 446.8L276.1 446.4L276.2 445.9L276.4 445.4L276.5 444.9L276.6 444.4L276.8 443.9L276.9 443.3L277 442.7L277.1 442.2L277.3 441.5L277.4 440.9L277.5 440.2L277.7 439.4L277.8 438.7L277.9 437.9L278 437.2L278.2 436.9L278.3 436.7L278.4 436.5L278.5 436.3L278.8 436.2L279.1 436.2L279.2 436.3L279.3 436.5L279.4 436.7L279.6 437L279.7 437.4L279.8 438.1L280 438.9L280.1 439.7L280.2 440.4L280.3 441.1L280.5 441.7L280.6 442.3L280.7 442.8L280.9 443.2L281 443.7L281.1 444.2L281.2 444.6L281.4 445L281.5 445.4L281.6 445.8L281.8 446.2L281.9 446.6L282 446.9L282.1 447.3L282.3 447.6L282.4 447.9L282.5 448L282.7 448.2L282.8 448.3L283 448.5L283.3 448.6L283.5 448.4L283.7 448.1L283.8 447.8L283.9 447.2L284.1 446.6L284.2 446L284.3 445.3L284.4 444.6L284.6 444L284.7 443.3L284.8 442.6L285 442.1L285.1 441.4L285.2 440.8L285.3 440.2L285.5 439.6L285.6 439L285.7 438.4L285.9 437.8L286 437.3L286.1 437L286.2 436.9L286.5 436.7L286.8 436.7L287 436.8L287.1 437L287.3 437.2L287.4 437.7L287.5 438.3L287.7 438.9L287.8 439.5L287.9 440.1L288 440.7L288.2 441.3L288.3 441.9L288.4 442.4L288.5 442.9L288.7 443.3L288.8 443.8L288.9 444.3L289.1 444.8L289.2 445.2L289.3 445.7L289.4 446.1L289.6 446.5L289.7 447L289.8 447.4L290 447.8L290.1 448.1L290.2 448.3L290.3 448.6L290.5 448.8L290.6 449L290.7 449.1L290.9 449.3L291.1 449.4L291.4 449.5L291.6 449.3L291.8 449.1L291.9 448.8L292 448.4L292.1 448L292.3 447.4L292.4 446.7L292.5 446L292.7 445.3L292.8 444.6L292.9 443.9L293 443.2L293.2 442.6L293.3 442.1L293.4 441.5L293.5 440.9L293.7 440.4L293.8 439.8L293.9 439.3L294.1 438.7L294.2 438.3L294.3 437.8L294.4 437.4L294.6 437.1L294.8 436.9L295.1 436.9L295.3 437.1L295.5 437.3L295.6 437.7L295.7 438.2L295.9 438.7L296 439.2L296.1 439.8L296.2 440.4L296.4 440.9L296.5 441.4L296.6 441.9L296.8 442.4L296.9 442.8L297 443.3L297.1 443.7L297.3 444.2L297.4 444.6L297.5 445L297.7 445.4L297.8 445.8L297.9 446.2L298 446.6L298.2 447.1L298.3 447.4L298.4 447.8L298.5 448.1L298.7 448.3L298.8 448.5L298.9 448.8L299.1 448.9L299.2 449.1L299.3 449.3L299.4 449.4L299.6 449.5L299.8 449.7L300.1 449.7L300.3 449.5L300.5 449.4L300.6 449.2L300.7 448.9L300.9 448.6L301 448.3L301.1 447.9L301.2 447.3L301.4 446.7L301.5 446.1L301.6 445.5L301.8 444.9L301.9 444.3L302 443.7L302.1 443.1L302.3 442.5L302.4 441.9L302.5 441.4L302.7 440.8L302.8 440.1L302.9 439.5L303 438.9L303.2 438.3L303.3 437.7L303.4 437.2L303.5 437L303.7 436.8L303.9 436.7L304.2 436.7L304.4 436.9L304.6 437L304.7 437.3L304.8 437.9L305 438.5L305.1 439.1L305.2 439.8L305.3 440.4L305.5 441L305.6 441.5L305.7 442.1L305.9 442.5L306 442.9L306.1 443.3L306.2 443.7L306.4 444.1L306.5 444.4L306.6 444.7L306.8 445.1L306.9 445.4L307 445.7L307.1 446L307.3 446.3L307.4 446.6L307.5 446.9L307.6 447.2L307.8 447.5L307.9 447.8L308 448L308.2 448.1L308.3 448.3L308.4 448.4L308.5 448.5L308.8 448.7L309.1 448.8L309.3 448.9L309.6 448.8L309.8 448.7L310 448.5L310.1 448.4L310.2 448.2L310.3 448L310.5 447.6L310.6 447.2L310.7 446.8L310.9 446.4L311 445.9L311.1 445.5L311.2 445L311.4 444.5L311.5 444.1L311.6 443.5L311.8 443L311.9 442.5L312 441.9L312.1 441.3L312.3 440.6L312.4 439.9L312.5 439.2L312.6 438.4L312.8 437.7L312.9 437L313 436.8L313.2 436.6L313.3 436.4L313.4 436.3L313.7 436.1L313.9 436.3L314.1 436.4L314.2 436.6L314.3 436.9L314.4 437.1L314.6 437.9L314.7 438.6L314.8 439.4L315 440.2L315.1 440.9L315.2 441.5L315.3 442.1L315.5 442.5L315.6 442.9L315.7 443.2L315.9 443.6L316 443.9L316.1 444.3L316.2 444.5L316.4 444.8L316.5 445.1L316.6 445.4L316.8 445.6L316.9 445.9L317 446.1L317.1 446.4L317.3 446.6L317.4 446.8L317.5 447L317.6 447.2L317.8 447.4L317.9 447.6L318 447.7L318.2 447.9L318.4 448L318.7 448.1L318.9 448.2L319.2 448.2L319.4 448.2L319.7 448L319.8 447.9L320 447.7L320.1 447.5L320.2 447.2L320.3 447L320.5 446.7L320.6 446.4L320.7 446.1L320.9 445.8L321 445.5L321.1 445.2L321.2 444.9L321.4 444.6L321.5 444.3L321.6 444L321.8 443.6L321.9 443.2L322 442.7L322.1 442.1L322.3 441.5L322.4 440.9L322.5 440.3L322.6 439.7L322.8 439.2L322.9 438.8L323 438.4L323.2 438.1L323.3 437.9L323.5 437.9L323.7 438.1L323.8 438.5L323.9 438.9L324.1 439.4L324.2 440L324.3 440.6L324.4 441.2L324.6 441.9L324.7 442.6L324.8 443.2L325 443.9L325.1 444.4L325.2 444.8L325.3 445.2L325.5 445.5L325.6 445.8L325.7 446.1L325.9 446.4L326 446.6L326.1 446.9L326.2 447.1L326.4 447.4L326.5 447.6L326.6 447.8L326.8 448L326.9 448.1L327 448.2L327.1 448.4L327.3 448.5L327.4 448.6L327.5 448.7L327.6 448.8L327.8 448.9L327.9 449.1L328 449.2L328.2 449.3L328.3 449.4L328.4 449.6L328.5 449.7L328.7 449.8L328.8 449.9L328.9 450.1L329.2 450.3L329.4 450.5L329.7 450.6L330 450.8L330.2 450.9L330.5 451L330.7 451.1L331 451.1L331.2 451.1L331.5 451L331.8 451L332 450.9L332.3 450.7L332.5 450.6L332.8 450.4L333 450.2L333.3 450L333.4 449.9L333.7 449.7L333.8 449.5L333.9 449.4L334.2 449.2L334.4 448.9L334.6 448.7L334.7 448.6L335 448.4L335.1 448.2L335.2 448.1L335.3 447.9L335.5 447.6L335.6 447.3L335.7 447.1L335.9 446.9L336 446.6L336.1 446.3L336.2 446.2L336.4 445.8L336.5 445.5L336.6 445.1L336.8 444.8L336.9 444.7L337 444.3L337.1 444L337.3 443.5L337.4 443.3L337.5 443.2L337.6 442.8L337.8 442.4L337.9 442.1L338 441.8L338.2 441.6L338.3 441.3L338.4 440.9L338.5 440.5L338.7 439.9L338.8 439.7L338.9 439.4L339.1 439.1L339.2 438.7L339.3 438.2L339.4 437.7L339.7 437.4L340 437.2L340.2 437.5L340.3 437.7L340.6 437.9L340.9 438.2L341 438.6L341.1 438.8L341.2 439L341.4 439.4L341.5 439.8L341.6 439.9L341.8 440.1L342 440.3L342.1 440.4L342.3 440.7L342.5 440.8L342.6 440.9L342.8 440.8L342.9 440.9L343 441.1L343.3 441.1L343.5 441.3L343.8 441.2L344.1 441L344.3 441.1L344.4 440.8L344.6 440.4L344.8 440.2L345 439.9L345.1 439.7L345.2 439.5L345.3 439.3L345.5 439.2L345.6 438.8L345.9 438.5L346 438.2L346.2 437.9L346.5 437.7L346.6 437.5L346.9 437.1L347.1 437L347.4 437L347.5 436.9L347.8 436.9L348 436.8L348.3 436.9L348.4 437L348.7 437L348.9 437.1L349.1 437.4L349.2 437.6L349.3 437.8L349.6 438L349.8 438.5L350 438.7L350.1 439.1L350.3 439.1L350.5 439.3L350.6 439.6L350.9 439.4L351 439.7L351.1 440L351.2 440.1L351.4 440.3L351.5 440.5L351.8 440.5L352 440.8L352.1 441.1L352.4 441.2L352.5 441.4L352.6 441.8L352.8 441.5L353 441.6L353.3 441.8L353.5 441.8L353.7 441.9L353.8 442L354.1 442.2L354.2 442.4L354.4 442.2L354.6 442.5L354.7 442.8L354.8 443.1L355.1 443L355.2 443.3L355.5 443.3L355.6 443.5L355.7 443.9L355.9 444.1L356 444.2L356.1 444.4L356.4 444.4L356.6 444.4L356.8 444.3L356.9 444.4L357.1 444.7L357.3 444.9L357.5 444.6L357.6 444.4L357.8 444.3L358 444.3L358.2 444.5L358.3 444.6L358.5 445L358.7 445.1L358.9 445.1L359.2 445.4L359.4 445.6L359.6 445.9L359.7 446.1L359.8 446.3L360 446.5L360.2 446.6L360.5 446.7L360.7 446.9L361 446.7L361.2 447L361.4 446.8L361.6 446.8L361.9 446.7L362.1 446.6L362.4 446.7L362.5 446.6L362.8 446.6L363 446.4L363.3 446.4L363.4 446.6L363.7 446.4L363.9 446.6L364.2 446.5L364.4 446.6L364.7 446.6L365 446.4L365.1 446.1L365.2 445.8L365.5 445.5L365.6 445.2L365.7 445L366 444.7L366.1 444.6L366.2 444L366.4 443.9L366.5 443.5L366.6 443.3L366.8 443L367 442.9L367.1 442.5L367.3 442.3L367.4 442.1L367.5 441.8L367.6 441.5L367.8 441.3L367.9 441.1L368.2 440.5L368.4 440.4L368.5 440.2L368.7 439.7L368.8 439.3L368.9 438.9L369.1 438.5L369.2 438.3L369.3 437.9L369.4 437.8L369.6 437.5L369.7 437.1L370 437L370.2 436.7L370.3 436.6L370.5 436.5L370.7 436.4L371 436.4L371.2 436.2L371.5 436.3L371.8 436.2L372 436.1L372.3 436.3L372.5 436.4L372.8 436.4L373 436.5L373.3 436.6L373.5 436.7L373.8 436.9L374.1 437.1L374.2 437.4L374.3 437.6L374.6 438L374.7 438.3L375 438.6L375.1 438.7L375.2 438.9L375.5 439.2L375.6 439.4L375.7 439.6L375.9 440L376 440.3L376.1 440.4L376.2 440.9L376.4 440.7L376.5 441L376.6 441.6L376.8 441.8L376.9 442.1L377 442.3L377.1 442.5L377.3 442.8L377.4 443.3L377.5 443.5L377.6 443.6L377.9 443.9L378.2 444.2L378.3 444.4L378.5 444.5L378.7 444.6L378.9 444.7L379.2 444.4L379.4 444.3L379.7 444L379.8 443.8L380.1 443.6L380.3 443.4L380.5 443.1L380.7 443L381 442.6L381.1 442.5L381.4 442.6L381.6 442.4L381.8 442.3L381.9 442.1L382 441.8L382.1 441.7L382.3 441.6L382.5 441.4L382.6 441.3L382.8 441.5L383 441.3L383.3 441.4L383.4 441.5L383.5 441.6L383.8 441.8L383.9 442L384.2 442.3L384.3 442.6L384.4 443L384.7 443.1L385 443.2L385.1 443.3L385.3 443.3L385.5 443.5L385.6 443.7L385.9 444.1L386 444L386.2 443.7L386.4 443.8L386.6 444L386.8 444.2L387 444.3L387.3 444.3L387.5 444.3L387.8 444.3L388 444.4L388.2 444.2L388.4 444L388.7 444.1L388.9 443.9L389.2 444L389.3 443.8L389.6 443.8L389.7 443.5L390 443.7L390.2 443.9L390.3 443.7L390.6 443.7L390.7 444L390.9 444.1L391 443.8L391.2 443.6L391.5 443.8L391.8 443.9L392 444L392.3 444.2L392.5 444L392.6 443.9L392.8 444.2L392.9 444.3L393.2 444.3L393.4 444.4L393.7 444.4L393.8 444.6L394.1 444.5L394.2 444.8L394.4 444.9L394.7 444.9L395 445L395.2 444.9L395.3 444.7L395.6 444.5L395.9 444.6L396 444.4L396.2 444.2L396.4 444L396.5 443.9L396.8 443.9L397 444L397.3 443.9L397.5 443.7L397.6 443.6L397.9 443.7L398.2 443.7L398.3 443.5L398.4 443.3L398.7 442.9L398.8 442.6L399.1 442.5L399.2 442.2L399.3 442L399.4 441.8L399.6 441.6L399.7 441.1L400 440.8L400.1 440.6L400.2 440.4L400.3 440.1L400.5 439.9L400.6 439.8L400.7 439.6L400.9 439.3L401.1 439.1L401.2 438.8L401.5 438.7L401.6 438.4L401.8 438.1L401.9 437.9L402 437.6L402.1 437.4L402.4 437.1L402.6 436.9L402.9 436.7L403 436.5L403.3 436.3L403.5 436.2L403.7 436.1L403.8 435.8L403.9 435.7L404.2 435.5L404.3 435.2L404.6 434.8L404.7 434.6L405 434.4L405.2 434.2L405.3 434L405.5 434.2L405.7 434L405.9 433.9L406 433.8L406.2 433.8L406.5 433.9L406.8 434.2L407 434.3L407.1 434.6L407.4 434.9L407.5 435.1L407.6 435.4L407.8 435.6L407.9 435.8L408 436.1L408.3 436.3L408.4 436.5L408.5 436.6L408.8 436.8L409.1 436.9L409.3 437.1L409.6 437.3L409.8 437.4L410.1 437.6L410.3 437.7L410.6 437.9L410.9 438.1L411.1 438.2L411.4 438.2L411.6 438.5L411.9 438.7L412.1 439L412.4 438.9L412.5 438.7L412.8 438.9L413 439.2L413.3 439.2L413.4 438.9L413.7 438.9L413.9 438.6L414.1 438.2L414.3 438.4L414.4 438.5L414.7 438.1L414.8 437.9L415.1 438.1L415.2 437.8L415.5 437.6L415.6 437.7L415.7 438.1L415.9 438.5L416 439L416.1 439.5L416.2 439.3L416.5 439.6L416.6 440.2L416.8 440.5L416.9 440.9L417 441.6L417.3 441.7L417.4 442L417.5 442.6L417.6 443.3L417.9 443.8L418.2 444L418.3 444.6L418.4 444.4L418.5 444.1L418.7 443.5L418.9 443.7L419.1 443.9L419.2 444L419.4 443.7L419.6 444L419.8 444.9L420 445.3L420.2 445.4L420.3 446.4L420.5 447.1L420.6 446.7L420.7 446.9L420.9 447.4L421 447.3L421.2 447.6L421.4 447.9L421.6 447.7L421.8 447.5L421.9 448L422 447.7L422.3 447.9L422.5 448.1L422.8 448.1L423 447.9L423.2 447.3L423.4 447.5L423.5 448L423.7 447.6L423.8 448L423.9 447.7L424.1 447.2L424.2 447.8L424.4 448L424.7 448.2L425 448.1L425.1 448.2L425.2 448L425.3 447.2L425.5 446.9L425.6 446.5L425.7 447L425.9 447.2L426 446.7L426.1 446.5L426.2 445.6L426.4 445.3L426.5 445.1L426.6 445.3L426.8 445.8L426.9 445.6L427.1 445.8L427.4 445.7L427.5 444.9L427.8 444.8L427.9 444.5L428.2 444.5L428.4 444.3L428.5 443.8L428.7 443.5L428.9 443.3L429.2 443.2L429.3 443.6L429.4 443L429.7 442.5L430 442.4L430.1 442.6L430.2 441.6L430.3 441.5L430.6 441.3L430.7 441.1L430.9 440.9L431.1 440.7L431.2 440.5L431.4 440.3L431.5 440.9L431.8 440.9L431.9 440.5L432 441.1L432.3 441.6L432.4 441.4L432.5 441.7L432.6 441.8L432.8 442.6L432.9 442.4L433.2 442.4L433.3 441.8L433.4 442.3L433.5 441.8L433.7 441.6L433.8 441.7L433.9 442L434.1 441.7L434.3 441.3L434.4 442L434.6 441.2L434.8 441.6L435 441.5L435.1 441.8L435.2 441.3L435.3 441.5L435.5 442L435.6 441.3L435.7 440.9L436 441.2L436.1 441.4L436.2 440.6L436.4 440.8L436.5 440.3L436.6 440L436.8 440.1L436.9 439.9L437 440.4L437.1 440.5L437.4 441.4L437.5 442L437.6 441.6L437.8 441.3L437.9 441.1L438 441.6L438.3 441.8L438.5 441.9L438.7 441.5L438.8 441.3L439.1 440.8L439.2 440.6L439.3 439.9L439.4 440.3L439.7 440.4L439.8 440L440 439.7L440.2 439.7L440.3 439.2L440.6 438.9L440.7 438.5L440.9 438.9L441 438.7L441.2 438.3L441.4 437.9L441.5 438.1L441.6 437.5L441.7 437.8L442 437.7L442.1 438.4L442.3 438.9L442.4 439.7L442.5 440.3L442.6 440.8L442.8 440.7L442.9 440.9L443 441.2L443.2 441.3L443.3 440.8L443.4 441.6L443.7 442L443.8 442.7L443.9 442.2L444.2 442.1L444.4 441.7L444.6 442L444.7 442.2L445 442.5L445.1 442.6L445.2 443.1L445.5 442.9L445.7 443L445.9 442.9L446 442.5L446.1 442.3L446.4 441.7L446.5 442L446.7 442.4L446.9 442L447 441.3L447.1 440.9L447.3 440.7L447.4 440.5L447.6 440.2L447.9 439.5L448 439.3L448.2 439.1L448.3 438.6L448.4 438.2L448.5 437.7L448.7 437.6L448.8 437L448.9 437.2L449.2 436.9L449.4 437L449.7 437.5L449.8 437.3L450.1 437.1L450.3 437L450.6 437L450.7 436.8L451 436.8L451.2 436.7L451.5 436.5L451.7 436.4L452 436.3L452.3 436.7L452.5 436.6L452.8 436.4L453 436.3L453.3 436.1L453.5 436.2L453.7 436L453.9 436.1L454.1 435.6L454.3 435.1L454.4 435.2L454.6 435.9L454.8 436.2L455.1 436.3L455.3 436.4L455.5 436.7L455.7 436.7L456 436.5L456.1 436.9L456.4 436.7L456.6 436.6L456.9 436.5L457.1 436.4L457.3 436.3L457.4 436.4L457.5 436.3L457.8 436.5L458 436.4L458.2 436.6L458.4 436.6L458.7 436.9L458.8 437L459.1 437.1L459.3 437.3L459.4 437.5L459.6 437.7L459.7 438.6L459.8 439.1L460 438.9L460.2 438.7L460.3 439.1L460.5 438.6L460.7 438.8L460.9 439.1L461 439.3L461.1 439.1L461.2 439.4L461.4 439.7L461.5 439.1L461.6 438.8L461.7 439.4L461.9 439.9L462 440.5L462.1 440.2L462.3 440.4L462.4 440.7L462.5 441.1L462.8 441L462.9 441.8L463.2 442.4L463.3 443.7L463.4 444.7L463.7 444.7L463.8 445.4L463.9 446.5L464.1 447.2L464.2 448.1L464.3 448.2L464.4 448.4L464.6 449.1L464.8 449.4L465 449.3L465.1 449L465.3 449.2L465.5 449.3L465.6 449.1L465.7 449L465.9 449.3L466 448.9L466.1 449.1L466.4 448.8L466.5 449L466.6 449.2L466.7 449.3L466.9 449.5L467 449.6L467.1 449.4L467.4 449.4L467.5 449.5L467.6 449.2L467.8 449.3L467.9 448.9L468 449.2L468.2 449L468.3 449.1L468.4 449L468.7 448.8L468.9 448.5L469.2 448.6L469.4 448.6L469.6 448.3L469.7 448.7L470 448.9L470.1 448.5L470.3 448.4L470.6 448.4L470.7 448.6L471 448.6L471.1 448.4L471.2 447.8L471.4 448L471.5 447.8L471.6 448L471.7 447.7L471.9 448L472 447.8L472.1 447.9L472.3 448.2L472.4 447.9L472.6 448.2L472.8 448L472.9 448.2L473 448.7L473.3 448.7L473.4 448.3L473.5 448.5L473.7 448.3L473.8 448.6L473.9 448.3L474.1 448L474.3 448L474.4 447.6L474.6 447.4L474.7 447L474.8 446.6L475 446.5L475.1 446.2L475.2 446L475.3 445.2L475.6 444.4L475.9 444.1L476 443.2L476.1 442.9L476.2 442.7L476.4 442.3L476.5 441.8L476.6 441.3L476.7 440.9L476.9 440.4L477 440L477.1 440.2L477.3 440L477.4 439.8L477.5 439.5L477.6 439.3L477.8 439.5L477.9 438.6L478 438.4L478.2 438.1L478.3 437.6L478.4 437.4L478.5 437.1L478.7 436.9L478.8 436.8L478.9 436.5L479.1 436.2L479.2 436.1L479.3 435.8L479.6 435.5L479.7 435.7L479.8 434.9L480 434.7L480.1 434.5L480.3 434.2L480.5 434.1L480.7 433.7L480.9 434L481 433.4L481.1 432.7L481.2 432.3L481.4 432L481.6 432.2L481.7 432.5L482 432.4L482.1 432.8L482.3 433.2L482.4 433.5L482.5 433.9L482.6 433.6L482.8 434L482.9 435.1L483 435.4L483.2 435.7L483.3 436.1L483.5 436.1L483.7 436.6L483.9 436.7L484.2 436.6L484.3 436.8L484.4 437.4L484.6 437.9L484.7 438.2L484.8 438.3L485 438.7L485.1 438.5L485.2 438.9L485.3 439.2L485.5 439L485.6 439.4L485.7 439.1L485.9 439.4L486.1 439.4L486.2 438.9L486.5 438.7L486.7 438.3L486.9 438L487 438.1L487.1 437.5L487.3 437.3L487.4 437.6L487.5 438.1L487.6 437.3L487.8 437.5L487.9 437.3L488.2 437.1L488.3 437.2L488.4 437.5L488.5 437.9L488.7 438.2L488.9 439.3L489.1 439.4L489.2 439.9L489.4 440.5L489.6 441.1L489.7 441.3L489.8 441.7L490 442.1L490.1 442.4L490.2 443.1L490.3 443.3L490.5 444.6L490.6 445.2" fill="none" stroke="#ff1cf6" stroke-width="1.15" stroke-linejoin="round" />
<path d="M126.5 442.6L126.6 442.7L126.9 442.9L127.1 442.9L127.4 442.8L127.7 442.6L127.8 442.4L127.9 442.3L128 442.1L128.2 441.9L128.3 441.6L128.4 441.4L128.6 441.1L128.7 440.8L128.8 440.5L128.9 440.2L129.1 439.8L129.2 439.5L129.3 439.1L129.4 438.7L129.6 438.3L129.7 438L129.8 437.6L130 437.2L130.1 436.9L130.2 436.6L130.3 436.3L130.5 436L130.6 435.7L130.7 435.4L130.9 435.1L131 434.8L131.1 434.5L131.2 434.1L131.4 433.7L131.5 433.3L131.6 433L131.8 432.5L131.9 432.1L132 431.7L132.1 431.3L132.3 430.9L132.4 430.5L132.5 430.2L132.7 429.8L132.8 429.4L132.9 429.1L133 428.8L133.2 428.6L133.4 428.6L133.7 428.6L133.9 428.6L134.2 428.6L134.4 428.6L134.7 428.6L134.8 428.9L135 429.2L135.1 429.7L135.2 430.2L135.3 430.8L135.5 431.3L135.6 431.9L135.7 432.4L135.9 433L136 433.5L136.1 434.1L136.2 434.6L136.4 435.1L136.5 435.5L136.6 435.9L136.8 436.4L136.9 436.8L137 437.2L137.1 437.6L137.3 438L137.4 438.4L137.5 438.8L137.7 439.2L137.8 439.5L137.9 439.9L138 440.3L138.2 440.6L138.3 440.9L138.4 441.3L138.6 441.6L138.7 441.9L138.8 442.2L138.9 442.5L139.1 442.7L139.2 443L139.3 443.2L139.4 443.4L139.6 443.6L139.7 443.7L139.8 443.9L140 444.1L140.1 444.2L140.2 444.4L140.3 444.5L140.5 444.6L140.6 444.8L140.7 444.9L140.9 445L141 445.1L141.2 445.3L141.5 445.5L141.8 445.7L142 445.9L142.3 446.1L142.5 446.2L142.8 446.4L143 446.5L143.3 446.6L143.6 446.8L143.8 446.9L144.1 447L144.3 447.1L144.6 447.2L144.8 447.3L145.1 447.4L145.3 447.5L145.6 447.7L145.9 447.8L146.1 447.9L146.4 448L146.6 448.1L146.9 448.2L147.1 448.3L147.4 448.4L147.7 448.6L147.9 448.7L148.2 448.8L148.4 448.9L148.7 449.1L148.9 449.2L149.2 449.3L149.4 449.4L149.7 449.5L150 449.6L150.2 449.7L150.5 449.8L150.7 449.9L151 450L151.2 450.1L151.5 450.2L151.8 450.3L152 450.4L152.3 450.5L152.5 450.6L152.8 450.7L153 450.8L153.3 450.9L153.6 451L153.8 451.1L154.1 451.2L154.3 451.3L154.6 451.4L154.8 451.5L155.1 451.5L155.3 451.6L155.6 451.7L155.9 451.7L156.1 451.8L156.4 451.9L156.6 451.9L156.9 452L157.1 452L157.4 452L157.7 452.1L157.9 452.1L158.2 452.1L158.4 452.1L158.7 452.1L158.9 451.8L159.1 451.7L159.2 451.5L159.3 451.2L159.4 451L159.6 450.7L159.7 450.4L159.8 450.1L160 449.7L160.1 449.3L160.2 448.9L160.3 448.5L160.5 448L160.6 447.6L160.7 447.2L160.9 446.8L161 446.4L161.1 446L161.2 445.6L161.4 445.1L161.5 444.7L161.6 444.2L161.8 443.7L161.9 443.2L162 442.6L162.1 442L162.3 441.4L162.4 440.9L162.5 440.3L162.7 439.7L162.8 439.2L162.9 438.7L163 438.3L163.2 437.8L163.3 437.5L163.4 437.2L163.6 436.9L163.7 436.8L163.9 436.8L164.2 437L164.3 437.1L164.4 437.3L164.6 437.5L164.7 437.7L164.8 437.9L165 438.2L165.1 438.4L165.2 438.7L165.3 439L165.5 439.4L165.6 439.7L165.7 440L165.9 440.3L166 440.7L166.1 441L166.2 441.4L166.4 441.7L166.5 442.1L166.6 442.5L166.8 442.8L166.9 443.2L167 443.6L167.1 443.9L167.3 444.1L167.4 444.4L167.5 444.7L167.7 444.9L167.8 445.2L167.9 445.4L168 445.6L168.2 445.8L168.3 446L168.4 446.2L168.5 446.4L168.7 446.6L168.8 446.8L168.9 447.1L169.1 447.3L169.2 447.6L169.3 447.8L169.4 448.1L169.6 448.4L169.7 448.6L169.8 448.9L170 449.2L170.1 449.4L170.2 449.7L170.3 449.9L170.5 450.1L170.6 450.4L170.7 450.6L170.9 450.8L171 451L171.1 451.2L171.2 451.3L171.4 451.5L171.5 451.6L171.6 451.7L171.9 451.9L172.1 452.1L172.4 452.1L172.7 452L172.8 451.9L172.9 451.7L173 451.5L173.2 451.3L173.3 451.1L173.4 450.8L173.5 450.5L173.7 450.2L173.8 449.8L173.9 449.4L174.1 449.1L174.2 448.7L174.3 448.3L174.4 447.9L174.6 447.4L174.7 447L174.8 446.7L175 446.3L175.1 446L175.2 445.7L175.3 445.3L175.5 445L175.6 444.7L175.7 444.4L175.9 444.1L176 443.7L176.1 443.3L176.2 442.9L176.4 442.5L176.5 442L176.6 441.6L176.8 441.1L176.9 440.7L177 440.2L177.1 439.8L177.3 439.3L177.4 438.9L177.5 438.5L177.7 438.1L177.8 437.7L177.9 437.3L178 437L178.2 436.8L178.3 436.6L178.4 436.4L178.5 436.3L178.8 436.3L179.1 436.4L179.2 436.5L179.3 436.7L179.4 436.9L179.6 437.2L179.7 437.6L179.8 437.9L180 438.3L180.1 438.8L180.2 439.2L180.3 439.6L180.5 440.1L180.6 440.5L180.7 440.9L180.9 441.3L181 441.7L181.1 442.1L181.2 442.4L181.4 442.7L181.5 443L181.6 443.3L181.8 443.5L181.9 443.8L182 444.1L182.1 444.4L182.3 444.7L182.4 445L182.5 445.3L182.7 445.6L182.8 445.9L182.9 446.2L183 446.4L183.2 446.6L183.3 446.8L183.4 447L183.5 447.2L183.7 447.4L183.8 447.5L184.1 447.6L184.3 447.6L184.4 447.4L184.6 447.1L184.7 446.9L184.8 446.6L185 446.2L185.1 445.8L185.2 445.4L185.3 445L185.5 444.5L185.6 444.1L185.7 443.6L185.9 443.2L186 442.8L186.1 442.4L186.2 442L186.4 441.7L186.5 441.3L186.6 440.9L186.8 440.5L186.9 440L187 439.5L187.1 439L187.3 438.6L187.4 438.1L187.5 437.7L187.7 437.3L187.8 437L187.9 436.7L188 436.5L188.2 436.4L188.4 436.3L188.7 436.3L188.9 436.6L189.1 436.7L189.2 436.9L189.3 437.1L189.4 437.4L189.6 437.7L189.7 438L189.8 438.4L190 438.8L190.1 439.2L190.2 439.6L190.3 440L190.5 440.5L190.6 440.9L190.7 441.4L190.9 441.8L191 442.3L191.1 442.7L191.2 443.2L191.4 443.7L191.5 444.1L191.6 444.6L191.8 445.1L191.9 445.5L192 446L192.1 446.4L192.3 446.8L192.4 447.3L192.5 447.7L192.7 448.2L192.8 448.6L192.9 449L193 449.4L193.2 449.8L193.3 450.1L193.4 450.4L193.5 450.8L193.7 451.1L193.8 451.5L193.9 451.8L194.1 452.2L194.2 452.5L194.3 452.8L194.4 453.1L194.6 453.5L194.7 453.8L194.8 454.1L195 454.4L195.1 454.8L195.2 455.1L195.3 455.4L195.5 455.7L195.6 456L195.7 456.2L195.9 456.4L196 456.6L196.1 456.8L196.2 457L196.4 457.1L196.5 457.3L196.6 457.5L196.8 457.6L196.9 457.8L197 457.9L197.1 458L197.3 458.2L197.5 458.4L197.8 458.5L198 458.7L198.3 458.7L198.5 458.8L198.8 458.7L199.1 458.6L199.3 458.3L199.4 458.2L199.6 458L199.7 457.9L199.8 457.7L200 457.5L200.1 457.3L200.2 457.1L200.3 456.9L200.5 456.7L200.6 456.5L200.7 456.3L200.9 456L201 455.7L201.1 455.4L201.2 455.1L201.4 454.8L201.5 454.6L201.6 454.3L201.8 454.1L201.9 453.9L202 453.6L202.1 453.4L202.3 453.1L202.4 452.9L202.5 452.6L202.7 452.4L202.8 452.1L202.9 451.9L203 451.6L203.2 451.3L203.3 451.1L203.4 450.8L203.5 450.6L203.7 450.4L203.8 450.3L203.9 450.1L204.1 450L204.3 449.9L204.6 449.9L204.8 450L205.1 450.2L205.2 450.4L205.3 450.5L205.5 450.7L205.6 450.9L205.7 451.1L205.9 451.3L206 451.6L206.1 451.8L206.2 452L206.4 452.3L206.5 452.5L206.6 452.7L206.8 452.9L206.9 453.2L207 453.4L207.1 453.6L207.3 453.8L207.4 454L207.5 454.2L207.7 454.3L207.8 454.5L207.9 454.6L208 454.7L208.3 454.9L208.5 455.1L208.8 455.1L209.1 455.1L209.3 454.9L209.4 454.8L209.6 454.6L209.7 454.4L209.8 454.1L210 453.9L210.1 453.6L210.2 453.3L210.3 452.9L210.5 452.6L210.6 452.2L210.7 451.8L210.9 451.4L211 451L211.1 450.6L211.2 450.1L211.4 449.7L211.5 449.3L211.6 448.9L211.8 448.6L211.9 448.2L212 447.8L212.1 447.3L212.3 446.9L212.4 446.5L212.5 446L212.7 445.6L212.8 445.2L212.9 444.8L213 444.4L213.2 444L213.3 443.7L213.4 443.4L213.5 443.1L213.7 442.9L213.8 442.8L214.1 442.7L214.3 443L214.4 443.2L214.6 443.4L214.7 443.7L214.8 444.1L215 444.4L215.1 444.8L215.2 445.2L215.3 445.6L215.5 446L215.6 446.4L215.7 446.8L215.9 447.2L216 447.5L216.1 447.9L216.2 448.3L216.4 448.7L216.5 449.2L216.6 449.7L216.8 450.2L216.9 450.7L217 451.2L217.1 451.7L217.3 452.1L217.4 452.5L217.5 452.9L217.7 453.3L217.8 453.7L217.9 454L218 454.3L218.2 454.6L218.3 454.8L218.4 454.9L218.5 455.1L218.8 455.2L219.1 454.8L219.2 454.4L219.3 453.9L219.4 453.3L219.6 452.7L219.7 452L219.8 451.2L220 450.4L220.1 449.6L220.2 448.8L220.3 448.1L220.5 447.5L220.6 446.9L220.7 446.4L220.9 445.8L221 445.2L221.1 444.6L221.2 444L221.4 443.4L221.5 442.9L221.6 442.4L221.8 441.9L221.9 441.6L222 441.3L222.1 441.2L222.4 441.2L222.5 441.4L222.7 441.7L222.8 442.1L222.9 442.6L223 443.1L223.2 443.7L223.3 444.3L223.4 445L223.5 445.6L223.7 446.1L223.8 446.7L223.9 447.2L224.1 447.6L224.2 448.1L224.3 448.5L224.4 448.9L224.6 449.4L224.7 449.8L224.8 450.3L225 450.7L225.1 451.2L225.2 451.6L225.3 452L225.5 452.3L225.6 452.7L225.7 453L225.9 453.3L226 453.5L226.1 453.8L226.2 454L226.4 454.1L226.5 454.3L226.8 454.4L227 454.2L227.1 453.9L227.3 453.5L227.4 453L227.5 452.5L227.7 451.9L227.8 451.2L227.9 450.5L228 449.7L228.2 449L228.3 448.4L228.4 447.8L228.5 447.2L228.7 446.7L228.8 446.1L228.9 445.5L229.1 444.9L229.2 444.3L229.3 443.8L229.4 443.2L229.6 442.7L229.7 442.2L229.8 441.8L230 441.5L230.1 441.3L230.3 441.2L230.5 441.4L230.6 441.6L230.7 442L230.9 442.5L231 443L231.1 443.6L231.2 444.2L231.4 444.8L231.5 445.4L231.6 446L231.8 446.5L231.9 447L232 447.5L232.1 447.8L232.3 448.2L232.4 448.5L232.5 448.9L232.7 449.2L232.8 449.6L232.9 449.9L233 450.2L233.2 450.5L233.3 450.8L233.4 451.1L233.5 451.4L233.7 451.7L233.8 452L233.9 452.2L234.1 452.4L234.2 452.6L234.3 452.7L234.4 452.9L234.6 453L234.8 453.1L235.1 453.2L235.3 453L235.5 452.8L235.6 452.6L235.7 452.2L235.9 451.9L236 451.4L236.1 451L236.2 450.5L236.4 450L236.5 449.5L236.6 449L236.8 448.5L236.9 448L237 447.6L237.1 447.2L237.3 446.7L237.4 446.2L237.5 445.7L237.7 445.2L237.8 444.7L237.9 444.2L238 443.8L238.2 443.3L238.3 442.9L238.4 442.6L238.5 442.4L238.7 442.2L238.9 442.2L239.1 442.4L239.2 442.6L239.3 443L239.4 443.4L239.6 443.8L239.7 444.3L239.8 444.9L240 445.4L240.1 445.9L240.2 446.4L240.3 446.8L240.5 447.2L240.6 447.6L240.7 447.9L240.9 448.2L241 448.6L241.1 448.9L241.2 449.2L241.4 449.5L241.5 449.8L241.6 450.2L241.8 450.5L241.9 450.8L242 451L242.1 451.3L242.3 451.6L242.4 451.8L242.5 452.1L242.7 452.3L242.8 452.5L242.9 452.7L243 452.8L243.2 453L243.3 453.1L243.5 453.2L243.8 453.3L244.1 453.3L244.2 453.1L244.3 453L244.4 452.7L244.6 452.5L244.7 452.2L244.8 451.8L245 451.4L245.1 451L245.2 450.5L245.3 450.1L245.5 449.6L245.6 449.2L245.7 448.7L245.9 448.3L246 447.9L246.1 447.6L246.2 447.1L246.4 446.8L246.5 446.3L246.6 445.9L246.8 445.5L246.9 445L247 444.6L247.1 444.2L247.3 443.9L247.4 443.5L247.5 443.3L247.7 443.1L247.8 443L248 443L248.2 443.1L248.3 443.4L248.4 443.6L248.5 444L248.7 444.3L248.8 444.7L248.9 445.2L249.1 445.6L249.2 446L249.3 446.5L249.4 446.9L249.6 447.3L249.7 447.7L249.8 448L250 448.4L250.1 448.9L250.2 449.3L250.3 449.7L250.5 450.2L250.6 450.6L250.7 451.1L250.9 451.5L251 452L251.1 452.4L251.2 452.7L251.4 453.1L251.5 453.4L251.6 453.7L251.8 453.9L251.9 454.1L252 454.3L252.1 454.5L252.4 454.6L252.7 454.4L252.8 454L252.9 453.6L253 453.1L253.2 452.5L253.3 451.8L253.4 451.1L253.5 450.3L253.7 449.6L253.8 448.9L253.9 448.3L254.1 447.8L254.2 447.3L254.3 446.8L254.4 446.3L254.6 445.9L254.7 445.4L254.8 445L255 444.5L255.1 444.1L255.2 443.8L255.3 443.4L255.5 443.1L255.6 442.9L255.7 442.8L256 442.7L256.2 443L256.4 443.3L256.5 443.6L256.6 444L256.8 444.4L256.9 444.8L257 445.3L257.1 445.7L257.3 446.2L257.4 446.6L257.5 447L257.7 447.5L257.8 447.9L257.9 448.3L258 448.7L258.2 449.2L258.3 449.7L258.4 450.2L258.5 450.6L258.7 451.1L258.8 451.6L258.9 452.1L259.1 452.5L259.2 452.9L259.3 453.3L259.4 453.7L259.6 454L259.7 454.3L259.8 454.5L260 454.8L260.1 454.9L260.2 455.1L260.5 455.1L260.6 455L260.7 454.7L260.9 454.3L261 453.8L261.1 453.2L261.2 452.5L261.4 451.8L261.5 451L261.6 450.2L261.8 449.4L261.9 448.7L262 448L262.1 447.5L262.3 446.9L262.4 446.4L262.5 445.8L262.7 445.3L262.8 444.7L262.9 444.2L263 443.7L263.2 443.2L263.3 442.8L263.4 442.4L263.5 442.1L263.7 441.9L263.8 441.7L264.1 441.8L264.2 442L264.3 442.3L264.4 442.6L264.6 443.1L264.7 443.6L264.8 444.1L265 444.6L265.1 445.2L265.2 445.8L265.3 446.3L265.5 446.8L265.6 447.2L265.7 447.7L265.9 448.1L266 448.5L266.1 449L266.2 449.4L266.4 449.9L266.5 450.3L266.6 450.8L266.8 451.2L266.9 451.6L267 452.1L267.1 452.4L267.3 452.7L267.4 453L267.5 453.3L267.7 453.6L267.8 453.8L267.9 453.9L268 454.1L268.3 454.2L268.5 453.8L268.7 453.4L268.8 452.9L268.9 452.4L269.1 451.7L269.2 450.9L269.3 450.2L269.4 449.4L269.6 448.7L269.7 448L269.8 447.5L270 446.9L270.1 446.3L270.2 445.7L270.3 445.1L270.5 444.5L270.6 443.9L270.7 443.3L270.9 442.7L271 442.2L271.1 441.8L271.2 441.5L271.4 441.2L271.5 441.1L271.8 441.1L271.9 441.4L272 441.7L272.1 442.2L272.3 442.7L272.4 443.3L272.5 443.9L272.7 444.5L272.8 445.1L272.9 445.7L273 446.3L273.2 446.8L273.3 447.3L273.4 447.7L273.5 448L273.7 448.4L273.8 448.7L273.9 449.1L274.1 449.4L274.2 449.7L274.3 450.1L274.4 450.4L274.6 450.7L274.7 451L274.8 451.3L275 451.5L275.1 451.8L275.2 452L275.3 452.2L275.5 452.4L275.6 452.6L275.7 452.7L275.9 452.8L276.1 453L276.4 453.1L276.6 453L276.8 452.8L276.9 452.6L277 452.3L277.1 452L277.3 451.6L277.4 451.1L277.5 450.7L277.7 450.2L277.8 449.7L277.9 449.2L278 448.7L278.2 448.2L278.3 447.8L278.4 447.3L278.5 446.8L278.7 446.3L278.8 445.8L278.9 445.2L279.1 444.6L279.2 444.1L279.3 443.5L279.4 443L279.6 442.5L279.7 442.1L279.8 441.8L280 441.5L280.1 441.4L280.3 441.6L280.5 441.8L280.6 442.2L280.7 442.6L280.9 443.1L281 443.6L281.1 444.2L281.2 444.8L281.4 445.4L281.5 446L281.6 446.5L281.8 447L281.9 447.4L282 447.8L282.1 448.2L282.3 448.6L282.4 449L282.5 449.4L282.7 449.8L282.8 450.2L282.9 450.6L283 451L283.2 451.4L283.3 451.7L283.4 452L283.5 452.3L283.7 452.6L283.8 452.8L283.9 453L284.1 453.2L284.2 453.3L284.4 453.5L284.7 453.4L284.8 453.2L285 452.9L285.1 452.5L285.2 452L285.3 451.4L285.5 450.7L285.6 450.1L285.7 449.4L285.9 448.8L286 448.2L286.1 447.7L286.2 447.2L286.4 446.8L286.5 446.3L286.6 445.8L286.8 445.3L286.9 444.9L287 444.4L287.1 444L287.3 443.6L287.4 443.2L287.5 442.9L287.7 442.7L287.8 442.5L288 442.5L288.2 442.6L288.3 442.8L288.4 443.1L288.5 443.5L288.7 443.9L288.8 444.3L288.9 444.8L289.1 445.3L289.2 445.7L289.3 446.2L289.4 446.7L289.6 447.1L289.7 447.5L289.8 447.9L290 448.3L290.1 448.7L290.2 449.1L290.3 449.6L290.5 450L290.6 450.5L290.7 450.9L290.9 451.3L291 451.8L291.1 452.2L291.2 452.5L291.4 452.9L291.5 453.2L291.6 453.5L291.8 453.8L291.9 454L292 454.3L292.1 454.4L292.3 454.6L292.5 454.8L292.8 454.7L292.9 454.5L293 454.2L293.2 453.8L293.3 453.3L293.4 452.7L293.5 452.1L293.7 451.5L293.8 450.8L293.9 450.1L294.1 449.4L294.2 448.8L294.3 448.2L294.4 447.7L294.6 447.2L294.7 446.8L294.8 446.4L295 445.9L295.1 445.5L295.2 445.1L295.3 444.7L295.5 444.3L295.6 443.9L295.7 443.6L295.9 443.4L296 443.2L296.1 443L296.4 443L296.5 443.1L296.6 443.3L296.8 443.6L296.9 443.9L297 444.3L297.1 444.6L297.3 445.1L297.4 445.5L297.5 445.9L297.7 446.4L297.8 446.8L297.9 447.1L298 447.5L298.2 447.9L298.3 448.3L298.4 448.6L298.5 449L298.7 449.4L298.8 449.8L298.9 450.2L299.1 450.6L299.2 451L299.3 451.4L299.4 451.8L299.6 452.2L299.7 452.5L299.8 452.9L300 453.2L300.1 453.5L300.2 453.8L300.3 454L300.5 454.3L300.6 454.5L300.7 454.6L300.9 454.8L301 454.9L301.2 455.1L301.5 455L301.6 454.8L301.8 454.6L301.9 454.3L302 454L302.1 453.5L302.3 453.1L302.4 452.6L302.5 452.1L302.7 451.5L302.8 450.9L302.9 450.3L303 449.7L303.2 449.1L303.3 448.6L303.4 448.1L303.5 447.6L303.7 447.1L303.8 446.7L303.9 446.2L304.1 445.8L304.2 445.3L304.3 444.8L304.4 444.3L304.6 443.9L304.7 443.5L304.8 443.1L305 442.9L305.1 442.6L305.2 442.5L305.5 442.5L305.6 442.6L305.7 442.9L305.9 443.2L306 443.6L306.1 444L306.2 444.5L306.4 445L306.5 445.5L306.6 445.9L306.8 446.4L306.9 446.8L307 447.2L307.1 447.6L307.3 447.9L307.4 448.2L307.5 448.6L307.6 448.9L307.8 449.2L307.9 449.6L308 449.9L308.2 450.2L308.3 450.5L308.4 450.8L308.5 451.1L308.7 451.4L308.8 451.7L308.9 452L309.1 452.2L309.2 452.5L309.3 452.7L309.4 452.9L309.6 453.1L309.7 453.3L309.8 453.4L310 453.5L310.1 453.7L310.3 453.8L310.6 453.9L310.9 453.9L311.1 453.6L311.2 453.5L311.4 453.2L311.5 453L311.6 452.7L311.8 452.4L311.9 452L312 451.6L312.1 451.2L312.3 450.7L312.4 450.3L312.5 449.8L312.6 449.4L312.8 448.9L312.9 448.5L313 448L313.2 447.6L313.3 447.1L313.4 446.7L313.5 446.1L313.7 445.6L313.8 445L313.9 444.4L314.1 443.8L314.2 443.3L314.3 442.8L314.4 442.3L314.6 441.9L314.7 441.7L314.8 441.5L315.1 441.5L315.2 441.7L315.3 442L315.5 442.4L315.6 442.9L315.7 443.4L315.9 444L316 444.6L316.1 445.2L316.2 445.8L316.4 446.3L316.5 446.8L316.6 447.2L316.8 447.6L316.9 447.9L317 448.2L317.1 448.5L317.3 448.8L317.4 449.1L317.5 449.4L317.6 449.6L317.8 449.9L317.9 450.2L318 450.4L318.2 450.7L318.3 450.9L318.4 451.2L318.5 451.4L318.7 451.6L318.8 451.8L318.9 452.1L319.1 452.3L319.2 452.4L319.3 452.6L319.4 452.7L319.6 452.8L319.8 453L320.1 453.1L320.3 453.1L320.6 452.9L320.7 452.7L320.9 452.5L321 452.3L321.1 452L321.2 451.7L321.4 451.4L321.5 451L321.6 450.7L321.8 450.3L321.9 449.9L322 449.6L322.1 449.2L322.3 448.8L322.4 448.4L322.5 448L322.6 447.5L322.8 446.9L322.9 446.3L323 445.7L323.2 445.1L323.3 444.6L323.4 444L323.5 443.6L323.7 443.2L323.8 443L324.1 442.9L324.2 443.1L324.3 443.5L324.4 443.9L324.6 444.4L324.7 445L324.8 445.6L325 446.2L325.1 446.8L325.2 447.5L325.3 448.1L325.5 448.6L325.6 449.1L325.7 449.5L325.9 449.9L326 450.3L326.1 450.6L326.2 450.9L326.4 451.3L326.5 451.6L326.6 451.9L326.8 452.2L326.9 452.4L327 452.7L327.1 452.9L327.3 453.1L327.4 453.3L327.5 453.6L327.6 453.8L327.8 454L327.9 454.2L328 454.5L328.2 454.7L328.3 454.9L328.4 455.1L328.5 455.4L328.7 455.6L328.8 455.8L328.9 456L329.1 456.2L329.2 456.3L329.3 456.5L329.4 456.6L329.6 456.7L329.7 456.8L330 457L330.2 457.2L330.5 457.3L330.7 457.4L331 457.4L331.2 457.4L331.5 457.3L331.8 457.2L332 457.1L332.3 456.9L332.5 456.7L332.8 456.5L332.9 456.4L333 456.3L333.2 456.1L333.3 455.9L333.4 455.7L333.5 455.5L333.7 455.3L333.8 455.1L333.9 454.9L334.1 454.7L334.2 454.4L334.3 454.2L334.4 453.9L334.6 453.6L334.7 453.4L334.8 453.3L335 453L335.1 452.6L335.2 452.4L335.3 452L335.5 451.7L335.6 451.3L335.7 451L335.9 450.8L336 450.4L336.1 450.1L336.2 449.9L336.4 449.4L336.5 448.9L336.6 448.4L336.8 448L336.9 447.9L337 447.3L337.1 447L337.3 446.5L337.4 446.4L337.5 446.2L337.6 445.9L337.8 445.5L337.9 445.2L338 445L338.2 444.8L338.3 444.4L338.4 444.1L338.5 443.6L338.7 443.1L338.8 442.8L338.9 442.5L339.1 442.1L339.2 441.7L339.3 441.2L339.4 440.7L339.7 440.4L340 440.2L340.2 440.5L340.3 440.7L340.6 441L340.9 441.2L341 441.6L341.1 441.9L341.2 442.1L341.4 442.5L341.5 442.9L341.6 443L341.8 443.2L342 443.4L342.1 443.6L342.3 443.8L342.5 443.9L342.6 444.1L342.8 443.9L342.9 444.1L343 444.3L343.3 444.3L343.5 444.4L343.8 444.3L344.1 444.1L344.3 444.2L344.4 443.9L344.6 443.6L344.8 443.3L345 443L345.1 442.8L345.2 442.6L345.3 442.4L345.5 442.2L345.6 441.8L345.9 441.6L346 441.2L346.1 441.1L346.2 441L346.5 440.7L346.6 440.5L346.9 440.1L347 440L347.1 439.8L347.3 439.7L347.5 439.4L347.8 439.5L348 439.3L348.2 439.5L348.4 439.8L348.7 439.9L348.9 440.1L349.1 440.4L349.2 440.7L349.3 440.8L349.6 441.1L349.8 441.6L350 441.7L350.1 442.2L350.3 442.1L350.5 442.4L350.6 442.6L350.9 442.5L351 442.8L351.1 443.1L351.2 443.2L351.4 443.4L351.5 443.6L351.8 443.7L352 443.9L352.1 444.2L352.4 444.3L352.5 444.5L352.6 445L352.8 444.7L353 444.8L353.3 444.9L353.5 445L353.8 445.2L354.1 445.3L354.2 445.5L354.4 445.3L354.6 445.6L354.7 445.9L354.8 446.1L355.1 446.1L355.2 446.4L355.5 446.4L355.6 446.5L355.7 446.9L355.9 447.1L356 447.2L356.1 447.5L356.2 447.6L356.5 447.4L356.6 447.5L356.8 447.3L356.9 447.5L357.1 447.8L357.3 448.1L357.5 447.8L357.6 447.5L357.8 447.3L358 447.3L358.2 447.6L358.3 447.7L358.5 448.2L358.7 448.4L358.9 448.5L359.2 448.8L359.3 448.9L359.4 449L359.6 449.5L359.7 449.8L359.8 450L360 450.2L360.2 450.4L360.5 450.5L360.7 450.8L361 450.6L361.2 450.9L361.4 450.6L361.6 450.6L361.8 450.5L362 450.6L362.1 450.4L362.4 450.5L362.5 450.4L362.6 450.2L362.8 450.4L362.9 450.2L363.2 450.3L363.4 450.3L363.7 450.2L363.8 450.3L364.1 450.5L364.2 450.3L364.4 450.4L364.7 450.4L365 450.2L365.1 449.7L365.2 449.4L365.5 449L365.6 448.5L365.7 448.2L366 447.9L366.1 447.7L366.2 447.1L366.4 446.9L366.5 446.6L366.6 446.4L366.8 446.1L367 445.9L367.1 445.6L367.3 445.4L367.4 445.2L367.5 445L367.6 444.6L367.8 444.4L367.9 444.3L368.2 443.7L368.4 443.5L368.5 443.3L368.7 442.8L368.8 442.3L368.9 442L369.1 441.5L369.2 441.3L369.3 440.9L369.4 440.8L369.6 440.5L369.7 440L369.8 439.8L370.1 439.5L370.2 439L370.3 438.6L370.5 438.2L370.6 437.9L370.9 438.2L371 437.9L371.1 437.7L371.2 437.5L371.5 437.6L371.6 437.4L371.8 437.3L371.9 437.1L372.1 437.4L372.3 437.7L372.5 437.9L372.8 438.1L372.9 438.2L373.2 438.4L373.3 438.6L373.4 438.7L373.5 439L373.7 439.3L373.8 439.6L373.9 439.8L374.1 440L374.2 440.4L374.3 440.6L374.6 441.1L374.7 441.4L375 441.6L375.1 441.7L375.2 442L375.5 442.3L375.6 442.5L375.7 442.7L375.9 443.1L376 443.4L376.1 443.6L376.2 444L376.4 443.9L376.5 444.2L376.6 444.8L376.8 445L376.9 445.2L377 445.4L377.1 445.6L377.3 445.9L377.4 446.4L377.5 446.6L377.8 446.7L377.9 447L378.2 447.3L378.3 447.5L378.5 447.6L378.7 447.8L378.9 447.9L379.2 447.5L379.4 447.4L379.7 447L379.8 446.8L380.1 446.6L380.3 446.5L380.5 446.2L380.7 446.1L381 445.7L381.1 445.6L381.4 445.7L381.6 445.5L381.8 445.4L381.9 445.2L382 445L382.1 444.9L382.3 444.7L382.5 444.6L382.6 444.5L382.8 444.7L383 444.5L383.3 444.5L383.4 444.7L383.7 444.9L383.9 445.1L384.2 445.5L384.3 445.7L384.4 446L384.7 446.2L385 446.3L385.1 446.4L385.3 446.3L385.5 446.6L385.6 446.8L385.9 447.1L386 447L386.2 446.7L386.4 446.9L386.6 447L386.8 447.2L387 447.3L387.3 447.4L387.4 447.2L387.6 447.5L387.8 447.3L387.9 447.4L388.2 447.3L388.3 447.4L388.4 447L388.7 447.1L388.9 446.9L389.2 447L389.3 446.8L389.6 446.8L389.7 446.6L390 446.7L390.2 446.9L390.3 446.7L390.6 446.8L390.7 447L390.9 447.1L391 446.8L391.2 446.7L391.5 446.8L391.8 446.9L392 447L392.3 447.2L392.5 447L392.6 446.9L392.8 447.2L392.9 447.4L393.2 447.4L393.4 447.5L393.7 447.5L393.8 447.7L394.1 447.6L394.2 448L394.3 448.1L394.6 448.1L394.8 448.3L395 448.2L395.2 448.1L395.3 447.9L395.6 447.6L395.9 447.7L396 447.5L396.2 447.2L396.4 447L396.5 446.9L396.8 446.9L397 447L397.3 446.9L397.5 446.8L397.6 446.6L397.9 446.7L398.2 446.7L398.3 446.5L398.4 446.4L398.7 445.9L398.8 445.7L399.1 445.6L399.2 445.3L399.3 445.1L399.4 444.9L399.6 444.7L399.7 444.2L400 444L400.1 443.7L400.2 443.5L400.3 443.2L400.5 443L400.6 442.8L400.7 442.7L400.9 442.3L401.1 442.1L401.2 441.9L401.5 441.7L401.6 441.5L401.8 441.1L401.9 441L402 440.7L402.1 440.4L402.4 440.1L402.5 439.8L402.6 439.5L402.8 439.3L402.9 439L403 438.4L403.2 438.3L403.3 437.8L403.5 437.4L403.7 437.1L403.8 436.8L403.9 436.6L404.2 436.5L404.3 436.2L404.6 435.7L404.7 435.6L405 435.3L405.2 435.1L405.3 434.9L405.5 435.1L405.7 434.9L405.9 434.8L406 434.6L406.2 434.6L406.5 434.8L406.8 435L407 435.2L407.1 435.5L407.4 435.8L407.5 436.1L407.6 436.3L407.8 436.5L407.9 436.8L408 437.2L408.2 437.5L408.3 437.8L408.4 438.3L408.5 438.6L408.7 438.9L408.8 439.2L408.9 439.4L409.1 439.6L409.2 439.9L409.3 440L409.6 440.3L409.8 440.4L410.1 440.6L410.3 440.8L410.6 440.9L410.9 441.1L411.1 441.2L411.4 441.3L411.6 441.6L411.9 441.8L412.1 442L412.4 442L412.5 441.8L412.8 441.9L413 442.3L413.3 442.2L413.4 442L413.7 442L413.9 441.7L414.1 441.3L414.3 441.4L414.4 441.6L414.7 441.2L414.8 441L415.1 441.1L415.2 440.8L415.5 440.6L415.6 440.8L415.7 441.1L415.9 441.5L416 442.1L416.1 442.6L416.2 442.4L416.5 442.7L416.6 443.4L416.8 443.6L416.9 444.1L417 444.7L417.3 444.9L417.4 445.2L417.5 445.7L417.6 446.4L417.9 446.8L418.2 447L418.3 447.7L418.4 447.5L418.5 447.1L418.7 446.5L418.9 446.7L419.1 446.9L419.2 447L419.4 446.8L419.6 447.1L419.8 448.2L420 448.7L420.1 448.6L420.2 448.8L420.3 450.1L420.5 451.1L420.6 450.6L420.7 450.8L420.9 451.5L421 451.3L421.1 451.1L421.2 451.6L421.4 452.1L421.6 451.9L421.8 451.5L421.9 452.2L422 451.8L422.1 451.7L422.3 452.1L422.4 452.3L422.5 452.5L422.6 452.3L422.8 452.5L422.9 452.3L423 452.1L423.2 451.3L423.3 451.1L423.4 451.5L423.5 452.2L423.7 451.7L423.8 452.2L423.9 451.9L424.1 451.2L424.2 452L424.4 452.3L424.7 452.6L425 452.4L425.1 452.7L425.2 452.3L425.3 451.2L425.5 450.8L425.6 450.3L425.7 451L425.9 451.1L426 450.5L426.1 450.2L426.2 449.1L426.4 448.7L426.5 448.4L426.6 448.7L426.8 449.3L426.9 449L427 448.9L427.1 449.3L427.4 449.2L427.5 448.1L427.8 448L427.9 447.6L428.2 447.6L428.3 447.5L428.4 447.3L428.5 446.8L428.7 446.5L428.9 446.4L429.2 446.2L429.3 446.7L429.4 446L429.7 445.6L430 445.5L430.1 445.7L430.2 444.8L430.3 444.7L430.5 444.6L430.6 444.4L430.7 444.3L430.9 444L431.1 443.8L431.2 443.6L431.4 443.4L431.5 444.1L431.8 444L431.9 443.6L432 444.3L432.3 444.8L432.4 444.6L432.5 444.9L432.6 445L432.8 445.7L432.9 445.5L433.2 445.5L433.3 444.9L433.4 445.4L433.5 445L433.7 444.7L433.8 444.9L433.9 445.1L434.1 444.8L434.3 444.5L434.4 445.1L434.6 444.3L434.8 444.7L435 444.6L435.1 445L435.2 444.4L435.3 444.6L435.5 445.1L435.6 444.5L435.7 444.1L436 444.4L436.1 444.6L436.2 443.8L436.4 444L436.5 443.4L436.6 443.1L436.8 443.2L436.9 443L437 443.5L437.1 443.6L437.4 444.5L437.5 445.1L437.6 444.8L437.8 444.4L437.9 444.3L438 444.7L438.3 444.9L438.5 445L438.7 444.7L438.8 444.4L439.1 443.9L439.2 443.7L439.3 443L439.4 443.4L439.7 443.5L439.8 443.1L440 442.8L440.2 442.8L440.3 442.3L440.6 441.9L440.7 441.6L440.9 441.9L441 441.7L441.2 441.4L441.4 440.9L441.5 441.2L441.6 440.5L441.7 440.9L442 440.7L442.1 441.4L442.3 442L442.4 442.7L442.5 443.4L442.6 443.9L442.8 443.8L442.9 444L443 444.3L443.2 444.5L443.3 443.9L443.4 444.8L443.7 445.1L443.8 445.8L443.9 445.4L444.2 445.3L444.4 444.8L444.6 445.2L444.7 445.3L445 445.6L445.1 445.7L445.2 446.2L445.5 446L445.7 446L446 445.6L446.1 445.4L446.4 444.9L446.5 445.1L446.7 445.5L446.9 445.1L447 444.4L447.1 444L447.3 443.9L447.4 443.6L447.6 443.3L447.9 442.6L448 442.4L448.2 442.2L448.3 441.7L448.4 441.2L448.5 440.8L448.7 440.6L448.8 439.9L448.9 440.2L449.1 440L449.2 439.6L449.4 439.8L449.7 440.5L449.8 440.3L450.1 440.1L450.2 439.9L450.3 439.7L450.5 439.4L450.6 439.9L450.7 439.2L451 439.3L451.1 439L451.2 438.8L451.5 438.3L451.7 437.9L451.9 437.7L452.1 437.6L452.3 438.8L452.4 438.5L452.5 438.7L452.6 438.4L452.8 438.1L453 437.7L453.2 437.5L453.3 437.1L453.4 437.2L453.7 437L453.9 437.1L454.1 436.6L454.3 436L454.4 436.2L454.6 436.9L454.8 437.5L455.1 437.7L455.2 437.8L455.3 438.1L455.5 439L455.6 438.8L455.9 438.5L456 438.4L456.1 439.4L456.4 438.9L456.5 438.6L456.7 438.6L456.9 438.2L457 438.1L457.1 438L457.3 437.6L457.4 438L457.5 437.7L457.6 438L457.8 438.4L457.9 438.1L458 437.9L458.2 438.5L458.3 438.7L458.4 438.6L458.7 439.5L458.8 439.8L459.1 440L459.3 440.3L459.4 440.5L459.6 440.7L459.7 441.6L459.8 442.2L460 441.9L460.2 441.7L460.3 442.1L460.5 441.6L460.7 441.8L460.9 442.1L461 442.4L461.1 442.2L461.2 442.5L461.4 442.8L461.5 442.2L461.6 441.8L461.7 442.4L461.9 443L462 443.6L462.1 443.3L462.3 443.5L462.4 443.9L462.5 444.3L462.8 444.2L462.9 444.9L463.2 445.5L463.3 446.7L463.4 447.9L463.5 447.8L463.8 448.8L463.9 450.2L464.1 451.2L464.2 452.4L464.3 452.7L464.4 452.9L464.6 454.3L464.8 454.9L465 454.6L465.1 454.1L465.3 454.4L465.5 454.7L465.6 454.3L465.7 454.1L465.9 454.7L466 453.9L466.1 454.3L466.4 453.7L466.5 454.1L466.6 454.4L466.7 454.7L466.9 455L467 455.2L467.1 454.8L467.3 454.6L467.4 454.8L467.5 455.1L467.6 454.4L467.8 454.7L467.9 453.9L468 454.4L468.2 454.1L468.3 454.3L468.4 454.1L468.5 454L468.7 453.7L468.8 453.6L468.9 453.3L469.1 453.5L469.2 453.3L469.3 453.1L469.4 453.4L469.6 452.7L469.7 453.6L469.8 453.5L470 453.9L470.1 453.1L470.3 453.1L470.6 452.9L470.7 453.3L471 453.4L471.1 453L471.2 451.9L471.4 452.3L471.5 451.9L471.6 452.2L471.7 451.8L471.9 452.3L472 452L472.1 452.2L472.3 452.6L472.4 452.1L472.5 452.3L472.6 452.7L472.8 452.3L472.9 452.7L473 453.5L473.2 453.3L473.3 453.5L473.4 452.9L473.5 453.3L473.7 452.7L473.8 453.3L473.9 452.8L474.1 452.2L474.2 452.4L474.4 451.7L474.6 451.5L474.7 450.9L474.8 450.5L475 450.2L475.1 449.9L475.2 449.6L475.3 448.6L475.6 447.5L475.9 447.1L476 446.3L476.1 446L476.2 445.8L476.4 445.5L476.5 444.9L476.6 444.5L476.7 444L476.9 443.6L477 443.1L477.1 443.3L477.3 443.1L477.4 442.9L477.5 442.6L477.6 442.4L477.8 442.6L477.9 441.6L478 441.4L478.2 441.1L478.3 440.6L478.4 440.4L478.5 440L478.7 439.5L478.8 439.2L478.9 438.4L479.1 437.5L479.2 437.2L479.3 436.7L479.6 436.4L479.7 436.7L479.8 435.9L480 435.6L480.1 435.4L480.3 435.1L480.5 434.9L480.7 434.5L480.9 434.8L481 434.2L481.1 433.5L481.2 433.1L481.4 432.8L481.6 433L481.7 433.2L482 433.1L482.1 433.6L482.3 434L482.4 434.3L482.5 434.8L482.6 434.4L482.8 434.9L482.9 436.1L483 436.3L483.2 436.6L483.3 437.2L483.4 437.4L483.5 437.2L483.7 438.5L483.9 438.8L484.1 438.9L484.2 438.6L484.3 439.3L484.4 440.4L484.6 440.9L484.7 441.2L484.8 441.3L485 441.8L485.1 441.5L485.2 442L485.3 442.3L485.5 442.1L485.6 442.4L485.7 442.2L485.9 442.5L486.1 442.5L486.2 442L486.5 441.7L486.7 441.4L486.9 441L487 441.2L487.1 440.5L487.3 440.3L487.4 440.7L487.5 441.1L487.6 440.4L487.8 440.5L487.9 440.3L488.2 440L488.3 440.2L488.4 440.5L488.5 440.9L488.7 441.2L488.9 442.4L489.1 442.5L489.2 443L489.4 443.6L489.6 444.2L489.7 444.4L489.8 444.9L490 445.2L490.1 445.5L490.2 446.2L490.3 446.4L490.5 447.7L490.6 448.6" fill="none" stroke="#30c838" stroke-width="1.15" stroke-linejoin="round" />
<path d="M126.5 444.2L126.6 444.4L126.9 444.6L127.1 444.6L127.4 444.5L127.7 444.3L127.8 444.1L127.9 443.9L128 443.7L128.2 443.5L128.3 443.2L128.4 442.9L128.6 442.6L128.7 442.3L128.8 442L128.9 441.7L129.1 441.5L129.2 441.3L129.3 441.1L129.4 440.9L129.6 440.7L129.7 440.5L129.8 440.3L130 440.2L130.1 439.8L130.2 439.4L130.3 439L130.5 438.6L130.6 438.2L130.7 437.8L130.9 437.4L131 437L131.1 436.5L131.2 436.1L131.4 435.5L131.5 435L131.6 434.5L131.8 433.9L131.9 433.4L132 432.8L132.1 432.3L132.3 431.7L132.4 431.2L132.5 430.7L132.7 430.2L132.8 429.7L132.9 429.3L133 428.9L133.2 428.6L133.4 428.6L133.7 428.6L133.9 428.6L134.2 428.6L134.4 428.6L134.7 428.6L134.8 429L135 429.4L135.1 430L135.2 430.6L135.3 431.2L135.5 431.8L135.6 432.5L135.7 433.1L135.9 433.8L136 434.4L136.1 435L136.2 435.6L136.4 436.2L136.5 436.7L136.6 437.2L136.8 437.7L136.9 438.1L137 438.6L137.1 439.1L137.3 439.6L137.4 440L137.5 440.5L137.7 440.9L137.8 441.4L137.9 441.8L138 442.2L138.2 442.6L138.3 442.9L138.4 443.1L138.6 443.3L138.7 443.5L138.8 443.6L138.9 443.8L139.1 443.9L139.2 444L139.4 444.2L139.7 444.4L140 444.6L140.1 444.8L140.2 444.9L140.3 445.1L140.5 445.3L140.6 445.4L140.7 445.6L140.9 445.7L141 445.9L141.1 446L141.2 446.1L141.4 446.3L141.5 446.4L141.6 446.5L141.8 446.7L141.9 446.8L142 446.9L142.1 447L142.3 447.1L142.4 447.2L142.7 447.5L142.9 447.7L143.2 447.9L143.4 448.1L143.7 448.3L143.9 448.4L144.2 448.6L144.4 448.8L144.7 449L145 449.1L145.2 449.3L145.5 449.5L145.7 449.6L146 449.8L146.2 449.9L146.5 450.1L146.8 450.2L147 450.3L147.3 450.5L147.5 450.6L147.8 450.7L148 450.8L148.3 450.9L148.6 451.1L148.8 451.2L149.1 451.3L149.3 451.4L149.6 451.5L149.8 451.6L150.1 451.7L150.3 451.8L150.6 451.9L150.9 452L151.1 452L151.4 452.1L151.6 452.2L151.9 452.3L152.1 452.5L152.4 452.6L152.7 452.7L152.9 452.8L153.2 452.9L153.4 453L153.7 453.2L153.9 453.3L154.2 453.4L154.4 453.6L154.7 453.7L155 453.9L155.2 454L155.5 454.2L155.7 454.3L156 454.4L156.2 454.5L156.5 454.7L156.8 454.8L157 454.8L157.3 454.9L157.5 455L157.8 455L158 455.1L158.3 455.1L158.6 455.1L158.8 454.9L158.9 454.8L159.1 454.6L159.2 454.3L159.3 454L159.4 453.7L159.6 453.3L159.7 453L159.8 452.6L160 452.2L160.1 451.8L160.2 451.4L160.3 450.9L160.5 450.5L160.6 450.1L160.7 449.7L160.9 449.2L161 448.8L161.1 448.4L161.2 448L161.4 447.6L161.5 447.1L161.6 446.6L161.8 446L161.9 445.4L162 444.8L162.1 444.2L162.3 443.6L162.4 442.9L162.5 442.3L162.7 441.7L162.8 441.2L162.9 440.6L163 440.3L163.2 440.1L163.3 439.9L163.4 439.8L163.7 439.6L163.9 439.6L164.2 439.7L164.4 439.9L164.7 440.1L164.8 440.3L165 440.4L165.1 440.5L165.2 440.7L165.3 440.9L165.5 441L165.6 441.4L165.7 441.7L165.9 442L166 442.4L166.1 442.7L166.2 443.1L166.4 443.5L166.5 443.8L166.6 444.2L166.8 444.6L166.9 444.9L167 445.3L167.1 445.6L167.3 445.9L167.4 446.2L167.5 446.5L167.7 446.8L167.8 447L167.9 447.3L168 447.5L168.2 447.7L168.3 447.9L168.4 448.1L168.5 448.3L168.7 448.6L168.8 448.8L168.9 449L169.1 449.3L169.2 449.6L169.3 449.8L169.4 450.1L169.6 450.4L169.7 450.6L169.8 450.9L170 451.2L170.1 451.4L170.2 451.7L170.3 451.9L170.5 452.1L170.6 452.4L170.7 452.6L170.9 452.8L171 453L171.1 453.2L171.2 453.3L171.4 453.5L171.5 453.6L171.6 453.7L171.9 453.9L172.1 454.1L172.4 454.1L172.7 454L172.8 453.9L172.9 453.7L173 453.5L173.2 453.3L173.3 453.1L173.4 452.8L173.5 452.5L173.7 452.2L173.8 451.8L173.9 451.4L174.1 451.1L174.2 450.7L174.3 450.3L174.4 449.9L174.6 449.4L174.7 449L174.8 448.7L175 448.3L175.1 447.9L175.2 447.6L175.3 447.2L175.5 446.9L175.6 446.6L175.7 446.2L175.9 445.9L176 445.5L176.1 445L176.2 444.6L176.4 444.1L176.5 443.7L176.6 443.2L176.8 442.7L176.9 442.2L177 441.8L177.1 441.4L177.3 441.2L177.4 441L177.5 440.8L177.7 440.6L177.8 440.4L177.9 440.2L178 440L178.2 439.7L178.3 439.4L178.4 439.2L178.5 439.1L178.8 439L179.1 439.1L179.2 439.3L179.3 439.6L179.4 439.9L179.6 440.2L179.7 440.3L179.8 440.5L180 440.7L180.1 440.9L180.2 441.1L180.3 441.4L180.5 441.6L180.6 442L180.7 442.5L180.9 442.9L181 443.3L181.1 443.7L181.2 444.1L181.4 444.4L181.5 444.7L181.6 445L181.8 445.3L181.9 445.6L182 445.9L182.1 446.2L182.3 446.6L182.4 446.9L182.5 447.2L182.7 447.5L182.8 447.8L182.9 448.1L183 448.4L183.2 448.6L183.3 448.8L183.4 449L183.5 449.2L183.7 449.4L183.8 449.5L184.1 449.6L184.3 449.6L184.4 449.4L184.6 449.1L184.7 448.8L184.8 448.5L185 448.1L185.1 447.7L185.2 447.3L185.3 446.8L185.5 446.3L185.6 445.9L185.7 445.4L185.9 444.9L186 444.5L186.1 444L186.2 443.7L186.4 443.3L186.5 442.9L186.6 442.4L186.8 442L186.9 441.6L187 441.3L187.1 441.1L187.3 440.8L187.4 440.6L187.5 440.4L187.7 440.2L187.8 439.9L187.9 439.6L188 439.3L188.2 439.1L188.3 439L188.5 439L188.8 439.2L188.9 439.4L189.1 439.6L189.2 439.8L189.3 440.1L189.4 440.2L189.6 440.4L189.7 440.6L189.8 440.8L190 440.9L190.1 441.1L190.2 441.4L190.3 441.6L190.5 442L190.6 442.5L190.7 442.9L190.9 443.4L191 443.9L191.1 444.4L191.2 444.9L191.4 445.4L191.5 445.9L191.6 446.4L191.8 446.9L191.9 447.4L192 447.9L192.1 448.4L192.3 448.8L192.4 449.3L192.5 449.7L192.7 450.2L192.8 450.6L192.9 451L193 451.4L193.2 451.8L193.3 452.1L193.4 452.4L193.5 452.8L193.7 453.1L193.8 453.5L193.9 453.8L194.1 454.2L194.2 454.6L194.3 455L194.4 455.4L194.6 455.8L194.7 456.2L194.8 456.6L195 457L195.1 457.4L195.2 457.8L195.3 458.2L195.5 458.6L195.6 459L195.7 459.3L195.9 459.5L196 459.7L196.1 460L196.2 460.2L196.4 460.4L196.5 460.6L196.6 460.8L196.8 461L196.9 461.2L197 461.4L197.1 461.5L197.3 461.7L197.4 461.8L197.5 461.9L197.7 462L197.9 462.2L198.2 462.4L198.4 462.4L198.7 462.4L198.9 462.3L199.2 462.1L199.3 461.9L199.4 461.7L199.6 461.5L199.7 461.3L199.8 461.1L200 460.9L200.1 460.6L200.2 460.4L200.3 460.1L200.5 459.8L200.6 459.6L200.7 459.3L200.9 459L201 458.6L201.1 458.2L201.2 457.9L201.4 457.5L201.5 457.2L201.6 456.9L201.8 456.6L201.9 456.3L202 456L202.1 455.7L202.3 455.4L202.4 455.1L202.5 454.8L202.7 454.5L202.8 454.1L202.9 453.9L203 453.6L203.2 453.3L203.3 453.1L203.4 452.8L203.5 452.6L203.7 452.4L203.8 452.3L203.9 452.1L204.1 452L204.3 451.9L204.6 451.9L204.8 452L205.1 452.2L205.2 452.4L205.3 452.5L205.5 452.7L205.6 452.9L205.7 453.1L205.9 453.3L206 453.6L206.1 453.8L206.2 454L206.4 454.3L206.5 454.6L206.6 454.9L206.8 455.2L206.9 455.4L207 455.7L207.1 456L207.3 456.2L207.4 456.5L207.5 456.7L207.7 456.9L207.8 457L208 457.2L208.3 457.3L208.5 457.3L208.8 457.1L208.9 456.9L209.1 456.7L209.2 456.4L209.3 456.1L209.4 455.8L209.6 455.4L209.7 455L209.8 454.6L210 454.2L210.1 453.8L210.2 453.4L210.3 453.1L210.5 452.7L210.6 452.4L210.7 452L210.9 451.7L211 451.4L211.1 451.2L211.2 450.9L211.4 450.7L211.5 450.4L211.6 450.1L211.8 449.8L211.9 449.5L212 449.2L212.1 449L212.3 448.7L212.4 448.5L212.5 448.4L212.7 448.3L212.9 448.2L213.2 448.2L213.4 448.5L213.5 448.7L213.7 448.8L213.8 449L213.9 449.2L214.1 449.4L214.2 449.5L214.3 449.7L214.4 449.8L214.7 449.9L215 450L215.2 450L215.5 450L215.7 450L216 450L216.2 449.9L216.5 450L216.8 450.1L217 450.2L217.3 450.3L217.5 450.3L217.8 450.3L218 450.1L218.3 449.9L218.4 449.8L218.5 449.6L218.7 449.5L218.8 449.4L219.1 449.2L219.3 449L219.6 448.9L219.8 448.6L220.1 448.4L220.3 448.2L220.6 448L220.9 447.9L221.1 447.9L221.4 448L221.6 448.2L221.9 448.4L222.1 448.7L222.4 448.9L222.7 449L222.9 449L223.2 449L223.4 449.1L223.7 449.1L223.9 449.2L224.2 449.3L224.4 449.3L224.7 449.4L225 449.5L225.2 449.6L225.5 449.7L225.7 449.7L226 449.6L226.2 449.4L226.5 449.2L226.8 449L227 448.9L227.3 448.8L227.5 448.6L227.8 448.4L228 448.3L228.3 448.1L228.5 447.9L228.8 447.8L229.1 447.9L229.3 448L229.6 448.2L229.7 448.4L229.8 448.5L230 448.7L230.1 448.8L230.2 448.9L230.3 449.1L230.6 449.3L230.9 449.3L231.1 449.4L231.4 449.4L231.6 449.4L231.9 449.5L232.1 449.5L232.4 449.6L232.7 449.6L232.9 449.7L233.2 449.8L233.4 449.9L233.7 449.9L233.9 450L234.2 450L234.4 450L234.7 449.9L235 449.9L235.2 449.8L235.5 449.8L235.7 449.7L236 449.6L236.2 449.5L236.5 449.4L236.8 449.2L237 449.1L237.3 449L237.5 449L237.8 449.1L238 449.3L238.2 449.4L238.3 449.6L238.4 449.7L238.5 449.8L238.7 450L238.8 450.1L238.9 450.2L239.2 450.4L239.4 450.5L239.7 450.6L240 450.7L240.2 450.7L240.5 450.8L240.7 450.8L241 450.9L241.2 451L241.5 451L241.8 451.1L242 451.2L242.3 451.3L242.5 451.3L242.8 451.4L243 451.4L243.3 451.4L243.5 451.4L243.8 451.4L244.1 451.3L244.3 451.3L244.6 451.2L244.8 451.2L245.1 451.1L245.3 451L245.6 450.9L245.9 450.7L246.1 450.6L246.4 450.5L246.6 450.5L246.9 450.5L247.1 450.6L247.4 450.8L247.7 450.9L247.9 451.1L248.2 451.2L248.4 451.3L248.7 451.3L248.9 451.4L249.2 451.5L249.4 451.6L249.7 451.8L250 451.9L250.2 452L250.5 452.2L250.7 452.3L251 452.4L251.2 452.4L251.5 452.4L251.8 452.2L252 452L252.3 451.8L252.5 451.6L252.8 451.5L253 451.4L253.3 451.3L253.5 451.2L253.8 451.1L254.1 451L254.3 450.9L254.6 450.8L254.8 450.9L255.1 450.9L255.3 451.1L255.6 451.2L255.9 451.4L256.1 451.5L256.4 451.5L256.6 451.6L256.9 451.6L257.1 451.7L257.4 451.7L257.7 451.8L257.9 451.9L258.2 452L258.4 452.1L258.7 452.2L258.9 452.3L259.2 452.3L259.4 452.3L259.7 452.1L259.8 452L260 451.9L260.1 451.7L260.2 451.6L260.3 451.5L260.5 451.3L260.7 451.1L261 451L261.2 450.8L261.5 450.6L261.8 450.4L262 450.2L262.3 450L262.5 449.9L262.8 449.9L263 449.9L263.3 450L263.5 450.2L263.8 450.3L264.1 450.5L264.3 450.5L264.6 450.5L264.8 450.5L265.1 450.6L265.3 450.6L265.6 450.7L265.9 450.7L266.1 450.8L266.4 450.9L266.6 450.9L266.9 450.9L267.1 450.9L267.4 450.8L267.7 450.6L267.8 450.4L267.9 450.3L268 450.2L268.2 450L268.3 449.9L268.5 449.7L268.8 449.5L269.1 449.3L269.2 449.2L269.3 449.1L269.4 449L269.7 448.8L270 448.6L270.2 448.5L270.5 448.5L270.7 448.7L271 448.9L271.1 449L271.2 449.2L271.4 449.3L271.5 449.4L271.6 449.5L271.9 449.7L272.1 449.8L272.4 449.8L272.7 449.7L272.9 449.7L273.2 449.7L273.4 449.6L273.7 449.6L273.9 449.6L274.2 449.6L274.4 449.6L274.7 449.7L275 449.7L275.2 449.7L275.5 449.7L275.7 449.6L276 449.6L276.2 449.5L276.5 449.4L276.8 449.3L277 449.2L277.3 449.1L277.5 448.9L277.7 448.8L277.8 448.6L277.9 448.5L278 448.4L278.2 448.2L278.3 448.1L278.5 447.9L278.8 447.8L279.1 447.8L279.3 447.9L279.6 448.1L279.8 448.3L280.1 448.5L280.3 448.6L280.6 448.7L280.9 448.8L281.1 448.8L281.4 448.9L281.6 449L281.9 449L282.1 449.1L282.4 449.2L282.7 449.3L282.9 449.4L283.2 449.4L283.4 449.5L283.7 449.4L283.9 449.3L284.2 449.1L284.4 448.9L284.7 448.8L285 448.8L285.2 448.7L285.5 448.6L285.7 448.5L286 448.4L286.2 448.3L286.5 448.3L286.8 448.3L287 448.4L287.3 448.6L287.5 448.8L287.8 449L288 449.2L288.3 449.4L288.5 449.5L288.8 449.5L289.1 449.6L289.3 449.7L289.6 449.8L289.8 449.9L290.1 450L290.3 450.2L290.6 450.3L290.9 450.4L291.1 450.5L291.4 450.6L291.6 450.6L291.9 450.5L292.1 450.4L292.4 450.2L292.7 450.1L292.9 449.9L293.2 449.8L293.4 449.8L293.7 449.7L293.9 449.6L294.2 449.6L294.4 449.5L294.7 449.5L295 449.5L295.2 449.6L295.5 449.8L295.7 450L296 450.2L296.2 450.4L296.5 450.6L296.8 450.7L297 450.8L297.3 450.9L297.5 451L297.8 451L298 451.1L298.3 451.2L298.5 451.3L298.8 451.4L299.1 451.5L299.3 451.6L299.6 451.7L299.8 451.8L300.1 451.9L300.3 452L300.6 451.9L300.9 451.8L301.1 451.7L301.4 451.6L301.6 451.5L301.9 451.3L302.1 451.2L302.4 451.1L302.7 451L302.9 450.8L303.2 450.7L303.4 450.5L303.7 450.4L303.9 450.4L304.2 450.4L304.4 450.6L304.7 450.8L304.8 450.9L305 451L305.1 451.1L305.2 451.3L305.3 451.4L305.6 451.6L305.9 451.7L306.1 451.8L306.4 451.8L306.6 451.9L306.9 451.9L307.1 451.9L307.4 452L307.6 452L307.9 452L308.2 452.1L308.4 452.1L308.7 452.2L308.9 452.2L309.2 452.3L309.4 452.3L309.7 452.4L310 452.4L310.2 452.4L310.5 452.3L310.7 452.2L311 452.1L311.2 452L311.5 451.9L311.8 451.7L312 451.6L312.3 451.4L312.4 451.2L312.5 451.1L312.6 451L312.8 450.8L312.9 450.7L313 450.6L313.3 450.4L313.5 450.3L313.8 450.3L314.1 450.4L314.3 450.6L314.4 450.8L314.6 450.9L314.7 451L314.8 451.2L315 451.3L315.1 451.4L315.3 451.6L315.6 451.7L315.9 451.7L316.1 451.7L316.4 451.8L316.6 451.8L316.9 451.8L317.1 451.7L317.4 451.7L317.6 451.7L317.9 451.7L318.2 451.6L318.4 451.6L318.7 451.6L318.9 451.8L319.2 451.9L319.4 452L319.7 452.1L320 452.2L320.2 452.2L320.5 452.1L320.7 452L321 451.8L321.2 451.6L321.4 451.5L321.5 451.4L321.6 451.2L321.8 451.1L321.9 450.9L322 450.7L322.1 450.4L322.3 450.1L322.4 449.7L322.5 449.4L322.6 449L322.8 448.6L322.9 448.3L323 448L323.2 447.8L323.3 447.6L323.4 447.5L323.7 447.4L323.9 447.7L324.1 447.9L324.2 448.2L324.3 448.5L324.4 448.8L324.6 449.2L324.7 449.6L324.8 450.1L325 450.5L325.1 450.8L325.2 451.2L325.3 451.5L325.5 451.7L325.6 452L325.7 452.3L325.9 452.5L326 452.8L326.1 453L326.2 453.3L326.4 453.5L326.5 453.8L326.6 454L326.8 454.3L326.9 454.6L327 454.8L327.1 455.1L327.3 455.4L327.4 455.7L327.5 455.9L327.6 456.2L327.8 456.5L327.9 456.8L328 457L328.2 457.3L328.3 457.6L328.4 457.9L328.5 458.2L328.7 458.5L328.8 458.8L328.9 459L329.1 459.2L329.2 459.4L329.3 459.6L329.4 459.7L329.6 459.9L329.7 460L329.8 460.1L330 460.3L330.2 460.5L330.5 460.6L330.7 460.7L331 460.8L331.2 460.7L331.5 460.7L331.8 460.5L332 460.4L332.3 460.2L332.4 460L332.5 459.9L332.6 459.8L332.8 459.6L332.9 459.5L333 459.3L333.2 459.2L333.3 458.9L333.4 458.6L333.5 458.4L333.7 458.2L333.8 457.8L333.9 457.6L334.1 457.3L334.2 457L334.3 456.7L334.4 456.3L334.6 456L334.7 455.7L334.8 455.5L335 455.2L335.1 454.8L335.2 454.5L335.3 454L335.5 453.7L335.6 453.3L335.7 453L335.9 452.8L336 452.4L336.1 452.1L336.2 451.9L336.4 451.4L336.5 450.9L336.6 450.4L336.8 450L336.9 449.9L337 449.3L337.1 449L337.3 448.5L337.4 448.3L337.5 448.2L337.6 447.8L337.8 447.4L337.9 447.1L338 446.8L338.2 446.6L338.3 446.3L338.4 445.9L338.5 445.4L338.7 444.8L338.8 444.5L338.9 444.1L339.1 443.8L339.2 443.3L339.3 442.8L339.4 442.3L339.7 442L340 441.7L340.2 442L340.3 442.2L340.6 442.5L340.9 442.8L341 443.2L341.1 443.5L341.2 443.7L341.4 444.1L341.5 444.6L341.6 444.7L341.8 445L342 445.2L342.1 445.3L342.3 445.6L342.5 445.7L342.6 445.9L342.8 445.7L342.9 445.8L343 446.1L343.3 446.1L343.5 446.2L343.8 446.1L344.1 445.9L344.3 446L344.4 445.7L344.6 445.3L344.7 445.2L344.8 445L345 444.7L345.1 444.5L345.2 444.3L345.3 444L345.5 443.9L345.6 443.5L345.9 443.2L346 442.8L346.1 442.7L346.2 442.5L346.5 442.3L346.6 442L346.9 441.6L347.1 441.5L347.4 441.4L347.5 441.2L347.8 441.3L348 441.2L348.3 441.2L348.4 441.4L348.7 441.5L348.9 441.6L349.1 441.9L349.2 442.2L349.3 442.3L349.6 442.6L349.8 443.2L350 443.3L350.1 443.8L350.3 443.8L350.5 444.1L350.6 444.3L350.9 444.2L351 444.5L351.1 444.8L351.2 444.9L351.4 445.2L351.5 445.4L351.8 445.4L352 445.7L352.1 446L352.4 446.1L352.5 446.4L352.6 446.8L352.8 446.5L353 446.6L353.3 446.8L353.5 446.8L353.7 446.9L353.8 447L354.1 447.2L354.2 447.4L354.4 447.2L354.6 447.5L354.7 447.8L354.8 448.1L355.1 448L355.2 448.3L355.5 448.3L355.6 448.5L355.7 448.9L355.9 449.1L356 449.2L356.1 449.5L356.2 449.6L356.5 449.4L356.6 449.5L356.8 449.3L356.9 449.5L357.1 449.8L357.3 450.1L357.5 449.8L357.6 449.5L357.8 449.3L358 449.3L358.2 449.6L358.3 449.7L358.5 450.2L358.7 450.4L358.9 450.5L359.2 450.8L359.3 450.9L359.4 451L359.6 451.5L359.7 451.8L359.8 452L360 452.2L360.2 452.4L360.5 452.5L360.7 452.8L361 452.6L361.2 452.9L361.4 452.6L361.6 452.6L361.8 452.5L362 452.6L362.1 452.4L362.4 452.5L362.5 452.4L362.6 452.2L362.8 452.4L362.9 452.2L363.2 452.3L363.4 452.3L363.7 452.2L363.8 452.3L364.1 452.5L364.2 452.3L364.4 452.4L364.7 452.4L365 452.2L365.1 451.7L365.2 451.4L365.5 451L365.6 450.5L365.7 450.2L366 449.9L366.1 449.7L366.2 449L366.4 448.9L366.5 448.5L366.6 448.3L366.8 448L367 447.9L367.1 447.5L367.3 447.3L367.4 447.1L367.5 446.8L367.6 446.5L367.8 446.3L367.9 446.1L368.2 445.4L368.4 445.2L368.5 445L368.7 444.4L368.8 444L368.9 443.6L369.1 443.1L369.2 442.9L369.3 442.5L369.4 442.4L369.6 442L369.7 441.6L370 441.5L370.1 441.3L370.2 441.1L370.3 440.9L370.5 440.7L370.6 440.5L370.9 440.6L371 440.5L371.1 440.4L371.4 440.3L371.6 440.3L371.9 440.1L372.1 440.2L372.3 440.4L372.5 440.5L372.8 440.6L373 440.7L373.3 440.8L373.5 441.1L373.7 441.2L373.8 441.4L373.9 441.5L374.2 441.9L374.3 442.1L374.6 442.7L374.7 443L375 443.2L375.1 443.4L375.2 443.6L375.5 444L375.6 444.2L375.7 444.4L375.9 444.8L376 445.1L376.1 445.3L376.2 445.8L376.4 445.6L376.5 445.9L376.6 446.6L376.8 446.8L376.9 447.1L377 447.3L377.1 447.5L377.3 447.8L377.4 448.3L377.5 448.5L377.6 448.6L377.9 448.9L378.2 449.3L378.3 449.5L378.5 449.6L378.7 449.8L378.9 449.9L379.2 449.5L379.4 449.4L379.7 449L379.8 448.8L380.1 448.6L380.3 448.4L380.5 448.1L380.7 448L381 447.6L381.1 447.5L381.4 447.6L381.6 447.4L381.8 447.3L381.9 447.1L382 446.8L382.1 446.7L382.3 446.6L382.5 446.4L382.6 446.3L382.8 446.5L382.9 446.4L383.2 446.2L383.3 446.3L383.4 446.5L383.5 446.6L383.8 446.8L383.9 447L384.2 447.3L384.3 447.6L384.4 448L384.7 448.1L385 448.2L385.1 448.3L385.3 448.3L385.5 448.5L385.6 448.7L385.9 449.1L386 449L386.2 448.7L386.4 448.8L386.6 449L386.8 449.2L387 449.3L387.3 449.4L387.4 449.2L387.6 449.5L387.8 449.3L387.9 449.4L388.2 449.3L388.3 449.4L388.4 449L388.7 449.1L388.9 448.9L389.2 449L389.3 448.8L389.6 448.8L389.7 448.5L390 448.7L390.2 448.9L390.3 448.7L390.6 448.7L390.7 449L390.9 449.1L391 448.8L391.2 448.6L391.5 448.8L391.8 448.9L392 449L392.3 449.2L392.5 449L392.6 448.9L392.8 449.2L392.9 449.4L393.2 449.4L393.4 449.5L393.7 449.5L393.8 449.7L394.1 449.6L394.2 450L394.3 450.1L394.6 450.1L394.8 450.3L395 450.2L395.2 450.1L395.3 449.9L395.6 449.6L395.9 449.7L396 449.5L396.2 449.2L396.4 449L396.5 448.9L396.8 448.9L397 449L397.3 448.9L397.5 448.7L397.6 448.6L397.9 448.7L398.2 448.7L398.3 448.5L398.4 448.3L398.7 447.9L398.8 447.6L399.1 447.5L399.2 447.2L399.3 447L399.4 446.8L399.6 446.5L399.7 446L399.8 445.9L400 445.8L400.1 445.4L400.2 445.3L400.3 444.9L400.5 444.7L400.6 444.5L400.7 444.4L400.9 444L401.1 443.8L401.2 443.5L401.4 443.4L401.6 443.1L401.8 442.7L401.9 442.5L402 442.2L402.1 441.9L402.4 441.6L402.5 441.5L402.6 441.3L402.9 441.1L403 440.8L403.3 440.4L403.5 440.3L403.7 440L403.8 439.7L403.9 439.5L404.2 439.2L404.3 438.8L404.6 438.2L404.7 438L405 437.6L405.2 437.4L405.3 437.1L405.5 437.4L405.7 437.2L405.9 436.9L406 436.8L406.2 436.8L406.5 437L406.8 437.3L407 437.5L407.1 437.9L407.4 438.3L407.5 438.7L407.6 439.1L407.8 439.3L407.9 439.7L408 440.1L408.2 440.3L408.3 440.5L408.4 440.7L408.5 440.9L408.7 441L408.8 441.1L409.1 441.4L409.2 441.5L409.4 441.6L409.6 441.8L409.8 441.9L410.1 442.1L410.3 442.3L410.6 442.5L410.9 442.7L411.1 442.8L411.4 442.9L411.5 443L411.6 443.2L411.9 443.4L412.1 443.7L412.4 443.6L412.5 443.4L412.8 443.6L413 444L413.3 443.9L413.4 443.6L413.7 443.6L413.9 443.3L414.1 442.8L414.3 443L414.4 443.2L414.7 442.7L414.8 442.5L415.1 442.7L415.2 442.4L415.5 442.2L415.6 442.3L415.7 442.7L415.9 443.1L416 443.7L416.1 444.2L416.2 444L416.5 444.4L416.6 445.1L416.8 445.3L416.9 445.8L417 446.6L417.3 446.7L417.4 447L417.5 447.6L417.6 448.3L417.9 448.8L418.2 449L418.3 449.7L418.4 449.5L418.5 449.1L418.7 448.5L418.9 448.7L419.1 448.9L419.2 449L419.4 448.7L419.6 449L419.8 450.2L420 450.7L420.1 450.6L420.2 450.8L420.3 452.1L420.5 453.1L420.6 452.6L420.7 452.8L420.9 453.5L421 453.3L421.1 453.1L421.2 453.6L421.4 454.1L421.6 453.9L421.8 453.5L421.9 454.3L422 453.8L422.1 453.7L422.3 454.1L422.4 454.3L422.5 454.6L422.6 454.4L422.8 454.6L422.9 454.4L423 454.1L423.2 453.3L423.3 453.1L423.4 453.5L423.5 454.2L423.7 453.7L423.8 454.3L423.9 453.9L424.1 453.2L424.2 454L424.4 454.3L424.7 454.7L425 454.5L425.1 454.9L425.2 454.3L425.3 453.2L425.5 452.8L425.6 452.3L425.7 453L425.9 453.1L426 452.5L426.1 452.2L426.2 451.1L426.4 450.7L426.5 450.4L426.6 450.7L426.8 451.3L426.9 451L427 450.9L427.1 451.3L427.4 451.2L427.5 450.1L427.8 450L427.9 449.6L428.2 449.6L428.3 449.5L428.4 449.3L428.5 448.8L428.7 448.5L428.9 448.3L429.2 448.2L429.3 448.6L429.4 448L429.7 447.5L430 447.4L430.1 447.6L430.2 446.6L430.3 446.5L430.5 446.4L430.6 446.2L430.7 446.1L430.9 445.8L431.1 445.5L431.2 445.4L431.4 445.1L431.5 445.8L431.8 445.8L431.9 445.3L432 446.1L432.3 446.6L432.4 446.4L432.5 446.7L432.6 446.8L432.8 447.6L432.9 447.4L433.2 447.4L433.3 446.8L433.4 447.3L433.5 446.8L433.7 446.6L433.8 446.7L433.9 447L434.1 446.7L434.3 446.3L434.4 447L434.6 446.1L434.8 446.6L435 446.4L435.1 446.8L435.2 446.2L435.3 446.5L435.5 447L435.6 446.3L435.7 445.9L436 446.2L436.1 446.4L436.2 445.5L436.4 445.7L436.5 445.2L436.6 444.8L436.8 445L436.9 444.7L437 445.2L437.1 445.4L437.4 446.3L437.5 447L437.6 446.6L437.8 446.2L437.9 446.1L438 446.6L438.3 446.8L438.5 446.9L438.7 446.5L438.8 446.2L439.1 445.7L439.2 445.4L439.3 444.8L439.4 445.2L439.7 445.3L439.8 444.8L440 444.5L440.2 444.5L440.3 443.9L440.6 443.6L440.7 443.2L440.9 443.6L441 443.3L441.2 443L441.4 442.5L441.5 442.8L441.6 442.1L441.7 442.4L442 442.3L442.1 443L442.3 443.6L442.4 444.4L442.5 445.1L442.6 445.7L442.8 445.5L442.9 445.8L443 446.1L443.2 446.3L443.3 445.7L443.4 446.6L443.7 447L443.8 447.7L443.9 447.2L444.2 447.1L444.4 446.7L444.6 447L444.7 447.2L445 447.5L445.1 447.6L445.2 448.1L445.5 447.9L445.7 448L445.9 447.9L446 447.5L446.1 447.3L446.4 446.7L446.5 447L446.7 447.4L446.9 447L447 446.2L447.1 445.8L447.3 445.6L447.4 445.4L447.6 445L447.9 444.3L448 444L448.2 443.9L448.3 443.3L448.4 442.8L448.5 442.3L448.7 442.1L448.8 441.5L448.9 441.7L449.1 441.6L449.2 441.3L449.4 441.4L449.7 442.1L449.8 441.8L450.1 441.6L450.3 441.4L450.5 441.3L450.6 441.5L450.7 441.2L451 441.2L451.1 441.1L451.2 440.9L451.5 440.7L451.7 440.5L451.9 440.4L452.1 440.4L452.3 441L452.4 440.8L452.6 440.7L452.8 440.6L453 440.4L453.3 440.1L453.5 440.2L453.7 439.9L453.9 440.1L454.1 439.4L454.2 439.5L454.3 438.7L454.4 438.9L454.6 439.8L454.8 440.3L455.1 440.4L455.3 440.6L455.5 441L455.7 441L455.9 440.8L456.1 441.2L456.4 441L456.5 440.8L456.7 440.9L456.9 440.7L457.1 440.5L457.3 440.3L457.4 440.6L457.5 440.4L457.6 440.6L457.8 440.7L457.9 440.6L458.2 440.8L458.4 440.8L458.7 441.3L458.8 441.5L459.1 441.5L459.3 441.9L459.4 442.1L459.6 442.3L459.7 443.2L459.8 443.8L460 443.6L460.2 443.3L460.3 443.8L460.5 443.3L460.7 443.5L460.9 443.8L461 444.1L461.1 443.8L461.2 444.2L461.4 444.5L461.5 443.8L461.6 443.5L461.7 444.1L461.9 444.7L462 445.4L462.1 445L462.3 445.2L462.4 445.7L462.5 446L462.8 446L462.9 446.8L463.2 447.4L463.3 448.7L463.4 449.9L463.5 449.8L463.8 450.8L463.9 452.2L464.1 453.2L464.2 454.5L464.3 454.8L464.4 455.1L464.6 456.8L464.8 457.6L465 457.2L465.1 456.6L465.3 457L465.5 457.3L465.6 456.9L465.7 456.6L465.9 457.4L466 456.4L466.1 456.9L466.4 456.1L466.5 456.6L466.6 457L466.7 457.4L466.9 457.7L467 457.9L467.1 457.5L467.3 457.3L467.4 457.5L467.5 457.8L467.6 457L467.8 457.4L467.9 456.4L468 457L468.2 456.6L468.3 456.9L468.4 456.6L468.5 456.4L468.7 456.1L468.8 456L468.9 455.6L469.1 455.8L469.2 455.6L469.3 455.4L469.4 455.7L469.6 454.9L469.7 456L469.8 455.8L470 456.3L470.1 455.4L470.3 455.3L470.5 455.2L470.7 455.6L470.9 455.5L471 455.7L471.1 455.2L471.2 453.9L471.4 454.4L471.5 453.9L471.6 454.3L471.7 453.8L471.9 454.3L472 454L472.1 454.2L472.3 454.7L472.4 454.1L472.5 454.3L472.6 454.9L472.8 454.4L472.9 454.9L473 455.8L473.2 455.6L473.3 455.9L473.4 455.1L473.5 455.5L473.7 454.9L473.8 455.7L473.9 454.9L474.1 454.3L474.2 454.5L474.4 453.7L474.6 453.5L474.7 452.9L474.8 452.5L475 452.2L475.1 451.9L475.2 451.6L475.3 450.6L475.6 449.5L475.9 449.1L476 448.2L476.1 447.9L476.2 447.7L476.4 447.3L476.5 446.8L476.6 446.3L476.7 445.8L476.9 445.3L477 444.8L477.1 445L477.3 444.8L477.4 444.6L477.5 444.3L477.6 444.1L477.8 444.3L477.9 443.2L478 443L478.2 442.7L478.3 442.2L478.4 442L478.5 441.6L478.7 441.3L478.8 441.1L478.9 440.7L479.1 440.3L479.2 440.1L479.3 439.6L479.6 439.2L479.7 439.6L479.8 438.4L480 438L480.1 437.8L480.3 437.4L480.5 437.2L480.7 436.6L480.9 437L481 436.2L481.1 435.2L481.2 434.7L481.4 434.2L481.6 434.5L481.7 434.9L482 434.8L482.1 435.4L482.3 435.9L482.4 436.3L482.5 436.9L482.6 436.5L482.8 437.1L482.9 438.7L483 439.1L483.2 439.5L483.3 440.1L483.4 440.3L483.7 440.8L483.9 440.9L484.2 440.8L484.3 441.2L484.4 441.9L484.6 442.5L484.7 442.8L484.8 442.9L485 443.4L485.1 443.1L485.2 443.6L485.3 444L485.5 443.7L485.6 444.1L485.7 443.8L485.9 444.2L486.1 444.2L486.2 443.6L486.5 443.3L486.7 443L486.9 442.6L487 442.8L487.1 442L487.3 441.8L487.4 442.2L487.5 442.7L487.6 441.9L487.8 442L487.9 441.8L488.2 441.5L488.3 441.7L488.4 442.1L488.5 442.5L488.7 442.8L488.9 444.1L489.1 444.2L489.2 444.7L489.4 445.4L489.6 446L489.7 446.3L489.8 446.7L490 447.1L490.1 447.4L490.2 448.1L490.3 448.3L490.5 449.7L490.6 450.6" fill="none" stroke="#ff6a28" stroke-width="1.15" stroke-linejoin="round" />
<path d="M126.5 446.7L126.6 446.9L126.9 447.1L127.1 447.1L127.4 447L127.7 446.8L127.8 446.6L127.9 446.4L128 446.2L128.2 446L128.3 445.7L128.4 445.4L128.6 445.1L128.7 444.8L128.8 444.5L128.9 444.2L129.1 443.8L129.2 443.5L129.3 443.1L129.4 442.7L129.6 442.3L129.7 442L129.8 441.6L130 441.2L130.1 440.8L130.2 440.5L130.3 440.1L130.5 439.8L130.6 439.4L130.7 439.1L130.9 438.8L131 438.4L131.1 438L131.2 437.6L131.4 437.1L131.5 436.7L131.6 436.2L131.8 435.7L131.9 435.3L132 434.8L132.1 434.3L132.3 433.8L132.4 433.4L132.5 432.9L132.7 432.5L132.8 432.1L132.9 431.7L133 431.4L133.2 431.1L133.3 430.8L133.4 430.5L133.6 430.4L133.7 430.2L133.9 430.1L134.2 430.2L134.3 430.4L134.4 430.6L134.6 430.8L134.7 431.1L134.8 431.5L135 431.8L135.1 432.2L135.2 432.6L135.3 433.1L135.5 433.5L135.6 433.9L135.7 434.4L135.9 434.8L136 435.3L136.1 435.7L136.2 436.1L136.4 436.5L136.5 436.8L136.6 437.2L136.8 437.5L136.9 437.8L137 438.1L137.1 438.4L137.3 438.8L137.4 439.1L137.5 439.4L137.7 439.7L137.8 440L137.9 440.3L138 440.6L138.2 440.9L138.3 441.2L138.4 441.5L138.6 441.8L138.7 442L138.8 442.3L138.9 442.5L139.1 442.8L139.2 443L139.3 443.2L139.4 443.4L139.6 443.6L139.7 443.7L139.8 443.9L140 444.1L140.1 444.3L140.2 444.5L140.3 444.6L140.5 444.8L140.6 445L140.7 445.1L140.9 445.3L141 445.5L141.1 445.6L141.2 445.8L141.4 445.9L141.5 446.1L141.6 446.2L141.8 446.4L141.9 446.5L142 446.7L142.1 446.8L142.3 446.9L142.4 447.1L142.5 447.2L142.7 447.3L142.8 447.5L142.9 447.6L143 447.7L143.2 447.8L143.3 448L143.4 448.1L143.6 448.2L143.7 448.3L143.8 448.5L143.9 448.6L144.1 448.7L144.2 448.8L144.3 448.9L144.4 449L144.6 449.1L144.7 449.3L144.8 449.4L145.1 449.6L145.3 449.8L145.6 450L145.9 450.3L146.1 450.5L146.4 450.7L146.6 450.9L146.9 451.1L147.1 451.3L147.4 451.5L147.7 451.7L147.9 451.9L148.2 452L148.4 452.2L148.7 452.4L148.9 452.6L149.2 452.8L149.4 452.9L149.7 453.1L150 453.3L150.2 453.4L150.5 453.6L150.7 453.8L151 453.9L151.2 454.1L151.5 454.2L151.8 454.4L152 454.6L152.3 454.7L152.5 454.9L152.8 455.1L153 455.2L153.3 455.4L153.6 455.6L153.8 455.8L154.1 456L154.3 456.2L154.6 456.3L154.8 456.5L155.1 456.7L155.3 456.9L155.6 457L155.9 457.2L156.1 457.4L156.4 457.5L156.6 457.6L156.9 457.7L157.1 457.8L157.4 457.9L157.7 458L157.9 458L158.2 458.1L158.4 458.1L158.7 458.1L158.9 457.8L159.1 457.7L159.2 457.5L159.3 457.2L159.4 457L159.6 456.7L159.7 456.4L159.8 456L160 455.7L160.1 455.3L160.2 454.9L160.3 454.6L160.5 454.2L160.6 453.8L160.7 453.4L160.9 453L161 452.6L161.1 452.2L161.2 451.9L161.4 451.4L161.5 451L161.6 450.4L161.8 449.8L161.9 449.2L162 448.6L162.1 448L162.3 447.3L162.4 446.7L162.5 446L162.7 445.4L162.8 444.8L162.9 444.3L163 443.8L163.2 443.3L163.3 442.9L163.4 442.6L163.6 442.3L163.7 442.2L163.9 442.1L164.2 442.2L164.4 442.4L164.6 442.6L164.7 442.7L164.8 442.9L165 443.1L165.1 443.3L165.2 443.6L165.3 443.8L165.5 444.1L165.6 444.4L165.7 444.7L165.9 445L166 445.3L166.1 445.6L166.2 445.9L166.4 446.2L166.5 446.5L166.6 446.9L166.8 447.2L166.9 447.5L167 447.8L167.1 448.1L167.3 448.4L167.4 448.7L167.5 449L167.7 449.3L167.8 449.5L167.9 449.8L168 450L168.2 450.2L168.3 450.4L168.4 450.6L168.5 450.8L168.7 451.1L168.8 451.3L168.9 451.5L169.1 451.8L169.2 452L169.3 452.3L169.4 452.5L169.6 452.8L169.7 453L169.8 453.2L170 453.5L170.1 453.7L170.2 453.9L170.3 454.1L170.5 454.3L170.6 454.5L170.7 454.7L170.9 454.9L171 455.1L171.1 455.3L171.2 455.4L171.4 455.5L171.5 455.7L171.8 455.9L172 456L172.3 456.1L172.5 456.1L172.8 455.9L172.9 455.8L173 455.6L173.2 455.4L173.3 455.2L173.4 454.9L173.5 454.6L173.7 454.4L173.8 454L173.9 453.7L174.1 453.4L174.2 453L174.3 452.7L174.4 452.3L174.6 451.9L174.7 451.5L174.8 451.2L175 450.8L175.1 450.4L175.2 450.1L175.3 449.7L175.5 449.4L175.6 449.1L175.7 448.7L175.9 448.4L176 448L176.1 447.5L176.2 447.1L176.4 446.6L176.5 446.2L176.6 445.7L176.8 445.2L176.9 444.7L177 444.3L177.1 443.8L177.3 443.3L177.4 442.9L177.5 442.5L177.7 442.1L177.8 441.7L177.9 441.3L178 441L178.2 440.7L178.3 440.5L178.4 440.3L178.5 440.2L178.8 440.1L179.1 440.3L179.2 440.4L179.3 440.6L179.4 440.9L179.6 441.2L179.7 441.6L179.8 441.9L180 442.3L180.1 442.8L180.2 443.2L180.3 443.6L180.5 444.1L180.6 444.5L180.7 445L180.9 445.4L181 445.8L181.1 446.2L181.2 446.6L181.4 446.9L181.5 447.2L181.6 447.5L181.8 447.8L181.9 448.1L182 448.4L182.1 448.7L182.3 449.1L182.4 449.4L182.5 449.7L182.7 450L182.8 450.3L182.9 450.6L183 450.9L183.2 451.1L183.3 451.3L183.4 451.5L183.5 451.7L183.7 451.9L183.8 452L184.1 452.1L184.3 452L184.4 451.9L184.6 451.6L184.7 451.3L184.8 451L185 450.6L185.1 450.2L185.2 449.8L185.3 449.3L185.5 448.8L185.6 448.4L185.7 447.9L185.9 447.4L186 447L186.1 446.5L186.2 446.2L186.4 445.8L186.5 445.4L186.6 444.9L186.8 444.5L186.9 444L187 443.5L187.1 443L187.3 442.6L187.4 442.1L187.5 441.7L187.7 441.3L187.8 441L187.9 440.7L188 440.4L188.2 440.2L188.4 440.1L188.7 440.2L188.9 440.5L189.1 440.6L189.2 440.9L189.3 441.1L189.4 441.4L189.6 441.7L189.7 442L189.8 442.4L190 442.8L190.1 443.2L190.2 443.6L190.3 444L190.5 444.5L190.6 445L190.7 445.4L190.9 445.9L191 446.4L191.1 446.9L191.2 447.4L191.4 447.9L191.5 448.4L191.6 448.9L191.8 449.4L191.9 449.9L192 450.4L192.1 450.9L192.3 451.3L192.4 451.8L192.5 452.2L192.7 452.6L192.8 453L192.9 453.3L193 453.7L193.2 454L193.3 454.3L193.4 454.6L193.5 454.9L193.7 455.2L193.8 455.5L193.9 455.8L194.1 456.2L194.2 456.5L194.3 456.8L194.4 457.1L194.6 457.5L194.7 457.8L194.8 458.1L195 458.4L195.1 458.8L195.2 459.1L195.3 459.4L195.5 459.7L195.6 460L195.7 460.3L195.9 460.6L196 460.9L196.1 461.1L196.2 461.4L196.4 461.7L196.5 461.9L196.6 462.2L196.8 462.4L196.9 462.6L197 462.8L197.1 463L197.3 463.2L197.4 463.4L197.5 463.5L197.7 463.6L197.8 463.8L198 463.9L198.3 464.1L198.5 464.1L198.8 464L199.1 463.8L199.2 463.6L199.3 463.5L199.4 463.2L199.6 463L199.7 462.8L199.8 462.5L200 462.2L200.1 461.9L200.2 461.6L200.3 461.3L200.5 461L200.6 460.6L200.7 460.3L200.9 460L201 459.7L201.1 459.4L201.2 459.1L201.4 458.8L201.5 458.6L201.6 458.3L201.8 458.1L201.9 457.9L202 457.6L202.1 457.4L202.3 457.1L202.4 456.9L202.5 456.6L202.7 456.4L202.8 456.1L202.9 455.9L203 455.6L203.2 455.4L203.3 455.2L203.4 455L203.5 454.8L203.7 454.6L203.8 454.5L203.9 454.3L204.2 454.2L204.4 454.1L204.7 454.2L205 454.3L205.2 454.6L205.3 454.7L205.5 454.9L205.6 455L205.7 455.2L205.9 455.4L206 455.6L206.1 455.8L206.2 456.1L206.4 456.3L206.5 456.5L206.6 456.7L206.8 456.9L206.9 457.2L207 457.4L207.1 457.6L207.3 457.8L207.4 458L207.5 458.2L207.7 458.3L207.8 458.5L208 458.7L208.3 458.8L208.5 459L208.8 459.1L209.1 459.1L209.3 459.1L209.6 459L209.8 458.7L210 458.6L210.1 458.4L210.2 458.3L210.3 458.1L210.5 457.9L210.6 457.6L210.7 457.4L210.9 457.2L211 456.9L211.1 456.7L211.2 456.4L211.4 456.1L211.5 455.9L211.6 455.6L211.8 455.3L211.9 455.1L212 454.8L212.1 454.5L212.3 454.3L212.4 454.1L212.5 453.8L212.7 453.6L212.8 453.4L212.9 453.1L213 452.9L213.2 452.6L213.3 452.3L213.4 452L213.5 451.7L213.7 451.4L213.8 451.1L213.9 450.9L214.1 450.6L214.2 450.3L214.3 450.1L214.4 449.8L214.6 449.6L214.7 449.5L214.8 449.3L215 449.2L215.2 449.1L215.5 449.2L215.7 449.4L215.9 449.6L216 449.7L216.1 450L216.2 450.3L216.4 450.6L216.5 451.1L216.6 451.5L216.8 451.9L216.9 452.3L217 452.7L217.1 453.1L217.3 453.4L217.4 453.7L217.5 454L217.7 454.3L217.8 454.6L217.9 455L218 455.3L218.2 455.6L218.3 456L218.4 456.3L218.5 456.6L218.7 456.9L218.8 457.2L218.9 457.5L219.1 457.8L219.2 458L219.3 458.2L219.4 458.4L219.6 458.6L219.7 458.7L220 458.9L220.2 458.8L220.3 458.6L220.5 458.3L220.6 458L220.7 457.5L220.9 457L221 456.5L221.1 456L221.2 455.4L221.4 454.9L221.5 454.4L221.6 453.9L221.8 453.5L221.9 453.1L222 452.6L222.1 452.2L222.3 451.7L222.4 451.2L222.5 450.7L222.7 450.2L222.8 449.8L222.9 449.4L223 449.1L223.2 448.8L223.3 448.6L223.4 448.4L223.7 448.5L223.8 448.6L223.9 448.9L224.1 449.2L224.2 449.6L224.3 450L224.4 450.5L224.6 451L224.7 451.5L224.8 452L225 452.4L225.1 452.9L225.2 453.3L225.3 453.6L225.5 453.9L225.6 454.2L225.7 454.5L225.9 454.8L226 455.1L226.1 455.4L226.2 455.7L226.4 456L226.5 456.2L226.6 456.5L226.8 456.8L226.9 457L227 457.3L227.1 457.5L227.3 457.7L227.4 457.9L227.5 458L227.7 458.1L227.9 458.3L228.2 458.3L228.3 458.2L228.4 457.9L228.5 457.7L228.7 457.3L228.8 456.9L228.9 456.4L229.1 456L229.2 455.5L229.3 455L229.4 454.5L229.6 454.1L229.7 453.7L229.8 453.3L230 452.9L230.1 452.4L230.2 452L230.3 451.5L230.5 451L230.6 450.5L230.7 450.1L230.9 449.7L231 449.3L231.1 449L231.2 448.7L231.4 448.5L231.6 448.5L231.8 448.6L231.9 448.8L232 449.1L232.1 449.5L232.3 449.9L232.4 450.4L232.5 450.9L232.7 451.4L232.8 451.9L232.9 452.3L233 452.8L233.2 453.1L233.3 453.5L233.4 453.7L233.5 453.9L233.7 454.2L233.8 454.4L233.9 454.6L234.1 454.9L234.2 455.1L234.3 455.3L234.4 455.5L234.6 455.7L234.7 456L234.8 456.1L235 456.3L235.1 456.5L235.2 456.7L235.3 456.8L235.5 456.9L235.6 457.1L235.9 457.3L236.1 457.4L236.4 457.4L236.6 457.3L236.8 457.1L236.9 456.9L237 456.7L237.1 456.4L237.3 456.1L237.4 455.8L237.5 455.5L237.7 455.2L237.8 454.8L237.9 454.5L238 454.2L238.2 453.9L238.3 453.6L238.4 453.3L238.5 452.9L238.7 452.5L238.8 452.1L238.9 451.7L239.1 451.3L239.2 450.9L239.3 450.5L239.4 450.2L239.6 449.9L239.7 449.6L239.8 449.4L240 449.3L240.2 449.3L240.3 449.4L240.5 449.6L240.6 449.9L240.7 450.2L240.9 450.6L241 451L241.1 451.4L241.2 451.8L241.4 452.2L241.5 452.6L241.6 453L241.8 453.3L241.9 453.6L242 453.8L242.1 454L242.3 454.2L242.4 454.4L242.5 454.6L242.7 454.9L242.8 455.1L242.9 455.3L243 455.5L243.2 455.7L243.3 455.9L243.4 456.1L243.5 456.3L243.7 456.4L243.8 456.6L243.9 456.7L244.1 456.9L244.2 457L244.3 457.1L244.6 457.3L244.8 457.5L245.1 457.5L245.3 457.5L245.6 457.2L245.7 457.1L245.9 456.9L246 456.7L246.1 456.4L246.2 456.1L246.4 455.8L246.5 455.5L246.6 455.2L246.8 454.9L246.9 454.6L247 454.3L247.1 454L247.3 453.8L247.4 453.5L247.5 453.2L247.7 452.9L247.8 452.6L247.9 452.3L248 451.9L248.2 451.6L248.3 451.2L248.4 450.9L248.5 450.6L248.7 450.4L248.8 450.1L248.9 450L249.2 449.9L249.4 450L249.6 450.2L249.7 450.4L249.8 450.7L250 451L250.1 451.3L250.2 451.7L250.3 452L250.5 452.4L250.6 452.7L250.7 453L250.9 453.3L251 453.6L251.1 453.9L251.2 454.1L251.4 454.4L251.5 454.7L251.6 455L251.8 455.3L251.9 455.6L252 455.9L252.1 456.2L252.3 456.5L252.4 456.8L252.5 457.1L252.7 457.3L252.8 457.6L252.9 457.8L253 458L253.2 458.1L253.3 458.3L253.5 458.4L253.8 458.4L253.9 458.3L254.1 458.1L254.2 457.7L254.3 457.3L254.4 456.9L254.6 456.4L254.7 455.9L254.8 455.4L255 454.9L255.1 454.4L255.2 454L255.3 453.7L255.5 453.3L255.6 453L255.7 452.6L255.9 452.2L256 451.9L256.1 451.5L256.2 451.1L256.4 450.8L256.5 450.5L256.6 450.2L256.8 450L256.9 449.8L257 449.7L257.3 449.7L257.5 449.9L257.7 450.1L257.8 450.4L257.9 450.7L258 451L258.2 451.4L258.3 451.7L258.4 452.1L258.5 452.5L258.7 452.8L258.8 453.2L258.9 453.5L259.1 453.7L259.2 454L259.3 454.3L259.4 454.6L259.6 455L259.7 455.3L259.8 455.6L260 455.9L260.1 456.3L260.2 456.6L260.3 456.9L260.5 457.2L260.6 457.5L260.7 457.8L260.9 458L261 458.2L261.1 458.4L261.2 458.6L261.4 458.7L261.6 458.9L261.9 458.8L262 458.6L262.1 458.3L262.3 457.9L262.4 457.4L262.5 456.9L262.7 456.4L262.8 455.9L262.9 455.3L263 454.8L263.2 454.3L263.3 453.9L263.4 453.5L263.5 453.1L263.7 452.6L263.8 452.2L263.9 451.8L264.1 451.3L264.2 450.9L264.3 450.5L264.4 450.1L264.6 449.7L264.7 449.4L264.8 449.2L265 449L265.2 448.9L265.5 449.1L265.6 449.3L265.7 449.6L265.9 450L266 450.4L266.1 450.8L266.2 451.2L266.4 451.7L266.5 452.1L266.6 452.6L266.8 453L266.9 453.3L267 453.6L267.1 453.9L267.3 454.2L267.4 454.5L267.5 454.8L267.7 455.1L267.8 455.4L267.9 455.7L268 456L268.2 456.3L268.3 456.6L268.4 456.8L268.5 457.1L268.7 457.3L268.8 457.5L268.9 457.7L269.1 457.9L269.2 458L269.4 458.1L269.7 458.1L269.8 457.9L270 457.6L270.1 457.2L270.2 456.8L270.3 456.3L270.5 455.8L270.6 455.3L270.7 454.8L270.9 454.3L271 453.8L271.1 453.5L271.2 453L271.4 452.6L271.5 452.1L271.6 451.6L271.8 451.1L271.9 450.6L272 450.1L272.1 449.7L272.3 449.3L272.4 449L272.5 448.7L272.7 448.5L272.8 448.3L273 448.4L273.2 448.6L273.3 448.9L273.4 449.2L273.5 449.7L273.7 450.1L273.8 450.6L273.9 451.1L274.1 451.6L274.2 452.1L274.3 452.6L274.4 453L274.6 453.3L274.7 453.6L274.8 453.8L275 454.1L275.1 454.3L275.2 454.5L275.3 454.8L275.5 455L275.6 455.2L275.7 455.4L275.9 455.6L276 455.8L276.1 456L276.2 456.2L276.4 456.4L276.5 456.6L276.6 456.7L276.8 456.8L276.9 457L277.1 457.2L277.4 457.3L277.7 457.3L277.9 457.3L278 457.1L278.2 457L278.3 456.8L278.4 456.5L278.5 456.2L278.7 455.9L278.8 455.6L278.9 455.3L279.1 455L279.2 454.6L279.3 454.3L279.4 454L279.6 453.7L279.7 453.4L279.8 453L280 452.6L280.1 452.2L280.2 451.7L280.3 451.2L280.5 450.8L280.6 450.3L280.7 449.9L280.9 449.5L281 449.2L281.1 448.9L281.2 448.7L281.5 448.7L281.6 448.8L281.8 449L281.9 449.2L282 449.6L282.1 450L282.3 450.4L282.4 450.9L282.5 451.4L282.7 451.8L282.8 452.3L282.9 452.7L283 453.1L283.2 453.4L283.3 453.7L283.4 454L283.5 454.2L283.7 454.5L283.8 454.8L283.9 455.1L284.1 455.3L284.2 455.6L284.3 455.8L284.4 456.1L284.6 456.3L284.7 456.6L284.8 456.8L285 457L285.1 457.1L285.2 457.3L285.3 457.4L285.6 457.6L285.9 457.7L286.1 457.4L286.2 457.2L286.4 456.9L286.5 456.5L286.6 456.1L286.8 455.7L286.9 455.2L287 454.8L287.1 454.4L287.3 454L287.4 453.6L287.5 453.3L287.7 452.9L287.8 452.6L287.9 452.2L288 451.8L288.2 451.4L288.3 451L288.4 450.7L288.5 450.4L288.7 450.1L288.8 449.8L288.9 449.6L289.1 449.5L289.3 449.5L289.6 449.8L289.7 450L289.8 450.3L290 450.6L290.1 451L290.2 451.3L290.3 451.7L290.5 452.1L290.6 452.5L290.7 452.9L290.9 453.2L291 453.5L291.1 453.8L291.2 454L291.4 454.3L291.5 454.6L291.6 454.9L291.8 455.2L291.9 455.5L292 455.8L292.1 456.1L292.3 456.4L292.4 456.7L292.5 456.9L292.7 457.2L292.8 457.4L292.9 457.7L293 457.9L293.2 458.1L293.3 458.2L293.4 458.4L293.7 458.6L293.9 458.6L294.2 458.4L294.3 458.2L294.4 457.9L294.6 457.5L294.7 457.1L294.8 456.6L295 456.2L295.1 455.7L295.2 455.2L295.3 454.8L295.5 454.3L295.6 454L295.7 453.6L295.9 453.3L296 453L296.1 452.6L296.2 452.3L296.4 451.9L296.5 451.6L296.6 451.3L296.8 451L296.9 450.7L297 450.4L297.1 450.2L297.3 450.1L297.5 449.9L297.8 450L297.9 450.2L298 450.4L298.2 450.6L298.3 450.9L298.4 451.2L298.5 451.6L298.7 451.9L298.8 452.3L298.9 452.6L299.1 452.9L299.2 453.2L299.3 453.5L299.4 453.7L299.6 454L299.7 454.2L299.8 454.5L300 454.8L300.1 455L300.2 455.3L300.3 455.6L300.5 455.9L300.6 456.1L300.7 456.4L300.9 456.7L301 456.9L301.1 457.2L301.2 457.4L301.4 457.6L301.5 457.8L301.6 458L301.8 458.2L301.9 458.4L302 458.5L302.1 458.6L302.4 458.8L302.7 458.8L302.9 458.7L303 458.5L303.2 458.3L303.3 458L303.4 457.7L303.5 457.3L303.7 457L303.8 456.6L303.9 456.2L304.1 455.8L304.2 455.4L304.3 455L304.4 454.6L304.6 454.2L304.7 453.9L304.8 453.6L305 453.2L305.1 452.9L305.2 452.5L305.3 452.1L305.5 451.7L305.6 451.4L305.7 451L305.9 450.6L306 450.3L306.1 450L306.2 449.8L306.4 449.6L306.5 449.5L306.8 449.5L306.9 449.6L307 449.8L307.1 450.1L307.3 450.4L307.4 450.7L307.5 451.1L307.6 451.5L307.8 451.9L307.9 452.3L308 452.7L308.2 453L308.3 453.3L308.4 453.6L308.5 453.8L308.7 454L308.8 454.2L308.9 454.4L309.1 454.7L309.2 454.9L309.3 455.1L309.4 455.3L309.6 455.5L309.7 455.7L309.8 455.9L310 456.1L310.1 456.3L310.2 456.5L310.3 456.7L310.5 456.9L310.6 457L310.7 457.2L310.9 457.3L311 457.5L311.1 457.6L311.4 457.8L311.6 457.9L311.9 458L312.1 457.9L312.4 457.8L312.5 457.6L312.6 457.4L312.8 457.2L312.9 457L313 456.8L313.2 456.5L313.3 456.2L313.4 456L313.5 455.7L313.7 455.4L313.8 455.1L313.9 454.7L314.1 454.4L314.2 454.1L314.3 453.8L314.4 453.6L314.6 453.2L314.7 452.9L314.8 452.4L315 452L315.1 451.5L315.2 451L315.3 450.6L315.5 450.1L315.6 449.7L315.7 449.4L315.9 449.1L316 448.8L316.1 448.7L316.4 448.7L316.5 448.8L316.6 449.1L316.8 449.4L316.9 449.8L317 450.3L317.1 450.7L317.3 451.2L317.4 451.7L317.5 452.1L317.6 452.6L317.8 453L317.9 453.3L318 453.6L318.2 453.8L318.3 454L318.4 454.2L318.5 454.4L318.7 454.6L318.8 454.8L318.9 455L319.1 455.3L319.2 455.5L319.3 455.7L319.4 455.9L319.6 456.1L319.7 456.3L319.8 456.5L320 456.6L320.1 456.8L320.2 456.9L320.3 457L320.6 457.2L320.9 457.3L321.1 457.3L321.4 457.1L321.5 457L321.6 456.8L321.8 456.5L321.9 456.3L322 456L322.1 455.7L322.3 455.4L322.4 455.1L322.5 454.8L322.6 454.4L322.8 454.1L322.9 453.8L323 453.4L323.2 453L323.3 452.4L323.4 451.8L323.5 451.1L323.7 450.5L323.8 449.8L323.9 449.3L324.1 448.8L324.2 448.5L324.3 448.3L324.6 448.6L324.7 448.9L324.8 449.4L325 449.9L325.1 450.6L325.2 451.2L325.3 451.9L325.5 452.5L325.6 453L325.7 453.5L325.9 453.9L326 454.2L326.1 454.6L326.2 454.9L326.4 455.2L326.5 455.5L326.6 455.8L326.8 456.1L326.9 456.4L327 456.6L327.1 456.9L327.3 457.1L327.4 457.3L327.5 457.6L327.6 457.8L327.8 458L327.9 458.2L328 458.5L328.2 458.7L328.3 458.9L328.4 459.1L328.5 459.4L328.7 459.6L328.8 459.8L328.9 460L329.1 460.3L329.2 460.5L329.3 460.7L329.4 460.8L329.6 461L329.7 461.2L329.8 461.4L330 461.5L330.1 461.6L330.2 461.8L330.5 461.9L330.7 462.1L331 462.1L331.2 462.1L331.5 462L331.8 461.8L332 461.6L332.1 461.5L332.3 461.4L332.4 461.2L332.5 461.1L332.6 460.9L332.8 460.7L332.9 460.5L333 460.3L333.2 460.2L333.3 459.9L333.4 459.7L333.5 459.5L333.7 459.3L333.8 459.1L333.9 458.9L334.1 458.7L334.2 458.4L334.3 458.2L334.4 457.9L334.6 457.6L334.7 457.4L334.8 457.3L335 457L335.1 456.6L335.2 456.4L335.3 456.1L335.5 455.7L335.6 455.4L335.7 455.1L335.9 454.9L336 454.6L336.1 454.3L336.2 454.1L336.4 453.7L336.5 453.3L336.6 452.8L336.8 452.4L336.9 452.3L337 451.8L337.1 451.5L337.3 451L337.4 450.8L337.5 450.7L337.6 450.3L337.8 449.9L337.9 449.6L338 449.3L338.2 449.1L338.3 448.8L338.4 448.4L338.5 447.9L338.7 447.3L338.8 447L338.9 446.6L339.1 446.3L339.2 445.8L339.3 445.3L339.4 444.8L339.7 444.5L340 444.2L340.2 444.5L340.3 444.7L340.6 445L340.9 445.3L341 445.7L341.1 446L341.2 446.2L341.4 446.6L341.5 447.1L341.6 447.2L341.8 447.5L342 447.7L342.1 447.8L342.3 448.1L342.5 448.2L342.6 448.4L342.8 448.2L342.9 448.3L343 448.6L343.3 448.6L343.5 448.7L343.8 448.6L344.1 448.4L344.3 448.5L344.4 448.2L344.6 447.8L344.7 447.7L344.8 447.5L345 447.2L345.1 447L345.2 446.8L345.3 446.5L345.5 446.4L345.6 446L345.9 445.7L346 445.3L346.1 445.2L346.2 445L346.5 444.8L346.6 444.5L346.9 444.1L347 444L347.1 443.8L347.3 443.7L347.5 443.4L347.8 443.5L348 443.3L348.2 443.5L348.4 443.8L348.7 443.9L348.9 444.1L349.1 444.4L349.2 444.7L349.3 444.8L349.6 445.1L349.8 445.7L350 445.8L350.1 446.3L350.3 446.3L350.5 446.6L350.6 446.8L350.9 446.7L351 447L351.1 447.3L351.2 447.4L351.4 447.7L351.5 447.9L351.8 447.9L352 448.2L352.1 448.5L352.4 448.6L352.5 448.9L352.6 449.3L352.8 449L353 449.1L353.3 449.3L353.5 449.3L353.7 449.4L353.8 449.5L354.1 449.7L354.2 449.9L354.4 449.7L354.6 450L354.7 450.3L354.8 450.6L355.1 450.5L355.2 450.8L355.5 450.8L355.6 451L355.7 451.4L355.9 451.6L356 451.7L356.1 451.9L356.4 451.9L356.6 452L356.8 451.8L356.9 452L357.1 452.3L357.3 452.5L357.5 452.2L357.6 452L357.8 451.8L358 451.8L358.2 452L358.3 452.2L358.5 452.6L358.7 452.8L358.9 452.8L359.2 453.1L359.3 453.2L359.6 453.7L359.7 454L359.8 454.2L360 454.4L360.2 454.5L360.5 454.7L360.7 454.9L361 454.7L361.2 455L361.4 454.8L361.6 454.7L361.8 454.6L362 454.7L362.1 454.5L362.4 454.7L362.5 454.5L362.8 454.5L362.9 454.4L363.2 454.5L363.4 454.5L363.7 454.4L363.8 454.5L364.1 454.6L364.2 454.5L364.4 454.6L364.7 454.6L365 454.4L365.1 454L365.2 453.7L365.5 453.3L365.6 452.9L365.7 452.6L366 452.3L366.1 452.1L366.2 451.5L366.4 451.4L366.5 451L366.6 450.8L366.8 450.5L367 450.4L367.1 450L367.3 449.8L367.4 449.6L367.5 449.3L367.6 449L367.8 448.8L367.9 448.6L368.2 447.9L368.4 447.7L368.5 447.5L368.7 446.9L368.8 446.5L368.9 446.1L369.1 445.6L369.2 445.4L369.3 445L369.4 444.9L369.6 444.5L369.7 444L369.8 443.8L370.1 443.5L370.2 443L370.3 442.6L370.5 442.2L370.6 441.9L370.9 442.2L371 441.9L371.1 441.7L371.2 441.5L371.5 441.6L371.6 441.4L371.8 441.3L371.9 441.1L372.1 441.4L372.3 441.7L372.5 441.9L372.8 442.1L372.9 442.2L373.2 442.4L373.3 442.6L373.4 442.7L373.5 443L373.7 443.3L373.8 443.6L373.9 443.8L374.1 444L374.2 444.4L374.3 444.6L374.6 445.2L374.7 445.5L375 445.7L375.1 445.9L375.2 446.1L375.5 446.5L375.6 446.7L375.7 446.9L375.9 447.3L376 447.6L376.1 447.8L376.2 448.3L376.4 448.1L376.5 448.4L376.6 449.1L376.8 449.3L376.9 449.6L377 449.8L377.1 450L377.3 450.3L377.4 450.8L377.5 451L377.6 451.1L377.9 451.4L378.2 451.8L378.3 451.9L378.5 452L378.7 452.2L378.9 452.3L379.2 451.9L379.4 451.9L379.7 451.5L379.8 451.3L380.1 451.1L380.3 450.9L380.5 450.6L380.7 450.5L381 450.1L381.1 450L381.4 450.1L381.6 449.9L381.8 449.8L381.9 449.6L382 449.3L382.1 449.2L382.3 449.1L382.5 448.9L382.6 448.8L382.8 449L382.9 448.9L383.2 448.7L383.3 448.8L383.4 449L383.5 449.1L383.8 449.3L383.9 449.5L384.2 449.8L384.3 450.1L384.4 450.5L384.7 450.6L385 450.7L385.1 450.8L385.3 450.8L385.5 451L385.6 451.2L385.9 451.6L386 451.5L386.2 451.2L386.4 451.3L386.6 451.5L386.8 451.7L387 451.8L387.3 451.8L387.4 451.7L387.6 451.9L387.8 451.8L387.9 451.9L388.2 451.8L388.3 451.9L388.4 451.5L388.7 451.6L388.9 451.4L389.2 451.5L389.3 451.3L389.6 451.3L389.7 451L390 451.2L390.2 451.4L390.3 451.2L390.6 451.2L390.7 451.5L390.9 451.6L391 451.3L391.2 451.1L391.5 451.3L391.8 451.4L392 451.5L392.3 451.7L392.5 451.5L392.6 451.4L392.8 451.7L392.9 451.9L393.2 451.9L393.4 452L393.7 452L393.8 452.2L394.1 452.1L394.2 452.4L394.4 452.6L394.7 452.6L394.8 452.7L395.1 452.6L395.2 452.5L395.3 452.3L395.6 452.1L395.9 452.2L396 451.9L396.2 451.7L396.4 451.5L396.5 451.4L396.8 451.4L397 451.5L397.3 451.4L397.5 451.2L397.6 451.1L397.9 451.2L398.2 451.2L398.3 451L398.4 450.8L398.7 450.4L398.8 450.1L399.1 450L399.2 449.7L399.3 449.5L399.4 449.3L399.6 449L399.7 448.5L399.8 448.4L400 448.3L400.1 447.9L400.2 447.8L400.3 447.4L400.5 447.2L400.6 447L400.7 446.9L400.9 446.5L401.1 446.3L401.2 446L401.4 445.9L401.6 445.6L401.8 445.2L401.9 445L402 444.7L402.1 444.4L402.4 444.1L402.5 443.8L402.6 443.5L402.8 443.3L402.9 443L403 442.4L403.2 442.3L403.3 441.8L403.5 441.4L403.7 441.1L403.8 440.7L403.9 440.6L404.2 440.3L404.3 440L404.6 439.5L404.7 439.3L405 438.9L405.2 438.7L405.3 438.5L405.5 438.8L405.7 438.5L405.9 438.4L406 438.2L406.2 438.2L406.5 438.4L406.8 438.7L407 438.9L407.1 439.2L407.4 439.6L407.5 439.9L407.6 440.2L407.8 440.4L407.9 440.8L408 441.2L408.2 441.5L408.3 441.8L408.4 442.3L408.5 442.6L408.7 442.9L408.8 443.2L408.9 443.4L409.1 443.6L409.2 443.9L409.3 444L409.6 444.3L409.8 444.4L410.1 444.6L410.3 444.8L410.6 445L410.9 445.2L411.1 445.3L411.4 445.4L411.5 445.5L411.6 445.7L411.9 445.9L412.1 446.2L412.4 446.1L412.5 445.9L412.8 446.1L413 446.5L413.3 446.4L413.4 446.1L413.7 446.1L413.9 445.8L414.1 445.3L414.3 445.5L414.4 445.7L414.7 445.2L414.8 445L415.1 445.2L415.2 444.9L415.5 444.7L415.6 444.8L415.7 445.2L415.9 445.6L416 446.2L416.1 446.7L416.2 446.5L416.5 446.9L416.6 447.6L416.8 447.8L416.9 448.3L417 449.1L417.3 449.2L417.4 449.5L417.5 450.1L417.6 450.8L417.9 451.3L418.2 451.5L418.3 452.1L418.4 451.9L418.5 451.6L418.7 451L418.9 451.2L419.1 451.4L419.2 451.5L419.4 451.2L419.6 451.5L419.8 452.6L420 453.1L420.1 452.9L420.2 453.2L420.3 454.3L420.5 455.2L420.6 454.7L420.7 454.9L420.9 455.6L421 455.4L421.1 455.2L421.2 455.7L421.4 456.1L421.6 455.9L421.8 455.6L421.9 456.2L422 455.8L422.1 455.7L422.3 456.1L422.4 456.3L422.5 456.5L422.6 456.3L422.8 456.5L422.9 456.3L423 456.1L423.2 455.3L423.3 455.2L423.4 455.6L423.5 456.2L423.7 455.7L423.8 456.2L423.9 455.9L424.1 455.3L424.2 456L424.4 456.3L424.7 456.6L425 456.4L425.1 456.7L425.2 456.3L425.3 455.3L425.5 455L425.6 454.5L425.7 455.1L425.9 455.2L426 454.7L426.1 454.4L426.2 453.4L426.4 453L426.5 452.7L426.6 453.1L426.8 453.6L426.9 453.3L427 453.2L427.1 453.6L427.4 453.5L427.5 452.5L427.8 452.4L427.9 452.1L428.2 452.1L428.4 451.8L428.5 451.3L428.7 451L428.9 450.8L429.2 450.7L429.3 451.1L429.4 450.5L429.7 450L430 449.9L430.1 450.1L430.2 449.1L430.3 449L430.5 448.9L430.6 448.7L430.7 448.6L430.9 448.3L431.1 448L431.2 447.9L431.4 447.6L431.5 448.3L431.8 448.3L431.9 447.8L432 448.6L432.3 449.1L432.4 448.9L432.5 449.2L432.6 449.3L432.8 450.1L432.9 449.9L433.2 449.9L433.3 449.3L433.4 449.8L433.5 449.3L433.7 449.1L433.8 449.2L433.9 449.5L434.1 449.2L434.3 448.8L434.4 449.5L434.6 448.6L434.8 449.1L435 448.9L435.1 449.3L435.2 448.7L435.3 449L435.5 449.5L435.6 448.8L435.7 448.4L436 448.7L436.1 448.9L436.2 448L436.4 448.2L436.5 447.7L436.6 447.3L436.8 447.5L436.9 447.2L437 447.7L437.1 447.9L437.4 448.8L437.5 449.5L437.6 449.1L437.8 448.7L437.9 448.6L438 449.1L438.3 449.3L438.5 449.4L438.7 449L438.8 448.7L439.1 448.2L439.2 447.9L439.3 447.3L439.4 447.7L439.7 447.8L439.8 447.3L440 447L440.2 447L440.3 446.4L440.6 446.1L440.7 445.7L440.9 446.1L441 445.8L441.2 445.5L441.4 445L441.5 445.3L441.6 444.6L441.7 444.9L442 444.8L442.1 445.5L442.3 446.1L442.4 446.9L442.5 447.6L442.6 448.2L442.8 448L442.9 448.3L443 448.6L443.2 448.8L443.3 448.2L443.4 449.1L443.7 449.5L443.8 450.2L443.9 449.7L444.2 449.6L444.4 449.2L444.6 449.5L444.7 449.7L445 450L445.1 450.1L445.2 450.6L445.5 450.4L445.7 450.5L445.9 450.4L446 450L446.1 449.8L446.4 449.2L446.5 449.5L446.7 449.9L446.9 449.5L447 448.7L447.1 448.3L447.3 448.1L447.4 447.9L447.6 447.5L447.9 446.8L448 446.5L448.2 446.4L448.3 445.8L448.4 445.3L448.5 444.8L448.7 444.6L448.8 443.9L448.9 444.2L449.1 444L449.2 443.6L449.4 443.8L449.7 444.6L449.8 444.3L450.1 444.1L450.2 443.9L450.3 443.7L450.5 443.4L450.6 443.9L450.7 443.2L451 443.3L451.1 443L451.2 442.8L451.5 442.3L451.7 441.9L451.9 441.7L452.1 441.6L452.3 442.8L452.4 442.5L452.5 442.7L452.6 442.4L452.8 442.1L453 441.7L453.2 441.5L453.3 441.1L453.4 441.2L453.7 441L453.9 441.1L454.1 440.5L454.2 440.6L454.3 439.8L454.4 440L454.6 440.9L454.8 441.5L455.1 441.7L455.2 441.8L455.3 442.1L455.5 443L455.6 442.8L455.9 442.5L456 442.4L456.1 443.4L456.4 442.9L456.5 442.6L456.7 442.6L456.9 442.2L457 442.1L457.1 442L457.3 441.6L457.4 442L457.5 441.7L457.6 442L457.8 442.4L457.9 442.1L458 441.9L458.2 442.5L458.3 442.7L458.4 442.6L458.7 443.5L458.8 443.8L459.1 444L459.3 444.4L459.4 444.6L459.6 444.8L459.7 445.7L459.8 446.3L460 446.1L460.2 445.8L460.3 446.3L460.5 445.8L460.7 446L460.9 446.3L461 446.6L461.1 446.3L461.2 446.7L461.4 447L461.5 446.3L461.6 446L461.7 446.6L461.9 447.2L462 447.9L462.1 447.5L462.3 447.7L462.4 448.2L462.5 448.5L462.8 448.5L462.9 449.3L463.2 449.9L463.3 451.2L463.4 452.4L463.5 452.2L463.8 453.2L463.9 454.4L464.1 455.3L464.2 456.4L464.3 456.7L464.4 456.9L464.6 458.3L464.8 458.9L465 458.6L465.1 458.1L465.3 458.4L465.5 458.7L465.6 458.3L465.7 458.1L465.9 458.7L466 457.9L466.1 458.3L466.4 457.7L466.5 458.1L466.6 458.4L466.7 458.7L466.9 459L467 459.2L467.1 458.8L467.3 458.6L467.4 458.8L467.5 459.1L467.6 458.4L467.8 458.7L467.9 457.9L468 458.4L468.2 458.1L468.3 458.3L468.4 458.1L468.5 458L468.7 457.7L468.8 457.6L468.9 457.3L469.1 457.5L469.2 457.3L469.3 457.1L469.4 457.4L469.6 456.7L469.7 457.6L469.8 457.5L470 457.9L470.1 457.1L470.3 457.1L470.6 456.9L470.7 457.3L471 457.4L471.1 457L471.2 456L471.4 456.3L471.5 455.9L471.6 456.2L471.7 455.9L471.9 456.3L472 456L472.1 456.2L472.3 456.6L472.4 456.1L472.5 456.3L472.6 456.7L472.8 456.3L472.9 456.7L473 457.5L473.2 457.3L473.3 457.5L473.4 456.9L473.5 457.3L473.7 456.7L473.8 457.3L473.9 456.8L474.1 456.2L474.2 456.4L474.4 455.7L474.6 455.5L474.7 455.1L474.8 454.6L475 454.4L475.1 454.1L475.2 453.9L475.3 452.9L475.6 452L475.9 451.6L476 450.7L476.1 450.4L476.2 450.2L476.4 449.8L476.5 449.3L476.6 448.8L476.7 448.3L476.9 447.8L477 447.3L477.1 447.5L477.3 447.3L477.4 447.1L477.5 446.8L477.6 446.6L477.8 446.8L477.9 445.7L478 445.5L478.2 445.2L478.3 444.7L478.4 444.5L478.5 444L478.7 443.5L478.8 443.2L478.9 442.4L479.1 441.5L479.2 441.2L479.3 440.7L479.6 440.3L479.7 440.6L479.8 439.7L480 439.3L480.1 439.1L480.3 438.8L480.5 438.6L480.7 438.1L480.9 438.4L481 437.7L481.1 436.8L481.2 436.4L481.4 436L481.6 436.3L481.7 436.6L482 436.5L482.1 437L482.3 437.4L482.4 437.8L482.5 438.4L482.6 438L482.8 438.5L482.9 439.9L483 440.2L483.2 440.6L483.3 441.2L483.4 441.4L483.5 441.2L483.7 442.5L483.9 442.8L484.1 442.9L484.2 442.6L484.3 443.3L484.4 444.4L484.6 445L484.7 445.3L484.8 445.4L485 445.9L485.1 445.6L485.2 446.1L485.3 446.5L485.5 446.2L485.6 446.6L485.7 446.3L485.9 446.7L486.1 446.7L486.2 446.1L486.5 445.8L486.7 445.5L486.9 445.1L487 445.3L487.1 444.5L487.3 444.3L487.4 444.7L487.5 445.2L487.6 444.4L487.8 444.5L487.9 444.3L488.2 444L488.3 444.2L488.4 444.6L488.5 445L488.7 445.3L488.9 446.6L489.1 446.7L489.2 447.2L489.4 447.9L489.6 448.5L489.7 448.8L489.8 449.2L490 449.6L490.1 449.9L490.2 450.6L490.3 450.8L490.5 452.1L490.6 453" fill="none" stroke="#078a8c" stroke-width="1.15" stroke-linejoin="round" />
</g>
<rect x="127.1" y="416.8" width="364.5" height="53.19999999999999" fill="none" stroke="#505050" stroke-width="1.0"/>
<path d="M135.00 470.0v-3.4M135.00 416.8v3.4M188.40 470.0v-3.4M188.40 416.8v3.4M241.80 470.0v-3.4M241.80 416.8v3.4M295.20 470.0v-3.4M295.20 416.8v3.4M348.60 470.0v-3.4M348.60 416.8v3.4M402.00 470.0v-3.4M402.00 416.8v3.4M455.40 470.0v-3.4M455.40 416.8v3.4M127.1 457.10h3.4M491.6 457.10h-3.4M127.1 437.10h3.4M491.6 437.10h-3.4" stroke="#505050" stroke-width="0.8" fill="none"/>
<text x="135.00" y="476.80" text-anchor="middle" class="sm">15</text>
<text x="188.40" y="476.80" text-anchor="middle" class="sm">20</text>
<text x="241.80" y="476.80" text-anchor="middle" class="sm">25</text>
<text x="295.20" y="476.80" text-anchor="middle" class="sm">30</text>
<text x="348.60" y="476.80" text-anchor="middle" class="sm">35</text>
<text x="402.00" y="476.80" text-anchor="middle" class="sm">40</text>
<text x="455.40" y="476.80" text-anchor="middle" class="sm">45</text>
<text x="125.90" y="419.30" text-anchor="end" class="sm">0.2</text>
<text x="125.90" y="439.30" text-anchor="end" class="sm">0</text>
<text x="125.90" y="459.30" text-anchor="end" class="sm">−0.2</text>
<path d="M180.32 397.61L131.27 415.15" stroke="#000" stroke-width="0.65" stroke-dasharray="1.7 0.9" fill="none"/>
<polygon points="127.50,416.50 131.62,412.58 133.17,416.91" fill="#000"/>
<circle cx="180.32" cy="397.61" r="1.3" fill="#000"/>
<path d="M506.63 397.61L493.93 413.11" stroke="#000" stroke-width="0.65"  fill="none"/>
<polygon points="491.40,416.20 492.92,410.72 496.47,413.63" fill="#000"/>
<circle cx="506.63" cy="397.61" r="1.3" fill="#000"/>
<text x="265.9" y="540.5" class="cap" text-anchor="middle">(<tspan class="capb">b</tspan>)</text>
</svg>
</body></html>
